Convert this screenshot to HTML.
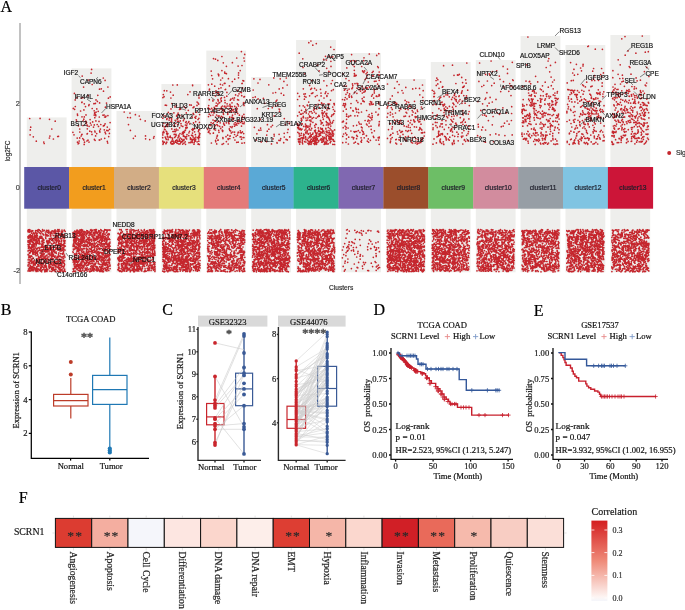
<!DOCTYPE html>
<html><head><meta charset="utf-8"><title>SCRN1 figure</title>
<style>html,body{margin:0;padding:0;background:#fff;}svg{display:block;}</style></head>
<body><svg width="685" height="610" viewBox="0 0 685 610">
<rect width="685" height="610" fill="#fff"/>
<rect x="26.8" y="117.4" width="39.8" height="154.9" fill="#eeeeec"/>
<rect x="71.6" y="68.4" width="39.8" height="203.9" fill="#eeeeec"/>
<rect x="116.5" y="111" width="39.8" height="161.3" fill="#eeeeec"/>
<rect x="161.4" y="84" width="39.8" height="188.3" fill="#eeeeec"/>
<rect x="206.3" y="50.6" width="39.8" height="221.7" fill="#eeeeec"/>
<rect x="251.2" y="77" width="39.8" height="195.3" fill="#eeeeec"/>
<rect x="296.1" y="40" width="39.8" height="232.3" fill="#eeeeec"/>
<rect x="341.1" y="53" width="39.8" height="219.3" fill="#eeeeec"/>
<rect x="385.9" y="79" width="39.8" height="193.3" fill="#eeeeec"/>
<rect x="430.8" y="62" width="39.8" height="210.3" fill="#eeeeec"/>
<rect x="475.8" y="60" width="39.8" height="212.3" fill="#eeeeec"/>
<rect x="520.6" y="36" width="39.8" height="236.3" fill="#eeeeec"/>
<rect x="565.5" y="45" width="39.8" height="227.3" fill="#eeeeec"/>
<rect x="610.4" y="35" width="39.8" height="237.3" fill="#eeeeec"/>
<path d="M40.1 118.4h0M30.7 127.2h0M30.1 134.8h0M44.2 143.5h0M43.8 142.1h0M36.3 141.2h0M49.5 119.3h0M29.7 118.5h0M33.3 136.8h0M58.5 136.3h0M51.8 129h0M30.3 129.9h0M53.4 139h0M49.9 136.1h0M57.7 136.5h0M49.4 138h0M55.2 121.2h0M64.6 241.7h0M43.6 234.5h0M33.6 261.5h0M29.4 250.2h0M56.5 257.8h0M60.7 253.7h0M54 242.8h0M49.6 254.6h0M59.4 248.8h0M45.7 269.5h0M30.2 257.6h0M52.2 259.2h0M58.7 271.5h0M42.4 241.5h0M28.8 257.8h0M34.2 249h0M30.2 234.5h0M32.8 262h0M42.6 240h0M31 266.4h0M48.5 248.5h0M58.6 266.9h0M38.4 266h0M41.4 247.1h0M63.8 266.9h0M34.5 235.9h0M36.7 239.3h0M50 250h0M28.1 240.6h0M41.8 247.2h0M63.6 253.5h0M47.2 258.7h0M53.2 255.6h0M61.6 231.8h0M60.7 262.5h0M42.6 263.3h0M31.8 246.4h0M30.3 256.3h0M35.8 232.3h0M40.7 236.4h0M28 231.7h0M31.7 235.9h0M28.9 244.9h0M50.9 266.5h0M37.4 235.8h0M41.6 244.2h0M59.7 234.7h0M45.4 271.5h0M31.2 250h0M40.8 233.8h0M58.9 240.7h0M28.8 236.3h0M47.7 269.7h0M48.3 235.7h0M47.7 230.6h0M60.2 270.9h0M37.7 258.9h0M34.2 245h0M47.9 262.2h0M40.3 262.5h0M58.3 238.9h0M59.8 271.2h0M58.6 263.6h0M36.4 260.8h0M41.2 251.4h0M29 230.7h0M37.6 241.3h0M63.7 258.8h0M63 248.4h0M63.7 271.3h0M36.2 244.9h0M35.3 239.1h0M51.3 238.1h0M59.4 267.6h0M52.4 249.8h0M31.1 263.3h0M62 257.4h0M56 262.6h0M34.6 249.7h0M40.4 262.9h0M64.3 263.4h0M43 246.2h0M55.1 269.5h0M32.7 236.7h0M61.8 235.9h0M33.4 263.6h0M64.6 264.5h0M41.1 257.3h0M32.8 252.7h0M64.3 230.1h0M47.6 257h0M44.2 269h0M58.8 266.4h0M37.4 238.4h0M36.9 241.9h0M37.7 254.3h0M32.9 247.2h0M41.2 268h0M49.8 248.9h0M43.7 267.8h0M46.7 268.3h0M47.5 252h0M44.4 230.3h0M28.1 237.2h0M34.4 263.3h0M55.1 249.5h0M40.1 253h0M48.7 251.4h0M31.9 262.7h0M37.2 253.2h0M56.8 241.2h0M49 251h0M62.1 261.6h0M50.9 248.2h0M47.1 250.9h0M44.9 258.8h0M45.8 252.1h0M54.1 269.3h0M63.2 266.6h0M48.9 240.5h0M59.4 269.4h0M32.5 235.3h0M30.7 248.2h0M30.7 239.7h0M57.3 257.8h0M33.7 267.4h0M52.6 259.8h0M61 235.5h0M36.2 270.4h0M42.8 269.8h0M65 250.1h0M34 264.7h0M47.2 247.8h0M35.3 243.8h0M55 243h0M48.7 230.3h0M28.6 248.1h0M51.3 243.5h0M30.4 251.2h0M57.4 271.2h0M31.9 270.6h0M29.4 240.7h0M38.1 262.5h0M43.7 235h0M58.6 268.1h0M33.5 240.4h0M49.3 268.4h0M31.3 259.1h0M53.7 231.9h0M30.7 247.5h0M51.7 269.2h0M31.1 263.4h0M30.4 265.7h0M44.9 266h0M48.6 243.8h0M38 268.7h0M47.7 235h0M32 239.6h0M29.8 236.3h0M39.6 238h0M56.4 242.4h0M46.7 241.8h0M40.9 237h0M37.3 230.3h0M55.4 230.1h0M35 252.8h0M62.9 249.6h0M58.6 234h0M46.5 247.8h0M42.7 264.8h0M53.7 250.9h0M40.8 271.1h0M54.4 264.7h0M43.1 256.4h0M30 244.2h0M30.6 235h0M37.5 260.8h0M31.1 236.4h0M60.5 265.1h0M38.5 257.9h0M38.9 239.7h0M33.8 248.9h0M37.8 248.4h0M64.3 270.2h0M37.1 252.6h0M39.5 270.3h0M28 244.6h0M45.7 245.6h0M35.5 250.8h0M28.1 250.9h0M31.3 240.7h0M29.5 246.4h0M39.3 230.5h0M49.9 239.3h0M56 251.9h0M54.7 257.3h0M42.5 266.7h0M64.8 243.3h0M55 235.8h0M29.6 256.7h0M61.3 264.8h0M55.4 256h0M33.2 263.9h0M46.8 251.7h0M58 264.8h0M49.8 264.5h0M53.5 267.3h0M36.5 258.8h0M32.9 230.8h0M31.9 244.8h0M48.8 264.9h0M51.4 256.1h0M46.2 258.3h0M57.8 229.6h0M46.8 261.2h0M52.6 252.1h0M55.5 232.3h0M30.7 240.2h0M55.2 240.7h0M55.6 238.2h0M46.4 270.8h0M45.9 245.7h0M56.6 258.4h0M52 255.6h0M33.5 232.8h0M55.7 240.2h0M49.2 242.4h0M30.2 230h0M53.1 240.9h0M53.2 258.8h0M47.3 241.8h0M45.4 249.2h0M61.4 234.5h0M64.5 237.9h0M28.6 269.1h0M58.6 248.9h0M44.8 270.5h0M35.8 240.9h0M35.8 269.5h0M33.3 254.1h0M63.6 251.7h0M58.6 235.1h0M61.1 251h0M36.6 259.3h0M46.1 267.5h0M28.1 230.6h0M44.8 250.3h0M33.2 242.3h0M39.8 244h0M28 265h0M59.3 261.3h0M62.6 234.6h0M61.7 259.7h0M41.9 241.8h0M65.3 246.1h0M41.4 254.4h0M38.2 247.6h0M31.8 231.5h0M38.6 264.8h0M37.3 269.1h0M47.1 240.7h0M41.9 237.5h0M61 269.9h0M51.5 263.8h0M63.1 268.1h0M54.9 252.7h0M55.3 231.6h0M56.1 248.6h0M38.7 256.8h0M62.6 231.6h0M45.6 234.9h0M39.1 244h0M64.5 260.8h0M52.5 240.5h0M48.8 242.2h0M34.2 246.2h0M35.7 236.3h0M46.5 267.8h0M61.8 238.8h0M44.8 271.7h0M35.1 235.4h0M40.7 233.3h0M36.9 233.4h0M49.3 240.4h0M56 267h0M43.4 247h0M42 251.7h0M30.3 243.8h0M64.1 241.2h0M46.8 234.8h0M60.2 256.1h0M38.1 238.6h0M42.9 240h0M63.6 248.4h0M60.6 265.4h0M29.2 230.4h0M61.4 259.5h0M49.9 249.5h0M42.6 229.5h0M58.8 268.7h0M64.3 265.7h0M32 240h0M47.5 236h0M63.2 258.4h0M52.2 260h0M45.1 261.9h0M29.4 252.8h0M36.6 262.6h0M52.1 268.4h0M32.7 242.3h0M51.7 240.2h0M32.1 259.1h0M47.6 232.5h0M42.5 254.2h0M50.4 239h0M39.2 229.9h0M63.8 249h0M61 256.8h0M36.7 249.6h0M63.9 240h0M39.4 259.3h0M46.6 230.4h0M43.7 258h0M52.9 240.4h0M36.4 268.6h0M40.6 230.9h0M53.5 247.3h0M57.8 237.9h0M46.8 260.8h0M64.2 238.2h0M58.6 242.7h0M36.2 239.3h0M39 261.7h0M46.5 269.8h0M36.3 237.4h0M52.8 247.1h0M33.4 269.6h0M35.9 246.1h0M33.3 270.7h0M30.2 231.7h0M61.5 246.1h0M55.4 266.9h0M62.8 271.7h0M34.9 243.4h0M55.9 269.1h0M52.8 230.8h0M41.9 245.5h0M34.3 243.5h0M38.4 229.6h0M63.7 244.4h0M64 234.7h0M41.3 238.3h0M58.7 264.3h0M29.8 247.8h0M41.9 249.5h0M35.2 268.4h0M61.5 244.9h0M43.3 230.8h0M56.6 263.8h0M29.3 231.2h0M62.4 232.1h0M55.9 240.4h0M40.6 267.5h0M63.8 241h0M37.8 255.6h0M39.8 259.8h0M28.1 241.2h0M62.2 261.5h0M63.2 256.3h0M36.7 230.5h0M63.7 249.6h0M42.4 269.9h0M44 240.1h0M62.7 250.4h0M58 237.2h0M58.7 260.7h0M50.7 262.2h0M39.9 243.4h0M57.2 244.8h0M35.3 232.8h0M37.2 261.3h0M29.2 232.2h0M40.1 252.9h0M61 271h0M37.9 271.3h0M31.6 233.1h0M54.5 250.6h0M36.7 248.4h0M51.1 247.1h0M55.9 258h0M52.8 265.3h0M59.4 234.6h0M49.2 241.9h0M55.6 245.3h0M37.2 237.9h0M33.7 239.9h0M49.6 266.9h0M42.8 243.3h0M46.9 271.5h0M58.2 239.3h0M65 257.1h0M45.7 233.8h0M59.4 264.1h0M29.5 268.2h0M32.4 241.9h0M64.3 237.5h0M62.7 254.2h0M60.3 245.2h0M37.7 248.5h0M63.3 262.4h0M50.2 234h0M36.1 255.7h0M33.2 245.1h0M37.5 238.1h0M52.3 254.9h0M28.4 238.1h0M53.3 243.3h0M39.6 237.3h0M57.7 238.1h0M30.3 252.7h0M42.7 233.8h0M51.9 252.8h0M34.1 233.4h0M43.3 258.9h0M39.5 241.5h0M39.6 269.8h0M41.3 253.5h0M60.3 247.1h0M41.6 271.7h0M55.2 237.8h0M28.2 238.1h0M43.8 267.6h0M43.1 264.2h0M45.2 266.8h0M28.5 236.4h0M51.9 252.8h0M31.3 268h0M41.8 255.8h0M33.4 250.8h0M47.4 241.5h0M32 268.6h0M58.1 250.2h0M35.3 270.4h0M63.2 234.9h0M46 270.8h0M62.6 231.8h0M61.8 245.9h0M58.8 255.7h0M57.3 236.3h0M43.1 238.9h0M59 265.3h0M36.1 237.2h0M47.3 246.4h0M32.6 245.7h0M55.1 240h0M29.5 267.5h0M56.3 253.3h0M59.3 231.1h0M50.4 234.5h0M51.4 252.8h0M43.7 242.5h0M43.9 254.1h0M44.7 257.4h0M28.8 248h0M46.3 255.7h0M56.5 239.5h0M45.1 262.5h0M45.6 237.1h0M32.8 234h0M31.4 247.7h0M47 248.2h0M51.8 231.2h0M55.4 233h0M47.1 262.4h0M46.8 231.8h0M63.5 245.5h0M60 235.3h0M55.3 271.6h0M35.2 264h0M46.3 271h0M62.2 270h0M57.4 236.5h0M30.4 268.9h0M56.2 244.3h0M61.5 236.2h0M58.5 241.1h0M46.7 235.6h0M35.7 268.4h0M46.9 240.6h0M29.3 243h0M34 237.2h0M53.4 269.1h0M34.3 267.4h0M32.3 262.7h0M51.7 251.9h0M60.6 244.7h0M49.6 253h0M31.9 266.8h0M51.5 271.5h0M57.8 246.2h0M65 240.7h0M41.4 253.9h0M44.5 261.8h0M55.8 237h0M58.6 231.5h0M51.9 240.2h0M49.9 271.1h0M39.6 257.6h0M29.2 229.6h0M51 235.8h0M47.1 247.8h0M32.9 267.4h0M52.4 239.1h0M28 230.4h0M31.9 244.5h0M36.3 244.6h0M50 254.2h0M51.3 238.1h0M33 249.6h0M37.1 269.1h0M31.5 235.8h0M60.5 256.5h0M43 262.6h0M28.4 240.7h0M49 256.8h0M52.1 244.3h0M63 248.3h0M37.2 260.5h0M29.6 267.7h0M43.1 252h0M30.1 239.6h0M28.4 262.4h0M63.1 252.8h0M35.4 235.5h0M46.9 255.2h0M58.4 256.6h0M39.5 236.9h0M29.8 242.2h0M57.2 267.1h0M28.2 259.8h0M55.8 265.2h0M55.7 249.2h0M36.4 248.6h0M36.6 234h0M40.5 231.1h0M53.9 261.2h0M54.6 265.3h0M48.7 240.8h0M57.4 247.9h0M37.9 251.6h0M64 256.7h0M60.9 238.7h0M37.7 230.1h0M55.8 239.5h0M55.9 269.5h0M60.9 243.3h0M36.9 243.4h0M51.5 267.9h0M52.8 258.8h0M45.5 270.9h0M54 265h0M44.3 265.8h0M49.3 260.2h0M35.9 242.5h0M30.9 255.8h0M33.4 268h0M31.9 230.6h0M40.8 268.8h0M29 235.5h0M53.9 231.3h0M54 256.3h0M30.4 260.7h0M41.5 254.5h0M58.6 264.1h0M30.4 267.2h0M62.1 266.2h0M32 269.4h0M32.1 238.2h0M59.7 231h0M51.7 263.8h0M51.6 264.4h0M31.7 241.7h0M56.3 233.6h0M39.9 238.2h0M28.7 247.4h0M38.5 240.4h0M41.7 259.8h0M64 243.1h0M59.8 250.8h0M29.1 255.7h0M44.3 247h0M40.9 262.2h0M48.1 259.3h0M60.2 238.7h0M58.6 233.3h0M28 236.7h0M56.5 238h0M28.1 270.9h0M46.3 250.3h0M34.9 263.2h0M40.9 250.4h0M37.7 264.7h0M38.6 269.4h0M54.1 238.6h0M32.1 250.6h0M31 256.4h0M54 262.8h0M51.4 262.8h0M43 244.5h0M61.3 246.2h0M61.2 233.1h0M35.7 230.6h0M61.7 240.6h0M42.1 250.7h0M36.7 266.9h0M47.8 249h0M56.1 261.4h0M41 256.8h0M33.8 243.3h0M52.7 265.2h0M34.3 260.9h0M56.9 248.1h0M32.7 254h0M61.1 249h0M35.1 239.6h0M54.2 242.3h0M33.7 265.2h0M37.2 236.1h0M47.5 243.3h0M40.2 236.3h0M64.4 237.5h0M31.8 260.3h0M31.8 270.2h0M64.7 245.8h0M55.4 263.1h0M35.3 247.9h0M31.9 256.5h0M42.5 238.2h0M42.9 230.9h0M53.9 263h0M51.6 250.7h0M33.3 249.1h0M43.1 255h0M61.9 260.8h0M49.4 247.7h0M43.7 261.2h0M55 239.2h0M56.9 266.7h0M59.8 259.1h0M51.9 258.2h0M39.7 248.7h0M31.6 256.1h0M57.2 247.2h0M51.5 259.7h0M43.8 240.1h0M51.2 248.8h0M53.2 246.8h0M34.8 268.8h0M57.1 257.2h0M46.3 245.9h0M29.4 270.7h0M34 252.5h0M63.1 262.6h0M31.7 251.5h0M48.2 253.8h0M47.1 259.8h0M59 256.5h0M43.3 251.6h0M35.8 269.6h0M42.6 258.4h0M32.5 261.8h0M41.2 271.1h0M38.2 231.9h0M28.4 246.4h0M43.7 247.2h0M41.1 259h0M36.3 240.7h0M63.1 260.9h0M36.1 251.8h0M42.6 263.4h0M32.8 238.5h0M58.2 262.4h0M45.5 256.3h0M36.4 253.3h0M41.2 270.3h0M58.6 256.5h0M45.5 264h0M48.5 242h0M59.1 234.8h0M59.8 244.5h0M42 240.8h0M43.9 240.2h0M28.1 237.4h0M38.5 260h0M39.2 239.9h0M44 249.8h0M52.6 256.5h0M62.7 244.8h0M30.1 265.6h0M61.8 264.5h0M33.2 262.7h0M51.6 264.7h0M28.4 230.1h0M52.5 269.8h0M31.7 240.1h0M36.7 235.5h0M40.9 262.3h0M61.8 236h0M34.2 263h0M50.7 267.2h0M53 262.5h0M57.4 267.3h0M35.3 265h0M47.8 258.8h0M44.4 260.9h0M48.7 266.8h0M36.7 240.7h0M46.4 235.4h0M45.4 232h0M46.3 235.6h0M48.1 250.6h0M28.2 266h0M45.5 265.1h0M52.8 253.3h0M42 265.1h0M63.9 247.2h0M51.8 232.7h0M29 256.4h0M53.5 255.3h0M40.3 268.9h0M47 271h0M61.5 250h0M54.8 230.9h0M40.6 255.9h0M41.6 265.9h0M47.6 249.6h0M35.8 262.1h0M43.7 247.9h0M58.9 252.9h0M58.9 241.9h0M46.8 246.6h0M46.9 241h0M52.4 270.7h0M40.3 263h0M39.1 242.9h0M51.7 254.3h0M29.4 262.7h0M61.1 260.1h0M29.8 252.6h0M28.2 242.2h0M62.4 237.5h0M52.6 255.2h0M62 262.9h0M51 255.4h0M54 256h0M53.4 254.7h0M52.9 238.5h0M56.5 248.9h0M34.7 233.8h0M56.9 231.1h0M52.5 268.2h0M58.7 245.1h0M49 262.8h0M39.2 240.4h0M39.9 247.3h0M52 247.7h0M30 269h0M29.4 253.5h0M58.3 234.5h0M62.3 253.8h0M28.5 248.4h0M50.1 245.9h0M64.6 269.2h0M43.4 249.6h0M52.1 233.8h0M33.6 238.5h0M28.1 230.2h0M32.5 258.4h0M31.2 270.4h0M32.8 266.3h0M54.9 230.3h0M55.4 239.7h0M29.8 237.4h0M54.6 262.2h0M55.2 265.7h0M51.5 233.1h0M45.2 259.5h0M37.5 268.9h0M54.8 270.3h0M28.5 230h0M58.5 257h0M39.6 232.9h0M34.2 260.4h0M46.1 265.9h0M41.7 232h0M44.4 253.8h0M33.4 258.1h0M41.5 263.2h0M51.5 256.8h0M42.4 247.2h0M63.3 262.8h0M49.1 262.7h0M30.2 241.9h0M54.3 270.7h0M40.4 264.5h0M64.5 255.1h0M50.4 264.7h0M44 242.6h0M42 267.1h0M50.5 258.5h0M58.1 267.4h0M28 241.5h0M43.8 240.6h0M58.5 254.3h0M29.5 267h0M58.3 264.7h0M49.3 266.2h0M59.8 241.1h0M53.6 263.6h0M40.9 268.2h0M48.7 233.1h0M35.4 263.2h0M62.8 261.2h0M50.6 239.4h0M45.4 258.2h0M37.5 238.2h0M57.6 261.3h0M31.2 248.9h0M56.8 263.6h0M49.6 239.4h0M61.1 267.4h0M45.8 251.6h0M35 254.4h0M34.7 237.6h0M41.5 259.2h0M43 253.4h0M33.5 251.4h0M65.2 231.4h0M31.9 245.3h0M57.4 256.3h0M50.3 236.1h0M47.4 244.1h0M29.2 230.4h0M60.3 271.4h0M49.2 250.1h0M57.1 240.6h0M63.3 247.5h0M58.6 262h0M37.4 270.3h0M35.5 231.1h0M31.1 237.1h0M48.8 231.7h0M45.1 266.3h0M62 269.6h0M50.3 232.2h0M32.4 246.3h0M37.6 270.1h0M51.9 253.4h0M53 270h0M44.7 246.1h0M64.1 236.3h0M36.2 271.4h0M37.5 231.1h0M61.7 244.4h0M59.3 267.8h0M57.4 231.5h0M52.1 259.5h0M30 271.2h0M56.2 235.6h0M53.3 269.2h0M50.1 242.1h0M31.9 261.6h0M37.6 243.2h0M46 234.8h0M36.9 236.6h0M53.3 235.6h0M54.8 230h0M29.3 237.8h0M36.2 268.7h0M60.4 269h0M33.2 267.1h0M31.6 248.4h0M59.5 268.8h0M44.9 256.1h0M58.7 243.9h0M51.4 249.7h0M36.2 235.5h0M54.6 231.9h0M33.4 252.9h0M37.9 266.3h0M33.8 246.9h0M59.3 241h0M34.2 243.6h0M39.8 250.3h0M32.2 267.7h0M30.1 270.9h0M52.9 267.4h0M45.8 238.4h0M37.6 241.6h0M41.6 238h0M65.3 271.4h0M31.6 268.6h0M61.5 241.7h0M55.1 231.9h0M64.6 241.9h0M58.1 230.2h0M33.2 243.9h0M59.1 229.6h0M34.9 251.8h0M62.1 247.9h0M49.3 238.7h0M34.7 235.3h0M54.6 262.1h0M30.9 237.8h0M50.7 233.2h0M38.2 250.5h0M50.9 238.2h0M58.3 259.4h0M35.5 254.2h0M55.4 232.3h0M54.9 246.8h0M58.3 231.8h0M59.4 243.7h0M46.4 266.1h0M62 230.2h0M60.6 249.7h0M34.9 240.8h0M41.7 264.7h0M41.8 236.4h0M28.1 254.7h0M44.6 251.5h0M32.5 251.3h0M58.5 259.7h0M40 266.1h0M42.2 259.6h0M30.2 261.3h0M63.6 266.4h0M47.1 250.4h0M48 251.9h0M64.1 230.4h0M34.8 239h0M37.3 233.8h0M29.1 264.1h0M54.1 233.6h0M28.6 237.8h0M49.5 254.9h0M54.2 251.6h0M60.5 233.9h0M29.6 259.8h0M46.4 234.7h0M91.6 69.4h0M88 140.2h0M105.1 123.8h0M100.8 124.5h0M107.9 115.6h0M104.3 129.8h0M108.1 130.7h0M81.8 102.5h0M109.5 129.3h0M103.3 78h0M92.2 108.5h0M82.2 76.1h0M86.5 122.4h0M89 142.1h0M78.1 143.8h0M107.9 87h0M105.9 116.2h0M96.8 108.9h0M83.1 120.8h0M96.1 112.1h0M89.1 126.3h0M84.3 103.8h0M95.1 140.3h0M82.9 97.7h0M78.4 125.8h0M83.8 139.9h0M82 134.4h0M104.3 125.4h0M97.2 124.5h0M90.1 119.6h0M90.4 123.1h0M81.1 136h0M94.8 131.1h0M105.1 132.2h0M91.2 125h0M83.9 109.9h0M75.3 106.5h0M75.2 99.9h0M100.4 129.1h0M108.7 136.6h0M85.5 106.6h0M95.9 120.9h0M92.2 84.5h0M101.3 88.8h0M99.3 117h0M105.4 107.2h0M94.8 117.7h0M94.2 110.8h0M105.5 117.1h0M89.8 131.2h0M83.8 119.2h0M87.2 125.1h0M104.6 117h0M79.7 129h0M94.4 139.4h0M107.3 141.4h0M104.2 115h0M88.8 105.6h0M74.6 109.3h0M107.3 127.1h0M110.2 96.9h0M98.5 126.4h0M95.1 132h0M98.2 111.3h0M86.9 141h0M94.3 124.9h0M91.1 73.1h0M110.1 122.6h0M103.4 125.9h0M109.4 133.4h0M77 97.7h0M103.5 91.2h0M88.6 80h0M92 134.4h0M79.7 137.9h0M86.1 123.4h0M74.4 93.4h0M84.3 116.9h0M84.2 144.4h0M97.8 95.3h0M93.5 127.1h0M92.7 121.9h0M88.2 95.7h0M101.3 139h0M79.2 141h0M95.8 115.7h0M73.3 108.4h0M99.6 102.9h0M82.8 138.6h0M94.6 112.9h0M87.3 128.8h0M94.6 113.3h0M96 99.9h0M107.7 143h0M106.5 103.1h0M95.4 103.4h0M108.4 98.2h0M99.7 130.9h0M105.6 133.7h0M82 116.8h0M79.8 132h0M93.9 103.7h0M87.3 125.8h0M77.5 142.2h0M82 102.2h0M81.7 134.6h0M85.6 121.3h0M76.3 119.8h0M77.6 115.3h0M103 115.2h0M99.9 132.1h0M80.6 111h0M81.4 98h0M99.3 139.9h0M94.8 113h0M95.6 135.9h0M77.4 114h0M83 125.5h0M97.4 101.4h0M87.4 133.6h0M104.7 138.3h0M76.9 121.3h0M91.6 131.8h0M84.5 142.2h0M99.7 140.1h0M106.8 130.4h0M105.1 80.4h0M74 134.8h0M86 121.3h0M99 121.4h0M86 114.9h0M77.2 138.1h0M99.5 89.2h0M78.9 143.1h0M87.1 133.9h0M96.7 133.6h0M94.2 115.1h0M89.1 104.5h0M72.9 132.3h0M83.6 87.1h0M95.6 114.6h0M82 231.5h0M102.4 234.2h0M107.1 238.4h0M76.1 261.2h0M87.6 258.9h0M103.8 261.1h0M76.2 241.4h0M88.7 269.5h0M98.7 268.8h0M103.9 260.7h0M89.8 256.1h0M99 231.8h0M92 247.6h0M77.6 268.8h0M74.5 261.7h0M103 259.2h0M93.3 240.5h0M96.7 270.5h0M82.2 252.5h0M86.2 232h0M80.4 246.9h0M78 242.6h0M97.9 259.4h0M81.9 239.6h0M89.5 251.3h0M86 269.1h0M105.9 242.2h0M93.9 235.5h0M103.3 243.6h0M101.3 252.7h0M97.8 236.7h0M90.1 254.8h0M103.9 261.9h0M83.7 234.3h0M80.6 244.7h0M83.4 232.1h0M99.1 237.8h0M77.1 248.5h0M90.4 243.2h0M79.1 244.9h0M73.3 232.5h0M100.9 271.5h0M99.7 233.1h0M93.9 271h0M91.1 234.1h0M79.9 247.9h0M73.2 252.5h0M97 268.4h0M107.8 256.1h0M82.3 257.1h0M78 239.9h0M101.8 230.7h0M83.9 265h0M96.7 237.4h0M107.5 265.3h0M102.2 236.6h0M100.6 264.6h0M79.8 243.3h0M84.8 264.4h0M93.5 245.1h0M103.9 245.1h0M74.4 239.6h0M96.3 253.5h0M99.2 264.2h0M108.2 267.8h0M91.5 250.4h0M84.1 236.2h0M75.9 254.1h0M79 258.6h0M109.1 248.2h0M74.3 233.3h0M80 248.1h0M73 260.1h0M104.8 265.1h0M88.8 262.8h0M97.6 241.5h0M88.6 251.3h0M89.3 243.8h0M103.7 257.7h0M79 267.7h0M89.4 242h0M85.9 253.3h0M76 237.8h0M90.1 243.2h0M106.8 270.6h0M109.3 266.1h0M96 270.2h0M75.1 263.8h0M95.6 258.1h0M94.2 242.1h0M90.8 269.8h0M84 256.9h0M106 244h0M79.9 230.7h0M89.6 258.2h0M97.6 233.1h0M94.6 245.2h0M92.7 247.1h0M87.7 253.4h0M79.6 234.3h0M93.3 267.1h0M105.1 234.2h0M76.4 240.2h0M82.3 252h0M93.6 250.2h0M94.3 239.1h0M92 234.3h0M75.9 254.4h0M75.6 246.8h0M105.1 248.1h0M99.6 252.8h0M77.1 261.5h0M99.8 271.4h0M103.9 233.8h0M79.3 246.1h0M93.9 270.1h0M78 262.3h0M75 262.3h0M86.8 239.5h0M95.1 230.1h0M84.1 238.5h0M88.8 259.4h0M96.1 267.1h0M93.9 266.4h0M105.4 268.3h0M100.7 236.6h0M101.4 243.9h0M103.7 258.3h0M86.8 234.7h0M108.3 260.7h0M74.5 260h0M76.6 255h0M102.9 252.7h0M107.5 234.3h0M82.4 258.1h0M89.6 237.7h0M94.6 265h0M73.6 234.3h0M102.8 234.2h0M93.6 237.3h0M98.5 241.8h0M78.2 245.6h0M93 266.5h0M103.1 258.7h0M73.4 269.6h0M78.5 244h0M105.5 250.7h0M74.2 263.4h0M103.5 237.2h0M87.5 258.2h0M78.8 249.6h0M87.6 265.2h0M95.7 266.4h0M85.2 232.7h0M106.3 238.7h0M74.5 254.4h0M86.4 236.7h0M94.4 249.3h0M86.1 245.9h0M94.5 229.8h0M73.6 243.6h0M109.7 248.9h0M78.3 231.4h0M83 257.9h0M91.6 241.1h0M94.1 240.6h0M108.6 251.8h0M74.1 271.5h0M101.7 253.2h0M101.8 266.4h0M96.6 256.3h0M83.4 244.9h0M105.5 263.1h0M98.3 269.2h0M101.4 242.4h0M91.9 260.8h0M86 256.4h0M88 252.8h0M85.5 232.1h0M109.8 243.2h0M86.6 249.9h0M81.6 239.8h0M77.9 244.3h0M105.4 229.8h0M89.5 248.7h0M84.2 253.6h0M75.3 236.6h0M84.4 242.3h0M93.5 260.2h0M85.6 269.2h0M94.7 268.5h0M79.5 232.9h0M109.8 254.1h0M101.8 244.6h0M105.3 247.6h0M91 232.4h0M83.2 267.5h0M73.7 240.4h0M82.9 236.5h0M81 259.3h0M80.3 246.4h0M105.2 255h0M80.2 256.9h0M108.9 260.5h0M75.8 254.9h0M105.6 263.7h0M78 243.9h0M92.9 237.5h0M96.8 266.5h0M80.8 268.5h0M100.9 243.3h0M88 256.9h0M85.5 258.2h0M88.3 231.9h0M96.3 231.4h0M91.3 243.7h0M82.5 254.8h0M73.4 249.1h0M93.9 268.6h0M74.9 271.3h0M99.9 255.5h0M76.3 243.4h0M78.2 236.1h0M76.2 262h0M88.7 263.9h0M94.9 252.3h0M97.4 253h0M85.2 254.9h0M82.5 260.8h0M101.4 259.6h0M84.4 262.3h0M109.4 262.2h0M83.3 248.7h0M108 251.6h0M73.2 235.1h0M97.4 249.6h0M86.4 262.2h0M81.4 271.4h0M76.2 261.5h0M77.9 230.7h0M91.6 232h0M79.7 253h0M86.5 269.3h0M79.5 235.8h0M107.3 260.7h0M73.9 236.4h0M81.9 262.4h0M91.5 271.1h0M85.7 256.4h0M90.1 263.4h0M106.6 243.2h0M100.3 234.1h0M97 232.3h0M105.2 246.5h0M94 232h0M107.2 246.8h0M96.3 269.5h0M82.3 239h0M89.1 240.6h0M80.4 239.3h0M96.9 261.6h0M110 242.1h0M94.2 238.7h0M105.1 236.1h0M82.8 266.3h0M103.6 261.3h0M85.2 241.5h0M106.2 250h0M98.4 236.3h0M89.8 254.8h0M105.9 254h0M105.9 238.4h0M102 244.7h0M79.7 266h0M110.1 266h0M73.8 242.1h0M109.3 234.2h0M106.9 229.9h0M100.4 235.9h0M79.2 233.6h0M76.2 258.4h0M107.2 243.9h0M105.8 259.8h0M74.1 270.9h0M102.5 239.4h0M74.3 258.7h0M81.5 250.9h0M76.8 247.7h0M109.9 230.3h0M105.7 242.9h0M91.1 234.6h0M88.9 235.2h0M98.5 237.1h0M100.5 235.8h0M77.1 250.7h0M91.4 244.5h0M85.9 268.4h0M109 238.6h0M100.2 266.9h0M79.5 241h0M75.4 240.7h0M91.9 231.3h0M93.7 246.8h0M73.2 244.8h0M97.3 258.6h0M93.4 252.5h0M109.6 258.7h0M99.7 266.5h0M84.8 246.4h0M109.2 247.2h0M87.3 245.9h0M78.2 246.8h0M73 271.7h0M107.5 255.2h0M95.7 240.3h0M81.9 245.4h0M77.2 237.9h0M102.2 265.2h0M74.7 267.9h0M85 258.9h0M93.4 256.8h0M109.2 242.9h0M100.8 229.5h0M91.9 265.6h0M110.1 254.6h0M96.4 239.4h0M87 260.9h0M87.6 259.6h0M95.8 251.8h0M84.9 258.1h0M93.2 256.1h0M95.8 238.9h0M106.8 240.7h0M99.8 249.5h0M90.7 251.6h0M78.2 238.9h0M92.6 268.7h0M92.6 251.7h0M81.8 263.9h0M103.6 236.8h0M96.8 249h0M106.3 264.5h0M74.5 266.2h0M104 245.6h0M77.5 264.1h0M82.3 236h0M86.2 233.8h0M92.3 263.5h0M76.1 248.7h0M110.1 246.2h0M89.7 258.9h0M102.7 249.7h0M78.5 261.6h0M86.6 258.3h0M81.7 251.5h0M85.6 245.2h0M73.5 245.6h0M94.2 238h0M79.5 231.9h0M83.1 259.9h0M81.9 243.2h0M76.3 264.8h0M105 256.4h0M88.7 238h0M96 263h0M74.5 245.2h0M86.6 248.2h0M83.9 259.6h0M97.1 246.8h0M86 263.8h0M94.5 245.8h0M80 268.6h0M99.5 270.6h0M97.7 245.3h0M75.5 243.4h0M87 261.5h0M91.4 251.7h0M101.2 267.6h0M95 230.6h0M90.1 249.1h0M88.4 265h0M106.1 249.5h0M91.2 248.1h0M103.7 251.1h0M100.5 257.9h0M74.4 246.5h0M93.6 258.3h0M101.6 262h0M81.1 234.5h0M103.4 232.8h0M76.2 233.8h0M94 261.4h0M98.3 231.8h0M90.9 259.6h0M98.7 231.8h0M94.7 247.2h0M103.4 271.7h0M78.3 266.4h0M92.2 243.6h0M109.8 229.8h0M82.7 241.1h0M82.4 242.7h0M93.6 265.8h0M88.6 251.1h0M84.2 231.7h0M102.8 266.2h0M82.5 265.7h0M74.8 238h0M86.8 252.2h0M91.1 249.1h0M86.5 254.2h0M80.3 263.4h0M93.6 268.4h0M84.6 231.7h0M88.1 252h0M85 253.4h0M102.6 241.1h0M99.4 241.8h0M95 263.4h0M107.8 248.7h0M105.7 248.3h0M89.1 231.9h0M74.7 256.5h0M75.5 266h0M79.6 254.7h0M93.8 268.5h0M91.5 263.4h0M98.1 258h0M80.7 242h0M78.3 265h0M80.6 268.3h0M76.4 233.8h0M108.4 262.7h0M97.5 247h0M106.7 240.4h0M78.6 258.5h0M98.9 231.9h0M104.1 231.3h0M81.6 241.9h0M84.8 254.1h0M78.6 253.2h0M85 268.1h0M78.5 265.1h0M109.5 263.3h0M74.1 246.1h0M96.8 245.6h0M93.3 238.9h0M90.2 233.5h0M88.9 260.3h0M77.1 258.2h0M77.4 264.5h0M110.1 268.6h0M92.5 269.2h0M85.9 241.8h0M91.4 261.2h0M76.3 268.8h0M105.2 250h0M93.1 254.8h0M78.1 233.2h0M106.3 241h0M81.3 265.3h0M74.1 268.6h0M109 254.8h0M108.2 244.1h0M74.7 257.3h0M89.7 243.6h0M100.6 240h0M102.3 237.1h0M75.4 242.1h0M76.4 253.2h0M102.3 252.8h0M90.1 254.7h0M92 230.9h0M97 233.6h0M94.5 235.1h0M86.9 244.4h0M79 257.6h0M108.1 236.7h0M104.4 243.5h0M90.8 266.4h0M76.4 235.8h0M77.2 266.7h0M92.9 250.5h0M90.3 234.5h0M92.9 236.4h0M86.6 250.9h0M87.9 237.9h0M77.6 238.1h0M105.4 239.6h0M106.2 250.7h0M108.1 230.1h0M102.4 250.2h0M98.6 253.6h0M100.9 239.2h0M82.7 236h0M87.6 230.8h0M83.8 251.4h0M76 267.2h0M81.6 254h0M102.2 254.7h0M75.2 259.6h0M95.3 239.9h0M74.4 271.1h0M98.7 255.7h0M85.6 264h0M90.1 263.8h0M73.3 268.5h0M88.3 269.3h0M76.1 246.7h0M100.3 239.9h0M78.5 258.2h0M78.1 244.1h0M81.1 237.9h0M109.4 243.5h0M102.5 271.7h0M91.5 249.8h0M106.8 262.5h0M96.7 261.3h0M96.2 237.9h0M102.3 265.3h0M99.7 233.4h0M78.9 244.3h0M98 270.4h0M77.9 261h0M107.9 264.5h0M100.7 267.8h0M102.9 264.7h0M89.1 254.5h0M102.2 264.4h0M84 266.3h0M92.7 270.1h0M77.2 269.5h0M102.3 270.5h0M104.2 240.2h0M80.3 239.3h0M81.7 248.9h0M106.8 250.3h0M99.4 258.5h0M102.2 246.1h0M98.4 263.1h0M103.7 269.3h0M76.1 246.7h0M104.1 257.1h0M95.1 243.9h0M102.5 264.9h0M91.1 229.7h0M77 230.2h0M88.5 263.9h0M90 255.1h0M80.8 243.7h0M104.4 244.5h0M83.8 255.7h0M83 233.2h0M89.4 259.2h0M103 257.5h0M98.4 234.6h0M103.6 231.3h0M83 237.3h0M86.4 270h0M106.1 239h0M106.3 255.3h0M91.5 246.2h0M91.8 269.9h0M79.9 271.3h0M78.9 264.6h0M72.9 251.8h0M108.2 236.9h0M103.1 248.7h0M86 240.1h0M93.5 233.8h0M92.1 266h0M107.6 245.4h0M97.8 267.3h0M96.2 232.7h0M108.7 248.3h0M97.6 244.8h0M86.9 256.2h0M98.2 251.6h0M91.5 267.9h0M109.4 244.9h0M104.1 231.9h0M93.7 258.4h0M100.9 248.4h0M100.1 267.2h0M74.2 261.2h0M78 243.3h0M106.2 269.8h0M94.8 235.6h0M74.6 253.9h0M100.8 246.1h0M83.4 256.6h0M83.7 261.8h0M88.6 252.5h0M97.1 270.9h0M98.2 263.5h0M108.9 245.6h0M98.7 259.5h0M78.9 241.2h0M103.7 253.8h0M85.8 263.1h0M92.1 235.4h0M78.9 266.6h0M79.2 260.7h0M74.9 242.7h0M87.2 242.1h0M108.8 270.4h0M84.4 237.4h0M80.2 269.4h0M89.2 243.1h0M82.6 234.1h0M87.3 246.2h0M82.8 270.3h0M106.8 238.1h0M104.2 248.5h0M102 256.4h0M78.5 242.8h0M90.4 261.5h0M97.9 253.1h0M83.1 261.3h0M107.2 244.8h0M83.6 251.9h0M82.6 256.2h0M74.4 262.1h0M94 264.5h0M108 244.5h0M82 240.7h0M93.4 232.5h0M98.2 261.4h0M103.1 247h0M84.3 234.2h0M109 256.8h0M98.7 256.3h0M87.6 262.3h0M100.6 269.3h0M87.5 244h0M85.9 263.6h0M105.4 237.4h0M92.3 252h0M106.6 257.8h0M85.5 235.1h0M88.3 232.3h0M104.7 250.7h0M94.5 257.7h0M94.3 246.6h0M104.4 241.1h0M104.2 262.9h0M98 235.9h0M91.6 261.4h0M106.5 267.5h0M103.6 260.9h0M105.7 256.9h0M99.2 235.1h0M95.8 259.3h0M75.4 241.1h0M103.7 255h0M80.8 241h0M76.4 239h0M109.3 258.1h0M86.3 263.4h0M75.5 259.1h0M85 265h0M96.4 229.6h0M83.1 235.4h0M89.5 232h0M103 253h0M103.8 231.2h0M81.2 234.2h0M85.6 256.1h0M94.1 243.5h0M102.5 238.7h0M104.2 238.3h0M92.9 263.7h0M102 230.8h0M91.7 230.7h0M75.2 247.4h0M99.9 256.1h0M87.8 254.2h0M94.9 251.2h0M105.3 239.1h0M102.9 271.6h0M85.2 270.2h0M75.5 271.2h0M77.9 249.7h0M98.4 248.7h0M89.9 259.5h0M80 244h0M83.4 246.5h0M100.4 237.7h0M89.3 251.3h0M99.2 237.9h0M82.8 237.8h0M99.1 253.2h0M100.8 270.7h0M107.3 269.6h0M99.8 260.1h0M80.5 232.2h0M105.1 230.1h0M96.4 260h0M86.1 240.7h0M96.5 236.4h0M84.3 271.4h0M79.4 231.4h0M106.5 244.5h0M89.9 263.5h0M76.8 233.8h0M101.9 236h0M109.9 249.4h0M102.6 268.1h0M103.6 249.6h0M76.9 234.9h0M91.8 253.3h0M82.3 238.4h0M106.8 230.4h0M108.2 259.5h0M89.2 271h0M87.2 260.5h0M104.3 263.8h0M73.3 235.2h0M94.7 238.6h0M73.2 245.5h0M102.2 264.6h0M74.5 249.1h0M92.8 267.1h0M84.9 232.5h0M106 255.9h0M96.8 250h0M82 238.2h0M87.2 267.8h0M95 233.9h0M80.3 234.8h0M94.7 248.8h0M99.3 256.4h0M75.4 248.1h0M74.9 260.1h0M87.8 249.4h0M99.5 258h0M97.1 239.6h0M90.5 258.8h0M106.8 235.5h0M75.2 254.8h0M109.8 239.6h0M87.5 239.2h0M103.7 262.8h0M100.6 256.3h0M76.4 231.1h0M102.9 270.8h0M74.7 231.1h0M107.7 239.7h0M98 238.8h0M96.7 268.9h0M82.7 268.4h0M73.5 236h0M76.7 261.5h0M99.4 270.7h0M103 237.4h0M92 236.4h0M102.3 234h0M107.1 267.1h0M104.7 229.6h0M103.6 253h0M96 250.8h0M102.8 254.6h0M74.9 232.8h0M83.7 252.6h0M73.1 246.3h0M73.8 261h0M103.2 264.6h0M77.4 248.9h0M80.6 257h0M77 247.6h0M93.3 270.8h0M76.4 244.4h0M104.6 260.4h0M76.6 265.4h0M84.2 245h0M78.4 261.8h0M109.4 255.2h0M73.1 262h0M77.1 232.7h0M95.2 258.8h0M89.9 251.5h0M95.7 246.7h0M107.1 256.9h0M102.6 260.5h0M104.2 268.1h0M74 259.8h0M104.6 258.3h0M105.7 247.7h0M108.1 237.1h0M99.3 248.2h0M84.1 240.2h0M85 244.2h0M89.4 233.5h0M97.3 271h0M101.4 268.9h0M110 264.9h0M83.1 261.3h0M88.3 240.1h0M81.5 230.4h0M107.3 267h0M101.7 243.4h0M106.1 262.3h0M92.7 263.1h0M103.7 233.9h0M96.3 242.8h0M92.9 245h0M78.9 270.3h0M97.2 252h0M107.9 252.3h0M107 246.7h0M109 258.7h0M80.8 233.3h0M106.8 241.7h0M82.6 230.1h0M109.9 259.8h0M89.2 237h0M98.7 258.6h0M101 261.1h0M82.5 240h0M98.7 230.7h0M82.6 238.3h0M96.9 270.3h0M97.4 254.5h0M98.8 254.8h0M75.2 242.4h0M73.4 232.3h0M78.2 244.8h0M91.3 234.3h0M98.6 270.5h0M101.6 241.1h0M76.6 237h0M88.1 242.3h0M89.5 258.7h0M76.4 260.3h0M85.7 268.9h0M74 264.7h0M81.3 264.6h0M102.9 265.7h0M83.2 257.9h0M80 229.9h0M78.8 267.8h0M94.8 257.4h0M79.6 257.5h0M76.5 235.6h0M87.2 271.1h0M94.2 257.1h0M75.3 238.9h0M104.7 230.1h0M108.9 235h0M99.9 244.9h0M102.3 235.4h0M86.5 240.1h0M77 251.6h0M102.6 240h0M87.1 241.6h0M81.2 261.9h0M81 237.7h0M86.5 245.8h0M90.5 256.6h0M74.7 266.3h0M104.1 257.6h0M73.9 239.4h0M77.2 248h0M99.5 249h0M77.3 233.5h0M79.4 249.8h0M89.3 239.3h0M75.4 234.5h0M90.4 244.8h0M93.6 269.1h0M81.2 232.5h0M93.9 261h0M108.8 266.3h0M77 265.8h0M92.5 269.4h0M79.2 239.6h0M80.8 266.1h0M82.8 233h0M90.1 268.6h0M75.6 260.4h0M84.7 248.7h0M97.6 238.2h0M77.3 244.8h0M90.9 271.1h0M73.3 237.1h0M92.1 257.1h0M90.4 230.5h0M92.9 260.8h0M91.5 239.4h0M97.2 255.1h0M102.9 235.6h0M100.5 269.5h0M86.6 265.8h0M79.6 267.7h0M95.2 239.1h0M75.9 267.6h0M74.2 238.7h0M78.1 248.1h0M100.9 237.6h0M108 254.2h0M98.2 246.5h0M108.3 230h0M90.7 239.4h0M108.3 251.1h0M109.9 250.3h0M80.9 255.8h0M80.4 264.8h0M89.9 271.8h0M108.8 239.1h0M88.1 243.1h0M97.9 244h0M86.8 230.5h0M103.8 236.4h0M95.6 229.5h0M89.8 240.4h0M99.5 253.3h0M81.8 235.3h0M108.8 234.6h0M78 235.8h0M94.6 251.6h0M75 267h0M79.1 239.4h0M89.8 254.3h0M106.1 246.8h0M105 257.5h0M82.9 270h0M88.1 269.3h0M107.1 231.7h0M73.5 233.9h0M83.7 241.8h0M105.4 270.4h0M92.6 247.3h0M103 265.4h0M92 257.1h0M82 234.4h0M94.8 257.3h0M106.5 263.4h0M80.1 270.2h0M106.4 232.7h0M79.6 253.6h0M82.4 258.8h0M86.5 239.5h0M98.2 251.7h0M100.6 232.6h0M90.5 255.9h0M102.8 257.9h0M90.6 229.9h0M99.4 258.2h0M79.6 256.9h0M102.2 270h0M89 239.4h0M80.6 270h0M108.8 246.8h0M81.5 267.6h0M86.3 260.6h0M101.5 257.6h0M81.2 234.9h0M82.8 238.6h0M77.9 231h0M88.6 246.7h0M94.6 232.8h0M94.4 269.4h0M99.2 244.5h0M79.4 248h0M73.5 249.9h0M78.9 258.1h0M108.8 245.1h0M104.1 261.9h0M96.6 256.7h0M109 259.3h0M101.5 237.8h0M82.4 242.2h0M95.3 264.3h0M105.6 265.4h0M80.3 254.4h0M92.9 230.1h0M83 260.2h0M73 232.5h0M98.9 236.8h0M81.5 229.7h0M99.4 240.7h0M73.6 271.3h0M107.8 234.3h0M78.4 270.5h0M92.4 243.7h0M88.5 243h0M82.5 249.8h0M76 231.8h0M76.3 236.4h0M98.9 255.9h0M102.5 240.6h0M85.6 260.3h0M79.9 250.3h0M93.8 268.8h0M78.6 231.7h0M87.3 258.8h0M81.4 259.8h0M102.8 263.2h0M94.8 233.5h0M99.3 237.6h0M102.4 263.5h0M76.3 239.3h0M94 257.6h0M80.1 235.3h0M76.9 254.1h0M81.9 256.3h0M88.7 240.4h0M99.9 252.1h0M99.9 230.8h0M83.7 238.8h0M98.7 256.6h0M106.6 255.5h0M84.5 238.2h0M82.6 257.5h0M81.3 236.2h0M103.8 262.1h0M108.7 259.8h0M84.4 263.1h0M99.8 242.8h0M95.6 231.9h0M74.7 233.3h0M78.5 251.2h0M105.7 268.9h0M80.2 249h0M91.8 234.6h0M86.4 251.6h0M92.6 259.8h0M76.8 262.3h0M87.3 232.5h0M82.3 250h0M81.1 257.8h0M90.7 243h0M101.7 259.6h0M89.6 245.2h0M107.8 268.7h0M76.8 255.7h0M96.7 248.8h0M74.2 241.3h0M106.9 271h0M90.3 235h0M84.1 255.7h0M100.9 232.4h0M89.2 262.1h0M87.6 233.1h0M108.9 233.5h0M83.6 231.7h0M77.9 262h0M75.5 234h0M92.7 236.4h0M79.2 264.7h0M124.2 112h0M130.4 130.4h0M154.1 136.5h0M145.5 135.9h0M135.4 114.7h0M128.5 124.6h0M145.2 120.9h0M153.6 138.1h0M130.4 117.7h0M135.3 136.1h0M149.7 139.6h0M145.6 138.8h0M133.4 138.3h0M139.3 116h0M140.4 119.3h0M130 113.1h0M127.7 117.5h0M131.8 245h0M131.9 244.4h0M126.2 234.2h0M133.1 268h0M150.9 256.4h0M126.9 261.5h0M147.8 268.4h0M145 271.4h0M148.2 261.4h0M142.3 240.2h0M149.2 245.6h0M137.9 235.2h0M148.4 243.7h0M149.3 244.1h0M150.6 265.4h0M152.8 235.4h0M143.1 261h0M119.5 257.1h0M138.2 266.3h0M130.4 248.8h0M147 262.6h0M125.8 266.3h0M127.1 243.9h0M130 233.7h0M147.5 230.6h0M120.4 239.1h0M145.5 232.4h0M135 237.9h0M147.8 246.5h0M129.3 269.9h0M151.2 256.2h0M151.4 249.4h0M129.4 260.5h0M139.2 266.5h0M139.7 234h0M137.1 264.6h0M133.3 250h0M142.6 266.7h0M131.3 238.3h0M153.6 244.9h0M122.4 258.9h0M119.1 268.2h0M133.9 254.5h0M133.8 259.8h0M137.3 233.4h0M147.3 264.2h0M126.1 244.6h0M147.7 261h0M150.8 238.8h0M134 271.5h0M144.3 245.6h0M125.3 268.8h0M130.1 242.3h0M124.7 260.5h0M136.5 252.6h0M123.1 257.8h0M155.1 270h0M147.5 253.2h0M151.8 237.3h0M146.2 252.8h0M131.3 266.2h0M125.5 268.6h0M136.5 230.5h0M151.4 267.5h0M136.9 269.9h0M138.7 269h0M141.4 235.6h0M133.6 263.5h0M127.4 255h0M133.5 241.2h0M135.3 251.2h0M118 233.4h0M144.6 243.9h0M126.6 261.2h0M137.1 240.3h0M140.3 236.9h0M125.3 267.7h0M144.7 254.3h0M144.4 261.2h0M127.9 259.6h0M152.3 265h0M153.1 231.7h0M121 248.2h0M147.6 232.4h0M123.1 258.2h0M141.6 249h0M130.3 271.7h0M126.9 261.9h0M123.8 237.9h0M140.9 246.8h0M123.8 242.3h0M120.9 238.7h0M129.6 237.7h0M124.6 250.8h0M134.2 249.8h0M135.9 270.7h0M135.4 269.5h0M139.9 237.9h0M124.1 235.6h0M144 232.6h0M132.8 270.4h0M133.7 244.5h0M143.6 244.4h0M123.4 246.1h0M139.2 266.1h0M149.5 229.8h0M131 260.3h0M152.2 256.1h0M133.9 246.5h0M138.5 242.1h0M145.2 257.5h0M123.2 269.7h0M149.6 245h0M139.8 263h0M130.5 258.1h0M138.3 269.5h0M124.6 246.5h0M151.3 234.4h0M118.8 263.4h0M135.7 243.2h0M131.3 250.5h0M130.8 267.4h0M152.5 252h0M135.6 256.5h0M132.2 243.6h0M147.1 255.3h0M131.6 240.5h0M131.3 245.9h0M137.9 268.1h0M130.2 241.2h0M123.7 264.2h0M118.6 258.7h0M120 237.7h0M123.2 263.6h0M119.9 239.1h0M145.2 240.7h0M151.8 260h0M138.4 269.6h0M121.1 268.5h0M134 268.6h0M145.7 237.7h0M132.2 265.8h0M150.4 233.4h0M140.1 261.4h0M119.2 270.8h0M122.4 231.9h0M144.2 230.4h0M122 256.2h0M124.5 236.4h0M142.9 255.3h0M131.2 270.5h0M134 270.9h0M127.2 246h0M154.2 239.3h0M144.1 271.6h0M124.5 236.9h0M130.9 235.9h0M120 260.7h0M143.2 251.9h0M134.2 230.9h0M139.3 263h0M150.7 248.6h0M130.4 254.9h0M153 246.2h0M152 265.9h0M123.1 253.2h0M132.1 236.9h0M117.9 258.7h0M147.1 263.4h0M118 251.3h0M133.2 263.3h0M139.1 257.8h0M133 260.3h0M153.5 270.1h0M140.8 268.8h0M131.8 242.9h0M151.6 240.9h0M147.2 263h0M154.8 264.2h0M129.7 258.6h0M127.6 261.5h0M123.7 255.3h0M136 265.8h0M152.3 241.1h0M152.5 233h0M123.3 261.5h0M139.2 261.7h0M139.7 267.9h0M152.7 247.6h0M146.8 233.2h0M128.1 233.9h0M150.3 234.3h0M144.9 248.2h0M145.1 240.4h0M121.4 256.9h0M144.7 250.4h0M142.2 238.6h0M131.6 241.3h0M153 268.4h0M133.7 271.7h0M148 253.7h0M134.8 261.6h0M132.8 266h0M135.4 269.7h0M145.8 234.5h0M143.2 235.6h0M154.7 231.8h0M145.4 252.4h0M141.6 235h0M127.1 245.4h0M119 264h0M121 249.7h0M151.2 265.5h0M135.1 231h0M144.6 249.3h0M130.6 260.3h0M124.7 269h0M148.2 235.3h0M124.7 234.6h0M130.3 250.7h0M152.5 236.4h0M147.1 249.5h0M151.9 240.1h0M151.7 238.9h0M154.1 255.4h0M141.3 262.1h0M149.7 252h0M121.4 248.3h0M147.9 268.2h0M145.6 258.3h0M135.1 239.3h0M153.7 264.3h0M123.8 268.6h0M138.5 258.4h0M124 246.6h0M135.3 235.3h0M127.8 250.4h0M138.5 245.1h0M139.8 261.7h0M150.9 236.4h0M153.6 245.1h0M123 271h0M153.9 254.1h0M138.2 245.8h0M118.8 242.8h0M122.4 238.2h0M141.3 241.5h0M153.2 253.3h0M131.3 258.5h0M141.5 269.7h0M150 252.5h0M131.2 257.8h0M129 255.1h0M126.9 270.5h0M120.2 270.7h0M138.4 229.9h0M136.7 238.2h0M149 234.5h0M143.3 257.8h0M154.9 268.7h0M144.4 258.2h0M119.6 229.6h0M154 247.5h0M139 242.7h0M133.3 229.9h0M139.8 267.7h0M118.2 264.4h0M124.5 238.1h0M121.6 264.7h0M127.8 268.9h0M137 266.7h0M153.9 243.2h0M143.8 246.6h0M148.8 232.3h0M121.9 271h0M127.9 261.1h0M131.4 235.8h0M153.4 257.5h0M154.9 271.5h0M142.2 255.9h0M144.9 236.3h0M131.2 252.8h0M127.3 267.6h0M123.7 235.5h0M139.8 235.8h0M123.7 263.4h0M139.2 250.8h0M133.2 253.2h0M118.3 252.5h0M133.6 232h0M146.1 239.5h0M148.6 239.7h0M121.2 239.7h0M132.2 249.7h0M146.4 243.7h0M142.8 238.9h0M134.7 264.8h0M152.3 250.8h0M124.5 255.1h0M120.8 232.4h0M121.1 243.5h0M133.6 256.9h0M136.9 242.6h0M126.9 269.1h0M129.2 236h0M151.8 243.2h0M133.8 259.4h0M119.4 236.5h0M149.4 234.7h0M123.6 256.9h0M119.9 255.9h0M130.3 250.9h0M145.5 233.8h0M136.8 259.8h0M142.8 236.6h0M142.5 247.8h0M151.5 233.4h0M126.1 229.7h0M125.2 246.4h0M143.5 233.2h0M130.3 271.5h0M142.8 240.8h0M132.7 238.9h0M133.9 258.6h0M120.4 236.1h0M154.8 252.5h0M121.5 268.4h0M136 250.7h0M142.8 237.7h0M148 250.5h0M152.7 241.8h0M135.5 264h0M135.8 235.5h0M143.4 234.9h0M139.4 259h0M119.4 270.8h0M147.7 259.8h0M129.8 234.3h0M139.6 231.8h0M130.8 260.1h0M131.5 258.9h0M128.1 259.6h0M134.1 270.9h0M121.2 229.7h0M150.1 260.2h0M123.6 256.4h0M144.6 266.4h0M132 234.4h0M117.9 257.9h0M131 231.3h0M155 266.5h0M151.7 243h0M150.1 262.8h0M154 254.4h0M153.2 256.7h0M125.1 253.4h0M135.8 251.4h0M131.7 243.8h0M139.7 251.1h0M128.1 238.9h0M136.6 250.8h0M142.6 247.2h0M137.6 237.3h0M146.5 241.2h0M147 259.3h0M127.1 251.4h0M136.9 268.7h0M128.6 245.4h0M144.3 246.5h0M135.8 264.1h0M125.7 260.4h0M131.1 248.6h0M131.2 242.5h0M145.2 261.4h0M126.5 238.3h0M142.2 262.7h0M141.5 258.1h0M128 258.8h0M131.2 232.1h0M153.7 230.9h0M142.8 251.7h0M147.8 270.4h0M130.4 239.2h0M147.5 234.1h0M136 260.7h0M127.8 245.1h0M144.4 250.1h0M149.5 267.4h0M134.2 266.2h0M129.5 247.3h0M124.6 270.7h0M128.3 236.2h0M149.6 268.5h0M149.6 243.5h0M133.7 267.2h0M146.7 237.6h0M122.2 245.3h0M134.2 267.7h0M140 246.3h0M118.5 240.3h0M131.9 246h0M131.7 230h0M130.2 261.7h0M141.1 258.2h0M118.5 237.5h0M140.6 258h0M125.2 241.9h0M151.8 265.7h0M139.7 239.4h0M129.8 253.8h0M129.9 231h0M140.3 256.8h0M122.3 251.1h0M129.4 238.5h0M131.3 247.1h0M122.1 267.7h0M126.7 271.2h0M126.9 265.7h0M131.9 254.3h0M147.5 231.1h0M127.8 263.8h0M135.7 262.3h0M119.8 271.3h0M126.3 245.6h0M146.8 255.9h0M138.3 265.1h0M147.7 245.9h0M127.5 233.9h0M134.2 261.3h0M121.2 271.5h0M125.7 249h0M121.2 229.6h0M131.5 233.3h0M136.7 247.8h0M144 241.7h0M154.5 251.3h0M136.8 236.7h0M131.7 250.4h0M125.6 265.9h0M131.1 266.6h0M140.7 243.7h0M128.4 253.3h0M153.5 233.1h0M122 245.1h0M137.6 257.3h0M130 243.4h0M130.4 265.2h0M153.5 247.2h0M132.8 244.8h0M142.5 236.4h0M134.4 257.6h0M126.5 246.7h0M134.9 262.9h0M131.8 264.7h0M118.8 260.5h0M153.7 238.8h0M143 258.4h0M135.4 250.5h0M124.2 237.9h0M143.7 256.8h0M141.9 240.4h0M140.7 235.3h0M136.8 236.8h0M138.3 242.8h0M135.8 235.2h0M122.8 255.6h0M143.1 242.6h0M140.8 252.6h0M139.1 262.5h0M134.3 238.9h0M138.9 264.6h0M131.4 261.4h0M154 248.5h0M142.2 264.3h0M140.6 234h0M152.7 230.9h0M145 270.6h0M149.4 240.8h0M148.7 237h0M118.3 251.5h0M134.2 267.2h0M143.5 264.6h0M150 252h0M151.4 238.1h0M118.7 243.8h0M120.2 243.7h0M141.1 232.6h0M123.7 234.6h0M128.2 241.9h0M151.6 268.4h0M154.8 266.3h0M147.5 248.1h0M152.4 241.4h0M145.1 263.8h0M121.2 239.1h0M138.4 268.6h0M150 255.4h0M143.9 235.6h0M147.1 249.1h0M125.1 248.8h0M128.3 270h0M148.8 261h0M143.7 240h0M126.1 246.3h0M153.4 238.7h0M136.8 245.1h0M118.7 250.7h0M145.6 261.4h0M131.1 266.6h0M130.7 238.4h0M142.4 260.5h0M137.4 246.7h0M152.1 236h0M136.7 249.5h0M125.1 262.8h0M131 260.1h0M121.3 263.9h0M141.5 241.2h0M131.8 249.9h0M125.9 254h0M117.8 248h0M127.2 263.3h0M138.4 264.6h0M141.2 254.9h0M146.8 234.8h0M150 241.9h0M143.1 262.8h0M134.1 264h0M153.4 258h0M121.5 237.5h0M136.8 246.9h0M126 235.8h0M132.3 266.2h0M124.6 235.8h0M124.9 253.9h0M137.9 249.6h0M136.6 248.1h0M118.4 264.9h0M125.2 268.8h0M146.5 231.1h0M137.9 253.6h0M147 238.7h0M144.9 242.5h0M139.2 239.2h0M131.6 256.9h0M120.2 249.8h0M143.6 256.7h0M138.3 236h0M121.5 260.5h0M150.3 265h0M127 231.6h0M127.2 233.1h0M136.1 233.2h0M129 240.1h0M131.6 249h0M144.8 262.9h0M126.1 234.3h0M130.1 229.8h0M143.8 234.1h0M155 262.5h0M119.1 238.3h0M133.1 261.5h0M132.4 268.9h0M120.5 242.7h0M136.9 269.6h0M134.1 248.1h0M148.8 262h0M124.4 249.6h0M151.1 246.7h0M142.5 246.7h0M135 253.2h0M126.9 253.8h0M150.1 253.1h0M131.5 232.9h0M154.3 266.8h0M141.2 230.1h0M149.3 256.2h0M122.6 249.4h0M144.4 242.2h0M125.4 260.3h0M142.3 256.7h0M118.6 257.3h0M129.9 248.2h0M130.3 254.8h0M142.8 234.9h0M147.3 241.6h0M138.2 242.4h0M122.1 263.7h0M120.3 260.4h0M118.7 269.1h0M131.5 260.1h0M132.5 237.1h0M133.3 250.7h0M137.3 234.7h0M153.9 242.2h0M134 245.7h0M154 239.1h0M141.9 243.1h0M132.5 264.7h0M128.2 261.4h0M119.3 234.1h0M150.4 248.5h0M134.2 238.1h0M128.1 261.8h0M137.2 236h0M152.8 247.5h0M126.7 267.5h0M133.3 253.2h0M134.4 230.9h0M129.1 268.2h0M144.3 254.3h0M152.3 232.2h0M129 234.1h0M118.5 259.8h0M122.5 245.4h0M118.3 249.5h0M126.1 235.9h0M121.1 232.9h0M137.1 237.7h0M148.5 235.3h0M127.2 247.1h0M149.2 239.7h0M145.5 231.5h0M153.1 233.6h0M140.1 246.8h0M121.5 266h0M143.7 232.2h0M144.7 254.4h0M136.3 241.3h0M134.1 237.4h0M139.7 241.4h0M128 242.2h0M120.9 256.7h0M136.3 263.4h0M122 239.2h0M136.6 251h0M131.7 259.9h0M151.1 246.9h0M154.4 241.1h0M154.8 267.3h0M127.4 269.4h0M140.6 263.9h0M155.1 238.1h0M148 256.9h0M120.7 253.1h0M124.3 266h0M140.8 240.5h0M135 237.7h0M121.3 259.7h0M121.7 257.4h0M142 249.6h0M119.4 258.6h0M153.7 237.6h0M133.6 246h0M143.8 245.3h0M142.1 260.8h0M139.1 246.5h0M124.8 251.3h0M153.8 269.7h0M154.9 262.4h0M149.1 249.2h0M145.5 239.7h0M152.9 259.7h0M150.6 264.8h0M147.2 240.8h0M129.4 249.6h0M147.6 245.1h0M149.3 265.1h0M124.1 257.8h0M139 236.1h0M130.3 238.5h0M123.5 233.8h0M126.1 259.8h0M130.1 265.4h0M129.1 265.4h0M132.5 240.8h0M134 230h0M118.2 245.6h0M131.8 265.9h0M153.7 229.5h0M127.2 239.2h0M121.5 230.5h0M139.5 259.5h0M127 250.8h0M154 241.6h0M154.8 245.2h0M122.4 267h0M118.5 265.4h0M148 259.6h0M138.3 258.9h0M123.5 263.9h0M127.7 252.3h0M124.9 246.4h0M139.2 259.5h0M141.2 262.5h0M152.2 254.8h0M138.9 263.9h0M152.5 243.3h0M121.6 245.2h0M144.2 243.6h0M141.9 268.9h0M152.8 257.5h0M134.4 262.4h0M146.2 249h0M121.9 242.9h0M148 255.7h0M143.3 240h0M122.5 267.3h0M136.2 235.2h0M153.3 243.6h0M134.4 271.7h0M141.4 263h0M154.1 236.8h0M120.6 236.9h0M118.4 248.6h0M133.2 249.8h0M133.2 269.9h0M146.9 265.4h0M126.6 254.3h0M136.1 242.4h0M141.9 246.2h0M129.8 250.9h0M155 255.2h0M130.3 238.1h0M121.3 230h0M133.6 231.8h0M143.8 264.9h0M149.1 270.4h0M139.5 254.3h0M132.1 230h0M141 240.6h0M138 232.3h0M136.2 245.4h0M121.6 246.6h0M147.7 260.4h0M122.1 254.8h0M150.3 254.8h0M146.1 271.2h0M150.6 231.4h0M128.1 257.6h0M148.6 268.4h0M127 267.4h0M131.9 253.9h0M146.2 242h0M130.2 255.6h0M152.5 252.5h0M151.9 253.5h0M154.9 253.4h0M135 230.7h0M144.9 252.9h0M141.1 270.5h0M141.5 249.7h0M144.1 252.1h0M118.3 269.6h0M150.5 243.1h0M147.3 232h0M142 230.8h0M126.7 263.4h0M126.2 245.6h0M137.5 259.3h0M129.9 255.1h0M153.4 254.3h0M153.3 262.5h0M137 240h0M130.7 245.8h0M124.3 263.5h0M146.7 253.1h0M118.4 269.1h0M136.2 241h0M123.9 269.1h0M132.6 265.1h0M152.5 252.7h0M130.1 232.2h0M122.8 236.1h0M144 242.3h0M122.3 254.1h0M136.7 263.4h0M148.4 235.6h0M125.9 264.2h0M148.1 269.2h0M117.8 239.2h0M148.6 266.2h0M146.4 233.6h0M141.5 262.2h0M154.6 264.7h0M148.9 243.4h0M129.5 268.5h0M143.3 258.4h0M139 265.4h0M127.2 241.2h0M122.8 252.5h0M151 265.9h0M143.8 239.7h0M122.3 258h0M146.4 262.4h0M121.4 242.5h0M146.6 241.4h0M148.2 249.2h0M121.7 236.3h0M150.7 244.3h0M120.5 236.3h0M121.2 261.3h0M120.9 257.7h0M142.6 239.9h0M133.1 266.5h0M118.9 248.5h0M126.8 243.9h0M144.5 262.9h0M137.6 262.7h0M122.5 259.1h0M128.7 245.8h0M145.4 241.4h0M129.9 238.6h0M150.1 241.4h0M135.7 256.5h0M152.2 245.6h0M134.6 269.2h0M150 253.5h0M127.4 240.3h0M136.5 233.9h0M123.6 262h0M154.8 247.8h0M132.1 249.9h0M151.1 265h0M122.4 245.4h0M145.4 256.4h0M142.4 268.6h0M137 242.5h0M134.4 241.7h0M151.9 249.3h0M152.4 267.8h0M153.8 249.7h0M152.2 235.4h0M150.4 256.6h0M154.8 247h0M149.5 230.6h0M131.7 264.2h0M125.7 264.6h0M135.3 261.3h0M125.1 246.9h0M145.1 263.3h0M154.3 233.3h0M131.8 238.9h0M139.3 247h0M153.1 267.2h0M131.4 256.3h0M120.3 234h0M139.6 251.4h0M154.5 248.4h0M130.9 247h0M124.2 247.2h0M139.9 269.2h0M133.7 252.5h0M129.5 240.1h0M134.4 250.4h0M138.8 270.9h0M119.8 238.3h0M130.7 236.2h0M151 262.6h0M146.9 239.5h0M137.9 248.2h0M119.3 252h0M142.7 232.3h0M132 258.6h0M148.4 268.4h0M120.3 242.3h0M142.2 252.9h0M119.4 239h0M119 250.1h0M141.1 260.7h0M134.4 241.3h0M124.7 239.4h0M148.3 237.2h0M144.5 248.7h0M147.9 244.2h0M142.2 254.7h0M138.8 246.1h0M154.2 237.6h0M137.7 257.9h0M121.5 256.5h0M126.4 243.6h0M118.2 265.2h0M150.2 248.3h0M144.6 262.6h0M126.4 242.3h0M128.9 259.3h0M130.8 260.1h0M139.2 261.7h0M154.6 264h0M154.6 245.5h0M150.6 229.9h0M138.1 230.8h0M146.5 245.9h0M125.5 242.8h0M138.3 262.7h0M136.1 261.5h0M146.6 231h0M135.4 238.7h0M127.4 229.5h0M146.3 257.7h0M134.3 256.4h0M142.8 260.5h0M137.8 238.2h0M145 254.8h0M129.4 237.9h0M121.3 244h0M145 244.2h0M124.2 253.9h0M122.1 260.4h0M123.3 261.3h0M127.2 233.6h0M127.8 251.3h0M152.8 266.9h0M145.8 241.5h0M138.7 258.9h0M153.3 240.3h0M118.2 270h0M129.8 243.5h0M133.8 237.9h0M118.6 267.5h0M129.3 264.9h0M151.4 230.1h0M125.7 241h0M131.5 234.4h0M124.5 234.6h0M139.4 240.1h0M129.2 248.4h0M146.7 251.7h0M130.6 260.1h0M147.3 268.3h0M135.5 253.3h0M122.8 243.4h0M140.5 267h0M152.4 233.7h0M119 267h0M126.7 259.1h0M148.9 252.2h0M136.4 244.3h0M124.9 257.6h0M133.7 256h0M124.8 271.1h0M119.3 259.6h0M122.2 241.1h0M137.5 235.8h0M147.5 236.9h0M141.1 233.6h0M122.5 265.9h0M146.4 238.7h0M152.6 249.4h0M132.6 243.8h0M130.6 270h0M151.1 270.4h0M138.2 238h0M122.1 269.3h0M146.7 265.4h0M140.2 261.2h0M153.6 233.7h0M147.1 233.8h0M129.6 260.1h0M133.1 258.5h0M119.4 261.3h0M132.1 269h0M135.4 263.5h0M129 263.9h0M118.7 252.6h0M120.7 250.2h0M143.1 265.8h0M154.2 247.5h0M153.5 269.5h0M144.1 233h0M140.4 260.3h0M152.3 230.2h0M140 248.1h0M128 264h0M152.3 230.7h0M119.3 240.9h0M155 235.3h0M125.6 260.8h0M151.3 235.7h0M139.6 257.6h0M133.2 235h0M117.9 269.5h0M119.9 247.2h0M121.7 271.7h0M149.2 269.8h0M119.3 260.5h0M136.2 258.9h0M123.2 250.3h0M147.7 251.2h0M150.5 235.1h0M127.7 247.3h0M134.9 239.6h0M139.1 256.9h0M136.9 267.1h0M154.7 251.2h0M118.4 238.6h0M129.5 243.4h0M133.4 234.7h0M152.2 231h0M150.6 250h0M145 259h0M129 261.6h0M125.5 260.3h0M140 253h0M124 262.3h0M148.6 244.1h0M154.3 263.5h0M125.6 234.5h0M144.8 234h0M142 261h0M137 262.5h0M152.2 253.3h0M142.3 256.9h0M136.2 254.4h0M139.2 261.5h0M133.7 235h0M133.9 247.3h0M131.3 253.2h0M133.7 246h0M154.1 245.2h0M118.4 233.3h0M132.5 260h0M139.9 248.5h0M126.7 245h0M150.4 230.1h0M128.4 269.2h0M129.9 249.2h0M151.1 232h0M126.8 264.9h0M143.9 240.3h0M135.3 263.2h0M126.5 245.9h0M150 263.3h0M122 265.8h0M154.6 254.6h0M134.9 259.8h0M120 235.6h0M120.3 260.5h0M142.6 263.7h0M151.1 249.5h0M140.8 268.9h0M139.8 233.7h0M127.1 247.3h0M145.1 268.8h0M126.3 234.6h0M139.2 244h0M134.2 243.2h0M124.5 263.9h0M130.1 260h0M153.3 269.5h0M140.4 243.4h0M133.1 234.2h0M141.6 255.9h0M119 244h0M138.7 234.8h0M129.2 236.7h0M151.4 255.7h0M127.3 251.3h0M128.1 254.3h0M123.6 262.6h0M134.2 240.6h0M123.9 267.9h0M122.7 237.6h0M130.2 238.5h0M146.2 246.2h0M135.5 246.6h0M146.7 246.3h0M133.7 267.7h0M127.1 268.5h0M137.4 270.9h0M132 258.3h0M122.8 241h0M131.2 266.9h0M135 259.1h0M125.5 251.8h0M130.3 237h0M138.1 258.3h0M144.3 229.6h0M120.3 247.8h0M125.7 240.5h0M138.3 264.3h0M127 243.3h0M128.2 241.8h0M147.3 244.1h0M143.9 262.9h0M142.2 266.9h0M119.4 234.3h0M127.4 236.5h0M148.5 251.8h0M133.8 254.3h0M154.5 239.7h0M130.5 261.4h0M154.5 231.4h0M149.5 240.3h0M142.2 234.5h0M151 244.6h0M121.5 242.1h0M147.9 237.9h0M141.8 270.9h0M128.3 258.3h0M172.8 85h0M164.3 90.7h0M169.6 137.1h0M171.9 103.5h0M187.2 127.7h0M195.3 141.1h0M171.7 141.2h0M183.4 133.4h0M180.2 108.8h0M163.3 94.6h0M185.2 141.8h0M173.7 142.1h0M166.7 124.8h0M177.9 118.4h0M174.6 126.3h0M177.7 141.4h0M183.3 136.1h0M192.6 135.6h0M197.6 137.6h0M191.3 105.1h0M184.1 118.9h0M166.3 139.4h0M177.9 137.8h0M189 142.7h0M195.6 118.2h0M191.1 141.8h0M175.5 136.5h0M179.9 115.3h0M174.7 137.4h0M195.7 121.7h0M177.7 124.6h0M183.4 120.7h0M195.7 139h0M165.8 138.2h0M164.1 96.7h0M183.4 131.7h0M183.5 135.4h0M166.5 105.3h0M186.6 125.7h0M197.5 124.7h0M171.5 143.9h0M182.5 141.6h0M182.4 141.6h0M177.5 121.5h0M198.6 138.9h0M174 125.3h0M192.5 133.1h0M188.3 110.3h0M192.8 130.4h0M162.9 97.6h0M181 123.5h0M175.3 141.7h0M176.6 116.1h0M164.3 126.8h0M184 143.1h0M179.4 139.3h0M194 106.9h0M174.2 134.4h0M199.1 137.2h0M193.5 122.8h0M175.6 142.2h0M199.5 135.1h0M170.9 98h0M172.9 144.1h0M173.9 112.8h0M185 130.5h0M188.4 122.3h0M180 133.6h0M180.1 143.8h0M194.8 140.9h0M193.2 113.3h0M172.8 141.2h0M166.8 90.8h0M175.7 123.3h0M194.2 142.4h0M175 106.9h0M198.8 141.2h0M165 115.9h0M199.4 122.4h0M176.6 142.6h0M198.4 131.4h0M198 144.1h0M176.1 130.5h0M198.1 103h0M193.4 139.4h0M198 119.5h0M184.4 136.6h0M187.1 123.8h0M165.3 105.2h0M168 137.1h0M192.6 85.6h0M198.9 118.3h0M172.9 131.5h0M190 91.8h0M177.9 114.3h0M170.1 113.8h0M182.7 144.1h0M197.1 141.8h0M178 141h0M162.8 134.9h0M167.6 123.5h0M194.9 117.3h0M162.8 141.2h0M176.3 129h0M171.5 118.6h0M170.5 92.1h0M166.7 124.6h0M199.5 134.6h0M180.4 138h0M188.8 135.7h0M169.5 118.2h0M179.6 127.8h0M190.6 142.6h0M167.4 136.5h0M180.3 120.9h0M185.4 125h0M180 140.9h0M199.9 108.5h0M171 137.6h0M171.9 122.1h0M177.3 84.9h0M187 134.7h0M175.6 140.6h0M174.1 143.3h0M186.2 121.7h0M162.7 125.8h0M178.8 143.9h0M186.3 112.9h0M178.1 113.1h0M185.8 136.9h0M191.8 139.2h0M174.6 129.5h0M164 132.6h0M192.9 128.5h0M177.3 119.4h0M179 135.1h0M197 105.4h0M167.9 124.3h0M187.8 94.6h0M172.6 138h0M163.4 131.5h0M165.2 137.1h0M193.1 107.7h0M166.8 119.4h0M192.2 117.2h0M163.2 142.3h0M193.7 114.4h0M194.7 139.9h0M162.7 137.7h0M191.5 135.3h0M199.6 129.7h0M198.7 104.1h0M171.1 121.3h0M199.6 137.3h0M167.4 134.7h0M188.9 132.8h0M175.2 120.3h0M188.9 121.7h0M194.4 138.1h0M177.9 130h0M166.3 143.1h0M164.5 142.2h0M185.7 122.5h0M193.5 123.1h0M183.8 140h0M168.2 139.1h0M197.5 127.6h0M181.7 139.2h0M182.8 126.4h0M184.2 106.8h0M192 129.5h0M199.3 144.5h0M166.8 142.2h0M167.6 126.4h0M162.9 114.9h0M170.3 136.2h0M171.8 128.9h0M176.1 135.3h0M194 144.2h0M162.8 132.9h0M179.8 108h0M196 116.3h0M183.6 132.6h0M185.8 137.9h0M185.8 127.7h0M163.3 143.3h0M196.5 112.2h0M169.1 120.1h0M194.8 140.6h0M176.9 115.3h0M184.1 139.3h0M176.9 139.9h0M169.5 118.2h0M186.6 138.9h0M194.6 131.8h0M182.6 140.4h0M168.1 139.7h0M195.8 137.1h0M170.8 142.9h0M163.6 131.6h0M185.1 130.3h0M171.6 119.9h0M175.4 131.6h0M178.5 135.9h0M199.6 114.6h0M189.5 131.3h0M199 97.9h0M183.9 140.3h0M191.9 140h0M181 123.7h0M189.8 123.9h0M192.6 85h0M181.2 125.8h0M176 134.3h0M182.6 116.3h0M180.8 142.6h0M179.3 141.2h0M182.5 132.7h0M163.3 142h0M173.2 95.2h0M190.4 137.9h0M162.8 118.2h0M176.4 140.5h0M198.8 136.1h0M198.7 129.9h0M193.6 129.2h0M198.5 143.9h0M165.1 129.7h0M186.7 136.5h0M176.4 105.5h0M171 108.9h0M199.3 133.1h0M192.4 140.4h0M191.9 135.3h0M167 118.4h0M193.1 136.9h0M180.5 109.2h0M181.2 141.7h0M195.4 134.7h0M168.3 112.4h0M166.7 133.7h0M189.7 104.9h0M194.8 128.5h0M164.5 129.2h0M171.6 141.4h0M184.4 132.2h0M167.9 133.6h0M174.2 131.4h0M197.1 102h0M177.2 143.3h0M190.5 139.4h0M181.6 141.9h0M179.5 109.5h0M182 134.1h0M173.1 140.9h0M185.5 144.3h0M178.5 121.3h0M195.5 140.1h0M165.9 143.7h0M199 136h0M163.9 123.3h0M166.3 131.3h0M174.9 134.4h0M167.2 124.7h0M172.5 143.6h0M198.9 95.6h0M192.3 142.2h0M199.9 133.5h0M170.7 142.3h0M186 128.5h0M163 144.3h0M172.5 139.3h0M192.3 142.5h0M185.4 130.4h0M185.6 108.1h0M166.9 132.1h0M165.6 126.6h0M192.4 139.5h0M198.7 136.9h0M183.8 139.8h0M178.9 136.6h0M199.6 253.9h0M169.4 256.5h0M174.7 254.1h0M189.3 249.5h0M181.6 230.4h0M185.1 242.8h0M180.1 264.2h0M173.4 256.1h0M181.7 240.3h0M171 252h0M181.3 261.9h0M172.1 244.5h0M196.4 264.9h0M171.9 269.2h0M186.3 232.5h0M194.7 230.5h0M175.3 258.2h0M188.2 248.2h0M176.3 236.3h0M188.1 262.8h0M166.5 254.3h0M172.2 238.7h0M186.6 230.8h0M197.2 253.7h0M197 253h0M182 249.3h0M180 241.4h0M180.9 269.1h0M175.9 229.6h0M186 237.9h0M180.4 251h0M191.2 268.7h0M163.8 233.2h0M185 259.1h0M181.4 257.1h0M179.5 231h0M185.2 264.8h0M167.3 231.4h0M183 267.8h0M189.1 236.5h0M195 268.6h0M192.8 256.8h0M180 233.2h0M175.4 263.8h0M195 235.6h0M162.9 259.3h0M183.5 232.2h0M185.8 269.9h0M166.6 266.6h0M169.4 253.9h0M168.2 243.5h0M164.4 249.1h0M186.8 257.3h0M191.4 267.8h0M195.1 232.7h0M197.7 252.5h0M165.7 250.3h0M169.1 259.3h0M182.8 271.1h0M181.1 267.7h0M187.4 243.3h0M179.9 259.5h0M178.4 241.2h0M171.2 259.7h0M180.8 236.2h0M165.1 257.3h0M199 241h0M191.5 240.8h0M165.9 242.4h0M195.2 250.1h0M164.4 262.4h0M185.9 259.3h0M187.5 249.9h0M169.5 251.6h0M167.5 258.9h0M194.5 242.6h0M181.8 253.5h0M181.1 259.5h0M183.3 245.7h0M175.8 230.4h0M199.9 231.2h0M187.1 267.9h0M194.6 236.2h0M192.7 241.5h0M185.3 257h0M172.7 260.9h0M182.9 264.8h0M194.1 261.5h0M178 240.3h0M165.5 244.8h0M188.3 266.5h0M183 250.2h0M165.3 266.7h0M188.3 244.6h0M181.3 252.1h0M171 240.4h0M175.4 257.9h0M196.4 269.2h0M173 270.5h0M166.6 251.3h0M165.4 244.7h0M198.4 250.7h0M176.3 261.8h0M197.5 241.2h0M194.3 231.7h0M165.2 265.7h0M186.8 269.7h0M178.6 246h0M182.4 255.2h0M196.1 266.2h0M163 243.3h0M186.9 262.4h0M165.4 257.2h0M196.3 232.7h0M180.3 244.9h0M169.9 270.7h0M165 256.4h0M190.3 253.2h0M191.1 236.2h0M193.5 270.5h0M198.1 262.9h0M183.1 259.8h0M192.8 264.4h0M187.7 256.1h0M175.3 237h0M194.8 243.3h0M173.5 262.6h0M164.9 271.5h0M174.9 232.1h0M198.2 232.8h0M177.2 244.7h0M182.6 265.7h0M179.1 256.2h0M198.4 249h0M182.3 241.2h0M167.9 249.7h0M181.6 235.7h0M178.8 263.3h0M197.6 232h0M195.7 235.3h0M186.9 231.4h0M172.4 235.7h0M190.9 247.3h0M178.3 247.9h0M182.1 246.5h0M198.3 241.4h0M167.6 237.6h0M175.8 252.7h0M164.1 260h0M176.3 258.1h0M173.9 268.7h0M174.5 247.8h0M173.2 252.1h0M178 257.8h0M173.6 259.5h0M183.5 248.8h0M187.1 259.9h0M165.9 247.7h0M168.1 234.2h0M169.5 237.3h0M175.4 257.5h0M171.4 267.9h0M169.5 239.9h0M188.2 235.6h0M172 254h0M187.9 263.8h0M185.4 247.6h0M179.1 257.3h0M176.3 233.4h0M176.6 269.5h0M166 256.5h0M195 262.2h0M176.6 245.3h0M172.1 251.2h0M167.5 238.4h0M181.7 258.6h0M198.6 269.9h0M198 266.5h0M163.6 265h0M199.1 235h0M185.7 266.5h0M179 255.7h0M168.1 247.5h0M172.9 252.7h0M195.2 234.7h0M195.4 253.8h0M184.2 241.9h0M193.7 241.2h0M186.9 238.3h0M174.8 253h0M180.9 232.9h0M193.2 251.6h0M169.6 238.1h0M192.7 242.4h0M186.4 239.3h0M165.7 230.9h0M181.2 259.5h0M180.3 234.3h0M177.3 269.3h0M178.4 253.1h0M164.3 250.9h0M184.3 266.8h0M173.3 244.2h0M197.6 237.4h0M176.8 265.1h0M183.3 255h0M163.9 238h0M168.7 260.6h0M163.3 253.4h0M168.8 230.4h0M185.6 257.1h0M187.3 271.4h0M163.1 251.6h0M180.9 270h0M164.2 265.8h0M180.4 264.8h0M177.8 238.7h0M184.4 232.7h0M188.9 238.8h0M188.4 236.8h0M189.3 255.6h0M173.7 269.7h0M177.5 258.4h0M193.5 267.3h0M185.1 261.8h0M196.6 240.6h0M198.2 270.5h0M193.4 243.8h0M194.1 258.2h0M179.6 263.4h0M192.4 246.2h0M182.8 257.2h0M163.8 266.5h0M180 230.1h0M194.1 233.6h0M195.6 233.2h0M167.7 239h0M188 261.4h0M184.9 246.9h0M198.1 252.9h0M182.8 251h0M178.1 249h0M166.8 258.7h0M197.4 258.8h0M183 261.7h0M166.3 244.5h0M182.8 233.4h0M195 266.7h0M190.7 237.3h0M180.6 263.6h0M169.6 265.8h0M181.9 243.7h0M179.4 260.2h0M195.1 242.3h0M178.3 246.1h0M180.7 239h0M176.2 259.4h0M181.1 257.5h0M198.6 230h0M183.1 241.7h0M170.4 270.1h0M170.3 232.2h0M194.5 236h0M164.2 251.4h0M181.8 241h0M174.1 236.9h0M179.3 267.8h0M185 239.4h0M182.1 234.3h0M166 256.9h0M174.2 252.7h0M185.7 261h0M185.4 268h0M169.6 237.2h0M193 259.3h0M178.2 232.1h0M180.1 241.5h0M183.6 266.4h0M191.3 261h0M185.8 241.2h0M180.4 245.4h0M187.6 251.9h0M194 236.6h0M174.4 236.3h0M199.5 265.4h0M198.3 245h0M198.4 231.1h0M164 238h0M168.7 261.7h0M162.9 261.3h0M176 234.7h0M180.3 233.1h0M190.3 244.1h0M198.8 250.3h0M169.1 265.2h0M196.1 268.3h0M182.4 253.4h0M174.7 236.7h0M170 238.8h0M174.8 255.5h0M184.1 262h0M165.9 264.5h0M181.6 265.3h0M171.6 256.2h0M177.8 258.9h0M184.5 260h0M173.9 235.4h0M163.2 261.3h0M183 256.2h0M175 259.7h0M180.5 249.7h0M165.4 261.2h0M172.4 251.1h0M172.4 254.4h0M171.3 238.2h0M176.2 267.4h0M190.2 266.7h0M183.4 240.9h0M197.5 229.9h0M166.9 256.2h0M181.2 251.4h0M173.5 257.9h0M185.9 268h0M193.3 232.6h0M174 266.9h0M194.8 259.6h0M165.3 266.8h0M171.9 264.9h0M188.3 263.4h0M196.4 249.2h0M199.8 263.5h0M184.1 270.1h0M187.7 260.6h0M181.3 246.4h0M170.7 251h0M194.2 240.5h0M188.7 265.3h0M181.7 258.6h0M187.6 253.7h0M179.2 229.8h0M170.3 270.5h0M165.5 249.3h0M193.5 240.3h0M192.5 230.9h0M195.1 263.3h0M197.5 240.4h0M179.5 245.2h0M183 269.7h0M166.8 258.3h0M172.5 229.7h0M193.5 234h0M198.5 240.1h0M169.8 258.2h0M174.5 259.6h0M165.5 251.8h0M192.1 264.7h0M188.5 254.1h0M167.4 243.9h0M190.3 243.3h0M167.7 253.3h0M180.4 239.7h0M164.3 230.1h0M167.7 248.5h0M167.5 267.1h0M192.4 261.2h0M182.9 242.8h0M185.7 271.5h0M199.1 245.9h0M198.4 240.5h0M178.4 242.6h0M187 242.9h0M188.4 266.8h0M199.7 237.2h0M181.6 260.1h0M166.7 265.4h0M192 254.8h0M187.8 262.3h0M180.5 232.1h0M185.4 240.9h0M179.7 246.3h0M184.7 252.3h0M173.2 267.2h0M169.5 241.1h0M194.4 234.3h0M167.4 268.4h0M196.5 244.7h0M199.2 266h0M174 271.5h0M172 232.3h0M163.2 250.8h0M180.3 240.2h0M168.4 258.3h0M175 234.7h0M167.2 233.3h0M192.6 233.9h0M164.2 266.7h0M194.2 263.5h0M173.9 257h0M165.7 264.2h0M198.4 231.5h0M196.9 238.9h0M164.4 261.4h0M186.8 233.5h0M187.6 235.7h0M171.3 257.9h0M170.6 249.7h0M186.2 266.4h0M185.9 258.7h0M195.8 232.1h0M181.9 262.5h0M181.1 254.5h0M182.6 261.5h0M182 241.2h0M162.8 238.5h0M195.2 251.5h0M170.5 259.9h0M184.5 251h0M179.9 254h0M188.4 251h0M181.9 266.8h0M188.1 262.7h0M172.3 234.6h0M175.9 242.8h0M173.7 250.3h0M190.1 271.7h0M188.8 245.2h0M168.6 268.6h0M198.5 256.1h0M195.5 245.4h0M174.6 263.5h0M192.8 235.6h0M175.7 247.1h0M189.9 249.1h0M196.9 267.3h0M169.2 261.9h0M162.9 245.1h0M175.4 238h0M180.5 237h0M187.1 235.1h0M171.9 246.9h0M174.9 258.5h0M194 230.5h0M195.5 261.4h0M172.5 241.9h0M168.1 259h0M187.1 270.4h0M164.6 252.7h0M178.5 241.5h0M168.1 271h0M165.6 254.5h0M190.6 270.6h0M190.7 263.9h0M171.7 237.1h0M183.3 231.2h0M169.7 232.9h0M197.1 236.9h0M173.3 262.9h0M168.6 270.6h0M176.9 235.4h0M166.3 263.6h0M183 262.9h0M175.2 263.3h0M166.4 231.3h0M181.6 260.1h0M170.1 261.8h0M170.6 241.3h0M188.9 265.5h0M189.8 236.1h0M180.1 231.1h0M191.2 240.4h0M188.2 259.9h0M164.3 237.8h0M188.6 256.6h0M194 229.9h0M176.2 267.5h0M187 251.5h0M186.9 268.7h0M191.4 251.3h0M163.9 250.2h0M178.1 252.7h0M177.4 243.7h0M174.3 238.9h0M195.8 261.1h0M194.3 248.8h0M181.9 234.8h0M191.9 261h0M168.9 245.9h0M185.4 270.1h0M175.6 257.1h0M184 234.3h0M195.9 246.6h0M190.9 257.6h0M190.8 253.6h0M199.9 235.2h0M185 254.1h0M166.1 237.5h0M189.8 259.3h0M172.2 257.7h0M191.4 250.1h0M196.7 256.6h0M191.6 233.3h0M186 230.1h0M165.4 252.1h0M187.6 247.2h0M165.5 266.2h0M192.4 251.1h0M196 234.4h0M175.5 269.2h0M168.1 238.3h0M178.3 238.8h0M197.7 259.4h0M198.3 253.1h0M187.2 247.6h0M178.3 229.5h0M167.6 230.5h0M166.9 263.7h0M182.3 242.2h0M163.8 251.7h0M188 234.2h0M166.1 246.6h0M176.6 249.7h0M164.4 271.8h0M165.4 237.1h0M198.6 252.8h0M166.8 262.4h0M176 252.3h0M189.1 270.8h0M172.2 255.1h0M182.3 248h0M183.8 245.5h0M178.4 233.3h0M177.6 271.2h0M190.8 250.9h0M190.2 263.9h0M189.3 245.6h0M185.7 237.9h0M169.9 230.2h0M175.8 236.9h0M163.4 260.7h0M166.1 266.6h0M198.1 269.7h0M194.1 255.5h0M179.4 269.3h0M164 265.7h0M186.9 262.5h0M168.2 262.3h0M182.2 233h0M188.4 255.2h0M183.9 237.1h0M172.1 270.5h0M198.6 264.2h0M179.1 258h0M180.1 247.2h0M165.4 234.8h0M169.1 241.3h0M176.2 267.5h0M183.7 266.5h0M196.2 267.5h0M179.4 259.6h0M183.8 239.8h0M193.6 242.7h0M186.5 231.3h0M178.4 243.8h0M199.4 252.4h0M176 271.5h0M198.4 270h0M183.7 251.8h0M192.2 237.9h0M191.2 250h0M186 268.5h0M183.2 258.9h0M179.8 235h0M169.4 232.1h0M176.9 271h0M178.9 235.2h0M185.4 232h0M170.8 239.2h0M197.3 256.4h0M189.4 230.1h0M180.9 254.1h0M163.1 247.3h0M182.2 244.4h0M199.8 243.7h0M194.3 243.9h0M192.4 263.8h0M181.3 250.3h0M167 265.2h0M163.1 239h0M179.6 250.3h0M197.5 269.9h0M181.2 246.7h0M190.8 233.9h0M168.9 251.5h0M164.2 266.6h0M180.5 237.6h0M167.8 271.7h0M192.2 240.8h0M197.4 243.7h0M171.5 230.3h0M194.4 242.6h0M187.9 233.8h0M199.1 267h0M164.5 263.6h0M170.8 249.9h0M171.7 234.7h0M184.2 260.6h0M173.3 235h0M197.3 232.3h0M180.3 261.4h0M199.2 270.2h0M172.2 238.2h0M186.1 237.6h0M182 254.7h0M182.5 262.2h0M187.7 242.8h0M164.5 269.6h0M167.9 250.1h0M178.8 261.1h0M187.7 265h0M184.3 270.1h0M199.1 254.7h0M175.3 263.5h0M197.1 233.9h0M197.2 232.2h0M187.4 269h0M185.4 269.6h0M184.9 261h0M165.6 238.9h0M179.5 260.9h0M183.6 234.8h0M172.5 240.7h0M185.8 266.6h0M193.2 261.1h0M179.5 248h0M176 247.8h0M195.7 262.4h0M189.3 242.1h0M162.9 238.6h0M191.7 258.5h0M199.9 243.5h0M174.7 259.9h0M194.2 261.7h0M196.8 235.4h0M172.9 247.9h0M182.4 245.5h0M173.7 251.8h0M186.2 232h0M188.7 259.9h0M194.7 246.3h0M167.5 230.2h0M183.4 230.3h0M171.2 251.6h0M162.8 251.7h0M198.6 231h0M165.2 267h0M181.7 257.2h0M194.1 252.3h0M197.8 256.6h0M196.9 258.3h0M193.4 234.4h0M197.1 243h0M198.8 263h0M177.3 261.4h0M191.9 251.7h0M182.8 232h0M189.5 253.5h0M185.3 244h0M176.9 260.6h0M196.4 258.3h0M182.3 245.1h0M194 250h0M173.4 240.9h0M187 246.1h0M199.2 236h0M190 250.8h0M163.7 246.9h0M184 245.8h0M199.3 233.3h0M179.8 254.3h0M171.9 230.7h0M186.9 243.8h0M180.8 236.9h0M183.8 241h0M182 258.6h0M185.9 261.2h0M187.2 233h0M191 250h0M175.8 269.1h0M171.3 265.5h0M162.9 257h0M179.3 264.4h0M181.3 248.7h0M171.3 245.3h0M186.1 258.8h0M172.8 231.8h0M173.2 268.9h0M184.3 241.9h0M198.1 245.3h0M167.5 271.1h0M169 239h0M173.3 248.3h0M195.8 258h0M163.6 232.5h0M174.2 234.2h0M178.8 235.2h0M189.9 244.9h0M199.2 270.4h0M186.7 247.3h0M185.5 235.1h0M195.8 266.9h0M168.9 235.4h0M188.7 267.6h0M165.2 261.8h0M163.5 255.7h0M192.4 260.7h0M162.8 243.1h0M200 260.5h0M176.3 255.7h0M193 243.4h0M176.3 270.5h0M199.9 238.8h0M179.2 247.6h0M189.8 242.6h0M180.2 271.1h0M177.6 265.7h0M192.7 247.4h0M190.9 270.6h0M193.6 259.3h0M198.3 268.4h0M177.2 252h0M182.4 229.8h0M162.7 244.5h0M174.1 271.5h0M163.2 268.9h0M192 244.7h0M187.8 258h0M166.1 250.1h0M191.1 264.7h0M183.7 249.7h0M181.1 263.5h0M180.8 249.6h0M190.2 260.6h0M191.7 243.7h0M187.8 245.4h0M196.3 245.5h0M191.7 269.3h0M175.8 245.6h0M185.3 247.8h0M183 230.9h0M165.1 268.8h0M184.1 267.2h0M189.7 271.7h0M190.8 259.9h0M167.1 247.3h0M195.5 265.7h0M170.8 260h0M181.9 250.6h0M181 244.9h0M199.3 248.9h0M199.2 256h0M169.3 267.9h0M176.9 262.1h0M183.7 254.8h0M173.9 260.8h0M176.5 258.2h0M181.1 262.6h0M199.9 256.7h0M162.8 241.4h0M182.3 267.4h0M193.7 256.8h0M177.1 267.2h0M177.3 271.3h0M193.8 260.2h0M178.4 244.8h0M175.4 245h0M194.4 246.9h0M199.6 232.1h0M183.6 262.9h0M173.9 256.7h0M195.3 261.8h0M181.3 245.7h0M172 238.8h0M186.7 265.5h0M186.6 248.4h0M162.8 237.3h0M184.2 244.6h0M182.9 237.3h0M172.5 243.3h0M176.1 260.8h0M190.7 260.9h0M163.8 245.4h0M183.3 265.2h0M188.3 254h0M196.6 252.7h0M198.9 229.9h0M177.9 255.6h0M196.1 267.9h0M163 254.7h0M178.1 255.9h0M193.7 253.8h0M194.2 235.1h0M172 242.6h0M166.6 231.1h0M182.4 240.8h0M169.1 269.3h0M176.6 241.7h0M175.9 256.6h0M168.3 257.8h0M184.3 231.4h0M167.7 260.1h0M187.7 231.5h0M197.3 232.3h0M168.7 258.7h0M164.7 246.8h0M175.8 233.2h0M196.7 266.6h0M186.5 261.4h0M181.8 254.2h0M181.2 257.2h0M193.9 246.3h0M177.8 242.2h0M198.7 258.2h0M178.8 244.1h0M170.5 246.5h0M192.2 244.5h0M180.5 237.4h0M184.3 241.5h0M167 262.2h0M169.7 250.1h0M188 256.8h0M171.3 238.9h0M174.9 242.3h0M195.3 267.3h0M177.4 263h0M170.2 248.8h0M198.2 249h0M177.4 233.4h0M194.3 237.8h0M180.9 242.3h0M188.5 231.7h0M192.6 251.2h0M190.5 260h0M172 240.6h0M164.5 254.8h0M189.6 269.1h0M176.2 250.4h0M183.4 232.8h0M167 262.2h0M188.3 233.7h0M192.3 249.4h0M199.4 246.9h0M174.7 266.4h0M184.6 252.2h0M193.2 248.6h0M193.3 259.3h0M181.5 240.2h0M184.5 252.5h0M193 230.2h0M168.6 248.5h0M183.5 265.7h0M190.3 260.8h0M196.8 255.8h0M175.1 231.9h0M186.4 236.4h0M163.7 238.8h0M169.2 235.3h0M179.7 252.4h0M163.1 249.2h0M172.1 251.8h0M164.8 233.4h0M177.6 235.9h0M180 236.6h0M190.1 236.4h0M174.8 266.6h0M198.7 232.5h0M187 233.1h0M180.7 261.5h0M168.2 267.2h0M196.6 260h0M194.4 267.4h0M181.8 248h0M176.9 265.4h0M163.8 240.3h0M167.9 238.1h0M174.2 268.8h0M199.1 244.4h0M178.9 258.7h0M176.3 234h0M198.1 241.8h0M199 247.3h0M164.4 240.9h0M165.5 267.5h0M184.9 262.8h0M193.8 241.5h0M199.4 247.7h0M197.9 253.1h0M176.7 268.9h0M189.9 258.7h0M163.5 257.2h0M191.1 258.6h0M166.2 237.7h0M183 232.4h0M194.4 234h0M199.9 247.1h0M178.7 260.5h0M178.6 237.2h0M194.9 255.2h0M174.8 267.2h0M187.5 230.5h0M186.9 258.6h0M193 263.5h0M193.4 256h0M198 234.8h0M166.2 257.7h0M186.6 236.6h0M197.7 242.4h0M180.8 241.3h0M197.8 250.8h0M196 242.4h0M183.9 260.1h0M195.7 269.5h0M183.1 261.2h0M170.9 231.4h0M167 257h0M175.6 256.7h0M193.4 245.9h0M190.6 265.1h0M182.7 248.4h0M197.3 271.2h0M165.6 255.2h0M164.4 267.6h0M187.3 234.5h0M190.8 237.8h0M168.8 258.5h0M200 267.9h0M199.4 257.3h0M180.3 263.4h0M197.7 264.4h0M165.8 258.9h0M189 245.3h0M168.9 245h0M167.9 248.8h0M166.4 249.6h0M170.6 260.2h0M166.7 269.1h0M186.7 256.2h0M186.1 237.9h0M185.7 252.7h0M180.5 237.3h0M185.8 264.9h0M175.1 239.8h0M164.6 266.7h0M181.8 249.7h0M162.7 247.7h0M194.1 234h0M173.6 248.7h0M164.6 248.6h0M193.6 232.9h0M170 261.6h0M165.5 242.9h0M182.1 242.9h0M181.6 261.3h0M200 265.4h0M164.3 253.5h0M187.8 235.2h0M196.3 235h0M164.7 231.8h0M177.9 271.6h0M184.9 253h0M175.2 234.5h0M190.2 245.1h0M188.6 262.6h0M179.9 237.1h0M169.2 268.2h0M185.7 244.3h0M163.6 271.6h0M179.9 258.7h0M194.1 251.9h0M185 233.6h0M190.9 242.9h0M178.2 259.7h0M191.2 235.9h0M183.7 259.1h0M198.1 261h0M188.4 239.8h0M172.6 263.6h0M174.4 267.7h0M184.4 269.9h0M195.7 270.6h0M176.5 262.6h0M184.6 248.9h0M178.2 263.6h0M170.8 267.5h0M168.1 251.5h0M173.5 236.7h0M184 231.5h0M177.4 255.7h0M183.1 263.2h0M165.8 258.4h0M163.4 243.4h0M194.4 236.3h0M184.9 235.2h0M187.8 245.5h0M193.7 266.4h0M198.8 270.3h0M199.6 246.4h0M173 261.8h0M182.2 243.4h0M166.4 265.3h0M187.7 267.2h0M177.9 254.6h0M177.8 245.6h0M179.2 259.8h0M195.4 259.7h0M163.4 233.2h0M169.9 269.3h0M177.8 263.9h0M163.1 239h0M185.1 247.6h0M163.1 231.8h0M195.6 241.7h0M172.2 261.2h0M178.2 246.6h0M173.3 259.5h0M181.5 244.5h0M178.7 239.5h0M181.5 261.1h0M175.7 231.9h0M171.3 253.6h0M183.6 245.9h0M169.5 244.9h0M165.1 266.5h0M166.2 267.8h0M183 252.9h0M186.1 246.8h0M174.6 266.9h0M170.1 232h0M185 266.7h0M177.2 261.4h0M188.5 243.2h0M196.8 253.5h0M175.5 236.3h0M196.6 258.7h0M192.1 249.2h0M186.6 234.1h0M188.6 243.4h0M169.6 242.1h0M189.7 240.9h0M196.8 259.6h0M165.1 247h0M172.2 263.7h0M180.9 259.9h0M163.8 248.3h0M190.6 239.1h0M195.6 248.9h0M182.6 263.6h0M162.7 271.1h0M182.6 246.5h0M195.2 231.8h0M184.4 235.8h0M176.9 241h0M173.5 249.2h0M187.6 236.7h0M165.7 256h0M166.6 270.7h0M173.2 238.9h0M181 244.9h0M166.4 267.7h0M186 253.8h0M175.9 240.4h0M195.8 248.3h0M180.6 262.4h0M176 232.4h0M178.9 264h0M186.5 246h0M186.9 231.2h0M166.9 258.5h0M194.7 247.1h0M182.5 240.6h0M183.3 244.1h0M175.5 246h0M188.6 268.6h0M175.2 271.7h0M176.3 249.2h0M176.4 266.2h0M169.3 258.3h0M172.7 252.4h0M176.4 268.2h0M183.8 269.8h0M183.3 243.9h0M188.6 268.9h0M183.8 264.4h0M167.9 255.7h0M186.6 264.7h0M174 256.9h0M182.4 261.8h0M199.7 243.1h0M188 262.2h0M188.7 265h0M198.4 245.8h0M241.4 51.6h0M226.3 122.8h0M238.6 100h0M237.6 121.2h0M216.9 124.5h0M230.3 126.8h0M211.8 84.2h0M225.1 102.7h0M211.4 143h0M209.3 99.7h0M229 120.8h0M231.5 112.2h0M218.6 92.5h0M215.5 130h0M217.8 104.1h0M237.3 103.8h0M239.4 115.2h0M223.5 114.3h0M220.7 80h0M214.6 120.9h0M232 102.8h0M236.2 124.2h0M233.1 119.2h0M208.2 128h0M230 136.2h0M211.7 108.4h0M240.2 70.6h0M221.7 108.5h0M222.8 109.6h0M225 83.3h0M241.1 136.9h0M213 100.1h0M216.6 115h0M234.6 134.5h0M212.6 110.2h0M210.6 115.4h0M242.4 117.1h0M238.5 75.1h0M209.8 130h0M231.2 111.2h0M241.9 121.7h0M243.1 137.5h0M244.4 61h0M226 136.7h0M237 125.1h0M215.5 96h0M216.3 103h0M222.9 130.8h0M238.3 132.2h0M213.5 58.6h0M235.2 122.5h0M244.5 96.5h0M222.6 131.4h0M235.6 124.8h0M227.7 135.2h0M211.7 75.5h0M237.9 133h0M240.4 122.3h0M244.2 122.1h0M231.8 117.5h0M223.3 113.1h0M234.7 79.2h0M222.1 109.6h0M219.7 126.3h0M227.2 106h0M210 109.3h0M209.1 108.6h0M243.7 80.9h0M220.4 84.3h0M224.8 106h0M235.6 94.9h0M226 107.4h0M242.5 123.5h0M228.4 78.7h0M242.3 116.2h0M217.1 105.8h0M229.8 130.4h0M239 93.8h0M219 132.3h0M214.2 107.4h0M231.3 132.9h0M234.7 106.4h0M213 115h0M216.4 112.1h0M243.9 137.6h0M232.6 98.4h0M230.5 107.9h0M236 109.9h0M243.7 133.6h0M242.2 83.4h0M214.7 86.2h0M213 120h0M208.2 107.9h0M234.1 124.1h0M215.5 120.6h0M221.3 101.3h0M221.4 97.8h0M222.9 137.5h0M238.1 66.1h0M209.5 89.2h0M228 112h0M215.8 108.9h0M212.8 123.6h0M237.5 90.4h0M224.5 83.3h0M233.6 137.5h0M221.3 116.4h0M236.1 136.3h0M240.2 136.9h0M213.4 133h0M208.7 105.6h0M238.6 72.9h0M211.1 122.7h0M218.2 101h0M242 65.5h0M238.7 123.4h0M208.3 132.3h0M215.5 117h0M214 112.9h0M223.3 62.8h0M218.6 116h0M228.5 109h0M234.6 132.1h0M229.4 85.9h0M229.3 121.2h0M227.8 114.3h0M223 138.6h0M229.7 117.2h0M230.3 100.2h0M240.2 92h0M238.5 77.8h0M213.5 122.8h0M237.3 108.8h0M242.9 80.6h0M223.5 143.6h0M216.3 105.9h0M214.7 108.4h0M212.6 78.8h0M215.9 105.9h0M213.1 93.3h0M230.1 110.7h0M209.3 90h0M222.4 126.9h0M218.2 100.4h0M218.2 116.1h0M218.8 88.6h0M233.5 109.5h0M229.8 138.6h0M232.1 117h0M238.2 142.2h0M215.9 92.6h0M219.1 102.9h0M241.4 92.6h0M243.9 114.4h0M220.7 98.8h0M217.8 60.4h0M215.5 59.2h0M229 106h0M224.3 83.5h0M240.3 130.8h0M237.6 99.7h0M207.6 129.4h0M243.4 103.1h0M242.6 87.9h0M241.5 126.1h0M218.2 74h0M217.4 135.4h0M219.3 116h0M221.3 100.6h0M228.2 144h0M208.5 116.6h0M227.7 113.6h0M243.9 102.6h0M243.9 58h0M223 117.3h0M216 90.8h0M244.6 117.3h0M222.1 144.3h0M226.9 92.4h0M219.8 102.5h0M243.9 96.9h0M231.9 127.6h0M232.8 110.5h0M220.7 108.7h0M228.2 139.5h0M218.7 130.4h0M244 123.7h0M222.5 117h0M227.1 103.8h0M214.5 126.9h0M218.2 140h0M229 123.7h0M224.4 106.7h0M237.3 123h0M228.1 138.5h0M221.4 107.2h0M244.4 142.8h0M242.4 131.9h0M223.7 124h0M244 105.4h0M215.6 140.3h0M230.7 131h0M217.6 92.4h0M222.5 78h0M215.7 141.7h0M226.4 141.6h0M218.3 94.5h0M235.1 114h0M220.2 122.8h0M242.3 121.5h0M232.5 115.2h0M232.4 119.9h0M219 94.6h0M238 95.8h0M214.2 129.3h0M223.7 123.2h0M229 120.5h0M234.1 111.6h0M209 132.1h0M223 110.7h0M209.2 114.2h0M242.1 119.1h0M217.3 122.2h0M236.1 112.2h0M217.9 140.2h0M222.5 106h0M208.4 84.8h0M233.9 100h0M222.3 130.2h0M242 143.2h0M208.7 131.3h0M234.4 97.9h0M232.4 62.7h0M229.3 128.9h0M210.1 133.6h0M218.7 74.6h0M212.9 100.9h0M241.4 132.8h0M221.9 56.5h0M220.7 128.4h0M244.7 54.4h0M232.3 81.6h0M241.9 83.5h0M221 87.8h0M217.1 136.3h0M241.5 139.2h0M226.4 66.3h0M224.1 110.1h0M216.6 138.1h0M232.2 126.6h0M240.3 132.6h0M236.7 58h0M238.7 120.1h0M225.6 89.3h0M216.7 143.9h0M224.3 111.2h0M220.5 118.1h0M236.4 107.4h0M238.5 106h0M243.7 104.1h0M224.5 97.4h0M211.2 71.1h0M234.9 140h0M217.8 125.7h0M218.7 75.7h0M237.5 135.2h0M230.6 106.2h0M224.9 73.2h0M218.2 116.2h0M238.1 104.6h0M226.4 73.7h0M231.8 109.2h0M221.9 70.6h0M236.7 142.3h0M209.5 124.8h0M217.9 99.6h0M232.2 106.6h0M232.8 132h0M226.8 96.2h0M230.9 99.2h0M213.3 112h0M224.9 100.3h0M225.2 89.6h0M229.9 104.4h0M215.5 125.3h0M219.2 110h0M224.5 125.2h0M222.6 85h0M224.7 72h0M213.3 133.2h0M211.5 112.5h0M230.1 135.8h0M236.8 111.2h0M210.5 125.4h0M237.7 113.4h0M241.7 95.7h0M232.7 117.5h0M234.5 126.2h0M228.6 122.7h0M218.6 121h0M233.8 118.3h0M226.2 251.7h0M223.3 257.8h0M215.6 271h0M228.8 229.8h0M221.9 258.9h0M220.4 246.4h0M237.2 239.8h0M218 266h0M224.7 253.4h0M235 235.1h0M244.6 252h0M241.3 268h0M211.7 240.6h0M211.6 263.8h0M214.1 258.6h0M209.6 259.3h0M240 233.2h0M224.4 251.3h0M236.9 270.6h0M234 239h0M224.9 245.8h0M216 242.7h0M217.8 242.3h0M240.2 237.5h0M228.5 245.5h0M232.9 263.8h0M243.2 236.1h0M238.9 268.9h0M238.6 243.4h0M208.7 256.6h0M233.7 245.5h0M243 252.5h0M238.8 262.9h0M220.4 271h0M207.6 267.9h0M210.8 263.3h0M224 250.6h0M231.4 232.5h0M215.9 262.8h0M236.4 239.9h0M208.2 251.9h0M242.8 242.5h0M218.4 241.2h0M240.7 248.6h0M222 263.7h0M208.6 257.7h0M221.5 232.2h0M212.8 256.3h0M239.5 231.3h0M209.6 237.4h0M210.5 233.1h0M229.2 241.6h0M218.2 257.3h0M220 251.3h0M211.6 254h0M207.6 255.9h0M215.4 268.5h0M214.6 253h0M217.4 248.3h0M236.7 256.6h0M244 265.2h0M228.1 248.8h0M218.3 244.4h0M243.9 251h0M235.5 231.9h0M229.9 243.2h0M234.4 240.7h0M219.1 250.5h0M207.7 248.4h0M241.5 233.6h0M222.4 233h0M208.9 257.8h0M215.3 268.9h0M223.8 270.2h0M230.1 254.3h0M226.5 233.3h0M237.1 261.2h0M233 260.6h0M222.9 234.9h0M209.1 251h0M211.4 261.9h0M217.5 253.4h0M243.2 236.4h0M235 255.7h0M228.7 255.2h0M209.9 266.4h0M215.7 245.5h0M222.3 254.7h0M216.3 268.4h0M241.9 240.9h0M223.6 260h0M235 245.3h0M234.5 235.8h0M237.7 239.1h0M241.7 232.6h0M208.5 266h0M241.7 236.3h0M218.5 264.1h0M229.2 263.4h0M233.3 239.9h0M212.9 247h0M234.4 265.5h0M223.5 239.8h0M221.4 258.4h0M227.2 240.4h0M211.1 269.7h0M225.6 240.2h0M244.7 271.2h0M231.6 229.9h0M215.3 235.3h0M226.2 235.2h0M243.7 271.5h0M241.1 245h0M210.3 258.6h0M217.8 267.6h0M212.5 270.9h0M226.7 267.6h0M214.4 251.3h0M236 250.2h0M244.2 253h0M241.4 252.1h0M235.1 235.2h0M240.6 254.9h0M224.9 243.7h0M217.1 263.9h0M239.2 245.2h0M225.9 256.9h0M236.1 230.2h0M216.4 247.1h0M212.7 245.8h0M237.4 265.1h0M232.8 270.4h0M223.4 236.3h0M207.6 271.6h0M213.1 244h0M217.8 236.7h0M210.1 255.7h0M223.6 266.2h0M211.3 236.8h0M220.6 251.7h0M211.6 250.7h0M226.5 244.5h0M226.3 233.1h0M229.6 265.1h0M231.2 235h0M212.9 233h0M227.4 229.9h0M218 237h0M241 234.6h0M232.8 235.6h0M224.4 263.6h0M220 254.1h0M233.2 264.1h0M233.9 232.8h0M225.5 235.5h0M225.7 237.3h0M235 257.2h0M209.6 243.3h0M241.8 248.5h0M230.7 252.8h0M231.4 261.9h0M243.3 269.6h0M237.7 260.7h0M217.4 235.5h0M229.3 259.6h0M236.5 266h0M214 243.5h0M211.7 257.3h0M217.9 250.4h0M232 246.5h0M230.6 256.3h0M241 232.1h0M241.5 259.3h0M231.7 255.4h0M235.5 267.1h0M209 256.3h0M234.4 230.5h0M222 265.3h0M224.1 238.4h0M235.8 265.1h0M215.1 235h0M235.4 238.3h0M240.8 240.1h0M214.8 246.9h0M212.8 247.1h0M208.4 266.7h0M221.7 247.1h0M215.8 231.1h0M239.7 271.3h0M240.2 247.3h0M239.6 267.9h0M228.8 260.2h0M234.3 251.1h0M243.9 254.9h0M241.2 237.1h0M224.1 261.4h0M218.3 265.4h0M229.1 246.1h0M216.6 270.5h0M232.1 265.3h0M218.8 268.4h0M240.8 257.6h0M233.7 266.9h0M231.3 265h0M214.7 252.9h0M244.1 251.4h0M209.1 269.5h0M216.5 242.3h0M214.4 265.1h0M214.9 261.9h0M243.9 243.9h0M229.3 234.8h0M235.8 241.1h0M232.9 232.3h0M243.4 240.4h0M232.6 243.4h0M242.7 230.7h0M241.7 256.3h0M209.8 261h0M221.8 261h0M240.9 238h0M220.6 257.6h0M231.8 232.5h0M216.5 232h0M214 231.5h0M217.6 261.1h0M218 271.2h0M235.1 263.3h0M230.2 256.7h0M238.5 235.4h0M227.4 268.5h0M210.8 237.4h0M243.9 240.3h0M218 242.9h0M208.8 251.7h0M236.7 262.9h0M208.7 242.5h0M237.8 267.6h0M215.4 261.8h0M231.5 269.9h0M244.3 230.8h0M214.4 259h0M229.9 267.2h0M208.6 256.4h0M237.2 238.5h0M214.8 230.1h0M229.3 232.4h0M236.9 235.3h0M236.8 248.6h0M243.9 268.1h0M221.2 237.6h0M220 263.1h0M220.1 269.2h0M217.1 256h0M218.1 260.1h0M234.6 247.4h0M212.8 264.5h0M215.5 236.8h0M232.8 262h0M237.8 259.8h0M226.1 239.4h0M220.7 229.7h0M217.3 254.9h0M215.5 263.1h0M233.1 248.2h0M232.4 238.9h0M209.4 246.4h0M231.9 234h0M233 264.3h0M232.4 266h0M238.9 262.4h0M227.4 254.7h0M216.4 236.3h0M211.7 233.1h0M218.5 246.1h0M238.5 253.3h0M241 240.9h0M214.7 264.8h0M214.9 254.4h0M215.8 232.2h0M207.8 238.1h0M237.7 230.6h0M239.8 266.1h0M208.4 232.6h0M221.6 265.8h0M233.8 244.1h0M219.9 251.9h0M211.8 235.8h0M241.4 259.6h0M215.9 231.1h0M217.5 251.7h0M226.3 250.2h0M211.9 240.7h0M237.9 247.2h0M227.7 235.4h0M228.9 263.8h0M242.3 244.2h0M244.8 262.6h0M225.6 242.2h0M239 248.5h0M228.1 255.7h0M240.9 251.3h0M212.5 244.4h0M216.7 237h0M244.1 233.5h0M237.4 253h0M227 248.7h0M240.9 239h0M222.7 247.3h0M240 260.9h0M225.5 271.7h0M238.4 247.4h0M215.1 247.5h0M219 249.7h0M236.4 240.4h0M230.9 244.3h0M211.8 242.3h0M236.5 262.5h0M230.4 259.3h0M226.3 236.9h0M236.9 264.7h0M231.2 254.5h0M209.6 236.7h0M208.2 265.3h0M222.5 240.2h0M233.6 259.1h0M242.3 266.2h0M216.9 241h0M219.9 234.7h0M243.5 233.8h0M225.9 253.8h0M241.7 231.9h0M236.3 239.9h0M217.7 238.2h0M227.6 235.3h0M228.9 241.5h0M216 259.7h0M226.8 235.1h0M224.3 246.4h0M213.7 245.1h0M234.7 234.7h0M233.3 256.3h0M226.7 256.5h0M241.7 237.8h0M224.7 252h0M221.6 240.6h0M222.7 271h0M212.2 263.5h0M217.7 254.8h0M218.9 239.4h0M231.6 246.3h0M239.8 246.7h0M239.5 236.1h0M237.2 248h0M217.2 246.2h0M231.4 267.3h0M227.1 260.1h0M243.3 259.6h0M243.8 260.8h0M218.7 244.3h0M238.7 266.9h0M223.8 267.1h0M243 247h0M213.8 238.1h0M218.9 236.8h0M221.9 247.2h0M208.9 249h0M226.6 244h0M225.6 231.8h0M232 267.8h0M239.7 269.5h0M208.3 250.4h0M229.1 232h0M220 265.1h0M235.9 235.1h0M225.1 252.3h0M228.3 234.9h0M234.1 253.8h0M210.4 267.7h0M219.6 264.7h0M220.4 247.1h0M224 263.7h0M225.3 232.5h0M208.1 235.8h0M221.8 231.7h0M207.6 248.6h0M241.3 235.3h0M244.2 252.5h0M243.2 252.4h0M222 258.7h0M213.1 231.6h0M232.3 263h0M213.7 242.1h0M242.3 256.6h0M244.8 240h0M215.3 252.1h0M234.2 237.2h0M215.2 268.8h0M212.9 239.6h0M216 238.3h0M216.4 247.2h0M216.5 257.5h0M223.2 240.8h0M209.5 236.7h0M207.7 233.3h0M209.4 258h0M240.8 249.8h0M219 255.5h0M223.5 246.5h0M209.6 243.1h0M212.9 236.1h0M219.9 238.3h0M230.6 233.8h0M226.6 237.9h0M226.1 258.8h0M236.7 260.8h0M215.5 248.4h0M233.5 231.3h0M218.4 245.1h0M214.3 233h0M225.2 267.2h0M239.1 265.3h0M216 240h0M216.4 267h0M242.6 254.8h0M223.4 249.2h0M239.8 270h0M234 268.7h0M209.3 239h0M242.1 230.4h0M240.6 252.5h0M216.4 270h0M217.8 270.5h0M217.7 237.1h0M242.7 271.6h0M225.6 244.4h0M237.6 264.3h0M221.1 267.5h0M226.7 239.3h0M230.5 269h0M214.9 266.4h0M241.9 251h0M237.2 253.6h0M224.1 263.7h0M233.4 258.7h0M227 248.1h0M240.5 263.8h0M221.3 271.2h0M228.1 258.1h0M216.5 265.5h0M217.1 249.2h0M234.1 263.5h0M211.6 229.8h0M229.7 235.5h0M220.4 262.3h0M229.4 232.9h0M223.6 255.5h0M220.5 241h0M237.9 239.3h0M234.2 245.6h0M216.1 252.7h0M232.6 241.3h0M241.9 266h0M217.2 236h0M214.6 233.7h0M234.4 245.8h0M229.6 268.2h0M221.6 235.7h0M218 235.6h0M226.3 253.8h0M217.9 236.8h0M231.1 267.4h0M219.6 254.9h0M236 242.2h0M232 230.1h0M231.3 269.9h0M208.8 231.5h0M214.5 262.7h0M231.9 247.4h0M218.3 258.1h0M241.7 258.4h0M222.4 249.3h0M240.2 258.5h0M242.2 258.6h0M243.3 262.6h0M232.7 240.1h0M211.9 238.4h0M242.9 243.9h0M219.1 242h0M244.3 268.7h0M220.7 261.5h0M210 264.3h0M209.9 229.9h0M216.6 243.7h0M224.3 265.8h0M225.8 265.5h0M220.2 245.2h0M224.6 231.5h0M243.9 269.7h0M211.2 268.9h0M238.7 248.2h0M210 236h0M210.7 238.2h0M234.2 260.8h0M209.4 271.3h0M237.2 259.2h0M210.5 237.1h0M237.1 270.9h0M214.5 232.4h0M213.9 257.4h0M213.2 247.9h0M225.7 233.4h0M239.2 252.4h0M220.8 229.7h0M228.2 232.5h0M219.9 236.5h0M231.8 270.5h0M230.2 257.8h0M233.2 238h0M210.9 270.5h0M220.4 265h0M232.1 238h0M213.8 265.5h0M226.3 237.8h0M226.5 238.2h0M208.5 271.4h0M215.1 247.6h0M229.6 236.5h0M225.1 269.6h0M233.7 253.1h0M243.7 265.8h0M214.2 243.6h0M230.2 268.3h0M213 266.8h0M212 262.9h0M212.1 235.1h0M223.1 244.8h0M242.6 257.3h0M229.2 247.7h0M221.9 246.9h0M207.7 240.7h0M234.6 240.3h0M233.2 263.3h0M222.9 248.2h0M216.6 237.5h0M229.5 271.7h0M227.6 246.6h0M218.5 250.3h0M223.6 247.2h0M240.9 267.5h0M224.6 241.7h0M243.2 238.9h0M225.6 235.3h0M224.8 230h0M208.1 249h0M226.2 235.9h0M218.9 249.5h0M219.7 231.8h0M211.4 244.2h0M215.8 254.9h0M234.1 252h0M226.2 230.1h0M241 256.4h0M238.9 258.7h0M215.9 257.5h0M235.8 263.9h0M242.2 250.1h0M241.5 231.6h0M227.8 244.6h0M213.8 263.2h0M208.1 250.5h0M243.3 231h0M223.5 238.8h0M242.4 234.6h0M239.5 250.9h0M224.9 241h0M229.6 239.9h0M229 259.4h0M219.1 254.2h0M208.3 269.8h0M232.5 236.5h0M239.2 270.7h0M242.8 239.9h0M228.9 248.8h0M230.6 256.9h0M241.2 266.7h0M240.9 242.9h0M233.1 242.9h0M231.4 236.2h0M244.7 242.2h0M222 257.6h0M211.9 270.2h0M231.8 261.1h0M224.8 230.2h0M244.9 234.4h0M231.3 233.7h0M212.2 252.5h0M229 269h0M217.4 255.6h0M219.7 236h0M215.1 231h0M222.2 250.5h0M212.9 261.7h0M227.1 238.2h0M219.3 258.6h0M212.2 238.2h0M221.7 244.9h0M216.5 263.2h0M235.4 243.9h0M209 238.3h0M241.8 270.6h0M218.1 242.9h0M215.4 249h0M240.7 262.8h0M222.5 259.6h0M242.6 265h0M232.5 237.3h0M244.4 236.8h0M222.9 263.2h0M218.5 260.8h0M226.8 232.2h0M224.6 232.7h0M229.1 265.6h0M215.5 240.7h0M226.6 253.1h0M214 267.7h0M224.3 249.2h0M214.5 245.4h0M227.9 245.7h0M219.5 237.7h0M242.7 251.8h0M220.5 249.9h0M226.9 231h0M211.9 244.1h0M230.6 249.6h0M235 244.4h0M209.9 256.2h0M227.2 231.6h0M228.4 255.1h0M220.4 239.2h0M222.4 259.9h0M216.1 251.9h0M225.5 256.1h0M235.8 229.6h0M244.5 263.5h0M233.8 269.4h0M217.5 249.2h0M223.2 259.3h0M211.9 243.2h0M234.1 255.1h0M213.3 262h0M231.4 238.2h0M240.7 235h0M231.1 268.7h0M228.6 240.6h0M220.5 261.9h0M230 257h0M236.6 267.9h0M227.9 257.8h0M230.1 267.1h0M219.2 258.6h0M228.4 234h0M243.8 238.9h0M241 238.9h0M214.7 243.6h0M219.6 253.9h0M230.6 271.5h0M219.1 233.8h0M226 234.2h0M219.4 251.8h0M224.2 258h0M232.9 264.2h0M238.6 240.4h0M216.3 230.8h0M243.1 230.7h0M239 252.2h0M211 271.4h0M208.3 267.6h0M237.2 259.2h0M240.8 245.8h0M226.2 261.9h0M213.5 241.4h0M227.8 232.7h0M214.6 251.7h0M210.5 251.9h0M232.6 242.3h0M227.1 235.9h0M240.5 235.2h0M242.4 238.4h0M243.6 268.3h0M233 241.4h0M243.9 232.5h0M208.9 258.8h0M211.5 235.4h0M242.6 244.2h0M219.7 262.9h0M207.9 263.7h0M222.1 252.5h0M241.9 232.7h0M244.8 257.3h0M230.8 256.6h0M225.4 234.9h0M228.4 267.4h0M224.7 256.5h0M208 244.6h0M214.5 238.7h0M209.6 233.4h0M244.8 261.5h0M238.6 259h0M239.3 238.4h0M239.5 245.6h0M218.7 239.6h0M215.9 251.8h0M234.7 240.4h0M244.3 262.9h0M220.7 257.2h0M229.5 249.3h0M241.9 254.6h0M243.5 253.5h0M224.2 249.7h0M219.7 230.7h0M208 249.9h0M211.9 248.1h0M240.6 240.8h0M211.8 268.2h0M225.7 254.4h0M218.7 231.8h0M223.5 252.1h0M210 253.6h0M230.4 255.4h0M228.8 237.5h0M240.9 269h0M227 255.6h0M224.5 261.2h0M221.5 259.4h0M235 253h0M230.1 254.3h0M220.6 245.8h0M224.2 257.2h0M221.7 248.2h0M231 241.8h0M214.8 266.6h0M227.4 257h0M232.4 256.4h0M207.9 246.4h0M227 244.9h0M242.2 256.1h0M232 257.3h0M237.3 244.3h0M240.7 235h0M224.5 250.2h0M227.9 258.8h0M212.1 271.6h0M229.8 232.2h0M216.1 239.1h0M227.3 271.7h0M221.2 241.9h0M217 239h0M244.1 235.2h0M221 260.6h0M244 234.1h0M211.1 267.1h0M228.2 266.3h0M224 271.2h0M207.9 247.9h0M216.5 253.9h0M215.9 266.8h0M220 266.8h0M234.3 263.6h0M229.1 269h0M217.4 244.7h0M211.4 239.4h0M219.4 242.2h0M207.8 264.3h0M226.5 250.7h0M233.5 236.2h0M235.3 238.3h0M240.4 236.7h0M211.1 242.7h0M215.2 235.9h0M219.3 235.1h0M221.6 270.6h0M235.7 246.2h0M210.8 232.6h0M219.8 266.3h0M214.4 236.9h0M244.1 261h0M234.2 246.4h0M215.2 249h0M220.2 242.8h0M237.2 240.1h0M222 233.3h0M208.8 260.6h0M230.5 270.3h0M214.7 257.1h0M239.1 238.1h0M208.1 270.8h0M215 264.1h0M229.9 232.8h0M239 233.5h0M218.3 265.2h0M226.7 235.6h0M209 261.2h0M212.2 259.3h0M213.7 245.5h0M227.6 232.9h0M241.6 242.2h0M234.7 267.7h0M231.7 251.1h0M225.1 243.6h0M223.3 252.7h0M239.4 248.3h0M235.1 271.3h0M219 265.8h0M215.9 232.6h0M236.1 250.6h0M241.8 260.5h0M218.7 262.4h0M225.6 231.8h0M240.1 243.5h0M286.3 78h0M279.6 109.3h0M288.1 129.4h0M289.4 123.1h0M273 93h0M274.2 136h0M286.1 139.4h0M273.1 138.8h0M256.9 133.8h0M283.9 81.4h0M271.1 126.8h0M274.2 115.9h0M277 142.7h0M260 79.4h0M260.1 119.4h0M259.1 130.3h0M278.9 140.3h0M267.4 124.7h0M280.1 140.4h0M266.6 141.6h0M253 97.5h0M283.7 142.7h0M279.1 109.1h0M258.1 98.9h0M258.7 130h0M253.2 90h0M285.4 124.6h0M284.3 137h0M263.4 98.4h0M284.2 133.3h0M258 83h0M277.1 143.1h0M287.1 121.7h0M273.8 77.9h0M289.7 136.9h0M260.6 128.1h0M289.5 123.7h0M279.5 111.4h0M279.2 88.9h0M256.2 139.9h0M281.2 93.3h0M287.5 132.5h0M268.9 129.2h0M283.7 95.2h0M274.1 134.3h0M272.3 107.7h0M282.8 87.9h0M261.2 141.9h0M275.5 106.2h0M260.9 130.1h0M266.7 135.1h0M279.1 134.3h0M271.5 143.9h0M284.3 118.6h0M253.9 78.8h0M280.7 138.7h0M277 100h0M264.8 103.3h0M276.1 101.2h0M255.3 96.9h0M287.2 85h0M280.2 78.8h0M272.5 125.3h0M268.8 84.8h0M268.3 108.5h0M275.6 92.5h0M257.3 108.7h0M277.6 105.1h0M287.3 139.9h0M254.4 127.3h0M267.3 131.2h0M262.7 245.5h0M276.8 235.4h0M268.6 251.4h0M271.3 261.2h0M262.5 236.3h0M277.4 253.1h0M280.3 256.3h0M281.1 244.6h0M262 254.2h0M275.9 234.8h0M288 265.3h0M283.2 264h0M261.6 254.5h0M284.7 242h0M270.6 241.1h0M253.1 252.7h0M259.9 234.2h0M281.8 263.2h0M258.5 233.2h0M258.7 271.2h0M274.4 263.3h0M280 266.4h0M281.2 233.6h0M254 259.8h0M263.4 269.4h0M272.1 249.1h0M273.8 253h0M284.4 232.3h0M256.1 251.6h0M259.5 250.8h0M279.3 247.8h0M258.5 261.4h0M288.7 241.7h0M259.4 256.1h0M261.7 255.3h0M277.1 232.6h0M257.7 234.2h0M288.6 258.2h0M280.5 232.4h0M254.6 235.5h0M253.2 230.2h0M286.4 260.4h0M258.1 230h0M267.7 231.5h0M259.6 243.1h0M256.4 264h0M257.8 256.2h0M257.3 257.2h0M289.4 237.8h0M269.3 240.8h0M289.8 257.5h0M256.8 252.7h0M278 257.8h0M266.8 254.2h0M254.8 264.2h0M272.8 252.6h0M281.6 268.3h0M266.8 239.6h0M266.7 254.7h0M289.6 232.2h0M257.7 248.7h0M253 236h0M257.7 268h0M287.8 253.3h0M274.6 262h0M277.7 241.5h0M260.2 263.6h0M267.8 239.2h0M285.7 254.8h0M262.4 254.5h0M258.1 260.2h0M252.8 234h0M274.1 253.9h0M273.2 249.2h0M260.3 237.4h0M267.5 254.2h0M286.7 250.6h0M280.3 249.3h0M270.8 232.1h0M259.9 231.8h0M266.8 237.5h0M287.4 236.2h0M263.8 242.2h0M266.3 232.5h0M272.9 262.7h0M275.5 267.3h0M268.4 256.7h0M269.3 264.8h0M260.8 235.4h0M254.6 263.2h0M275.9 237.1h0M269.9 258.4h0M268.2 257.1h0M253.9 254.4h0M288.9 246.9h0M265.2 253.8h0M289 255.9h0M268 249.2h0M284.3 264.3h0M277.4 239.1h0M265.7 242.1h0M266 263.5h0M270.6 268.2h0M257.3 266.2h0M253.7 246.6h0M285.7 265.8h0M269.8 250.1h0M266.9 270.5h0M257.6 242.4h0M282.5 268.4h0M279.7 251.8h0M277.5 264.9h0M276.7 234.1h0M270.2 266.4h0M276.6 247.6h0M260.9 237.6h0M289.6 258.3h0M277.3 234.3h0M253.9 250.8h0M263.9 236.3h0M257.4 258.8h0M275.7 245.3h0M289.7 261.4h0M259.6 264.9h0M275.1 253.2h0M274.8 252.9h0M261.4 245.7h0M285.1 257.7h0M277.1 258.4h0M261.9 270h0M283.4 253.8h0M252.5 257.1h0M283 251.1h0M267.2 238.1h0M269.4 271.1h0M274.8 252.5h0M269.5 265.4h0M278.8 267.5h0M275.5 246.5h0M254.4 242.2h0M254.2 250h0M284 242.1h0M259.9 270.6h0M265.7 236.5h0M257.8 248.6h0M258.3 263.6h0M262.6 252.3h0M256.8 256.9h0M284.2 250.4h0M259.7 230.2h0M283.7 232.6h0M261.5 257.9h0M258.9 267.6h0M279.7 250.2h0M254.9 254.9h0M259.3 231.5h0M286.1 269.5h0M254.2 242.2h0M259.9 256.4h0M286.8 267.2h0M281.5 262.6h0M283.6 262.4h0M279.5 245.6h0M278.4 230h0M289.3 248.3h0M269.4 262.7h0M274.3 259.4h0M252.8 255.6h0M262.1 239h0M286.7 259.3h0M280.8 256.1h0M257.9 256.4h0M274.2 240.3h0M268.1 261.4h0M264.9 258.9h0M258.8 242.8h0M274.1 247h0M287.2 234.1h0M279.8 229.9h0M287.5 244.2h0M253.4 241.6h0M266.6 258.7h0M277.4 264.1h0M277.2 248.2h0M264.7 258.3h0M276.9 237.7h0M254.2 253.6h0M268.6 236.3h0M272.1 233.3h0M263.5 246.2h0M280 261.3h0M274.8 232.3h0M275.1 271.5h0M261.1 271.2h0M264.7 238.8h0M258.4 239.4h0M271.2 240.3h0M281.3 263.8h0M281.1 231.2h0M262.4 256.5h0M284.6 229.8h0M261.9 235.2h0M282.2 242.4h0M286.7 269.5h0M284.1 265.4h0M254.5 249.5h0M257.7 239.4h0M257.5 234.4h0M254.3 243h0M284.4 242h0M271.5 239.7h0M253 265.5h0M272.8 260.3h0M285.8 230.8h0M256.2 263.1h0M274 270.2h0M260.4 256.4h0M278.8 230.8h0M259.2 259.7h0M273.9 230.9h0M265.3 242.5h0M273.6 266.2h0M278.6 234.5h0M273.7 260h0M270.2 269.8h0M254.5 257h0M263.7 242.2h0M271.6 247.7h0M278.3 234.4h0M261.9 231.8h0M253.4 254.3h0M282.7 243.4h0M266.5 260.4h0M280.5 236.6h0M255.5 266.3h0M272.9 247.2h0M260 258.8h0M275.2 264.3h0M287.9 263.3h0M277.5 258.4h0M262.7 242.1h0M282.8 245.3h0M262.9 254.7h0M271.8 267.7h0M276.9 270.9h0M265.3 260.6h0M270.4 271.4h0M267.5 258h0M259.1 251.6h0M267.9 245.1h0M258.4 260.9h0M276.5 237.9h0M285.4 249.5h0M269 230.3h0M280.7 264.7h0M271.8 244.4h0M252.6 246.3h0M261 232.9h0M259.6 266.4h0M273.3 241.6h0M276.7 259h0M265.2 242.6h0M282.2 230h0M263.4 245.5h0M270.9 238.3h0M264.6 235.8h0M259.6 234h0M264.7 251.8h0M285.1 234h0M267.9 232h0M254.6 241.9h0M268.9 242h0M262.1 258.7h0M286.1 245.5h0M269.1 256.3h0M281.8 238.5h0M261.4 268.9h0M266.4 265.5h0M253.4 249.8h0M261.5 239.8h0M283.3 238.1h0M264.4 269.7h0M263.7 263.4h0M259.7 254.1h0M271.7 268h0M282.2 254.5h0M270.8 251.7h0M270.2 259.6h0M263.6 253.9h0M260.8 236h0M274.5 270.6h0M259.5 230.3h0M271.6 254.2h0M286.2 271.3h0M282.6 232.5h0M280.3 271.1h0M266.7 269.8h0M278.1 256.1h0M279.2 263.2h0M265.1 264.2h0M274.8 263.1h0M264.6 270.2h0M284.6 255.7h0M278.5 261.6h0M258.3 235.7h0M276.8 243h0M277.1 230.9h0M259.7 234.6h0M273 241.2h0M287.9 259.9h0M255.7 239.2h0M274.5 265.8h0M279.2 268.4h0M266 235h0M269.3 238.8h0M284.7 241.6h0M259.5 267.4h0M288.4 271.8h0M285.1 245.8h0M279.9 269.5h0M276 244.9h0M265.1 261.9h0M255.8 249.6h0M282.2 236.1h0M278.7 242.6h0M279 247.7h0M255.7 241.6h0M262.1 257.7h0M269.8 238.2h0M285.8 250.5h0M268.7 259h0M274.9 248.1h0M263.6 235h0M287.6 255h0M260.3 254.9h0M282.2 270.4h0M266.2 238.9h0M280.9 230.9h0M283.4 238.7h0M281.5 259.9h0M261.5 253.4h0M274.7 231h0M271.9 230.1h0M257.7 262.2h0M272.7 248h0M260 235.9h0M258.9 255.3h0M260.7 235.9h0M286 269.1h0M273.9 234.2h0M253.6 246.9h0M276.8 240.1h0M288.3 230.3h0M265.5 241.6h0M257.7 269.6h0M270.1 235h0M264.4 242.7h0M288 254.1h0M254.1 247.1h0M284.3 245.3h0M254.7 247.8h0M260.9 240.1h0M264.4 244.3h0M279.3 257.9h0M257.9 231.4h0M285.2 264.3h0M259.1 262.9h0M255.3 258.8h0M260.7 258.1h0M284 265h0M279.6 249.3h0M285.9 269.5h0M275.5 256.9h0M278 244.6h0M269.6 235.5h0M255.9 233.1h0M268.4 257.7h0M287.9 238.3h0M272.6 241.8h0M259.4 250.2h0M280.8 271.5h0M263.7 267.2h0M286.5 268h0M259.1 269.3h0M255.6 236.1h0M278.7 233.3h0M269.8 231.6h0M279.7 244.5h0M279.4 231.5h0M263.5 270h0M280.2 246.6h0M284.1 242.4h0M260.8 271.6h0M257.9 249.4h0M267.2 253.1h0M279.6 270.6h0M282.8 271.5h0M266.8 264.4h0M256.7 257.6h0M286.9 244.2h0M258.9 271h0M267.6 250.4h0M274.7 255.7h0M285.4 240.5h0M281.5 248.5h0M289.1 260h0M274.5 251.3h0M261 262.2h0M282.9 231.4h0M280.5 258.9h0M259.9 263.4h0M276.4 266.6h0M273.2 269.4h0M254.6 266.1h0M273.1 236.5h0M266.9 257.7h0M285.6 232.5h0M285.7 232.5h0M278.9 239.4h0M261.3 254.6h0M261.5 243.4h0M262.8 252h0M263 252.5h0M278.5 234.6h0M287.9 240.6h0M262.3 246.6h0M286.2 259.9h0M279.9 245.2h0M289.6 243.5h0M253.8 242.2h0M272.7 229.7h0M263.2 255.9h0M267.7 247h0M259.5 244.9h0M277.4 252.5h0M285.4 230.6h0M270.2 240.5h0M277.6 238.7h0M274.2 246.7h0M271.5 246.8h0M289.2 233.2h0M264.8 247.5h0M263.5 265.3h0M268.3 263h0M273.9 234.4h0M260 241.4h0M287.5 271.4h0M282.7 249.4h0M263.8 257.8h0M274.2 235h0M280.7 237.6h0M260.7 254.7h0M288.6 262.4h0M288.7 249.8h0M253.1 248.5h0M265.6 249.1h0M272 268.3h0M258.5 270.1h0M253 245.7h0M279 231.7h0M260.8 230.9h0M286.9 247.9h0M252.6 239.5h0M278.5 259.2h0M287.2 235.4h0M287.5 266.1h0M272.9 264.3h0M257.1 259.2h0M265.7 256.7h0M264.2 243.7h0M282.8 232.9h0M252.8 261.8h0M253.3 251.2h0M258.7 252.6h0M264.4 270.1h0M262.3 251.6h0M252.8 267.7h0M260.9 242.3h0M266.4 261.1h0M264.7 265.9h0M269.5 234.8h0M258.1 233.1h0M273.9 251.6h0M259.2 238.5h0M269.1 251.6h0M277.5 249.9h0M252.9 235.5h0M282.2 232.2h0M258.2 259.2h0M264 243.5h0M267.9 268.5h0M255.7 259.7h0M260.9 231.3h0M269.2 256.6h0M283.2 266.4h0M289.7 257.6h0M285.5 270.1h0M267.4 233.3h0M275.3 235.7h0M255.9 250.9h0M269.8 232.9h0M267.6 255.9h0M276.2 249.5h0M278.9 259h0M258.9 247.1h0M254 266.3h0M259.6 238.2h0M275.7 254.6h0M271.7 233.7h0M278.1 253.8h0M279.6 232.6h0M266.8 240.9h0M283.9 234.8h0M282.8 255.6h0M256.6 251.3h0M255.4 246.5h0M282.6 233.7h0M267 229.5h0M281 231.3h0M253.7 271.4h0M288.9 244.9h0M264 240.1h0M286.9 271.3h0M277.5 245.8h0M265.7 263.1h0M266.4 229.6h0M288.5 258.8h0M267.8 248.2h0M275.2 245.6h0M286.6 230.4h0M253.6 269.9h0M264.2 229.8h0M281.2 235.7h0M272.9 266.3h0M261 269.4h0M266.8 237.8h0M259.9 248.6h0M280.5 268.5h0M260.9 241.7h0M267.2 241.5h0M281.5 257.2h0M255.5 269.7h0M266.7 237.8h0M269.6 269.8h0M283.5 259.9h0M266.6 249h0M276.4 262.3h0M262.6 271.5h0M270.6 269.8h0M276.4 266.3h0M284.4 253.3h0M262.9 232.9h0M283.1 250.1h0M281.6 237.4h0M265.5 233.2h0M279.2 249.1h0M284.2 251.6h0M266.8 258.8h0M267 251.5h0M263.8 266.4h0M261.6 237.1h0M282.7 240.1h0M261.6 258.6h0M285.9 247.3h0M260.8 270.1h0M254.6 269.4h0M264.4 271.7h0M253.6 269.9h0M287 258.6h0M273.8 264.2h0M261.3 236.1h0M284.9 269.4h0M265.3 238.9h0M263.8 255.4h0M284.9 238.5h0M276.1 234.2h0M270 246.7h0M280.3 266.4h0M253.1 262.3h0M282.1 263.8h0M260.9 229.5h0M285 260.4h0M285.7 252.3h0M262.2 233.2h0M282.1 264.2h0M273.7 238.9h0M280.1 248h0M264.4 246.3h0M278.5 261.7h0M279.2 244.8h0M271.2 240.6h0M265.3 237.4h0M255.8 247.2h0M265.6 242.7h0M271.4 243.3h0M284.2 267.6h0M257.5 242h0M285.6 233.2h0M280.1 261.6h0M267.5 267.9h0M255.9 236.7h0M281.2 246.4h0M268.8 233.1h0M260.5 232.9h0M276.8 252.9h0M264.4 269.4h0M254.8 239.3h0M253.8 237.4h0M256.8 229.6h0M269.5 252.2h0M270.6 267.9h0M257.9 233.2h0M289.1 259.1h0M261.2 261.2h0M268.8 244.1h0M263 247.8h0M253.4 236h0M288.9 266.7h0M266.7 270.9h0M260.2 258.6h0M252.5 234.3h0M282.3 243.6h0M261.2 251.8h0M272.7 249.9h0M269.2 237.8h0M269.2 268.8h0M279.5 271.4h0M286.8 234.9h0M269 258.8h0M277.1 237.5h0M269.7 237.5h0M267.9 235.9h0M274.8 270.4h0M275.6 251.2h0M275 257.2h0M260.4 241.6h0M287.2 255.1h0M270.7 266.4h0M274.4 242h0M271 231.5h0M288.6 262.6h0M259.9 233.4h0M275.2 249.8h0M256.5 270.3h0M270.6 234.9h0M253.5 263.1h0M279 245.6h0M259.2 247.3h0M280.9 232.5h0M272.6 251.1h0M281 258.4h0M266.1 246.5h0M255.3 268.4h0M269.7 262.4h0M261.8 252h0M263.8 269.4h0M254.7 243.1h0M283.5 267.2h0M258 231.6h0M253.5 241.7h0M284.2 250.5h0M271.3 260h0M263.8 270.9h0M262.4 242.9h0M269.9 255h0M270.9 234.8h0M285.3 270.4h0M284.7 255.9h0M271 250.1h0M260 258.9h0M271.2 254.6h0M271.1 242.1h0M276.5 237h0M269.2 234.3h0M272.6 231.9h0M283.3 233.6h0M282.6 230.3h0M288.1 242.1h0M257.9 243.4h0M261.6 257.8h0M270.3 263.9h0M274.6 240.8h0M262.4 238.9h0M261.3 233h0M258.4 238.8h0M269.3 247.1h0M273.1 254.6h0M275.4 258.4h0M284.4 249.4h0M262.7 235.5h0M286.5 230h0M267.7 266.7h0M273.5 265.1h0M286.2 268.9h0M262.9 243.5h0M288.2 247.1h0M266 249.3h0M266.8 230.5h0M268.1 268.6h0M286 263.1h0M279.9 269.1h0M263.7 250.5h0M282.6 269.3h0M254.5 260.9h0M278.3 256.9h0M264.7 235.2h0M261.9 248.7h0M258.1 234h0M252.9 248.8h0M268 263.1h0M261.8 241.3h0M274.8 242.9h0M268.5 259.7h0M273.9 259.7h0M279.7 263.8h0M253.4 261.9h0M256.8 244.4h0M258.6 264.6h0M265.3 268.6h0M278.5 235.9h0M266 237.3h0M276.1 248.1h0M277.3 251.4h0M288.6 263h0M268.4 255.8h0M265.4 250.5h0M272.9 264.8h0M283.1 259h0M285.6 259h0M278.5 248.7h0M270.7 266.9h0M262.9 264.2h0M284.3 236.2h0M288.4 252.8h0M262.1 254.8h0M286.1 234.6h0M258.6 240.2h0M279.3 251.8h0M254.2 253.8h0M277.7 262.6h0M286.9 243.2h0M281.2 250.4h0M263.9 233.3h0M278 261.5h0M278.4 259.2h0M284.4 230.7h0M261.5 231.3h0M271.1 242.3h0M268.5 233.6h0M265 235.4h0M256.7 244.1h0M253.6 263.5h0M285.8 238h0M287.8 246.6h0M271.9 242.5h0M267.6 251.8h0M267.5 271.4h0M271.4 263.2h0M284.1 244.3h0M253 268.6h0M280.7 254.8h0M267.6 251h0M258.3 259.9h0M259.9 249.6h0M281.8 266.1h0M281.8 246.3h0M276.9 252.4h0M281.3 239.6h0M289.7 257h0M267.5 240.6h0M262.1 262.5h0M284.2 261.9h0M279.7 236.5h0M262.7 241.8h0M281.6 244.4h0M266.8 256.5h0M282.8 258.4h0M284.8 237.8h0M276.2 251.5h0M260.4 265.9h0M279 249.3h0M267.1 230.2h0M269.2 252.4h0M283.8 250.8h0M279.4 234.3h0M255.6 241.4h0M257.3 249h0M258.8 248.9h0M257.6 248.3h0M260.3 271.6h0M275 248.3h0M257.3 258h0M266.4 265.4h0M268.5 233h0M266 255.8h0M264.1 260.3h0M287.3 264h0M254.8 264.1h0M272.4 247.3h0M259.4 245.7h0M256.9 254.4h0M268.1 236.6h0M266.8 271.7h0M277.6 270.4h0M286.6 256.8h0M280.1 254.2h0M282.2 249.5h0M252.5 266.5h0M253.7 269h0M255.2 256.6h0M268.6 261.5h0M284 235.3h0M286.1 240h0M273.3 245.7h0M280.9 248.3h0M271.7 244.5h0M265.1 239.2h0M262.2 234.2h0M278.2 241.3h0M258.2 235.6h0M276.5 270.7h0M284.8 233.1h0M275.2 261.6h0M272.4 270.2h0M252.9 235.4h0M269.8 233.3h0M283.6 252.9h0M255.1 232.5h0M266 233.5h0M281.6 269.1h0M274.6 231.4h0M260.9 237.2h0M261.7 243.1h0M260.8 242h0M274.6 244h0M279.7 253.3h0M253.5 241.3h0M264.2 253.7h0M267.7 238.4h0M274.9 269.5h0M254.1 259.8h0M278.6 252.5h0M280.9 266.1h0M289.4 231.6h0M281.3 230.2h0M287.2 249.4h0M280.4 269.6h0M276.6 233h0M268.3 234.5h0M263.7 235h0M272.6 231.7h0M261.6 233.4h0M263.4 262.4h0M284.8 254h0M283.1 256.4h0M261.6 268.9h0M289.6 237.4h0M264.5 268.3h0M255.7 268.7h0M284.7 239.1h0M284.7 233.9h0M281.2 238.9h0M271.2 234.9h0M273.3 253.8h0M253.8 266h0M284.3 259.5h0M261.3 251.6h0M268.5 263.2h0M281.4 240.6h0M283.3 261.8h0M253 250.4h0M273.1 230.5h0M275.7 231h0M281.5 235.1h0M278.3 230.3h0M289.8 238.9h0M271.8 249.6h0M263.1 265.4h0M263.5 270.6h0M262.9 231.1h0M274.8 245h0M286.3 232.3h0M280.3 262.4h0M254.4 271.3h0M284.5 258.5h0M267.9 237h0M287.1 237.9h0M283.5 249.4h0M275 240.2h0M265.2 261.1h0M255.6 240.8h0M267.8 256.1h0M264.4 238h0M257.1 243h0M258.2 254.6h0M266 238.6h0M279 271.3h0M284 238.5h0M264.8 269.2h0M276 263.2h0M286.3 252.9h0M276.7 257.9h0M269.5 269.1h0M252.7 233.9h0M270 260.1h0M288.8 266.6h0M259.9 240.3h0M253.2 253.8h0M255.2 233.8h0M269 242.1h0M278.2 237.8h0M283.6 261.6h0M280.7 252.6h0M279.7 263.2h0M274 242.9h0M261.7 264.4h0M252.9 244.7h0M256.7 254.9h0M259.5 248.3h0M285.7 234.4h0M288.3 243.4h0M274.4 260.7h0M276.7 250h0M259.6 263.8h0M262.5 252.4h0M260.6 237.4h0M287.4 262.9h0M259 247.8h0M263.9 237h0M285.5 245.2h0M270.8 251.7h0M259.1 256h0M268.9 245.2h0M263.9 232.3h0M275 253.7h0M255.2 240.8h0M258.2 253.7h0M288.5 229.7h0M287.5 260.4h0M281.3 243h0M275.9 265.5h0M262.7 230.9h0M268.8 245.3h0M259.4 253.7h0M253.3 238.9h0M256.8 246.5h0M253.1 239.4h0M261 265.1h0M274.1 251h0M272.9 231.2h0M261.4 263.4h0M279.5 256.2h0M265.8 253.2h0M277.4 251.1h0M280 248h0M280.6 261.2h0M257.9 247.9h0M263.5 236.9h0M254.7 253.3h0M258 242.6h0M260 252.1h0M254.8 264.3h0M280.4 244.6h0M267.1 264.8h0M285.3 269.4h0M264.8 253.3h0M278.2 237.7h0M276.7 232h0M259.4 239.2h0M267.1 255.5h0M258 231.9h0M267 262.9h0M275.6 262.5h0M265.3 229.6h0M261.6 254.9h0M289.8 235.1h0M277.1 243.2h0M289.4 248.2h0M253.6 239.1h0M278.4 257h0M256.6 264.8h0M270.2 237h0M257.3 241.3h0M254.1 235.5h0M257.5 247.6h0M256 230.7h0M276.6 259.2h0M282.5 244.1h0M268.1 231.4h0M254.4 269h0M270.4 235.8h0M255 244.3h0M282 265h0M268 254.3h0M271.2 253h0M264.4 253.6h0M271.9 264h0M274.3 239.5h0M271.1 262.4h0M272.8 243.2h0M259.3 258.7h0M267.8 267h0M271.9 247.2h0M258.8 261.6h0M270.7 237.3h0M268.7 230.2h0M259.9 234.9h0M286 245h0M262.9 255.4h0M271.5 256.5h0M268.9 229.6h0M282.6 259.2h0M253.1 270.3h0M266.7 251.2h0M283.1 248.3h0M272.8 248h0M285 261.6h0M272.2 254.2h0M266.5 233.8h0M281.3 237.6h0M257.5 257.9h0M285.1 254h0M266.5 265.4h0M272.3 245h0M288.9 247.2h0M285.9 265.5h0M256.4 271.8h0M266 269.5h0M274.9 240.6h0M260.3 246.4h0M259.3 270.7h0M267.1 233.1h0M282.6 264.4h0M267.6 248.7h0M282.3 235.4h0M260.6 261.6h0M285.8 257.8h0M261.1 244.7h0M275.8 261h0M252.6 246.2h0M278.8 243.2h0M270.4 237.4h0M265.5 262.1h0M277.7 234.8h0M275.2 258.5h0M266.3 267.9h0M269.4 251.1h0M264.8 265.7h0M266.2 239.7h0M280.2 264.4h0M283 237.4h0M265.1 271.3h0M278.4 262.9h0M261.1 255.6h0M284.9 229.5h0M283.2 243.5h0M284.5 265.6h0M279.6 260.5h0M287.7 264.2h0M285.4 268.4h0M286.9 243.1h0M259.3 233.4h0M272.9 266.2h0M264.8 269.8h0M258.1 232.3h0M282.7 266.9h0M276.9 247.6h0M287.5 231h0M259.9 241.5h0M270.3 250.1h0M279.3 250.1h0M282.2 237.3h0M267.4 243.3h0M280.1 267.4h0M282.1 260.3h0M265.4 247.4h0M284.2 251.6h0M278.7 236.9h0M287.8 249.6h0M286.9 259.5h0M269.7 247h0M260.2 240.1h0M260.4 242.7h0M273.7 256h0M280.5 260.7h0M272.2 270.5h0M272.2 255.5h0M265.2 249.7h0M264.9 242.6h0M269.1 251h0M277.5 252.6h0M274.3 271.3h0M264.3 271.4h0M274.2 255.2h0M269.6 248.6h0M289.2 239.5h0M282.6 232.7h0M265.4 249.8h0M287.8 242.5h0M274.1 243.7h0M277.2 247.1h0M272.3 253.1h0M253.4 234h0M252.5 257h0M262.9 251.4h0M264.6 260.9h0M258.4 231.6h0M276.6 243.5h0M283.6 259.3h0M273.3 269.9h0M277.3 231.5h0M275.1 244.5h0M267.3 236.9h0M277.8 239.8h0M266.2 269.6h0M276.2 250.8h0M265.8 261.8h0M276.9 240.8h0M271 242.6h0M273.2 256.1h0M265.5 270.7h0M267.7 238.6h0M284.5 267.5h0M258.9 232h0M281.6 239.5h0M258.6 258.8h0M284.8 262.9h0M265.5 264h0M262.2 264.1h0M257.7 268.9h0M263.8 246.1h0M281 264.2h0M272.6 252h0M274.4 241.9h0M279.5 231.5h0M269.5 269.9h0M274.3 249.1h0M287.2 245.5h0M270.7 238.6h0M280.4 258.7h0M257 242.5h0M257.2 258.7h0M253.2 264.4h0M282.9 266.8h0M285.7 250.9h0M277.6 262.5h0M255.8 240.5h0M256 234.4h0M278.7 258.1h0M266.8 269.5h0M310.9 41h0M334 113.6h0M312.8 45.2h0M317.6 139.9h0M323.3 119.3h0M299.4 96.4h0M320.6 128h0M325.8 113.8h0M312.9 92.8h0M311.3 139.2h0M302.7 143.8h0M315.4 130.1h0M321.1 95.9h0M313 138.1h0M316.2 133.6h0M329.3 134.4h0M301.9 120.1h0M330.3 142.7h0M316 113.4h0M331 129.9h0M334.3 144.5h0M298.2 126.9h0M297.5 125.1h0M299.7 144.1h0M309.5 115.9h0M305.9 138.1h0M331.5 138.2h0M320.7 120.6h0M311.8 142.8h0M306.3 112.9h0M312.9 122.3h0M301.4 129.3h0M303.9 94.1h0M298.5 141.1h0M330.9 57.2h0M310.1 136.1h0M314.9 137.3h0M302.4 138.1h0M297.5 123.6h0M319.6 107.7h0M304.9 73.8h0M330.9 141.3h0M321.9 103.8h0M307.5 120h0M326.4 125h0M317.7 116.8h0M317 142.5h0M327 124.8h0M320.7 133.2h0M328.9 71.4h0M299.4 136h0M323.7 139.5h0M299.6 105.8h0M310.1 136.2h0M314.4 109.3h0M318.1 142h0M310 141.9h0M300.3 128.6h0M332 134.7h0M331 66.4h0M320.6 135.2h0M331.5 138.9h0M314.5 130.8h0M307.9 117.9h0M299.4 134h0M322.3 142.1h0M305.5 136.7h0M330.5 139.3h0M309.3 128.8h0M303.7 126.4h0M334.6 144.5h0M313.4 139.7h0M326.7 115.2h0M321.7 140.1h0M299.5 141.3h0M309.6 95.8h0M330.2 142.3h0M324.2 137.4h0M330.3 133.3h0M301.7 137.8h0M305.9 118h0M318.6 130.3h0M318.3 127.9h0M303.5 135.4h0M305.9 110.7h0M304.1 134.7h0M325.2 143.8h0M316.4 137.9h0M315.1 127.3h0M321.3 122h0M326.4 136.4h0M298.7 127.7h0M299.1 133.4h0M301.5 110.3h0M317 139.1h0M314.4 138.4h0M314.6 88.4h0M303.5 117.7h0M331.9 115h0M327 117.3h0M330.8 126.1h0M311.1 134.9h0M311.5 93.5h0M323.4 113.3h0M308.2 138.1h0M305.7 132.2h0M304.5 111.8h0M299.4 129.5h0M329.5 140h0M314.9 131h0M332.7 56.8h0M326.8 85.7h0M331.2 83.6h0M334.5 141.3h0M330.2 124h0M301.4 133.3h0M323.7 59.7h0M305.3 137h0M315.6 137.7h0M319.5 134.2h0M315.5 130.8h0M319.2 100.4h0M303.4 137.4h0M326 141.5h0M305.5 124.1h0M318.8 115.4h0M325.5 56.3h0M326.7 68.3h0M303.3 88.8h0M321.2 129.2h0M326.2 138.2h0M332.2 131.7h0M304.4 99.2h0M327.7 122.9h0M322.7 142h0M299.3 112.2h0M322 141.8h0M309.5 111.8h0M300.4 142h0M329 130.6h0M306.5 125.7h0M322.2 110.6h0M326 134.8h0M310.8 142.2h0M306 97.1h0M329.7 136.3h0M302.3 142.6h0M332.2 133.2h0M302.3 138.3h0M305.8 109.3h0M333.2 135.5h0M327.5 140.7h0M316.7 134.8h0M318.5 131.5h0M325.7 144h0M297.6 99.5h0M323 138.6h0M328 117.4h0M305.9 142h0M312.2 93.3h0M309.1 129.8h0M314.4 112h0M310 142.3h0M314.1 107.7h0M313.8 143.5h0M306.2 120.4h0M316.6 136.6h0M299.5 136.1h0M334 49.5h0M304.6 141.7h0M310.1 143.8h0M328.7 136.7h0M308.8 42.7h0M324.6 116.1h0M327.8 135.3h0M323.3 119.2h0M314.7 125.6h0M320.1 131.7h0M318.2 136.4h0M323.7 140.8h0M299.2 53.2h0M313.6 117.5h0M332.2 131.2h0M332.8 135.6h0M324.8 142.5h0M312.2 113.1h0M307.4 139.8h0M332.7 107h0M310.9 120h0M325.2 93.4h0M312.8 141.2h0M328 93.5h0M324.1 138.4h0M297.8 132.3h0M312.7 140.2h0M330.3 122.2h0M309.8 137.2h0M328.9 138.7h0M321.6 122.9h0M325.8 138h0M302.8 58.8h0M331.4 116.3h0M316.4 90.1h0M306 128.8h0M328.6 124.9h0M322.6 105.5h0M328.7 104.6h0M333.3 89.7h0M320.3 139.8h0M316 133.6h0M319.5 133.8h0M301.2 120.3h0M326.2 131.4h0M305.9 118h0M304.7 107.1h0M298.3 128.6h0M302 129.1h0M315.1 131.3h0M330.9 134.8h0M303.2 117.5h0M328.3 117.3h0M303.1 117.6h0M329.3 137.3h0M317.5 65.2h0M326.9 96.3h0M306 133.4h0M324.9 107.4h0M314.6 143.2h0M322.4 129.4h0M308.8 144.4h0M308 133.6h0M315.7 139.5h0M333.3 139.6h0M330.5 100.1h0M304.6 96.3h0M303.6 135.6h0M302.3 123.9h0M327.8 107.7h0M297.5 123.7h0M303 67.4h0M324.6 133h0M301.3 118.4h0M301.4 114.1h0M326.4 60h0M321 93.1h0M315.5 143.7h0M310.2 133.1h0M301 135.3h0M316.7 108.9h0M334.2 103.5h0M309.4 141.5h0M324 103.9h0M329 123.8h0M314.5 140.7h0M317.1 132.9h0M318.8 134h0M312.9 137.5h0M315 141.2h0M297.7 93.3h0M323.9 80.8h0M316.1 118.2h0M299 142.3h0M333.7 134h0M322.3 128.6h0M311.2 111.5h0M305.8 139.6h0M308.4 134.2h0M309.2 143.7h0M326.8 113.3h0M298.3 125.1h0M327 122.8h0M308.5 133.9h0M303.3 116.3h0M302.4 139.9h0M333 133.1h0M324 98h0M323.8 141.2h0M300.4 114.1h0M329 56.4h0M321 124h0M333.4 109.5h0M332.9 136.2h0M321.7 142.1h0M333.9 103.5h0M317.1 138.6h0M328.1 132.8h0M310.6 141.1h0M309.5 136.4h0M315.7 124.1h0M331.1 136.7h0M311.7 128.4h0M313 133.1h0M315.9 143.3h0M326.9 95.5h0M322.2 139.8h0M312.6 134.2h0M299.3 134h0M298.3 139.2h0M310.6 140.1h0M323.7 59.4h0M325.8 128.3h0M311.1 144.3h0M311 121.6h0M333.6 141.1h0M311.3 141.5h0M323.4 140.3h0M332.8 144.3h0M334.3 104.8h0M297.6 115.8h0M323.3 113.4h0M300.2 138.3h0M310.4 124.2h0M307.1 130.7h0M324.2 144.3h0M313.6 140.9h0M326.3 121.7h0M310.8 116.9h0M318.8 130.4h0M316 140.6h0M326.5 143.2h0M302.4 140.9h0M309.6 120.4h0M315.8 135.7h0M333.2 114.6h0M320.5 120.6h0M323.4 125.3h0M308.6 114h0M326.8 132.3h0M314.7 144.4h0M318.8 140.9h0M325.9 129h0M314.1 140.7h0M308.7 144h0M326.8 131.8h0M305.7 126.9h0M309.8 117.2h0M316.3 43.6h0M310.1 125.8h0M325.9 91.8h0M308.6 144.1h0M315 142.6h0M317 140h0M328.1 103.9h0M315.2 139.2h0M300.1 139.8h0M316.5 144.3h0M297.7 127.6h0M322.7 117.1h0M315.3 132.2h0M309 141.7h0M309.6 85.4h0M314.8 144.1h0M308.2 143.3h0M308.1 126h0M329.7 120.4h0M326.6 142.6h0M321.9 103.3h0M315.8 104.9h0M305.3 93.8h0M330.7 47.1h0M329.4 132.4h0M334.6 129.9h0M303.2 105.8h0M307.1 127.1h0M315.4 96.6h0M323.2 139.7h0M323.6 139.3h0M307.3 105.2h0M316.3 142.1h0M330.3 137.5h0M322.1 131.9h0M310.7 89.3h0M327.1 116.4h0M329.6 138.3h0M309.9 126.7h0M325 143.1h0M319.3 116.2h0M316.2 136.9h0M321.2 138.5h0M317.1 95.5h0M307.7 140.6h0M308.9 141.6h0M331.5 90.7h0M333.5 120.5h0M303.7 134h0M332.4 80.5h0M322.9 132.9h0M329.3 119.2h0M330 128.4h0M313.6 110.1h0M327 109.9h0M307.2 131.9h0M322.4 122.8h0M327.1 144h0M299.1 141.5h0M317.3 138.5h0M315.8 140.2h0M329.5 104h0M303 113.4h0M324.6 111.9h0M322.1 113.5h0M323 131h0M308 127.2h0M318.1 104.3h0M310 137.6h0M314.2 141.1h0M311 134.8h0M308.7 102.1h0M311.6 88.3h0M332.6 122.2h0M301.4 123.9h0M321.8 132.5h0M328.7 118h0M301.1 129.7h0M328.3 127.4h0M322.1 112.7h0M316.7 143.1h0M322.7 115.1h0M330.9 61.3h0M326.3 139.7h0M307.7 105.7h0M319.4 135.8h0M299.6 125.3h0M319.5 135.8h0M333 131h0M312.2 118.4h0M311.3 136.4h0M327 131.1h0M326.1 134.4h0M328.3 143.8h0M316.3 124.3h0M319.1 70.9h0M304.9 130.1h0M305.6 126.2h0M322.8 131h0M334.7 111.2h0M314.1 136.4h0M332.5 139.6h0M311.8 80.6h0M301.2 129.9h0M332 123.3h0M316.4 136.4h0M303.8 138.4h0M307.9 143.3h0M321.5 102.9h0M322.7 136.8h0M329 108.7h0M310.9 130.1h0M298.8 139.2h0M320.5 89.3h0M323.7 131.2h0M317 247.6h0M327.1 257h0M321.2 269.3h0M303.4 264.4h0M331.5 238.1h0M314.5 232.3h0M317.7 239.8h0M331.2 242.3h0M328.2 233.8h0M312.5 269.9h0M320.4 263.6h0M316.8 239h0M308.9 234.9h0M304.1 232.6h0M316.4 266.9h0M314.5 266.1h0M315.6 242.5h0M333.8 244.8h0M304.8 231h0M316.4 238.8h0M301.9 245.9h0M330.3 255.3h0M310 252.6h0M306.6 250.6h0M308.7 231.3h0M326.4 245.7h0M330 246.8h0M309.1 234.5h0M326.8 237h0M318.4 236.5h0M324.8 250.9h0M308.1 251.7h0M315.4 269.6h0M317.7 236.4h0M300.9 251.2h0M315.9 231.2h0M310.8 259.8h0M307 256.7h0M327.1 260.2h0M331.7 252.1h0M311.5 246.8h0M311.4 229.9h0M326.2 261.8h0M314 247.7h0M299.4 255.2h0M329 251.6h0M300.3 234.9h0M320.2 250.5h0M312.9 245.5h0M334.5 269.1h0M303.8 271h0M307.2 243h0M320.4 267.9h0M300.6 253h0M333.9 263.2h0M308.2 239.2h0M328.9 230h0M303.7 239.5h0M322.6 266.3h0M306.4 248.3h0M310.2 269.9h0M321.3 260.7h0M333.8 245.9h0M307 247.1h0M298.7 239.1h0M332.2 248.6h0M310.3 260.4h0M327.4 242.3h0M309 264.3h0M307.2 240.1h0M315.2 263.9h0M322.7 258h0M317.6 263.3h0M322.1 230.6h0M329.3 239.7h0M323.1 254.2h0M329.2 258.5h0M331.7 264.1h0M306.9 264.4h0M310.5 261h0M318.2 261.3h0M300.8 253.8h0M302.1 237.2h0M329.8 233.7h0M310.4 268h0M318.8 248.7h0M300.5 258.9h0M298.5 270.6h0M324.4 234.3h0M321.3 243.4h0M315.3 253.1h0M327.8 251.4h0M326 246.6h0M330.4 254.4h0M308.4 234h0M298.4 230.5h0M314.4 252.5h0M303.2 237.2h0M330.7 238h0M312.9 253.2h0M313.6 253.6h0M300.1 250.3h0M319.2 271.1h0M331 260.1h0M299.6 233.7h0M303.7 239h0M312 237.8h0M319.5 264.6h0M316 260h0M330.2 268.6h0M322.6 235h0M328 269.7h0M312.2 252.8h0M307.5 233.3h0M300 233.3h0M316.2 262.4h0M323.9 245h0M331.5 243h0M304.8 239.3h0M333 238.8h0M304.9 266.9h0M298.6 268.8h0M314.5 259h0M319.6 239.1h0M317 239h0M313.1 261h0M330.8 267.6h0M305.2 237.2h0M310.5 230h0M308.7 232.7h0M315.3 234.6h0M332 240.4h0M310.6 263.2h0M300.5 252.2h0M328 232.1h0M311.1 233.2h0M305.2 239.5h0M305.6 238.7h0M306.3 269h0M306.3 257h0M330.8 268.9h0M332.7 251.1h0M330.9 260.2h0M300.3 251.6h0M328.8 232.7h0M313 270.1h0M331.2 267.1h0M325.7 242.8h0M322.4 262.4h0M299.3 239.3h0M307.4 243.5h0M310.6 251.6h0M309.1 246.4h0M307.8 235.3h0M307.9 257.7h0M329.9 267.3h0M308.4 248.9h0M330.6 257.2h0M305.2 264h0M299.2 238.5h0M307.8 269.4h0M326 246.1h0M324.4 241.8h0M312.6 230.2h0M328 230.7h0M327.8 241.6h0M301.5 261.5h0M327 242.2h0M313.1 258.4h0M303.6 235.1h0M315.8 244.2h0M329.9 257.1h0M318.1 258.7h0M320.3 251.8h0M299 231.7h0M313.4 252.5h0M306 266.1h0M306.8 244.2h0M327.4 257.2h0M311.8 233.7h0M325 258.3h0M303.5 262.1h0M314.2 260h0M304.7 267h0M331.6 265h0M303.7 255.2h0M311.1 244.2h0M303.8 266.8h0M311.2 247h0M324.6 252h0M306.1 230.8h0M315.8 233h0M326.7 256.9h0M303.4 260.2h0M298 271.5h0M320.9 237.7h0M311.9 256.8h0M314.2 258.3h0M309.1 242.7h0M301.4 247.6h0M303.7 259.7h0M332 254h0M327.9 263.9h0M327.5 237.3h0M305.8 230h0M322.7 241.1h0M305.3 271h0M308.1 250.6h0M297.7 260.1h0M308.6 267.8h0M328.2 237h0M326.8 260.3h0M314.3 266.7h0M327 247.7h0M306.5 250.4h0M313.7 255.5h0M329.9 261.8h0M299.9 263h0M314.1 252.9h0M308.1 231.4h0M323.8 229.8h0M304 238.5h0M307.4 266.1h0M322.2 258.5h0M300.2 256.3h0M328.1 238.7h0M308.6 246h0M298.7 250.5h0M326.3 259.6h0M309.2 270.4h0M332.4 258.7h0M314.6 265.9h0M317.7 269.9h0M318.9 253.4h0M312 237.4h0M326.8 250.8h0M310.3 253.2h0M300.3 270.6h0M310.4 237h0M314.8 270.9h0M328.1 246.4h0M327.3 239.3h0M319.6 232.7h0M319.9 269.2h0M305.3 239.8h0M307.3 263.6h0M313.4 268.8h0M324.6 233.7h0M322.4 260.7h0M311.2 229.9h0M331.6 250.2h0M313.5 233.5h0M320.7 244.3h0M309.3 248.6h0M317.7 250h0M309.3 231.2h0M307.7 240.2h0M307.7 244.6h0M322.9 245h0M333 239.4h0M308.4 232.8h0M321.8 260.2h0M308 242.4h0M311.4 259.7h0M331.3 263.6h0M322.5 235.9h0M318.5 239.4h0M321.1 267.4h0M310.1 266.6h0M317.6 241.5h0M316.9 244.7h0M305.1 240.2h0M301.6 255.2h0M300.7 239.2h0M303.2 258.7h0M329.4 241.1h0M314.8 251.6h0M316.7 243.4h0M310.8 262.4h0M304.2 235.3h0M315.2 259.1h0M305.6 268.8h0M311.9 259.7h0M324.2 241.4h0M305.6 243h0M313.3 248.5h0M334.2 233.1h0M310.9 246.4h0M302.9 234.9h0M300 237.3h0M321.5 252.7h0M307.1 265.5h0M325.3 263.5h0M304.7 231.9h0M329.9 238h0M299.7 261.1h0M303.4 239.7h0M313.4 256h0M328.7 269.4h0M307.5 241.6h0M312.5 250.7h0M304.5 263.1h0M319.4 266.2h0M333.5 246.1h0M326.2 244.2h0M330.7 270.3h0M313.9 271.1h0M328.5 262.3h0M314.3 242.1h0M326.6 268.4h0M326.3 242.4h0M312.1 234.4h0M308.8 253.8h0M318.8 229.9h0M322.1 255.5h0M300 236.5h0M317.7 231.4h0M305 231.1h0M311.4 250.6h0M302.4 258.5h0M313.1 251.3h0M331.3 237.8h0M333.4 268.9h0M298.3 240.1h0M331.1 259h0M308.5 244.2h0M318 263.6h0M323.9 254.5h0M328 251.5h0M325 253h0M315.4 230h0M315.6 267.7h0M317.2 258.8h0M300.2 268.9h0M303.6 241.4h0M333.8 266.3h0M308 237.6h0M320 239.9h0M306.9 259.5h0M314.2 264.5h0M311 250.5h0M298.6 248.8h0M333.5 231.2h0M310.5 241.7h0M308.9 270.9h0M329.9 233.4h0M321.6 246.4h0M302.1 242.1h0M326 238.8h0M322.2 252.3h0M318.8 260.4h0M304.6 258.3h0M313.7 237.3h0M305.7 265.1h0M328.3 262.4h0M301.4 260.6h0M327.6 234.9h0M298.2 238.8h0M323.4 254.2h0M324.1 264.3h0M310.8 254.7h0M307.4 268.7h0M301.5 248.6h0M323 253.9h0M311.4 251.3h0M321.1 231.4h0M325.7 231.3h0M329.6 255.6h0M325.8 257.4h0M332.5 241.4h0M317.9 254.3h0M328.9 245.7h0M318.1 256.2h0M326.7 255.4h0M304.7 271.3h0M308 270.2h0M324.8 247.9h0M310.1 263.9h0M317.2 242.5h0M312.4 249.8h0M297.8 242.2h0M310.4 268.9h0M320.8 268.2h0M304 234.1h0M304.7 245.3h0M326 233.9h0M303 250.3h0M322.8 251.3h0M313.6 264.9h0M298.8 238.5h0M317.1 254.5h0M306.6 271.6h0M317.2 231.8h0M306.1 258.9h0M304.4 241.2h0M318.8 265.2h0M310.8 241.1h0M298.2 240.3h0M326.1 264.7h0M310.2 242.8h0M307.2 268.9h0M331.6 259.2h0M326.7 242.4h0M334 242.9h0M303.9 235.6h0M310.3 259h0M329.4 248.8h0M305.8 236.2h0M306.1 255.6h0M305.5 248.6h0M321.8 256.4h0M326.8 231.6h0M308.6 269.1h0M308.9 262.8h0M333.1 267.5h0M312.7 259.4h0M304.3 244.1h0M332.2 266.8h0M331.7 259.4h0M300.4 243.7h0M334.7 249.8h0M328.7 254.7h0M312.7 257h0M306.4 250.1h0M333.2 246h0M320.3 268.5h0M309.5 259.4h0M331.1 256.7h0M333.8 232.7h0M299.1 236.8h0M312.5 230.5h0M306.4 260.8h0M326 269.4h0M326.5 235.4h0M324 238.5h0M327.3 231.6h0M323.1 244.3h0M316 232.5h0M302.8 245.8h0M333.7 247.4h0M333.3 231h0M327.4 243.9h0M319.1 263.9h0M333.6 255.6h0M327.6 248.3h0M309.5 249.9h0M302.6 271.6h0M325.2 269.8h0M330.6 236.9h0M324.3 231.2h0M325.9 270.2h0M323.4 268.4h0M331.3 260.4h0M311.1 268.8h0M311.5 236.9h0M331.2 233.9h0M333.9 247.7h0M314.4 234.1h0M311.2 255h0M307.2 259.5h0M330.6 230.8h0M309.5 252.2h0M301.2 262.7h0M315.8 242.3h0M319.3 265.8h0M320.8 249h0M311.4 268.9h0M317.5 237.4h0M306.5 235.2h0M314.2 257.4h0M297.4 237h0M328.9 270.6h0M318.2 256.4h0M333.6 249.7h0M332.8 271.4h0M321.9 256.9h0M306 268.7h0M318.6 250.4h0M319.4 243.2h0M331.9 254.2h0M312.6 249.1h0M297.5 252.7h0M298.4 230.7h0M329.8 266.7h0M307.1 261.5h0M303 255.5h0M317 252.3h0M301.9 258.2h0M319.4 268.7h0M300.8 271.7h0M327.9 260.2h0M306.2 271.5h0M330.7 243.3h0M301.5 259.1h0M308.5 255.1h0M301.3 263.3h0M312.3 260.1h0M306.8 236.2h0M332.8 263.3h0M298.8 270.3h0M320.8 266.8h0M298.8 246h0M317.4 259.8h0M317.4 238.6h0M332.6 232.9h0M324.8 265.3h0M304 271.5h0M333.1 250h0M321.3 267.7h0M315.8 234.2h0M317.5 252.9h0M305.6 241.6h0M306.6 242.3h0M303.7 270.2h0M334.1 238.2h0M298.6 234.9h0M318.2 246.1h0M329.8 257.3h0M297.9 268.3h0M305.6 263.4h0M328.2 255.3h0M317.6 234.6h0M312.6 268.9h0M326 256.6h0M301.4 244.9h0M298.2 258.8h0M315.4 268.7h0M302.7 252.9h0M313.8 252.2h0M300.8 257.1h0M317.6 241.6h0M322.1 262.2h0M332.5 230.6h0M321.2 246.2h0M328.6 271.1h0M306.9 244.7h0M316.1 251h0M320.2 235.2h0M304 265.1h0M317.5 255.6h0M329.4 238.5h0M326.5 235.3h0M330.7 232.6h0M323.4 241h0M322.6 257.6h0M307.5 262.1h0M319.5 248.1h0M312.6 259.6h0M320.7 244.5h0M317.6 233.4h0M322.9 246.5h0M299.5 243.4h0M309.3 259h0M299 232.5h0M316.2 269.7h0M299.7 235.4h0M313.6 253.1h0M317.6 231.5h0M319.1 251h0M297.6 234.1h0M297.4 255.9h0M311.9 251h0M317.1 266.1h0M302.8 235.7h0M306 264.2h0M310.5 254.7h0M311.1 242.4h0M310.8 255.7h0M310.8 243.7h0M333.9 265.4h0M325.8 261.7h0M324.6 245.6h0M334.3 257.9h0M297.4 239.7h0M323.8 251.2h0M333.7 242.9h0M321.4 237.9h0M334.2 265.5h0M324.7 245.8h0M316.1 235.6h0M326.4 235.2h0M299.5 252.1h0M315.8 270.7h0M331.7 265.6h0M313.8 254.4h0M316 258.3h0M297.4 237.2h0M331.6 261.8h0M317.3 259.7h0M309.7 265h0M326.7 241.4h0M318.2 266.9h0M320.3 251.8h0M313.2 246h0M319.3 232.4h0M310.5 263.5h0M324.7 259.2h0M303.8 258.6h0M319.9 248.4h0M298.1 266.8h0M304.5 233.8h0M303.2 263h0M308.7 252.1h0M313.3 258.8h0M317.2 241h0M329.6 267.2h0M324.1 252.1h0M323.9 268.6h0M326.2 255.6h0M318.7 234.3h0M316 240.6h0M308 233.1h0M327.8 251.4h0M333.8 270.9h0M327.6 255.8h0M301.9 246h0M322.6 242.5h0M301.6 253.3h0M323 238.7h0M314 269.3h0M330.9 251.4h0M322.5 260.8h0M327.9 252.5h0M299.3 243.3h0M322.7 263.8h0M332.5 233.7h0M314.5 249.1h0M302.9 232.8h0M323.8 263.6h0M317.2 253.6h0M326.8 244.6h0M300.6 270.9h0M326.2 240.7h0M326.6 258.7h0M312.6 235.3h0M298.2 249.4h0M303.5 253.5h0M326 250.6h0M332.4 233.4h0M310.9 261.1h0M323.1 233.5h0M334.6 247.7h0M320.3 249.4h0M302.9 243.8h0M305.6 246.8h0M306.7 250.9h0M329.4 260.2h0M308 258.2h0M325.4 231.8h0M333.9 246.4h0M320.4 234.6h0M308.9 265.8h0M307.1 246.1h0M333.3 230.2h0M328.3 246.4h0M331 229.7h0M328.4 250.2h0M306.1 242.4h0M312.7 249h0M304 243.5h0M298.1 230.7h0M305 235.7h0M322.2 264.8h0M300.1 253.2h0M332.9 242.8h0M330.9 267.3h0M321.6 244.7h0M321.4 240.1h0M319.3 252.1h0M306 231.8h0M316.7 241.5h0M311.4 242.6h0M318.4 250.5h0M310.3 244.7h0M320.7 253.7h0M320.9 260.8h0M310.6 234.6h0M324 256.5h0M324.7 267.8h0M320.2 254.8h0M318.8 240.9h0M309.8 245h0M333.1 238.9h0M308.8 270.4h0M299.9 251.3h0M307.4 264.5h0M306.1 265.5h0M323.2 251.2h0M331.3 254.7h0M315.3 260.6h0M312.2 246h0M328.2 248.7h0M308.7 230.7h0M301.4 259.1h0M310.5 263.3h0M306.2 266.9h0M329.4 262.2h0M318.5 243.3h0M332.6 262.3h0M330.8 253.8h0M333.6 267.2h0M314.4 238.2h0M320.2 255.5h0M318.9 233.8h0M317.6 268.4h0M308.9 237.1h0M313 267.9h0M308 233h0M303.5 253.7h0M315.4 250.3h0M307.7 257.6h0M314.8 237.5h0M318.3 237.2h0M329.2 246.1h0M317.1 237.3h0M302.5 241.3h0M318.3 235.2h0M320.5 251.5h0M300.2 258.3h0M332.4 270.5h0M303.7 240.5h0M300.5 263.1h0M308.9 256.6h0M302.4 270.3h0M302.1 250.3h0M324.1 234.9h0M303.2 262.8h0M303 271.5h0M306.6 242h0M319.7 240.3h0M327.5 230h0M333.1 264h0M302.3 256.9h0M302.2 241.7h0M320 268.9h0M326 259.8h0M333.6 261.2h0M311 237.3h0M320.2 249.5h0M306.7 250.7h0M322.6 242.8h0M328.3 232.7h0M313.2 233.2h0M304.3 266.5h0M305.1 251.4h0M320.2 234.3h0M312.7 267.5h0M309.5 268.3h0M329.8 258.2h0M324.7 237h0M312.2 241.4h0M330.9 235.6h0M312.3 241.7h0M312.6 265.3h0M319.3 253.9h0M314.1 262.9h0M305.9 266.9h0M297.8 271.5h0M316.7 263.9h0M303.3 266.6h0M326.2 233.3h0M307.7 247h0M319.8 265.3h0M318.9 238.3h0M299.2 254.9h0M319.7 251.6h0M330.9 237.4h0M318.3 245.4h0M313.5 242.9h0M311.6 270.9h0M306.9 249.3h0M308 246.7h0M332.3 270.2h0M326.2 235.6h0M322.4 267.3h0M307.5 269.3h0M326.6 268.1h0M314.6 258.3h0M332.7 260.1h0M298.4 237h0M299.8 256.4h0M329.2 267.5h0M302.3 271.6h0M299.7 247.7h0M301.7 259.2h0M305 234.2h0M329.9 236.3h0M323.6 268.4h0M313.5 259.1h0M304.5 238.1h0M300.7 233h0M318 241.4h0M318.4 232.5h0M308.7 250.6h0M312.4 232.8h0M325 265.5h0M308.6 259.5h0M326.2 236.7h0M314.6 233.1h0M304.5 244.7h0M308.7 231.6h0M316.1 253.7h0M321.2 263.9h0M305.8 270.2h0M310.5 242.3h0M307.8 235.6h0M311.9 250.7h0M326.4 241.8h0M331.8 260.3h0M319.1 252.5h0M331.9 254.7h0M329.3 243.4h0M326.1 250.9h0M308.2 262.7h0M314.3 254.6h0M311.7 236.4h0M310 269.9h0M323 235h0M320.2 249.5h0M316.9 234.9h0M318.8 248.5h0M318 249.6h0M301.6 271.3h0M310.4 231.7h0M298.6 234.5h0M328.6 261.2h0M304.3 229.7h0M311.6 238.4h0M300.3 271.4h0M317.1 245.9h0M310 238h0M322.9 259.3h0M323.5 263.2h0M302.5 243.7h0M322.3 230.2h0M323.6 263.2h0M312.6 255h0M314.1 231.5h0M308.4 234.2h0M319.3 261.9h0M329.5 267.3h0M332.4 260h0M325.1 236h0M317.9 256.3h0M316 234.6h0M324.1 267.8h0M326.5 268.8h0M312.3 232.3h0M324.3 265.3h0M314.4 250.2h0M311.1 246.1h0M315 244.5h0M303.1 254.5h0M320.9 236.7h0M315.7 253.8h0M310.6 251.5h0M308.5 271.7h0M308.5 252h0M308.8 255h0M299.2 247.4h0M314.3 243.9h0M326.2 255.6h0M309.4 231.6h0M314.6 239.8h0M332.2 267.9h0M332.3 260.1h0M320.5 250.7h0M324.4 235.2h0M318.1 240.7h0M316.5 239.3h0M330.2 246.2h0M326 251.6h0M316.2 240.4h0M309 251.8h0M298.1 247h0M309.7 235.9h0M319.1 258.3h0M300.8 259.7h0M332.1 238.7h0M303.8 235.3h0M314.6 253h0M329.4 266.4h0M314.2 254.2h0M334.3 248.3h0M315.4 234.2h0M322.4 261.8h0M327.7 233.5h0M325.3 268.8h0M330.9 236.8h0M297.9 235.6h0M323.2 259.2h0M317.2 262.5h0M298.8 232.5h0M325.8 256.8h0M325.9 244.1h0M314.4 245.5h0M323.1 258.5h0M302.5 256.9h0M326.5 258.7h0M320.9 261.3h0M306.5 254.6h0M333.7 271.6h0M321.9 240.5h0M315 261.3h0M310.5 241.7h0M327.4 236.1h0M334.7 251.4h0M334.1 238.5h0M317.9 257h0M299.8 234h0M301.9 250.5h0M306.1 256.3h0M321.6 268.5h0M329.5 231.6h0M305.4 258.3h0M322.6 245.3h0M312.3 267.3h0M332.5 263.7h0M320.5 269.8h0M300.1 264.2h0M329.2 259.7h0M329.1 244.2h0M328.5 244.3h0M318.1 243.5h0M301.8 255.8h0M310.4 233h0M321.3 247.8h0M332.6 270.2h0M323.8 234.9h0M299.8 234.4h0M330.8 233.7h0M316.8 259.5h0M320.7 253.9h0M315.2 233.9h0M298.6 267.9h0M300.1 259.6h0M304 252.1h0M299.7 232.7h0M333.7 247.6h0M313.9 235.6h0M311 242.5h0M312.2 238.8h0M302.6 271h0M327.1 264.6h0M323.2 248.9h0M334.4 252.8h0M325.7 231.7h0M321.8 264.2h0M299.4 270.6h0M325.3 255.4h0M317.4 232.6h0M322.5 264.1h0M327.9 245.6h0M305.9 268.2h0M328.1 240.1h0M313.4 261.4h0M333.9 271.4h0M311.6 254.7h0M297.8 233.2h0M313.5 246.1h0M305.7 233.1h0M325.3 266.1h0M301.3 244.7h0M331.2 268.9h0M322.9 261.8h0M307.5 258.4h0M297.4 253.1h0M304.3 243.1h0M324.5 234.2h0M309.2 248.2h0M321.3 262.6h0M331.1 258h0M314.2 237.3h0M324.8 232.5h0M298.5 261.2h0M300 244h0M320 264h0M323.5 239.9h0M330.1 268.9h0M298.2 245.9h0M307.2 245.1h0M309.7 259.4h0M307.8 265.3h0M332.1 267.3h0M298.7 252.4h0M329.4 262.9h0M324.6 235.2h0M309.3 233.4h0M303.2 241.7h0M334.2 256.7h0M332.6 250.8h0M302.2 240.7h0M328 241.4h0M310.4 243.3h0M320.1 266.3h0M329.9 246.3h0M304.9 235.5h0M315.8 255.6h0M327.8 258.5h0M303.9 258.5h0M369.3 54h0M353.4 138.8h0M346.6 114.2h0M379.3 121.7h0M372.5 94.6h0M345.5 104.7h0M376.7 55.4h0M354 131.6h0M345.9 129.1h0M354.8 92.1h0M363.7 60.6h0M365.1 79.5h0M379.2 144.3h0M371.8 113.4h0M379.3 137h0M354.4 73.7h0M378.9 125.7h0M366.5 135.7h0M377.9 115h0M378.4 114.4h0M372.2 117.5h0M363.9 72.5h0M378.9 104.1h0M350.9 131h0M371.9 104.5h0M345.6 133.1h0M342.7 142.7h0M378.9 96.1h0M346.3 123.4h0M371.9 132.7h0M371.2 102.5h0M362.1 86.4h0M351.5 96.2h0M347 98.9h0M354.8 61.7h0M362.6 70.9h0M365.2 90.5h0M353.4 125.8h0M363.9 88.3h0M344.6 99.9h0M345.3 97.5h0M342.9 73.8h0M373.2 75.9h0M352.5 83.9h0M368.9 126.6h0M357.6 115.8h0M356.7 112h0M379.4 75.1h0M368.3 138.9h0M355 83.6h0M363 101.2h0M363.9 92.2h0M354.7 132.1h0M355.8 61h0M344.3 85.8h0M368.4 120.1h0M343.7 103.7h0M370.9 118h0M343.1 105.3h0M345.1 126.1h0M373.2 71.4h0M343.3 111.1h0M366.3 78.2h0M355.2 76h0M376.3 96.2h0M361.1 124.2h0M373.3 104.1h0M371.2 129.4h0M346 94.3h0M356.9 93.3h0M368.6 142.2h0M359.4 123.8h0M369.8 117.1h0M367.2 125h0M352.9 110.7h0M360.3 88.5h0M346.6 116.2h0M366.6 88h0M349.6 93.9h0M362.2 127.8h0M357.5 85.1h0M378.8 103.5h0M346.6 134.9h0M343.4 121.6h0M352.9 64.8h0M372.2 115.8h0M369.6 87.2h0M366.6 110.5h0M360.5 91.1h0M369.2 123h0M356.6 131.5h0M357 83.3h0M361.7 66.5h0M370.4 140.3h0M378.5 140.1h0M368.2 116.4h0M369.9 120.8h0M357.9 102.4h0M350.6 61.2h0M355 75h0M343.6 134h0M367.8 121.2h0M378.3 67.6h0M353.1 60.5h0M356 109h0M377.6 84.1h0M369.5 103.8h0M373.7 98.1h0M379.1 95.5h0M364.6 70.9h0M353.3 110.9h0M351.9 88.7h0M362.3 93h0M376 81.2h0M365.1 91.4h0M346.4 123.2h0M376.1 140.1h0M356.7 125.3h0M345.2 89h0M361.5 112h0M367.2 72.4h0M358.8 122.1h0M378.2 137.7h0M373.8 137.5h0M371.8 119.7h0M371.5 103.5h0M346.8 134.5h0M355.8 108h0M379.2 72h0M379.1 94.7h0M359.9 132.4h0M346.2 109.2h0M346.4 138.8h0M364 97.2h0M379.1 108.7h0M368.3 82h0M354.4 92.7h0M359.1 89.7h0M367.3 141.1h0M345.4 103.7h0M348.1 128h0M374.4 130.8h0M354.3 70.3h0M347.4 90.4h0M352.5 87.7h0M346 78.6h0M374.3 92.9h0M358.7 112.7h0M357 88.2h0M356.3 109.4h0M367.1 87.8h0M349.1 89.1h0M346.4 86.1h0M346.2 127.3h0M354.3 66.6h0M370.4 101.5h0M355.4 142.2h0M371 126.2h0M362.6 131.5h0M378.7 102h0M363.9 133.9h0M361.1 137.8h0M361.1 103.7h0M362.6 90h0M351.8 97.3h0M361.4 127.1h0M352.1 137.2h0M377 96.5h0M358.3 109.3h0M342.3 122h0M354.9 115.8h0M356.7 135.4h0M379.2 80.3h0M378.5 86.3h0M378.8 53.7h0M349 95.7h0M374.4 81.3h0M371.3 103.4h0M376.7 96h0M351 103.5h0M364.2 101.7h0M342.8 136.4h0M379.4 95.2h0M352.8 85.7h0M372.2 75.8h0M344.7 105.9h0M344.4 90.2h0M366.1 87.5h0M371.7 102.1h0M353.8 137.6h0M355.4 131.5h0M366.5 124h0M372.2 72.5h0M374.3 90.9h0M357.9 143.5h0M348.4 144h0M366.1 73.8h0M379.1 138h0M378.4 74.9h0M346.6 119.3h0M357.9 83.8h0M356.6 100.7h0M343.3 121.1h0M367.1 88.5h0M363 71.7h0M354 143.1h0M375.9 112.1h0M379.1 124.2h0M361.7 140.1h0M365.1 120.5h0M377.7 66.5h0M364.2 137.8h0M378.7 77.8h0M350.7 107.8h0M362 130.2h0M376.7 89h0M362.8 134.3h0M373.8 89h0M366.3 135.8h0M348.7 137.2h0M347.4 92.6h0M343.2 127.7h0M362.2 98.7h0M364 57.8h0M342.5 99.5h0M367.5 64h0M371.6 96.1h0M356.2 75.4h0M367.4 75.5h0M363.4 132.1h0M351.6 54.6h0M348.4 116.9h0M370 104.8h0M357.4 136.3h0M344.7 107h0M361 141.3h0M346.8 67.9h0M345.5 104.4h0M346 142.3h0M354.2 76.1h0M363 100.7h0M356.6 138.7h0M358.5 144h0M369.2 114.6h0M349 116.2h0M358.3 130.6h0M350.7 115.7h0M373.4 136.4h0M349 80.6h0M361.4 142.2h0M349.3 97.2h0M345.2 261.2h0M358 251.4h0M360.3 245.3h0M368.6 243.7h0M342.4 257.8h0M353.4 247.5h0M373.3 257.3h0M375.9 262.5h0M362.7 268.6h0M368.8 230.3h0M376.3 266.8h0M346.8 247.7h0M348 250.4h0M349 242h0M378.4 265.1h0M364.3 264.4h0M376.4 266.8h0M356.4 247.4h0M349.4 242.1h0M354.3 264h0M374.4 246.7h0M343.7 254.6h0M345.9 255.7h0M351.4 250.6h0M363.5 262.4h0M370.6 248.6h0M357.8 267.8h0M347.9 259h0M345.2 269.7h0M356.7 257h0M347.1 233.7h0M347.8 246.3h0M379.4 251.7h0M375.1 261.7h0M349.1 248.7h0M363.4 231.2h0M367.6 246.8h0M352.8 242.6h0M376.2 256.4h0M371 248.6h0M361.3 230.6h0M343.2 266.4h0M358.6 262.4h0M366.1 233.1h0M356.1 270.9h0M362.1 235.1h0M378.7 232.1h0M360.1 256.2h0M356.2 232.6h0M347.3 229.5h0M353.4 249.9h0M367.7 249.7h0M377.5 231.4h0M362.8 256h0M378 231.1h0M351.3 245.5h0M360.2 259.1h0M346 238.2h0M372.6 266.6h0M367.7 270.5h0M376.5 247.8h0M359.2 232.5h0M362.4 266.1h0M371.3 263.2h0M378.1 241.9h0M370.9 230.8h0M346.6 230h0M349.3 231.1h0M357.8 253.3h0M376 253.5h0M344.7 243.6h0M378.9 267.6h0M376.2 270.3h0M346.1 252.6h0M377.9 268.7h0M348.9 244.7h0M357.3 231.7h0M355.2 239.3h0M372.2 244.1h0M348.5 246.9h0M360.4 254.7h0M359.8 232.7h0M351.8 241.8h0M379.6 267.5h0M375.6 250.2h0M374.6 247.3h0M353.7 251.1h0M375.9 242.8h0M377 266.2h0M351.4 268.6h0M367.9 230.7h0M354.8 254.3h0M369.5 239.9h0M347.7 262.3h0M354.4 243.4h0M370.8 241.4h0M354.8 230.3h0M344.9 263.1h0M378.6 247.8h0M368.6 270.7h0M365.5 262.6h0M343.4 246.8h0M342.4 250h0M361.5 233.4h0M357.1 267.4h0M347.2 251.2h0M376.2 255.5h0M344.3 271.1h0M359.7 239.6h0M376.5 249.6h0M414.1 80h0M412.4 137.5h0M387.2 117.1h0M402.4 131.5h0M406.8 113h0M408.5 125.1h0M408.2 121.2h0M415.5 117.6h0M397.3 131.8h0M400.8 108.9h0M396.6 143.9h0M414.5 108.6h0M397.2 81.7h0M408.7 102.4h0M399.2 140.1h0M393.1 116.8h0M409.4 105.9h0M391.5 104.5h0M417.6 111.5h0M413.1 112.1h0M416.6 116.9h0M394.7 123h0M416.9 142h0M419.5 88.4h0M421.4 140.2h0M414.1 121h0M408.2 107.1h0M408.5 130.7h0M395.3 102.3h0M405.5 116.1h0M394.8 123.3h0M400.9 132h0M400 108.3h0M405 139.7h0M392.4 126.8h0M396.3 139.3h0M406.1 103.9h0M392.5 114h0M414.5 121.9h0M392.3 95.9h0M419.9 121.6h0M415.2 116.7h0M405.5 136.8h0M411.5 140.3h0M424.4 119.8h0M390.9 134.6h0M415.5 113.2h0M407.5 131.5h0M421.2 141.4h0M390.3 115h0M421.9 138.9h0M406.4 140.5h0M414.4 126.8h0M419.9 127.7h0M389.7 123.5h0M408.3 136.4h0M390.5 141.2h0M394.4 120.2h0M411.3 106.8h0M397.1 120h0M417.1 144.1h0M414.5 101.3h0M423.1 138.1h0M396.1 103.9h0M392 128.9h0M422.3 108.8h0M412.2 114.9h0M405.1 100.4h0M421.4 107h0M399.8 123.3h0M423.2 90.7h0M404.2 125.9h0M405.4 109.2h0M421 124.2h0M424.5 132.4h0M412.7 88.9h0M390.9 138.9h0M419.8 119.4h0M409.4 116.4h0M387.5 84h0M422.4 132.9h0M388.5 129.6h0M390.3 142.6h0M387.5 138.4h0M405.8 87.4h0M419.8 94.8h0M412.6 143h0M414.9 121.6h0M422.6 132.7h0M406.5 126.6h0M410.1 122.8h0M404 116.4h0M390.3 99h0M423 100.6h0M405.9 130.6h0M392.3 109.4h0M406.4 140.8h0M411.7 133.3h0M406.8 101.8h0M399.5 121.7h0M421.4 132.8h0M387.8 106.4h0M391.3 107.6h0M392.2 137.5h0M408.1 109.6h0M424.2 136h0M399.3 123.7h0M395.8 143.1h0M419 129.9h0M398 92.4h0M395.8 139.7h0M419.1 142.9h0M410.5 130.4h0M401.5 131.8h0M400.9 132.3h0M417.3 110.1h0M422.8 97.3h0M412.2 110.6h0M399.4 110.7h0M411.4 142.3h0M399.6 130.4h0M387.2 108h0M399 123.4h0M418.9 121.9h0M419.8 129h0M394 102.6h0M396.7 103.3h0M394.6 88.2h0M396.6 104.7h0M403 134.4h0M403.1 93h0M422.5 85h0M399 139.6h0M392.9 133.2h0M387.9 113.4h0M406.1 112.3h0M388.5 103.2h0M415.8 138.7h0M418 139.6h0M397.2 121.5h0M409.8 105.3h0M408.2 127.1h0M395.1 123.1h0M412.1 124.4h0M399.1 84.5h0M400.1 136.1h0M395.5 113h0M417.9 120.5h0M414.7 137.2h0M416.5 127.1h0M406.2 140.7h0M421.8 129.9h0M402 90.5h0M390.4 123.7h0M390.4 112.4h0M401.6 123.3h0M415.4 143h0M390.1 135.5h0M404.5 138.3h0M401.1 144h0M417.6 143.5h0M397.9 134.1h0M410.2 127.5h0M410.9 120.3h0M415.8 88.3h0M420.7 142.4h0M400.7 120.4h0M421.1 140h0M420.7 128.6h0M402.1 131.4h0M413.7 119.9h0M415.3 231.2h0M421.6 259.6h0M391.8 244.4h0M397.9 270.8h0M421.5 265.2h0M397.8 260.3h0M408.4 251.1h0M408.8 241.1h0M409 271.1h0M403.9 254.9h0M418.9 240.3h0M404.8 233.4h0M424.1 255.5h0M422.7 236.8h0M389 256.8h0M392.4 243.1h0M411.7 266.7h0M388.9 267.2h0M419.2 248h0M399.9 235.4h0M419.6 255.6h0M395.5 238.7h0M408.5 231.2h0M388.7 256.8h0M404.6 235h0M388.9 256.1h0M407.8 266.9h0M411.1 255.7h0M409.4 245.5h0M414.8 246h0M389.1 251.2h0M389.5 245.4h0M390 267.2h0M414.6 248.2h0M388 247.1h0M402.6 238.1h0M418.1 240.1h0M422.7 238.7h0M395.8 258.4h0M408.9 247.3h0M421 236.4h0M412.6 235.5h0M418.6 251h0M392.4 233.2h0M396.7 253.3h0M399 240h0M407.1 261.9h0M411.3 235.7h0M387.2 236.3h0M401.6 240.9h0M396.1 250.2h0M417.9 235.8h0M406.8 234.1h0M400.3 263.6h0M397.4 257.5h0M389.9 257h0M422.4 270.2h0M412.4 270.1h0M410.3 248.9h0M420.4 263.6h0M399.6 250.3h0M398.1 237.6h0M390.3 259.3h0M389 255.5h0M395.5 262.5h0M419.3 248.5h0M391.5 261h0M401.5 257.8h0M395.8 271.3h0M404.7 255.6h0M410.9 250.7h0M416.4 247.2h0M396.7 255.9h0M411.5 238.3h0M393.2 252.8h0M421.6 247.7h0M398.2 247.1h0M389.3 255.8h0M421.5 244.6h0M392.2 231h0M395.4 244.3h0M406.3 231.2h0M388 255.3h0M407.6 260h0M396.1 256.2h0M424.5 256.2h0M401 267.4h0M400.7 230.4h0M402.6 261.6h0M412.6 255.6h0M395.3 247.9h0M404.7 261.2h0M399.9 251.6h0M410 252.5h0M413.4 264.6h0M418.8 252.9h0M416.1 261.9h0M421.8 233.6h0M397.2 248.6h0M393.6 261.1h0M389.2 255.7h0M416.4 258.1h0M407.1 260.2h0M395 262.5h0M408 249.6h0M421.8 241.3h0M408.2 268.9h0M399.1 230.3h0M406.8 260.3h0M408.1 259.9h0M419.3 263.1h0M405.7 269.7h0M418.1 261h0M422.5 240.2h0M404.1 233.9h0M420.2 232.7h0M389.1 260.8h0M413.4 243.7h0M394.1 238.8h0M401.9 242.7h0M396.2 250.8h0M421.4 241.8h0M394.6 231.5h0M405.7 238.3h0M405.3 256.7h0M405.2 269.5h0M391.6 234h0M390.6 254.8h0M413.6 261.7h0M423.1 240.2h0M400.5 270.5h0M404.6 235.7h0M417.6 241.8h0M405.5 235h0M417.8 246.8h0M391.6 246.5h0M403.2 230.2h0M402.4 245.5h0M400.1 260.5h0M391.2 251.9h0M402.8 229.9h0M399.3 258.5h0M389.9 269.5h0M396.2 234.2h0M391.5 238.4h0M423.7 236.7h0M420.2 243h0M403.8 267.6h0M415.1 262.3h0M408.9 256.4h0M390 255.1h0M409.8 256.3h0M415.9 266.8h0M410.1 250.3h0M396 241.3h0M409.4 236.2h0M395.5 242.1h0M420.6 260.2h0M423.9 234.9h0M403.2 244.5h0M421.1 258.2h0M418.7 265.3h0M410.7 255.4h0M407.2 229.8h0M421 232h0M411.1 241.5h0M417.8 232h0M389.4 237.6h0M412.5 242.2h0M398 254.5h0M387.5 247h0M391 237.3h0M394.3 270h0M411.3 257.2h0M416 232.8h0M415.6 263.4h0M389.5 233.7h0M423 257.2h0M387.8 260.1h0M391.1 257.7h0M402.1 238.1h0M400.1 258.9h0M414.9 240.5h0M401.2 244.1h0M397.5 233.2h0M387.7 261.5h0M398 251.5h0M396.3 257.1h0M411.5 249.8h0M392.3 268.9h0M410.3 250.8h0M392.2 230.4h0M402.6 238.7h0M395.2 229.6h0M416.9 248.3h0M420.7 270.2h0M390.6 233.6h0M406.6 253.4h0M406.1 234.8h0M405.1 268.8h0M399.6 248.3h0M423.1 255.9h0M400.1 254.3h0M407.2 258.8h0M402.2 255.2h0M415.6 233.6h0M389.6 242.6h0M395.2 245h0M388 259.6h0M409.1 264.8h0M414.6 233.9h0M409.4 246.7h0M392.8 242h0M409.2 243.6h0M412 271.1h0M415.1 250.8h0M401.4 261.4h0M419.9 231.5h0M393.4 235.7h0M413.2 242.5h0M402.7 247.4h0M416.2 236.2h0M410.6 260.7h0M388.5 267.5h0M416.2 264.1h0M401.4 249.7h0M416.7 271.1h0M388.6 269.6h0M397.4 261h0M417.8 231h0M416.6 267.2h0M408.4 252.5h0M412 233.5h0M417.8 241.5h0M394.4 233h0M407 240.7h0M401.3 242.7h0M392.8 250.3h0M387.9 252.1h0M409.6 247.8h0M387.8 251.7h0M421 251.6h0M397.2 245.3h0M418.6 264.5h0M404.6 263.5h0M391.5 238.7h0M392.8 256.2h0M392.4 257.4h0M411.4 248.3h0M398.8 256.8h0M420.7 254.4h0M404 261.7h0M390.3 231.2h0M388.2 238h0M410.7 258.1h0M423.3 231.5h0M420.8 248.9h0M412.1 237.6h0M413 269.1h0M422.1 241.3h0M401.9 243.1h0M397.7 250.3h0M404.7 266.8h0M399.3 233.6h0M420.8 261.3h0M414.9 232.1h0M387.2 266h0M421 252.5h0M422.1 256h0M396.4 259.4h0M405.4 265.5h0M401.9 234.4h0M420.3 230.3h0M420.1 230.4h0M389.9 236.4h0M408.3 257.7h0M398.5 252h0M402.8 245.6h0M407.6 268h0M408 266.4h0M392.2 243.7h0M412.2 251.1h0M400.7 230.5h0M397.6 257.9h0M408.1 270.6h0M394.3 261.4h0M400.2 264.8h0M403.8 235.1h0M404.1 237.5h0M401.8 268h0M414.4 238.2h0M409.1 244.3h0M396.9 263.4h0M391.3 238.9h0M389.8 257.3h0M389.6 268.5h0M416.3 265.5h0M423.8 261.4h0M413.5 245.4h0M387.2 254.2h0M412.1 252.5h0M397.6 242.5h0M388.3 233.6h0M389.1 236.7h0M398.6 230.6h0M413.8 251.1h0M421.7 235.6h0M404.2 265.2h0M408.2 233.9h0M391.9 230.2h0M400.3 255.3h0M410 268.4h0M418.9 258.6h0M402.3 250.6h0M391 256.9h0M390.9 237.1h0M410.4 262.3h0M420.1 237.2h0M394.7 235.9h0M416.3 243.5h0M424.4 255.2h0M416.5 260.7h0M415 260h0M422.9 251.8h0M406.3 260.7h0M405.4 255.4h0M412.1 244.2h0M411.6 264.7h0M401.7 231.8h0M424 247.1h0M397.9 242.1h0M388.3 232.3h0M402.8 244.4h0M388.7 253.1h0M418.5 269.7h0M404 236.8h0M391.1 260.1h0M395.8 239.3h0M414.8 252.5h0M400.5 263.4h0M390.9 230.6h0M390.6 245h0M416.8 241.8h0M398.4 249.8h0M418.6 247h0M413.1 271.4h0M417.7 233.2h0M403.9 266.7h0M412.5 236.3h0M423.8 263.9h0M395.9 264.3h0M422.5 236.6h0M412.5 266.1h0M391.7 232h0M423 253.9h0M408.6 260.5h0M404.8 254.7h0M404.6 265.2h0M403.6 267h0M424.1 249.5h0M403.8 257.5h0M402.9 230h0M402.5 239.1h0M402.5 231.4h0M417.5 245.3h0M414.9 243.1h0M409.7 254.3h0M420.1 262.9h0M397.7 235.2h0M408.9 231.1h0M398.1 231.8h0M402.1 267.7h0M397.4 246.5h0M406.3 262.8h0M419.3 250h0M387.9 236.3h0M416.6 267.4h0M417.2 260.8h0M390.7 251.6h0M413.7 237.7h0M409.6 235.4h0M421.8 246.6h0M400.5 261.9h0M407.5 234.7h0M388.4 256.4h0M392.5 249.9h0M415.1 243.2h0M391 268.5h0M406.3 244.2h0M420.6 269.3h0M393 263.1h0M412.4 261.4h0M402.6 231.2h0M394.1 251h0M402.4 236.2h0M399.7 229.7h0M397.3 251.3h0M420.5 251.5h0M401.5 249.2h0M420.2 258.3h0M418.1 234.6h0M421.4 267.9h0M420.7 237.5h0M400.3 243.6h0M416.7 241.6h0M392.7 256.3h0M408.8 242.3h0M409.9 264.6h0M398.7 257.6h0M410.2 265.5h0M397.7 255h0M399.1 253.7h0M422.4 246.4h0M394.3 248.2h0M395.7 246.9h0M395.1 259.5h0M404.5 259.5h0M408.9 247.1h0M409.4 270.9h0M399.1 238.4h0M410.9 235.6h0M389.4 268h0M391.4 240.9h0M418.4 251.9h0M418.1 235.9h0M407.2 246.4h0M422.2 255h0M423.8 269.3h0M422.9 254.1h0M408.7 262.8h0M398.7 254.6h0M404.3 236.1h0M387.2 240.2h0M395 268.9h0M405.9 270.4h0M402.1 240.4h0M407.8 233.4h0M387.2 242.7h0M402.8 238.8h0M395.4 268.3h0M403.6 264.5h0M401.8 244.2h0M399.1 251.2h0M415.4 255.3h0M402.8 267h0M392.7 254.1h0M420.1 251.4h0M390 237.5h0M396.6 229.8h0M407.6 245.4h0M424 246h0M420 253.4h0M396.3 239.4h0M387.3 252.3h0M399.1 259.4h0M406.4 259.7h0M394.7 265.1h0M423.8 269.2h0M408.8 246.8h0M408.1 229.7h0M416.3 247.3h0M413.5 260.9h0M387.9 271.3h0M410 243.9h0M399.1 268h0M417.6 262.4h0M413.3 250.2h0M412 261.1h0M389.3 265.2h0M389.1 264.7h0M400.6 254.5h0M418.6 251.8h0M406 241.6h0M407.2 261.3h0M410.1 253h0M390.2 270.7h0M417.6 247.8h0M416.2 231.1h0M393.8 244.6h0M412.8 261.7h0M415.1 260.5h0M424.2 261.2h0M389.6 265.5h0M411.4 233.1h0M399.6 243.6h0M396.2 268.1h0M423.4 247h0M409.6 258h0M417.2 238h0M423 246.7h0M401.7 245.1h0M421.2 247.2h0M409.9 260.9h0M393 231.1h0M414.2 243.6h0M400.4 244h0M387.7 247.5h0M398.5 263.9h0M421.2 270.3h0M409.5 254.4h0M389.5 259.7h0M409.6 271.5h0M413.4 253.2h0M418.1 254.3h0M399.2 251.4h0M398.2 236.8h0M399.2 245.8h0M410 252.6h0M404.6 243.9h0M424.5 258.8h0M389.6 237.7h0M416.4 258.8h0M399.8 261h0M400.8 232.7h0M395.3 264.5h0M400.3 257.6h0M387.7 267.7h0M397.9 255h0M407.1 260.3h0M424 247.2h0M411.4 248.9h0M398.9 256.4h0M422.5 254.3h0M403.2 271.2h0M412.5 255.8h0M397.3 234h0M419.9 253.7h0M417.5 247.8h0M418.2 253.7h0M399.4 268.7h0M388.8 245.9h0M406.5 263h0M390.7 266.5h0M418.5 248.6h0M407.3 238.1h0M416.3 266.5h0M403.6 238.3h0M403.4 245.3h0M421 232.8h0M419.4 253h0M389.6 257.8h0M393 244.6h0M415.8 242.1h0M387.9 262.3h0M388.4 261.6h0M421.1 230.2h0M410 233.4h0M389.1 263.7h0M400.2 264.3h0M416.6 265.1h0M409.9 249.6h0M390.6 247.5h0M410.2 254.6h0M405.1 232.4h0M401.9 239.9h0M397.3 255.4h0M388.2 244.2h0M416.9 259.8h0M404.5 271.5h0M400.8 246.1h0M408.8 255.7h0M404.1 232.9h0M398.9 268.5h0M423.7 255.4h0M422.7 234.5h0M406.3 243.6h0M398 242.5h0M411.7 248.4h0M390.6 253.5h0M404.3 260.1h0M401.3 232.9h0M413.6 269h0M398.3 268.2h0M389.2 234.7h0M420.5 238.3h0M412.8 231.2h0M387.3 231h0M415.6 270h0M397.2 266.7h0M417.7 235.4h0M396.8 261.8h0M410.4 259.2h0M423.5 231.4h0M411 236.3h0M405.3 242.6h0M392 263.1h0M403 241.3h0M411.7 243.2h0M417.9 265.6h0M407.2 256.3h0M397.9 257.5h0M393.7 259.2h0M415.8 268.8h0M404.7 260.8h0M404.1 254.7h0M390.2 257.5h0M402.5 250.9h0M390.3 266.7h0M422.6 266.1h0M397.6 270h0M392.9 242.2h0M413.8 263.1h0M413.4 239.1h0M416.5 240.1h0M420.1 232.1h0M420.3 247.2h0M391.8 251.4h0M414.1 262.1h0M392.6 230.6h0M402.4 235.4h0M409.1 252.7h0M405 268.3h0M413.1 252.4h0M421.6 270h0M401.4 252h0M393.3 234h0M404.5 237.9h0M391 255h0M419.9 251.6h0M419.3 266.9h0M404.9 264.6h0M389.9 250.5h0M403 270.5h0M419.5 230.1h0M411.9 261h0M389.7 238.8h0M395 254.2h0M413.5 252.3h0M418 245h0M423.9 266.6h0M405.2 231h0M400 261.1h0M392.2 260.4h0M424.5 250.6h0M390.1 245.9h0M393.6 252.9h0M420.4 251.2h0M413.3 270.4h0M402.9 258.9h0M407.1 257h0M399.7 246.6h0M387.5 249.4h0M409.9 260.6h0M414.5 243.9h0M405 260.7h0M390.8 252.6h0M417.8 231.3h0M414.5 241.4h0M415.9 246.6h0M389.6 266.3h0M403.9 235.9h0M387.5 233.5h0M390.4 247h0M418.2 268.7h0M410.2 230.6h0M390.3 260.2h0M395.2 230.6h0M391.6 261.8h0M413.9 235.9h0M407.1 249h0M391.7 234h0M406.5 245.9h0M418.1 247h0M414.2 260.3h0M399.8 257.4h0M395.5 254.5h0M401.6 267.9h0M414.6 255.4h0M392.2 260h0M397.8 231.3h0M398.9 251.9h0M415.2 240.9h0M394.4 235h0M391.2 249.3h0M409.8 264.5h0M397.8 267.7h0M405.4 251.4h0M402.4 264.9h0M423 256.4h0M390.1 248.2h0M397.1 259.3h0M424.3 256.9h0M392.5 267.6h0M421.9 233.1h0M397.6 244.2h0M397 251.2h0M395.5 254.2h0M420.7 262.3h0M422.7 264.6h0M400 239.9h0M389.9 247.4h0M392.9 251.3h0M393.2 265.8h0M394.6 239.4h0M406.3 259.8h0M408.4 242.5h0M420.2 253.8h0M407.6 234.6h0M393.5 240.3h0M416.5 269.3h0M417.3 239.3h0M393.7 237.3h0M422.4 240.6h0M414.4 267.1h0M420.4 241.5h0M392.7 256.9h0M402.4 268.4h0M387.5 266.2h0M396.6 269h0M408.1 266.4h0M402 230.3h0M421.5 248.9h0M390.4 259.1h0M424.3 246.4h0M403.9 260.2h0M421.8 240.5h0M402.1 235.5h0M409.6 249.3h0M414.8 265.2h0M417.1 254.2h0M398.6 261.3h0M421.4 233.9h0M395 260.2h0M403 252.6h0M391.7 242.9h0M397 260.5h0M401.7 232.5h0M419.7 243.3h0M388.7 238.1h0M405.4 270.1h0M418.1 241.2h0M401.6 249.7h0M410.2 250.4h0M423.3 229.6h0M409.6 248.8h0M411.4 263.7h0M412.8 230.4h0M406.6 244.1h0M390.6 262.5h0M395.2 235.4h0M408.7 271.4h0M415.7 253.2h0M424 269.3h0M424.4 239.6h0M403.3 271.6h0M413.4 229.6h0M389 238.1h0M421 250.9h0M407.2 233.2h0M407.4 265.2h0M421.3 268.9h0M396.1 233.6h0M393.4 260.2h0M410.6 250.6h0M400.9 233.2h0M424.3 266.5h0M390.2 250.4h0M389.3 235.7h0M414.8 258h0M410.4 246.9h0M397.6 271.7h0M407.7 252.1h0M394.2 239.3h0M406.2 262.7h0M399.6 269.1h0M413.9 245.2h0M409.5 262.8h0M413 271.1h0M400.1 249.2h0M407 269.6h0M387.2 258.7h0M405.8 252.1h0M396.6 266.4h0M412.3 255h0M413.2 262.2h0M394.6 250.4h0M409.1 238.6h0M410.9 229.6h0M395.2 264.1h0M394.6 257h0M412.6 270.3h0M397.4 269.1h0M412.7 231.1h0M419 266.8h0M393.2 269h0M424.3 246.1h0M423.1 254.6h0M393.4 245.7h0M415.1 258.8h0M416.1 262.4h0M422.1 271.4h0M399.5 259h0M390.2 249.9h0M400.5 246.9h0M417.6 244.4h0M402.6 232.5h0M399.6 244.5h0M408.9 258.5h0M415.9 266.9h0M420.8 262.1h0M409.4 269.2h0M395.7 239.7h0M411 256.1h0M424.5 238h0M387.6 254h0M411 241h0M409.8 241.3h0M423.1 253.2h0M388 230.2h0M417.9 241.4h0M402.6 245.3h0M423.6 265.4h0M419.9 264.1h0M403.5 252.5h0M390.6 246.2h0M387.6 247.4h0M402.4 249.5h0M408.1 230.1h0M409.5 245.3h0M421 266.7h0M408.6 245.2h0M424 270.3h0M397.4 241h0M423 236.4h0M395.8 251.6h0M420.2 266.3h0M408.8 241.6h0M418.3 245.2h0M421.1 269.3h0M388.9 240.4h0M407.6 238.1h0M406.3 261.5h0M400.7 266.4h0M404.9 251.3h0M408.6 264.6h0M401 249h0M403.9 270.1h0M420.7 230.8h0M414.6 271.2h0M411.7 244.6h0M392.9 234.5h0M396.2 243.8h0M413.7 250.8h0M403.1 254.3h0M400.3 265.2h0M419.2 236.5h0M390.2 250.4h0M389.5 258.3h0M403.1 263.7h0M415.7 253.7h0M422.9 256.9h0M395 244.3h0M422.8 261.8h0M392.8 255.8h0M395.6 253h0M420.7 248.7h0M423.6 239.6h0M409.8 257h0M402.7 236.8h0M411.7 267.2h0M416.1 268.1h0M398.7 268.2h0M392 241.1h0M413.4 234.8h0M394.4 246.1h0M396.9 242h0M408 245.6h0M406.8 270.5h0M416 270.7h0M406.8 253.3h0M407.5 235.7h0M387.2 242.6h0M389.5 245.7h0M405 250.1h0M421.3 235.1h0M399.5 248.6h0M391 256h0M407.8 248h0M391.9 235.8h0M419.3 236h0M419.6 256.3h0M408.6 254.9h0M399.3 248.5h0M393.4 250.8h0M404.5 269.7h0M419.1 239h0M394.1 267.9h0M420.8 266.8h0M399.6 252.3h0M411.7 230.2h0M420.8 252.4h0M419.9 257.4h0M413.2 258.7h0M402.1 269.6h0M409 271.5h0M418.4 240.1h0M396.5 261.7h0M393.5 249.7h0M414.7 261.8h0M396.3 258.7h0M407.6 235.1h0M396.6 248.6h0M411 268.1h0M413.5 247.1h0M415.8 237.9h0M408.9 235h0M401.6 256.9h0M424.1 270.3h0M394.7 256.2h0M417.3 239.3h0M401.4 245h0M399.8 251.4h0M399 234.5h0M399.7 245.5h0M416.9 231.2h0M392.9 267.3h0M413.5 260.6h0M417.7 261.9h0M399.9 245.5h0M414.6 264.4h0M404.1 248.5h0M392.2 255.2h0M409.1 235.1h0M415 254.7h0M416.5 232.7h0M398 232h0M393.7 230.3h0M415.1 257.2h0M419.7 266.7h0M395.2 267.3h0M393.8 252.1h0M396.5 257.7h0M417.1 268.3h0M422.1 262.5h0M421.1 241.3h0M418.7 254h0M408 259.3h0M420.9 231.3h0M394.8 256.4h0M401.6 250.6h0M398.8 269.5h0M424.4 230.6h0M393.4 265.9h0M391.3 257.5h0M402.5 265.4h0M410.1 239.2h0M410.6 265h0M411.4 233.3h0M420.7 245.1h0M417.6 267.9h0M417.4 255.6h0M411 244h0M392 270.6h0M409.2 262.3h0M416.5 231.8h0M395.2 260.2h0M413.6 271.4h0M405.8 262.4h0M397.6 236.1h0M420.1 263.3h0M418.1 242.8h0M399.3 234.8h0M413.5 262.4h0M423.4 236.7h0M417.4 257.6h0M418.5 271.1h0M398.9 254.7h0M419.1 245.9h0M423.2 271.2h0M399 255.8h0M413.9 250.3h0M410.6 236.3h0M399.1 231.6h0M421.6 251.5h0M407.1 265.1h0M405.1 238.2h0M424.2 240.7h0M403.5 230h0M407.6 241.1h0M404.2 254.7h0M423.2 230h0M403.5 242.8h0M397.6 248.6h0M391.6 241.1h0M415.1 268.6h0M420.3 246.3h0M412.5 231.4h0M420.3 262.3h0M391.9 258.8h0M403.4 258h0M414.9 246.9h0M404.6 257.8h0M420.6 237.5h0M397.7 251.7h0M412 247.9h0M404.2 241.4h0M411.5 260.1h0M411.9 251.8h0M423.4 243.6h0M418.4 271.3h0M389.5 258.5h0M397.5 244.4h0M411 268.8h0M409.9 257.6h0M406.5 271.8h0M423.8 239.3h0M411.2 240.7h0M422.9 253h0M424.2 261.9h0M410.6 262.7h0M393.2 235.3h0M400.3 244.8h0M411.3 237.1h0M407.6 267.4h0M401.1 261.7h0M411.1 245.6h0M414 236h0M399.9 258.8h0M417.4 268.9h0M404.2 259.8h0M410.7 253.4h0M411.2 271.6h0M418.8 240.5h0M404 254.8h0M405 255.3h0M407.1 246.1h0M420.5 265.6h0M412.2 269.1h0M419 230h0M420 230.4h0M404.7 246.5h0M415.9 245.5h0M421.6 264.4h0M424.5 242.1h0M407.7 245.4h0M393 254.3h0M398.2 252.3h0M388.4 237.9h0M389.7 254.8h0M411.3 259.7h0M399.2 260.1h0M420.5 265.1h0M396.6 258.1h0M405.8 267.1h0M398.9 241.9h0M404.8 244.4h0M395.6 265.3h0M391.5 250.5h0M404.2 235.9h0M398.1 246.2h0M387.8 264.9h0M389.9 231.6h0M399.7 230.1h0M415.1 240.4h0M391.4 243.8h0M422.5 250.6h0M393.2 251.5h0M390.5 263.6h0M415 240.5h0M406.2 259.9h0M390 246.8h0M403.5 250.9h0M414.3 236.1h0M396.7 239.7h0M407.9 242.9h0M415 251.5h0M403.1 246.8h0M387.4 247.2h0M398.3 267.7h0M415.7 261.9h0M413.6 265.1h0M397.7 266.4h0M393.2 258.6h0M422.7 271.8h0M409.1 247.3h0M410.1 239.9h0M389.5 256.5h0M420.7 232.5h0M403.6 230.8h0M396.3 259.9h0M416.2 242h0M391.4 246.4h0M398.4 252.5h0M419.8 240.7h0M417 237.6h0M422.7 240.8h0M393.6 256.4h0M395.9 266.9h0M419.2 238.8h0M388.9 269.4h0M405 268.4h0M387.5 251.7h0M391.1 267.8h0M402.5 263h0M422.1 239.7h0M416.5 265h0M407.8 235.4h0M407.5 235.4h0M408.9 268.1h0M399.4 265.4h0M401.7 251.6h0M412.3 256.3h0M405.2 242.5h0M397 261.6h0M413.5 241.9h0M394.2 267.7h0M395 258h0M390.3 230.1h0M424.4 236.2h0M393.5 270.3h0M417.1 248.2h0M420.8 263.2h0M401.2 234.7h0M402.3 255.6h0M401.4 240.8h0M421.3 244.5h0M400.5 259.7h0M400.5 252.4h0M417.7 256.2h0M398.8 245.3h0M388.4 257.6h0M395.3 243h0M402.4 250.4h0M394.6 239h0M408.2 257.4h0M421.2 232.5h0M398.7 231.8h0M408.6 237.4h0M390.4 235h0M406.6 231.6h0M409.1 232.1h0M411.7 255.6h0M392.9 252.9h0M407.2 270.5h0M413 230.6h0M399.6 231.9h0M417.6 248.8h0M416.8 255.3h0M419.5 241.7h0M417.7 245.4h0M398.9 240.3h0M418 233.5h0M411.6 258.4h0M404.8 244.9h0M411.1 261.8h0M398.9 231.8h0M413.3 266.1h0M401.3 270.8h0M406.4 234.1h0M406.4 247.9h0M466.8 63h0M455.3 127.5h0M451.6 128.5h0M444.6 136.3h0M448.8 112.2h0M468.5 131.6h0M437.3 127.4h0M454.3 143.4h0M444.3 115.1h0M436.8 78.1h0M462.9 124.3h0M440.3 139.4h0M441 102.6h0M455.6 123.6h0M447.5 133.8h0M435.4 122.4h0M469.1 111.5h0M453.6 119h0M433 144.2h0M451.7 116.5h0M439.8 140.9h0M468.7 128.6h0M455.9 106.3h0M442.8 104.7h0M469.3 105.6h0M458.9 96.5h0M468 140.5h0M441 123.9h0M458.2 140.8h0M454.6 94.7h0M457.8 102.8h0M440.9 110.3h0M453.1 127.3h0M457.9 136.6h0M439 88.3h0M438.2 136.2h0M462.7 87.3h0M452.5 144.5h0M437 136.8h0M439 131.4h0M439.9 126.6h0M450.5 130h0M449.4 106.4h0M443.8 144.4h0M444.5 104.2h0M455.9 83.5h0M459 101.1h0M445.2 136.6h0M447.7 94.9h0M441 133.9h0M441.7 143.4h0M464.5 139.7h0M452.5 107.2h0M440.7 97.2h0M466.3 125.3h0M444.1 105.1h0M440.3 141.3h0M464.2 86.1h0M453 111.4h0M453.9 104.6h0M442.3 123.8h0M456.4 101.3h0M434 138.9h0M446.7 116.4h0M468 133.7h0M449.9 111h0M461.5 93.2h0M460.3 117.7h0M444.1 115.7h0M452.5 131.9h0M440 135.3h0M461.7 92h0M454.2 116h0M434.7 100.6h0M463.1 114.8h0M449.3 96.8h0M469 126.2h0M439 99.6h0M460 99.5h0M459.3 74.4h0M461.7 77.4h0M466.5 97.9h0M449.2 140.2h0M458.3 134.2h0M468.3 114.1h0M456.2 100h0M454.2 95.4h0M453.8 141.6h0M434.1 93.7h0M462.8 113.4h0M447.6 117.7h0M465.3 98.7h0M462 103.3h0M434.3 96.6h0M442.8 86.5h0M456.2 99.7h0M444.9 110.6h0M437.2 114.8h0M448.3 139.1h0M436.3 115.9h0M462.3 101.2h0M445.4 109.8h0M461.7 137.3h0M442.5 134.6h0M463.9 119.2h0M437.8 83.9h0M435.8 104.2h0M453.2 114.3h0M451.6 99.4h0M442.4 133.5h0M456.9 132.2h0M459.2 95.8h0M445.8 106.8h0M442.4 87.2h0M437.8 79.7h0M433 129.6h0M454.5 98.3h0M463.5 120.3h0M450.6 131.1h0M446 94.8h0M440.4 139.1h0M432.3 90.3h0M444 96.4h0M450.9 119.5h0M462.8 110.7h0M451 124.2h0M468.3 141.1h0M446.3 139.9h0M433.1 127.9h0M456.6 124.6h0M462.6 82.6h0M462.9 136h0M460.9 122.6h0M442.1 102.1h0M464.3 140.1h0M454.8 93.3h0M452.8 121.9h0M436.3 85.4h0M432.3 116.3h0M454 75.3h0M446 124.8h0M462.2 90.8h0M467.7 90.2h0M465.7 79.8h0M446 137.7h0M452.6 97.3h0M446.1 138.7h0M434.7 93.2h0M451.7 129.9h0M458 75.2h0M451.7 120.8h0M444.6 104.6h0M448.7 127.6h0M433.9 91.3h0M453.9 140.4h0M447.4 108.2h0M444.3 109.8h0M436.2 104.6h0M465.3 122.2h0M438.8 134.4h0M452.6 135.3h0M449.8 137.2h0M466.1 83.2h0M443.7 144.2h0M463.4 87.2h0M440.3 142.4h0M462.4 121.9h0M462.8 144h0M456.3 99.8h0M442.4 127h0M468.9 118.9h0M465.1 103.2h0M455.4 99.7h0M447.4 92.6h0M439.7 98.2h0M442 120.5h0M435.4 118.7h0M457 115.6h0M452.3 143.2h0M440.6 81.9h0M436.4 142.9h0M466.6 135.3h0M446.9 110.7h0M444 112.5h0M465.6 141.3h0M440.1 126h0M452.5 65.2h0M453.4 103.3h0M466.5 95.9h0M463.8 95.6h0M443.6 65.7h0M438.7 135.1h0M444.3 129.4h0M432.6 112.8h0M461.4 136.3h0M456 96.6h0M463.9 130.6h0M453 103.2h0M432.9 124.3h0M445.9 120.7h0M448.9 115.4h0M438.5 133.1h0M438.9 108.7h0M435.9 125.7h0M444.2 108.3h0M467.6 140.2h0M440.3 104.4h0M457.7 90.4h0M436.1 80.5h0M457.5 74.9h0M443.3 141.8h0M462.1 132.8h0M438.6 131.4h0M433.5 100.8h0M443.3 106h0M454.7 136.3h0M455.9 123.1h0M437.1 122.5h0M433 104.8h0M433.8 96.7h0M453.3 109.2h0M448.1 270.5h0M441.8 266.9h0M469.3 245.9h0M454.6 247.5h0M464.8 265.3h0M432.9 268.3h0M467.1 244.9h0M440.6 245h0M463.6 240h0M446.4 253.4h0M442.1 237.5h0M450.5 240h0M452.1 231.9h0M460.1 254.8h0M460.5 252.6h0M463.1 236.7h0M445 238.5h0M436 255h0M462.4 264h0M444.4 259.8h0M439.2 237.3h0M455.6 239.1h0M453.2 239.5h0M465.1 262h0M444.3 261.1h0M467.6 260.2h0M435.2 257.1h0M449.8 252h0M442.9 230.1h0M449.7 265.6h0M464 268.5h0M452.1 249.5h0M456.5 237.2h0M452.1 235.7h0M458.1 249.8h0M466.6 259.4h0M463.5 267.3h0M448.7 235.7h0M447.8 259.3h0M454.1 229.5h0M432.9 234.1h0M440.6 236.7h0M447.2 238.9h0M454.7 261.1h0M446.2 246.4h0M445 248.9h0M446.9 267h0M452.8 261.1h0M454.1 248.1h0M449.8 262.5h0M442.7 257.5h0M440.6 258.1h0M467 241.5h0M456 258.8h0M453.5 242.2h0M440.2 242.1h0M437 256.7h0M456.8 230.8h0M444.8 244.6h0M464.9 256.2h0M436.7 257.2h0M452.5 261.7h0M436 268.8h0M435.1 244.4h0M449.3 242.3h0M445 248.4h0M466.9 260.8h0M449.2 253.9h0M455 263.4h0M441.5 255.5h0M458 253.1h0M454.1 234.8h0M453.4 255h0M466.8 259h0M467.1 269.6h0M438 264.7h0M458.9 259.9h0M448.9 251.8h0M446.1 245.5h0M439.6 246.6h0M453.9 263.8h0M451.2 270.6h0M467.8 270.2h0M451.9 233.7h0M466.2 256.1h0M460.6 247.2h0M445.4 240.2h0M454.4 246.6h0M438.1 240.7h0M438.3 230.6h0M463.9 266.3h0M449 242.5h0M453.1 246.6h0M433.6 239.6h0M468.1 253h0M455 264.6h0M447.7 234.6h0M469 250.4h0M458.8 255.7h0M459.9 249.5h0M468.7 237h0M457.2 269.6h0M464 246.8h0M441.1 229.9h0M462.9 255.5h0M458.1 241.3h0M461.8 267.9h0M461.9 251.1h0M449.2 266.5h0M444.8 239.5h0M467.9 245.1h0M455.4 229.8h0M438.5 237.1h0M448 245.3h0M441.9 261.7h0M433.9 258.6h0M444 244.2h0M451.7 235.6h0M442.8 244.2h0M461.1 241.2h0M457.6 245.6h0M462.6 259.1h0M457.6 264.5h0M444.6 251.2h0M435.1 269.7h0M435.9 233.9h0M465.2 246.3h0M457.6 269.1h0M440.9 269h0M444.7 252.8h0M465.1 252.8h0M451.3 236.3h0M436.5 232.8h0M450.9 244.1h0M463.3 230.8h0M460.9 230h0M445.5 242h0M433.2 263.9h0M437.8 249.1h0M459.5 261h0M461.9 238.3h0M437.8 235.9h0M447.6 236.6h0M442.5 269h0M452.1 248.1h0M439.7 265.5h0M437.5 243.7h0M459.9 269.3h0M445.4 250.7h0M445.5 254.3h0M457.8 244.6h0M435.8 232.3h0M469.4 237h0M447.9 236.2h0M449.6 246.9h0M459.3 258.6h0M439.8 265.2h0M456.2 270.6h0M444.4 259.1h0M432.7 253.4h0M446.2 265.8h0M453 257.2h0M442.1 254.2h0M439.8 259.6h0M449.8 267.2h0M433.3 268.2h0M434.5 231.2h0M435.4 250.8h0M437.2 252.3h0M455.5 233.9h0M458.3 268h0M452.2 232h0M439.7 269.1h0M463.5 268.6h0M454.5 262.4h0M436.3 244.4h0M434.5 235.5h0M459.6 267.2h0M464.4 247h0M457.7 252h0M467.3 231.6h0M445.8 241.1h0M449.5 245.7h0M442.1 257.6h0M449.7 254.3h0M462.4 239.2h0M453.8 234.9h0M460.9 240.6h0M456.5 240.6h0M454.6 247.5h0M448.8 252.6h0M462.1 260.5h0M434.6 231.1h0M460.5 251h0M458.5 260.7h0M451.8 243.9h0M435.8 253.3h0M433.1 257.5h0M448.7 251.5h0M463.7 250.1h0M454.5 259.7h0M457.4 249.7h0M441.6 257h0M438.2 248h0M448.5 269.1h0M465.1 253.6h0M447.5 247.7h0M449.7 231.7h0M452.8 245h0M452.2 258.8h0M464.8 240.7h0M439.7 260.8h0M447.9 266.2h0M453.7 233.4h0M454.5 252.7h0M443.9 258.2h0M435 267.8h0M460.1 230.6h0M453.9 235h0M445 236.9h0M451.5 244.1h0M455.9 235.2h0M441.7 255.9h0M449.4 271.4h0M467.9 230.9h0M453.4 247.2h0M463 262.1h0M466.4 259.4h0M468.7 269h0M444.1 253.2h0M456.3 244h0M455.7 260h0M442.5 232.4h0M460.2 246.7h0M458.7 254.6h0M457.3 269.6h0M442.6 261.5h0M464.6 260.2h0M442.9 258.7h0M446.5 268.8h0M445.8 254.1h0M463.4 249.2h0M465.5 254.7h0M434.8 265.6h0M467.3 267.7h0M462 238.9h0M456.1 258.1h0M465.2 236.8h0M449.6 245.1h0M439.2 230.7h0M443 269.6h0M439.5 269.2h0M448.6 260.2h0M432.3 257.8h0M450 255.2h0M456.2 241.9h0M442.3 236h0M456.3 232.9h0M465.6 234.3h0M440.3 270.9h0M432.4 268h0M460.3 258.2h0M455.1 263.2h0M462.7 237.6h0M445 261.9h0M443.8 245.5h0M435.4 259.8h0M450.5 262.7h0M448.5 248.2h0M445.4 245.8h0M436.2 249.6h0M452.6 240.9h0M433.5 248.6h0M449.3 249.8h0M434.2 243.4h0M465.1 248.6h0M433.8 238.6h0M448.4 237.6h0M448.5 254h0M456.9 262.3h0M468.9 266.8h0M440.2 266.8h0M459.1 237.4h0M463.9 269.4h0M441.2 261.8h0M454.2 250h0M454.5 258.1h0M439.6 257.9h0M449.6 249.5h0M438.9 233.7h0M449.2 256.8h0M467 248.6h0M452.8 266.9h0M461.7 255.5h0M454.9 270.9h0M435.4 249.5h0M433.8 261.4h0M439.3 241.9h0M455.6 266h0M432.5 253.8h0M467 239.6h0M446.3 235.1h0M437.3 241.3h0M460.2 234.9h0M442.7 249.2h0M449 263.3h0M437.5 256.9h0M443.6 229.9h0M464.4 231.3h0M436.4 246.8h0M441.8 262h0M455.2 263h0M436.3 263.8h0M439.7 262.2h0M462 269.4h0M441.6 230.1h0M453.5 268.2h0M455.5 247.3h0M451.2 233.3h0M469.4 247.8h0M455.7 229.7h0M446.9 247.1h0M460.5 251.8h0M456.7 237.3h0M435.5 253.9h0M454 251.3h0M439.7 250.5h0M443.4 247h0M439.4 260.2h0M441.4 234.5h0M433.7 254.7h0M445.2 233.3h0M463.4 240.6h0M454 258.8h0M439.4 248.5h0M467.8 245.1h0M452.8 266.4h0M452.8 263.2h0M433 260.2h0M466.9 265.9h0M463 259.5h0M437.5 254.5h0M446.9 240.1h0M447.4 254.2h0M455.7 229.7h0M445.4 250.5h0M454.6 255.1h0M458.1 258.9h0M461.7 270.4h0M433.9 266.2h0M442 260.3h0M437.8 266.4h0M451.5 245.1h0M457.7 231.4h0M437.8 268h0M440.2 239h0M453 239.9h0M455.3 230.6h0M442.9 263h0M441.4 257.2h0M445 258.7h0M436.1 234.3h0M458.6 240.7h0M433.2 270.3h0M438.1 263.3h0M449.7 265.9h0M463.4 240.2h0M447.8 263h0M458.2 245.3h0M467.4 245.8h0M454.4 269.6h0M436.7 264.6h0M446.9 247.8h0M444.1 245.8h0M439.5 264.5h0M432.2 233.5h0M433.4 256.8h0M454.7 268.2h0M446.7 239.1h0M437.2 266.4h0M449.9 252.2h0M463.8 252.1h0M452.6 240.2h0M450.4 236.4h0M436.4 232.8h0M459.6 252.9h0M433.1 252.9h0M463.2 256.6h0M433.8 265.1h0M432.9 261.3h0M449.4 259.8h0M444.8 232.4h0M459.7 240.2h0M448 245h0M432.1 248.2h0M442.9 229.5h0M449.8 261.1h0M435.9 236h0M450.9 258.8h0M445.4 230.5h0M449.4 271.4h0M468.5 268.9h0M440.2 230.8h0M433.7 267.1h0M446 236.2h0M446.1 261.8h0M453.9 234.8h0M450.3 249.3h0M458.6 232.1h0M437.5 247.2h0M448.5 263.3h0M435 256.3h0M453.3 241.8h0M464 254.1h0M454.9 243.6h0M433.2 258.8h0M457.2 241.1h0M463 230.3h0M446.1 252.4h0M463.3 247.4h0M448.3 241.3h0M444.4 256.6h0M465.3 249.9h0M466.5 264.4h0M447.5 251.1h0M464.8 236.6h0M459.1 230.6h0M458.9 254.1h0M436.3 229.8h0M441.8 251.3h0M465.5 239.6h0M438.8 243.6h0M441.7 237.6h0M458.2 243.1h0M455 231.9h0M456.4 255.8h0M433 254h0M443.6 251.5h0M457.6 251.4h0M453.9 249.3h0M467.7 252.6h0M455.9 259.2h0M436.1 253.4h0M455.5 232.7h0M443.8 243.4h0M441.5 240.7h0M436.5 246.9h0M445.7 242.4h0M466.5 234.4h0M454.4 271.1h0M458.1 270.6h0M442.9 261h0M461.5 264.8h0M439.3 241h0M450.9 248h0M448.9 252.5h0M454.5 238.5h0M466.1 268.9h0M461.5 253.4h0M433 268.7h0M457.4 254.5h0M432.8 230.9h0M466.3 268.3h0M469.3 241.2h0M458.7 245.9h0M436.9 249.2h0M452.9 268.9h0M433.3 250h0M459.1 240h0M457.2 269h0M462.9 266h0M445.6 255.9h0M438.9 249.1h0M444 263.1h0M440.4 264.7h0M437.5 232.8h0M455.3 255.1h0M445.1 271.2h0M435.1 265.8h0M458 231.3h0M440.6 248.8h0M449.8 253h0M447.6 258.8h0M453.4 244.9h0M444.6 252.3h0M460.1 245.5h0M450.4 246.4h0M441.6 234.2h0M465.5 259.6h0M444.7 252.4h0M461.9 255.1h0M433.6 271.4h0M448.2 232.2h0M452.2 230.9h0M433 245.2h0M451.4 235h0M441.4 267.5h0M455 245.7h0M455 266.7h0M445 261.4h0M464.1 239.8h0M437 256.4h0M435.5 260.2h0M457.7 262.8h0M447 266.5h0M466.9 240h0M450.9 230.5h0M436.1 242.3h0M469.3 238.2h0M467 233.7h0M458.6 243.6h0M433 245.5h0M436.2 255.8h0M437.7 231.6h0M443.5 267.8h0M445.3 253.6h0M435.4 244.5h0M461.6 230h0M467.1 240.8h0M463.8 232.5h0M463.5 264.7h0M434.3 251.1h0M462.4 261.2h0M460.9 239h0M454.6 230.8h0M436.6 229.5h0M465.6 249h0M459.5 265.2h0M467.1 231.6h0M456.2 237.7h0M445.3 251.3h0M460.6 246.9h0M466.1 238.7h0M442.9 268.5h0M464.3 251.7h0M434.1 251.7h0M438 254.4h0M437.8 262.8h0M442.9 252.4h0M468.2 257.2h0M445.3 260.8h0M456.4 251.3h0M450.9 240h0M437.4 251h0M438.7 259.1h0M466.5 257.1h0M465.1 254.2h0M447.4 254.1h0M462.5 249.8h0M451.8 263.1h0M443.1 254.3h0M452.1 236.8h0M443.4 235.3h0M454.6 232.7h0M437 237.7h0M445.4 230.5h0M449.1 268.5h0M448.7 250.9h0M464.2 238.3h0M446.7 259.9h0M463.8 253.8h0M437 256.4h0M433.8 229.9h0M467.4 241.8h0M438.7 253.6h0M455 253.8h0M460 262.2h0M442.4 258.4h0M437.3 239.5h0M444.2 241h0M438.6 247.1h0M462.2 257.6h0M448.2 252.5h0M461.8 238.3h0M440 236.1h0M462 243.4h0M439.4 252h0M464.7 232.4h0M465.9 270h0M451.8 263.3h0M440.2 264.7h0M454.5 232h0M460.8 252.1h0M441.9 250h0M457.5 266h0M439.5 242.6h0M446.5 253.5h0M450.8 244.1h0M453.3 265.2h0M462.4 236.1h0M435.6 245.7h0M443.5 235.3h0M465.5 229.8h0M434.5 246.8h0M461.2 260.8h0M443.8 231.6h0M450.7 256h0M458.1 250h0M433.7 232.7h0M445.7 270h0M449.7 250.4h0M464.1 234.3h0M461.7 240.1h0M448.3 254.3h0M464 241.4h0M468.8 250h0M443.8 261.6h0M463.6 262.6h0M445.8 262.7h0M441.5 248.4h0M436.8 259.7h0M440.2 261.3h0M453.1 231.1h0M454.3 238.6h0M466.8 267.3h0M450.5 261.9h0M442.9 266.8h0M440.7 253.2h0M456.3 267.1h0M435.5 267.3h0M434.2 248.5h0M461.5 270.2h0M435 236.7h0M457.6 251.9h0M438.5 233.3h0M445.7 261.8h0M439 244.1h0M449.6 244.7h0M458.2 238.4h0M458.2 250.8h0M463 254.8h0M464.5 231.8h0M448.4 263.4h0M435.5 239.8h0M466.8 265.2h0M449.6 260.7h0M468.1 233.7h0M433.8 261.9h0M465.3 235.1h0M446.1 243h0M434.4 233.6h0M467.5 244.3h0M447.4 260.6h0M463.7 245.1h0M445.1 238.1h0M454 261.8h0M442.1 259.5h0M448.4 249.8h0M441.6 248h0M436.6 263h0M444.7 252.6h0M455.8 234.8h0M455.8 267.7h0M444.3 249.1h0M438.4 240.5h0M456 263.2h0M456.1 239.1h0M432.4 254.4h0M457.4 261.4h0M441.8 233h0M446.1 267.9h0M452 257.2h0M432.5 252.6h0M448.4 264.8h0M454.1 257.3h0M445.4 243.8h0M443.3 229.6h0M450.1 231.9h0M441.3 244.3h0M455.7 254.1h0M432.7 229.5h0M440.6 253.8h0M453.3 254.9h0M468.4 230.9h0M456.6 235.5h0M460 247.7h0M458.1 257.9h0M437.3 249.5h0M456.4 234.8h0M450.6 239.3h0M464 251.1h0M467.3 238.4h0M468.8 257.4h0M434.2 256.7h0M437.2 269h0M447.3 253.7h0M467.1 239.3h0M469.1 253.3h0M436.7 258.4h0M458.4 252.8h0M437.9 249.5h0M439.5 267.4h0M445.4 265.6h0M438.9 247.5h0M441.5 243.9h0M446.6 267.4h0M465.7 231.5h0M453.4 258h0M432.6 250.2h0M439.7 232.5h0M458.4 263.9h0M438 251.7h0M441.3 270.5h0M446.8 262.7h0M449.2 229.8h0M454 252.2h0M433.5 247.7h0M466.2 268.1h0M461.4 266.7h0M449.3 260.6h0M447.3 240.6h0M462.7 232.6h0M441.8 241.3h0M457 251.4h0M465.9 259h0M453.3 259.6h0M456.3 267.3h0M450.5 270.3h0M450.5 233h0M458.8 267.8h0M452.9 249.9h0M468 232.6h0M447 239.7h0M432.6 241.1h0M451.8 231.1h0M432.5 246.8h0M460.1 235h0M458.1 231.4h0M452.5 245.9h0M443.3 258.8h0M440.6 260.2h0M452.1 250.3h0M451.6 245.7h0M452.5 262.9h0M437.4 234.2h0M454.5 246.8h0M436.3 255.1h0M466.1 263.4h0M442.9 244.7h0M455.4 238.3h0M437.4 230.1h0M449.9 270.8h0M468.2 263.2h0M461.1 246.5h0M450.2 232.4h0M463.9 264.8h0M454.8 263.4h0M445.5 257.3h0M453.7 267.4h0M450.6 233.8h0M436.5 235.1h0M451.1 230.6h0M443.3 233.4h0M467.4 245h0M437 270.6h0M449.2 265.2h0M450.3 260.3h0M447.3 240.9h0M459.2 255.2h0M442.9 265.8h0M468.4 269.6h0M449.5 229.6h0M448.8 237.2h0M466.8 233.5h0M439.9 270.6h0M449.7 234.9h0M443.4 260.9h0M459.8 257.4h0M449 237.8h0M438.1 269.2h0M449.9 248.1h0M469.2 232.9h0M454.6 240.3h0M432.1 268.4h0M453.4 261.9h0M459.7 269.9h0M433.3 236.4h0M446.2 265.7h0M440.3 253.4h0M451.8 255.6h0M442.3 269.2h0M439.9 269h0M441 264.8h0M459.4 269.3h0M461.9 238.2h0M460 269h0M439.8 248.3h0M452.3 238.5h0M439.8 244.3h0M438.1 259.6h0M464.6 234.7h0M440.2 232.5h0M461.6 241.3h0M455.5 244.5h0M443.2 245.2h0M434.8 264.4h0M433.5 244.4h0M442 257.7h0M458.5 268.4h0M449.1 262h0M452.9 253.3h0M465.8 230h0M449.2 235h0M453.9 255.7h0M446.1 240.4h0M450.6 262.3h0M458.3 261h0M454.2 262.8h0M464.3 258.2h0M445.9 255.2h0M445.5 268.6h0M437.6 258.5h0M435.1 262.8h0M450.9 252.2h0M460.7 263.6h0M464.6 248.1h0M443.4 260.2h0M457.4 252h0M451.8 268.2h0M466 239.5h0M440.3 270.4h0M459.3 245.2h0M447.7 269.6h0M445.8 233.5h0M462.4 232.8h0M441 238.9h0M447.6 260h0M437.1 257.2h0M451.2 229.9h0M445.7 265.3h0M445.4 267.5h0M458.6 248.1h0M455 238.9h0M460.2 271.7h0M467.7 257.5h0M453.7 261.5h0M455.7 231.8h0M466.1 257.6h0M462.3 233.6h0M461.8 236h0M444.2 265.6h0M433 230.2h0M438.1 252.1h0M469 253.3h0M466.3 260.6h0M439.8 263.3h0M468.7 232.9h0M445.6 270.3h0M466.4 254.2h0M446.5 242.5h0M465 251.3h0M454 232.3h0M446.7 251.8h0M448.7 237.6h0M436.7 254.4h0M450.1 260.3h0M444.3 244.9h0M440 256.8h0M448.9 256.4h0M441.6 231.9h0M435.7 231.9h0M438.6 239.3h0M442 253.9h0M459.6 245.1h0M441.2 230h0M442 236.1h0M445 234h0M432.3 262.2h0M451.4 233.5h0M450.3 237.7h0M441.1 250.5h0M457.6 245.4h0M439.9 229.7h0M435.5 252.9h0M468.4 248.6h0M443 234.1h0M443.8 253.8h0M436.1 251.9h0M449 257h0M463.8 269.5h0M435.6 236.4h0M461.4 234.6h0M439.8 243.4h0M445.5 232h0M468.4 255.6h0M462.2 242.8h0M447 270.7h0M433.3 237h0M440.2 240h0M444.3 254.4h0M453.3 260.1h0M456.9 254.7h0M456.6 246.8h0M449.1 232.3h0M449 248.8h0M455.1 261.8h0M450.9 231.8h0M466.1 263.3h0M466.3 243h0M462.6 243.5h0M440.8 265.5h0M450.9 256.4h0M467.2 259.9h0M468.8 236.6h0M432.7 230.5h0M438.8 252.6h0M451.1 243.2h0M442.2 252.1h0M464.4 234.6h0M463.2 258.8h0M464.5 268.8h0M434.2 250.6h0M444.9 267.9h0M437.8 256.6h0M457.2 246h0M436.2 248.7h0M448.4 244.9h0M464.6 269.5h0M432.2 265.4h0M458.3 269.4h0M450.1 231h0M447.4 268.2h0M443 253.3h0M444.3 270.7h0M460.6 236.9h0M463.2 254.7h0M444.8 256.4h0M452.1 264.1h0M444.3 251.8h0M432.2 244.9h0M458.8 261h0M440.2 246.2h0M436 235.7h0M453.8 254.4h0M462 251.8h0M450.2 246.9h0M450 242.1h0M465.4 230.3h0M453.3 263.3h0M467.7 259.7h0M467.1 242.1h0M455 237h0M434.9 256.7h0M436.3 263h0M441.5 235.6h0M467.7 257.3h0M434.2 255.7h0M459.2 247.8h0M455.5 231.9h0M456 249.9h0M491.1 61h0M480.3 136.7h0M511.4 120.5h0M487.4 81h0M511.7 85.9h0M509.1 124.2h0M481.7 129.9h0M493.5 141.7h0M489.8 75h0M485.6 130h0M483.8 85.3h0M508.8 91.3h0M478.2 124.4h0M490.2 134.8h0M503.9 86.9h0M506.5 112.7h0M504.5 123.2h0M494.2 83.2h0M477.9 101.6h0M492.3 102h0M496 99.4h0M480.8 110.4h0M485.8 98h0M492.4 112.5h0M503.1 66.4h0M488.4 120.6h0M482.7 127.2h0M513.2 80.5h0M499 134.9h0M512.7 79.8h0M484.7 115.1h0M511.6 113.5h0M497 112.7h0M496.7 70.8h0M508.4 140.7h0M499.4 114.3h0M495.8 133.9h0M500.7 91.6h0M507.5 73.4h0M491.7 85.6h0M499.3 76.1h0M493.1 116.5h0M503.2 126.1h0M484.1 109.7h0M495.6 109.1h0M504.9 135.6h0M489.1 103.2h0M492.3 124.8h0M512.2 134.9h0M484.8 115h0M512.3 62.3h0M499.9 113.6h0M492.4 71.6h0M507.1 121h0M485.6 74.4h0M511 95.6h0M482.6 103.8h0M479.6 63h0M486.3 116.2h0M509.7 83.6h0M478.4 126.9h0M486.9 92.7h0M513 87.6h0M507.5 69.1h0M510.5 85.8h0M477.6 135.7h0M478.9 81.4h0M502.9 107.8h0M485 99.3h0M500 79.3h0M489.2 73.8h0M511.7 106.7h0M487.3 105.8h0M506.2 112.8h0M482.6 115h0M485.4 142.2h0M490.1 97.4h0M484 141.5h0M503.5 81.7h0M501.3 126.7h0M481.8 86.5h0M495.8 243.3h0M485 259.5h0M505.8 248.6h0M478.2 237.4h0M495.5 236h0M512.9 249.3h0M495.9 231.2h0M485.7 233.5h0M498.1 239h0M510.7 251.6h0M501.2 239.8h0M499.1 259.1h0M487.1 262.2h0M482 237.2h0M513.6 230.4h0M495.2 236.4h0M485.9 253.9h0M486.3 266.8h0M504.3 267h0M500 254.6h0M503 232.4h0M477.7 231.9h0M496.5 269.1h0M486.6 230.2h0M486.4 247.8h0M494.2 244.4h0M489.4 246.2h0M498.5 230.5h0M494.1 254.9h0M514.2 260.4h0M497.1 252.3h0M508.5 257h0M493.8 265h0M492.7 232.2h0M481.2 235.6h0M482.1 235.5h0M499.1 254.7h0M493.4 264.8h0M505.9 230.9h0M490.1 249.4h0M484.2 267.6h0M509.5 232.4h0M509.5 270h0M486.9 231.4h0M504.5 255.3h0M500.6 256h0M511.5 262.4h0M496.6 252.8h0M493.8 250.7h0M484.1 257.1h0M512.4 230.7h0M508 250.6h0M483.5 264.2h0M491.2 266.1h0M495 250h0M509.6 246.9h0M496.1 239h0M487.7 249h0M505.2 232.8h0M479.5 261.5h0M496.2 250.4h0M483.6 258.3h0M503.2 268.8h0M514.1 235.4h0M504.8 251.8h0M493.5 258.9h0M478.2 249.5h0M502.1 264.5h0M500.3 232.7h0M484 260.8h0M502.7 265.7h0M497.2 243.4h0M508.4 260.9h0M487.8 264.8h0M511.9 252.4h0M483.6 261.7h0M511.9 235.3h0M481.9 230h0M500 230.9h0M487.3 231h0M486.4 268.7h0M489.6 248.3h0M477.8 262.1h0M478.9 247.6h0M511.8 270.3h0M493.7 266.4h0M505.4 269.2h0M492.8 236.7h0M482.5 250.8h0M504.3 255.6h0M499.2 232.8h0M509.8 261.4h0M503.5 264.2h0M501.9 234h0M490.6 256.6h0M490.7 237.4h0M501.4 233.5h0M513.5 251.7h0M489.1 240.9h0M511.3 236.4h0M506.3 248.6h0M509.8 230.5h0M496.1 264.3h0M498.9 239.9h0M483.9 271.1h0M513.3 250.9h0M477.6 261h0M493.9 234.8h0M486.6 241.7h0M503.8 252.9h0M507.3 255.9h0M484.8 237h0M500.1 232.9h0M484 269.6h0M496.1 243h0M509 236.9h0M503.7 239.4h0M514.2 234.5h0M494.3 246.1h0M497.9 246.7h0M496.6 241.5h0M481.3 253.5h0M508.6 246.9h0M499.4 246.4h0M500.5 229.6h0M490.4 232.6h0M494.6 269.3h0M505.9 240.7h0M492.6 248.3h0M487 239.5h0M496.1 234.8h0M495.5 247.2h0M499.4 245.5h0M483.5 242.2h0M488.6 251.7h0M498.3 230.9h0M491.4 248.4h0M509.5 236.6h0M482.2 269.8h0M511.3 262.9h0M507.8 237.5h0M495 259.8h0M490.6 255.5h0M502.2 244.9h0M488.2 266.2h0M495.3 236.4h0M485.3 258.2h0M478.9 233h0M502 241.7h0M511.9 257.2h0M482.4 237.6h0M499.8 257.8h0M477.9 241.9h0M496.5 252.7h0M488.3 250h0M498.4 253.2h0M481.8 256.8h0M507.3 250h0M502.8 235.1h0M479.4 270.6h0M505.2 239h0M496.9 252.4h0M488.5 264.1h0M511.3 252.9h0M490.9 270.6h0M481.1 249.5h0M503.1 252.1h0M503 234.7h0M500.5 256.1h0M482.3 247.1h0M506 263.1h0M502.8 258.8h0M510.3 235.3h0M513.5 258.6h0M510.8 232.6h0M478.2 245.9h0M500.6 261h0M488.9 231.1h0M512.6 250.6h0M477.9 241.7h0M483.1 271h0M479.3 263.7h0M500 250.9h0M513.7 254.2h0M487.7 240.5h0M483.6 252.9h0M503.1 259.8h0M487.1 246.1h0M495.8 243.2h0M479.1 248.4h0M506.1 237.3h0M483.4 269.7h0M493.6 248.5h0M498.1 245.7h0M513.8 229.5h0M498.9 271.6h0M495.1 257.5h0M509.1 238.6h0M478.1 236.7h0M505.3 269.7h0M506.5 232h0M502.8 242.7h0M509.7 235.5h0M497.7 248.2h0M479 252h0M496.9 250h0M500.3 233.5h0M507.5 249.7h0M497.8 239.2h0M485.9 244.7h0M493.3 235.2h0M484.9 235.3h0M505.3 262.7h0M506.7 267.7h0M479.3 247.6h0M502.4 232.4h0M508.3 270.1h0M508.8 244.5h0M500.6 262.3h0M485.3 265.6h0M505.9 257.2h0M507.2 251.3h0M486.2 258.6h0M504.6 257.5h0M486.8 256.5h0M494 231.9h0M505.1 260.8h0M507.6 268.4h0M488.8 250.1h0M510 251.9h0M484.2 242h0M512.3 267.1h0M513.5 260.2h0M499.8 263.7h0M497.4 257.9h0M486.8 266.5h0M503.1 262.6h0M477.8 246.8h0M509.8 232.7h0M508.7 259.3h0M489.2 252.5h0M491.6 247.5h0M489.1 239.8h0M482.8 247.1h0M510.7 235.4h0M478.5 266.2h0M496 240.4h0M506.6 247.7h0M488.6 250.5h0M503.5 254.6h0M480.6 256h0M491.6 271.2h0M490.4 237.4h0M484.5 234.5h0M483.7 268.7h0M506.7 268h0M510.9 239.5h0M492.8 232.4h0M488.5 271.2h0M497.4 265.4h0M511.9 257.4h0M486 263.9h0M491.1 258.1h0M506.8 255.7h0M486 240.8h0M482.4 235.8h0M508.4 271.3h0M480.9 236h0M500.9 233.6h0M496.3 261.8h0M487 240.9h0M497.3 239.5h0M509.6 231.3h0M491.7 262h0M510.3 268.6h0M478.4 253.3h0M488.7 253.3h0M498.3 263.1h0M485.5 262.8h0M485.7 240.2h0M496.9 244.7h0M513.1 248.9h0M500.4 256.8h0M504.7 241.6h0M499.5 230.7h0M481.1 271.2h0M487 266.1h0M491.5 243.8h0M511.8 245h0M490.6 248.7h0M511.9 232.7h0M514.1 251h0M489.3 239h0M510.2 253h0M508 264.9h0M495.1 232.4h0M504.4 251h0M492.6 236.6h0M477.3 258.9h0M493.9 248.6h0M514.1 268h0M499.5 261.1h0M503.5 266.7h0M496.1 233h0M483.8 231.7h0M511.6 261.7h0M503 234.3h0M512.9 261h0M504.4 257.5h0M513.1 255.4h0M492.6 232.9h0M513.7 244.2h0M488.3 269.2h0M498.1 236.9h0M513.4 240.1h0M506.1 259h0M497 244h0M504.3 253.9h0M492.3 251h0M485.6 237.4h0M501.5 261.5h0M510 255.9h0M509 235.7h0M491 244.9h0M490.3 270.3h0M512.7 240.3h0M494.6 260.6h0M480.9 256.9h0M496.7 241.8h0M511.3 262.5h0M509.3 270h0M502.2 265.6h0M481.2 255.8h0M508.4 257.4h0M481.4 246.1h0M510.4 238h0M487.7 266.2h0M504 236.8h0M487.4 246.7h0M482.4 267.6h0M512.9 256h0M499.2 233.9h0M500 233h0M497.7 232.7h0M505.6 254.2h0M481.9 246.1h0M501.1 267.4h0M495.6 257.7h0M497.1 268.7h0M494.7 239.6h0M494.6 259.9h0M488.8 247.9h0M490.6 241.2h0M502.9 244.2h0M477.2 254.4h0M477 244.6h0M486.8 259.8h0M501.3 265.5h0M506.5 257.6h0M504.5 254.5h0M479.6 262.6h0M508.5 258.2h0M491.1 240.4h0M511.7 266.1h0M495.6 239.5h0M498.6 250.1h0M491.3 238.1h0M485.9 265.6h0M513.1 265.8h0M511 232.8h0M481.5 240.7h0M514.3 249.5h0M487.1 254.6h0M503.4 254.1h0M512.1 236.7h0M482.4 249.1h0M495.8 257.1h0M509.8 241.7h0M487.6 230.2h0M482.6 255.2h0M505.4 230.5h0M484.1 235.7h0M493 246h0M479.9 249.8h0M477.4 262h0M500.1 256.5h0M486.6 239.2h0M504.2 268.6h0M481 241.1h0M481.6 262h0M503 237.1h0M503.2 253.6h0M489.5 233.5h0M503.1 271.1h0M488.9 244.7h0M485.9 233.5h0M486.8 255.6h0M489.2 259.2h0M478.5 229.7h0M502.2 230.7h0M497.7 264.6h0M497.7 262.2h0M485.6 236.1h0M498.1 245.2h0M508.2 264.2h0M507.7 246.2h0M498.8 242.5h0M503.2 258.5h0M503.3 260.2h0M508.9 240.2h0M508.2 260.8h0M491.7 241.3h0M508.4 243.8h0M500.7 251.6h0M490.7 266.2h0M495.2 251.6h0M496 242.7h0M480 254.4h0M490.1 253.9h0M502 237.9h0M502.6 265.2h0M483.5 264.8h0M485.5 246.8h0M501.8 232.5h0M508.2 235.5h0M493.5 251h0M488.8 265.8h0M503.5 266.5h0M507.4 257.5h0M490.8 251h0M483.4 258.9h0M481 260.3h0M512.1 268.5h0M489.5 241.9h0M512.6 258.6h0M493.7 250h0M481 251.2h0M501.2 265.6h0M508 260.3h0M487.9 234.8h0M483.6 258.9h0M496.1 252.8h0M479.9 242.2h0M481 253.8h0M509.3 261.2h0M501.3 235.3h0M499.3 254.6h0M486.2 242.2h0M505.7 269.4h0M484.8 233.9h0M493.2 245.3h0M510.4 234.7h0M488.6 259.2h0M483.3 246h0M486.2 239.7h0M497.2 266.9h0M510.5 232.6h0M478.3 243h0M504.9 261.2h0M481.3 263.2h0M483.3 267.5h0M513.9 256.1h0M491.5 259.4h0M496.4 256.9h0M498.5 256.9h0M505.2 268.4h0M505.1 246h0M486.5 258.3h0M498.3 258.6h0M498 236.8h0M496.3 252.4h0M503.1 264.2h0M483.2 267.4h0M509.2 266.1h0M492.9 229.8h0M487.4 266.6h0M479.2 269h0M513.7 264.1h0M495.9 255.4h0M491.6 252.3h0M504.2 242.8h0M499.5 246.6h0M514.1 231.7h0M487.2 270.7h0M497.4 261.1h0M484.3 262h0M494.6 264.6h0M501.1 255.5h0M496.1 231.1h0M482.7 260.1h0M496.9 247.8h0M506.1 237.9h0M494.6 240.3h0M483.1 253.2h0M477 263.3h0M505.9 236.1h0M503.7 257.2h0M503.1 267.1h0M484.6 263.1h0M503.5 269.4h0M506.6 245.3h0M507.5 239.9h0M482.2 259h0M504.1 266.6h0M506.7 248.9h0M510.5 249.6h0M479.9 231.2h0M495.6 258.6h0M488.8 251h0M513.9 257.9h0M506.1 249.1h0M494.4 246.6h0M508.2 251.4h0M478.6 243.9h0M509.8 262.2h0M490.3 269.1h0M479.8 236.9h0M497.7 240.1h0M493.1 242.9h0M494.5 258.9h0M483.1 244.8h0M477.9 265h0M496 251.5h0M491.1 268.2h0M496.1 257.3h0M496.5 263.4h0M497.6 269.6h0M512 234.7h0M478.7 233.4h0M501.4 245.1h0M480.2 255.8h0M503.2 255.7h0M499 259h0M479.5 243.7h0M482 234.4h0M501.1 249.8h0M502.2 252.3h0M483.9 244.3h0M507.9 254.4h0M482.8 245.3h0M481 268.2h0M491.7 257.2h0M510.4 247.9h0M507.4 238.5h0M508.2 268.3h0M506.3 271.3h0M489 232.9h0M487.7 233.4h0M492.2 249.2h0M512.6 267.6h0M496.4 259.5h0M479.8 266.3h0M510.1 231.3h0M509.1 252h0M497.4 258.1h0M504.8 245.7h0M496.7 269.5h0M492.1 239.6h0M508.2 242h0M497.5 243.7h0M479.7 246.4h0M501.9 268.3h0M489 260.3h0M494.5 269.8h0M478.8 246.3h0M501.3 258.5h0M481.7 256.8h0M494 248.5h0M478 230.7h0M481 251.7h0M485.3 258.3h0M489 263.3h0M490.2 245h0M499.3 260.3h0M488.7 266.6h0M485.2 267.8h0M507.9 265.2h0M485.7 259.4h0M489.3 233.1h0M513.3 248.6h0M502.4 239.7h0M480.2 247.9h0M485.7 271.2h0M482.1 234.2h0M499.8 231.3h0M504.6 230h0M488.1 238.4h0M482.2 265.2h0M513.6 262.7h0M487.7 264.5h0M508.3 236.7h0M490.8 232.7h0M507.7 255.6h0M495.4 254.5h0M503.2 242.8h0M507.4 260.3h0M505.5 248.3h0M482.8 246.1h0M478.9 255.1h0M514.2 235.8h0M512.3 244.4h0M489.4 270.2h0M511.6 267h0M487.9 263.7h0M502.3 248.9h0M511.1 259.5h0M504 248.6h0M509 231.9h0M503.8 242.3h0M492.1 230.1h0M495.1 249.8h0M513.9 251.5h0M491 265.2h0M484.6 232h0M503.6 263.9h0M504.6 251.9h0M494.8 238.2h0M489.4 249.2h0M481.6 249.6h0M501.1 253.6h0M506.3 252.5h0M500.9 265.4h0M490.7 248.6h0M511.6 243.9h0M482.3 232.3h0M483.9 245.7h0M513 257.1h0M497.4 258.4h0M491.3 251.4h0M503.6 250.7h0M484.8 243.5h0M478 237.7h0M502.4 253.4h0M498.5 237.3h0M482.1 249.4h0M505.7 235.2h0M487.9 268.4h0M493.1 254.5h0M489 251.9h0M482.7 251.6h0M483.2 240.3h0M500 251.4h0M488.6 253.7h0M493.1 256.5h0M490.2 268.8h0M493.1 235.3h0M507.8 242.6h0M512.6 260.7h0M505.5 249.8h0M480.2 257h0M510.5 233.1h0M491.2 269.4h0M484.8 232.1h0M490.7 264.4h0M503.2 260.4h0M480.1 241.7h0M486.8 237.3h0M495.4 239.7h0M496.2 258.7h0M510.8 240.7h0M507 230.5h0M505.2 247.5h0M478.1 229.6h0M494.8 269.9h0M478.7 250.5h0M490.1 266.6h0M480.9 269h0M509 244.9h0M509.9 268h0M506 232.1h0M509.6 265.1h0M483.7 260h0M482.4 250.8h0M498.5 230.6h0M509.7 256.2h0M508.5 232.6h0M504.7 250.5h0M495.1 241.6h0M489.5 260.2h0M488.3 231.1h0M479.7 258.4h0M496.2 271.5h0M480.3 252.4h0M498.2 261.8h0M505.6 246.5h0M485.7 235.1h0M483.6 266.7h0M507.6 269.6h0M507.3 271.4h0M484.8 255.4h0M506.1 263.4h0M504.8 269.5h0M508.5 232.1h0M498 260.2h0M485.1 231.6h0M477.9 232.3h0M478 248.5h0M479.1 259.2h0M505.8 269.7h0M501.1 247.1h0M513.1 236.2h0M486.9 254.3h0M486.8 233.5h0M501 240.1h0M487.9 244.6h0M502.3 246.9h0M505.8 268.8h0M511.2 235.3h0M478.2 233.3h0M498.5 259.5h0M512.1 235.5h0M485.2 262.1h0M482.5 261.8h0M494.5 251.5h0M479.8 247.8h0M492.1 259.9h0M478.2 267.8h0M508.9 242.4h0M481.4 251.1h0M482.2 266.5h0M496.4 252.4h0M486.3 251.8h0M495.1 239.4h0M510.6 253.1h0M478.9 258.2h0M501.8 262.3h0M512.6 246.3h0M496.4 261.1h0M482 240h0M504 261.1h0M477.3 266.2h0M494 257.1h0M491.1 231.7h0M485 268.6h0M499 267.4h0M491.4 260.9h0M493.8 266.3h0M501.4 238h0M493.3 256.2h0M500 239.9h0M505.8 237.7h0M504.7 235.7h0M499.9 249.6h0M492.1 266.3h0M499.8 254.2h0M513.3 266.3h0M510.2 270.3h0M499 256.9h0M490.9 234h0M485.8 238.2h0M491 249h0M490.2 232.9h0M500.6 256.9h0M500 264.9h0M500.5 246.1h0M494.9 269.6h0M511.8 246.9h0M495.1 262.1h0M483.1 245.1h0M509.8 259.1h0M507 245.9h0M485.3 269.4h0M484.2 261.2h0M494.1 269.7h0M487.4 234.4h0M514.1 242.1h0M480.3 249.6h0M505.7 239.6h0M484.9 255.2h0M502.9 243.4h0M483.1 261.8h0M487.6 264.8h0M491.2 247.8h0M487.8 264.5h0M494.2 251.6h0M502.9 251.5h0M493.7 266.1h0M490.2 262h0M483.6 245.2h0M501.9 242.9h0M489.6 239.5h0M492.2 234.2h0M486.6 245.7h0M480.6 229.5h0M499 260.8h0M480.7 267.5h0M506.4 270.5h0M493.6 244.3h0M512 244.2h0M481 254.2h0M490.2 241.9h0M496.2 250.4h0M488.2 265.2h0M502.9 262.9h0M502.9 255.3h0M506.9 266h0M479.3 255.4h0M479.8 233.7h0M483.7 230.9h0M493.1 246.1h0M496.9 252.1h0M490.8 258.3h0M509.1 262.3h0M503.3 236.2h0M508.8 248.1h0M483.8 248.2h0M491.3 255.8h0M482.9 270.7h0M502 259.8h0M500.1 264.7h0M505.5 234.3h0M478.5 251.5h0M480 269.8h0M493.5 233.9h0M502.9 266.9h0M497.4 263.2h0M482 247.5h0M491.2 267h0M486.2 254h0M504.9 240.2h0M493.5 236h0M500.1 257h0M484.5 250.6h0M512.4 268.7h0M509.7 262.4h0M479 270.1h0M490.4 239.2h0M499.4 232.8h0M499.3 258.3h0M498.5 266.1h0M505.2 256.2h0M512.6 262.1h0M499.2 231.1h0M507.5 238h0M505.6 264h0M482.5 231.3h0M513.8 236.8h0M508.2 265.7h0M499 259.8h0M493.9 261.3h0M502.9 268.3h0M486.1 246.1h0M495 254.8h0M482.2 241.1h0M512.3 267.3h0M477.1 243.2h0M501.2 233h0M505.7 255.6h0M500.1 260.8h0M509.4 258h0M502 252.5h0M485.8 248.1h0M479.7 241.3h0M506.1 270.3h0M507.7 249.6h0M477 270.8h0M491.8 260h0M481.5 249.5h0M503.8 239.6h0M479 263.1h0M494.6 248.7h0M477.3 239.1h0M497.4 258.9h0M481.6 266h0M493.6 257.2h0M492 237.8h0M485 241.2h0M507.8 239.8h0M486.1 230h0M507.2 233.9h0M488.7 267.9h0M492.7 246.4h0M482.6 244.6h0M510 239.1h0M509.7 237.7h0M510.4 262.8h0M487.7 253.4h0M495.3 245.2h0M506.1 232.2h0M505.1 244.4h0M498.1 267.7h0M511.9 240.1h0M496.7 239.1h0M477.2 255.4h0M513.9 260.6h0M504.1 232.7h0M488.3 242.8h0M491.3 229.7h0M485.7 254.6h0M485.9 257.5h0M493.5 242.3h0M501.9 255.5h0M491.2 232.2h0M485.1 259.1h0M510.2 246.4h0M495.6 256.2h0M503.5 264.2h0M502.1 252.3h0M495.7 234.7h0M495.8 242.5h0M527.9 37h0M529.6 113.3h0M522.3 136.3h0M550 107.2h0M548.5 143h0M550.2 118.5h0M542.6 140h0M544.3 112.7h0M523.9 121.9h0M529.9 121.3h0M548.1 61h0M552.8 121.3h0M545.1 113.4h0M540.8 100.1h0M545 115.6h0M535.9 103.5h0M548.8 58.6h0M524.1 109.6h0M528.5 90h0M542 127.5h0M525.9 121.7h0M536.8 117.4h0M541 133.4h0M532.6 105.4h0M540 124.1h0M557.2 93h0M526.1 138.4h0M553.5 114.6h0M530.4 137.7h0M543.9 126h0M540.3 128h0M534 117.8h0M550.9 125.8h0M536.2 140.7h0M545.6 135.2h0M540.2 98.6h0M533.3 90.4h0M535.6 133.4h0M532.8 105.4h0M534.5 103.4h0M556.8 115.4h0M540.7 101.2h0M558.7 132.8h0M552.8 133.4h0M522.2 111.4h0M546 142.6h0M529.6 134h0M540.7 95.7h0M529.2 136.2h0M521.9 134.4h0M551.1 77.1h0M544.2 138.7h0M558.1 98.5h0M523 120.8h0M535.2 96.3h0M546.6 119.7h0M528.6 93h0M549.9 134.2h0M533.8 129.4h0M548.8 96.1h0M542.9 143.6h0M552.1 104.4h0M553.7 144h0M528.5 135.5h0M534.1 113h0M547 135.2h0M550.1 123.4h0M522.3 109.7h0M545.3 124.4h0M558.4 115h0M537.7 81.9h0M549.3 121h0M548 127.2h0M555.3 144.4h0M549.6 103.7h0M526.6 138.7h0M522 133.1h0M529.9 105.1h0M557.4 91.5h0M541.9 129.2h0M550.6 125.7h0M534.5 106.2h0M534.3 92.8h0M525.3 120.4h0M544.8 104h0M547.9 103.9h0M540.4 118.5h0M534.1 111h0M526 121.2h0M522.7 104.4h0M555.2 110.4h0M528.7 115.9h0M552.7 101.7h0M546.6 96.4h0M534.2 106.3h0M527.8 131.3h0M552.6 125.9h0M523.4 139.2h0M554.9 95.6h0M522.8 106.1h0M530.1 114.8h0M524.4 110.3h0M545.5 143.1h0M550.5 96.7h0M557.6 144h0M539.7 105.4h0M552.7 107.6h0M539.5 140.3h0M541.9 99.1h0M528.3 143.1h0M546.2 94.4h0M554.3 80h0M536.1 124.2h0M524.3 134h0M521.9 112.2h0M544.4 142.5h0M527.8 114.6h0M549.7 71.8h0M523.7 122.7h0M550 114.6h0M529.3 118.2h0M534.8 139.4h0M538.4 141.3h0M525.9 139.9h0M526.9 64.8h0M529.3 81.7h0M530.7 83.7h0M531.1 95.9h0M522.7 117.8h0M550.2 129.1h0M545.2 139.7h0M540.9 136h0M529.8 114.7h0M558 116.4h0M526.8 133.8h0M542.1 123.8h0M545.7 136.5h0M554 109.8h0M527 115.1h0M528.8 123.6h0M552.3 109.2h0M536.2 110.5h0M529.7 118.8h0M556.9 143.9h0M554.4 110.9h0M530.6 105.8h0M541.7 114.4h0M536.5 139.8h0M526 110.3h0M540.4 143h0M545.4 98.8h0M537.3 140.2h0M543.6 124.7h0M534.7 95.8h0M556.1 102.9h0M524.2 105.8h0M531.4 98.9h0M534.8 114.7h0M525.2 139h0M542.1 134.7h0M555.2 127h0M556.2 98.4h0M543.3 136h0M535.9 135.8h0M533.1 103.3h0M523.7 109h0M555 127.8h0M542.5 111.2h0M556.9 102.3h0M543.2 95.8h0M530 124h0M538.9 111.5h0M553.4 121.4h0M540.6 102.2h0M551.2 124.9h0M531 124.4h0M536.6 115.2h0M540 118.7h0M535.3 130.2h0M551.1 140.9h0M555.5 139.2h0M545.5 137.8h0M526 81.1h0M550.4 127h0M535.2 144.4h0M531.5 104.2h0M542.5 85.8h0M541.1 132.4h0M559.1 129.7h0M533.5 108.1h0M524.8 116.2h0M548.9 120.3h0M528.1 131.6h0M551.8 100.8h0M531.5 128.9h0M547 93.9h0M551.3 85.7h0M534.1 128h0M522.3 122.6h0M555.4 62.4h0M523.4 117.8h0M531.5 94.7h0M532 102h0M553.8 108.7h0M557.6 117.4h0M522.9 86.4h0M537.1 132.8h0M533 99.2h0M555.5 121.1h0M546.1 113.1h0M551.5 105.5h0M530.4 116.9h0M553 139.8h0M547.8 114.4h0M526.5 115.9h0M544.8 100.2h0M545.2 82.2h0M555.9 103.6h0M528 141.2h0M529.2 95.5h0M541.1 105.9h0M548.3 87.2h0M552.6 82h0M538.7 139h0M555.3 104.1h0M555.7 104.7h0M549 105.3h0M527.5 125.7h0M529.7 95.5h0M540.8 144h0M537.6 112.4h0M554.4 130.2h0M531.5 99.4h0M536.1 93.1h0M553.2 88.8h0M548.5 114.3h0M555.7 100.7h0M548.2 120.7h0M522.8 126.2h0M543.2 113.6h0M543.8 126.4h0M550.5 65.4h0M553.3 94.9h0M543.2 91.4h0M535.6 76.3h0M549.2 98.1h0M537.8 100.5h0M522.1 109.7h0M534.4 120.1h0M523.2 99.6h0M532.3 100.9h0M558.5 114.1h0M548 121.6h0M531.8 135.7h0M550.6 131.4h0M529.4 100.7h0M557.5 99.3h0M542.3 138.3h0M557.7 127.9h0M549 109.4h0M524.5 138.4h0M557.3 121.7h0M543.1 116.9h0M526 116.6h0M547.6 144.2h0M538.1 118.2h0M529.3 115.5h0M543 115.1h0M553.1 104.6h0M533.4 133.4h0M554.9 93h0M540.9 122.3h0M535.5 113.9h0M534.3 135h0M525.6 120.8h0M526.8 104.7h0M522.4 110.4h0M535.6 132.3h0M534.3 91.2h0M541.4 89.8h0M531.4 103.9h0M525.9 119.3h0M527.7 118.3h0M528.7 99.2h0M534 104.2h0M522.5 113.6h0M556.9 140.9h0M534.6 108.9h0M540.4 113.2h0M550.4 126.6h0M527.7 115h0M533.6 108.6h0M530.7 102.5h0M532.5 91.2h0M552.1 115.6h0M553.3 109.5h0M528.4 135h0M540.3 107.6h0M543.7 144h0M525 119.4h0M552.3 101.9h0M534.5 113h0M531.2 105.9h0M538.1 134.9h0M543.4 135h0M552.9 138.4h0M555.6 105h0M555.1 98.2h0M533.7 141.3h0M546.2 67.5h0M552.7 135.9h0M558.7 124.4h0M540.3 89h0M542.2 117h0M545 104.3h0M559.1 119h0M534.1 117.7h0M556 117.9h0M529.7 81.3h0M546.1 131.9h0M532.3 100.5h0M546.5 243.8h0M535.4 265.8h0M557.2 251.6h0M541.6 256.2h0M539.2 265.7h0M535.9 264.7h0M535 266.9h0M553.1 270.3h0M528.7 241.9h0M526.2 263.2h0M528.8 253.8h0M548 251.5h0M534.9 231.3h0M552.4 240.3h0M531.8 259.6h0M524.5 256.6h0M547.5 231.9h0M535.1 250.2h0M543.6 240h0M531.5 268.5h0M545.2 234h0M530.1 232.8h0M524.8 232.1h0M529 261.1h0M533 268.4h0M548.8 244.1h0M526.6 260.8h0M527.2 251h0M528.2 261.7h0M548.8 269.5h0M552 243.2h0M535.4 232.6h0M523.3 271h0M533.4 259.5h0M551.8 246.6h0M550.7 258.2h0M558 260.9h0M540 244.6h0M530.6 256.9h0M556 231.8h0M532 270.9h0M552 240h0M527.7 233.7h0M534.8 239h0M527.8 230.8h0M532.5 255.4h0M528.6 233.1h0M539.7 265.6h0M558.5 254.1h0M528.3 255h0M545 248h0M534.3 260.8h0M535.3 230h0M524 255.1h0M530 242.5h0M556.1 248.3h0M532.7 231.9h0M557.9 230h0M532.5 235.3h0M549.6 264.8h0M551.7 254.7h0M545.8 231.6h0M558.1 247.9h0M549.7 233.1h0M546 249.8h0M546.1 235.9h0M551.1 243.1h0M537.2 270.5h0M528.6 253.5h0M543.4 261.9h0M536.5 236.1h0M532.6 232.7h0M558.8 230.2h0M539.2 241.4h0M522.8 234.6h0M558.8 234.9h0M549 243.9h0M550.8 241.8h0M558.2 241.6h0M532.4 254.9h0M526.1 240.8h0M547.5 240h0M544.4 268.3h0M530.8 268.7h0M544.4 255.6h0M531 241.1h0M522.5 242h0M556.4 258.9h0M556.6 237.3h0M546.6 255.6h0M540.6 233.7h0M547.4 235h0M541.9 252.3h0M540.8 240.9h0M554.6 259.5h0M547.4 269h0M531.8 257.1h0M541.9 246h0M522.8 233.1h0M535.2 265h0M551.1 244.3h0M530.5 259.3h0M543.8 253.6h0M556.9 248.2h0M545.6 241.8h0M526.5 269.3h0M537.1 251.8h0M558.9 248.5h0M528.7 258.3h0M554.7 269.6h0M552.1 232.9h0M523.1 250.1h0M558.9 265.2h0M541.1 267.4h0M540.3 231.2h0M544.1 251.9h0M558.5 257.8h0M549.3 252.7h0M556.3 253.8h0M553.2 237.4h0M556.5 236.3h0M534.4 242.7h0M545.8 251.3h0M559 252.7h0M533.8 240.4h0M553.2 244.9h0M536.1 233.2h0M525.3 247.5h0M546.4 239.3h0M535.9 252.8h0M546 248.1h0M532.5 263.1h0M553.6 234.2h0M538.1 234.4h0M556.7 235.2h0M532.7 265.8h0M537.2 256.5h0M527.3 233.7h0M529.3 259.7h0M539.3 241.5h0M538.6 250.7h0M532.5 265.8h0M527.3 245h0M545.2 237.3h0M535.6 242.5h0M529.5 232.1h0M557.7 255.4h0M537.2 256.4h0M534.2 267.3h0M523.5 266.7h0M557.3 251.4h0M540.3 245.5h0M525.7 245.8h0M537.1 250.5h0M528.8 263.2h0M556 231.7h0M556.1 235h0M541.7 253.3h0M539.1 236.7h0M522.3 255.6h0M544.6 261.3h0M539.4 264.9h0M551 267.5h0M553.9 243.7h0M537.2 242.3h0M538.6 238.8h0M542.4 230.5h0M524.5 237.4h0M542.9 259h0M528.9 251.8h0M522.6 266.1h0M536.9 233.6h0M536.9 239.9h0M557.2 268.3h0M529.7 238.8h0M533.1 243.8h0M547.7 233.6h0M537.2 233.7h0M553 234.1h0M526.4 243.8h0M530 260h0M536 241.4h0M539.8 241.2h0M532.3 235.7h0M538.4 254.5h0M544.7 233.9h0M545.4 257.5h0M541.8 247.3h0M555.3 243.3h0M548.6 248.9h0M538.2 258.7h0M536.5 236.1h0M535.6 259.9h0M538.4 235.7h0M557.3 259.9h0M528.5 262h0M546.7 239.8h0M534.2 241.3h0M558.5 265.8h0M550.3 265.8h0M530.1 252.3h0M532.2 245h0M529.4 253.5h0M536 267.2h0M557.3 250.6h0M548.1 258.3h0M556.4 231.3h0M522.8 249h0M558.7 248.3h0M543.2 246.1h0M558.2 247.5h0M541.3 262.1h0M529.2 239.2h0M555.9 241.3h0M551 242.9h0M546.5 266.9h0M552.1 250.1h0M546.5 268.9h0M552.8 259.4h0M535.2 231.1h0M539.4 261.8h0M531.9 250.8h0M550.3 263.7h0M532.4 232.2h0M538.4 247.1h0M551.4 262.6h0M527.3 263.8h0M533.8 237.9h0M525.3 262.6h0M525.4 268.3h0M534.6 238h0M532.5 270.2h0M528.1 238.5h0M522.8 257.5h0M557 235.2h0M537.8 256.8h0M555.3 260.3h0M552.7 232.2h0M555.9 232.3h0M557.3 253.7h0M535.9 271.5h0M530.1 233.9h0M551.5 257.7h0M527.6 271.7h0M539.7 232.1h0M552 253h0M526.8 247.4h0M558.4 257.5h0M547.7 264.1h0M540.1 237.6h0M542.4 234.6h0M552.5 265.5h0M532.8 245.7h0M548.2 269.9h0M546.8 252.1h0M550 231.4h0M550.7 253.3h0M540.4 236.7h0M551.5 237.4h0M527.7 237.7h0M539.2 238.1h0M535.7 240.1h0M534.4 267.7h0M526.9 230.4h0M522.3 268.5h0M524.3 235.4h0M549.2 254.8h0M532.1 261.6h0M558.2 244.5h0M544.3 260.3h0M534.5 231.4h0M525.5 230.5h0M526.9 244.4h0M547.2 248.9h0M543 234.4h0M530.2 230.6h0M546.5 233.6h0M555.2 252.5h0M547.1 253h0M554 269.4h0M545 265.8h0M553.6 254.5h0M529.8 259h0M557.5 252.7h0M525.1 261.3h0M554.9 256.7h0M538.6 245.2h0M557.8 237.1h0M529.4 259.9h0M544.1 246.6h0M530.1 254.8h0M544.8 251h0M538.6 265.2h0M526.8 267.1h0M538.8 264.5h0M539.9 256.7h0M527.5 260.7h0M544.1 251.6h0M540.5 234.2h0M523.2 261.4h0M549.4 267.2h0M558 232h0M526.9 234.9h0M556.6 267.1h0M533.8 249.9h0M532 242.4h0M535.5 263.7h0M554.6 244.4h0M547.1 257.1h0M536.3 254.1h0M527.7 270h0M556.3 245.2h0M548 229.7h0M551.4 249h0M525.4 269.3h0M554.1 236.6h0M523 255h0M523.6 234.7h0M548.9 240.8h0M549.8 235.3h0M546.2 247.9h0M551.3 259.8h0M555.3 266.5h0M557.9 257.9h0M542 248.6h0M551.8 233.5h0M536.3 237.9h0M524.4 251.6h0M534.4 260.1h0M554.6 266.1h0M522.9 233.5h0M554.9 255.3h0M535.1 264.2h0M525.7 263.4h0M526.3 261.3h0M534.4 241.7h0M553 254.4h0M527.9 234.8h0M531.4 231.7h0M558 247.8h0M531.1 251.6h0M547.6 247.3h0M540.7 262.1h0M540.8 236.8h0M555 263.4h0M535.6 234.1h0M557.6 231.5h0M552.5 230.4h0M558.1 256.1h0M544.3 232.6h0M545.8 239.1h0M522.4 243.2h0M523.9 230.9h0M526.2 250.9h0M545.2 237.7h0M525 239.6h0M538.3 265h0M536.5 249.9h0M537.7 259.1h0M551.9 259.1h0M541.9 232.3h0M558.1 264.5h0M523.2 241h0M540 244.7h0M525.3 240.4h0M523.4 260.3h0M525.8 250h0M544.5 271.2h0M536.5 255.5h0M550.4 236.4h0M531.6 233.6h0M543.3 265.4h0M529.5 244.8h0M554.4 238.8h0M537.1 243.5h0M552.8 268.3h0M529.9 241.3h0M527.2 234.2h0M554.2 234.1h0M541.1 255h0M534.7 252.3h0M531.9 231.3h0M539.9 233.4h0M554.9 259.3h0M543.9 258.6h0M544.7 252.4h0M554.5 270.1h0M537.3 234.3h0M534.2 261.6h0M553.2 271.8h0M554.7 230.5h0M522 249.7h0M532.7 257.2h0M536.9 265.7h0M543.5 265.1h0M552 251.7h0M544.3 267.8h0M556.8 233.3h0M542.1 240.7h0M523.2 251.8h0M525.6 271h0M550.4 266.8h0M553.3 257.4h0M524.5 255.1h0M542.6 247.2h0M551 254.8h0M550.1 269.2h0M558.6 261.8h0M522 235.8h0M529.6 241.6h0M522.9 249.7h0M531.1 252.2h0M535.8 240.2h0M542.6 257.5h0M530.2 257.5h0M543.4 241.5h0M553.1 241.7h0M541.5 229.6h0M522.3 244.7h0M536.9 246.6h0M528 268.2h0M530.1 245h0M546.1 253.4h0M554.1 257.8h0M540.1 247.1h0M548.6 267.6h0M532.2 245.3h0M530.2 262.8h0M542.3 243.8h0M556.6 255.1h0M523.8 240h0M543.3 256.3h0M540.2 230.5h0M542.4 248.7h0M541.1 241.5h0M543.5 266.5h0M530.6 250.9h0M530.4 244.9h0M551.7 241.1h0M551.6 257.1h0M531.4 256h0M532.9 256.6h0M536.5 247.6h0M524.1 260h0M547.9 248.3h0M545.2 270.9h0M540.3 240h0M533.2 240.6h0M534.3 257.9h0M554.3 266.6h0M546.3 236.5h0M522.4 231.2h0M546.1 266.5h0M524.1 242.1h0M549.8 261.9h0M526.5 264.6h0M557.4 236.1h0M546.9 249.3h0M557.4 260.2h0M557.6 238.4h0M551.6 241.8h0M548.7 231.7h0M551.7 239.4h0M551.7 251.4h0M538.4 247.5h0M524.2 238.4h0M556.1 238.5h0M547.2 230h0M544.6 241.3h0M539.4 237.6h0M558.7 247.8h0M558.5 263.9h0M524.8 238.6h0M555.1 246.6h0M538 263.7h0M533.4 251.1h0M526.2 262.3h0M544.2 238.4h0M522.3 269.5h0M556.3 233.1h0M524.3 250.5h0M527.8 252.2h0M535 258.5h0M531.9 268.5h0M536.6 254.4h0M537.2 251.4h0M534.2 259.7h0M536.2 231.1h0M533.4 230.5h0M549.4 263.8h0M537.3 242.1h0M528.8 246.6h0M556.6 256.5h0M557.5 244.4h0M537.3 265.4h0M524.9 270h0M527.6 266.1h0M538 240.4h0M532.6 231h0M528.8 230.9h0M537.1 263.4h0M546.3 240.9h0M526 238.1h0M554 233.7h0M555.5 233.1h0M554.4 268.1h0M527 230.7h0M549.4 249.3h0M523.9 233.4h0M526.1 230.3h0M551.5 270.5h0M549.6 261.7h0M528 241.9h0M533.1 235.9h0M523.6 236.1h0M550.6 241.9h0M536.5 251.9h0M549.7 246.2h0M523.4 251.4h0M555 244.7h0M542.7 243.3h0M521.9 231.3h0M529.9 260h0M534.4 235.7h0M558.7 268h0M534.1 259.8h0M544.5 259h0M542.2 246h0M527.9 253.8h0M535.3 231.5h0M524.3 270h0M525.6 263.4h0M545 271.3h0M529.4 254.1h0M529 264.4h0M550.3 231.3h0M529.9 231.2h0M538.8 253.4h0M528.5 231.6h0M545.6 258.9h0M536.2 246.6h0M558.5 245.9h0M558.1 252.7h0M546.7 270.8h0M552.5 260.1h0M527.3 245.6h0M531.4 249.1h0M531.7 255.5h0M547 242.1h0M552.6 234.9h0M548.3 256h0M536.5 252.3h0M551 236.6h0M550.6 246.9h0M528.6 255.7h0M552.9 264.7h0M556.4 237.2h0M546.6 267.8h0M529.1 236.3h0M552.8 243.8h0M539.3 240.4h0M526.1 259.7h0M531.7 243.8h0M545 237.4h0M556.7 256.1h0M532.9 270.3h0M546 232.5h0M523.7 244h0M535.8 258.7h0M526.6 264.7h0M522.6 258.8h0M543.4 251.3h0M536.4 263.6h0M534.6 267.3h0M559 266.3h0M554.8 235.8h0M535.7 263.2h0M553.8 240.3h0M526.4 242.6h0M524.1 262.7h0M546.7 238.4h0M555.9 267.6h0M524.8 255.7h0M541.8 268.9h0M533 254.9h0M528.2 239h0M540.3 264.1h0M559 242.8h0M534.6 261.4h0M549.6 267.4h0M541 241.8h0M552.3 237.8h0M531.6 238.5h0M530.8 251.5h0M549.8 231.4h0M535.8 261.3h0M556.3 237h0M549.7 238.3h0M535.2 265.3h0M535.1 267.7h0M544.5 238.5h0M523.1 234.3h0M544.2 253.5h0M546.3 261.5h0M540.4 234.6h0M530.7 263.6h0M544.7 255.3h0M524.7 264.4h0M547.3 250.6h0M548 257.1h0M523.2 252.4h0M549.8 263.4h0M528.3 239.9h0M535.6 265.6h0M532.6 251.6h0M526.7 240.9h0M551.9 252.6h0M523.3 240.6h0M554.7 263.9h0M528.8 258.5h0M536.8 258.5h0M529.3 242h0M523.2 234.3h0M555.2 241.8h0M548 248.5h0M533.1 237.5h0M530.1 245.4h0M535.9 252.1h0M541 271.8h0M550.2 232.3h0M532.9 249h0M534.1 249.4h0M550.6 266.5h0M555.9 264h0M538.8 246.8h0M551.4 241.6h0M548.9 257.4h0M549.7 262.3h0M534.4 255.9h0M543 251.9h0M524.9 258.5h0M536.9 264h0M552.2 260.8h0M544.5 248.7h0M540.5 247.1h0M550 231.1h0M528 256.3h0M552.8 266.5h0M550.5 244h0M534.8 233.5h0M530.1 258.5h0M533 256.9h0M529.1 248.9h0M557.7 244.5h0M549.6 253.7h0M522 265.1h0M526.4 258.2h0M538 266h0M530.7 266.8h0M547.8 234.4h0M557.2 237.3h0M525.4 260.1h0M543.1 261.6h0M525.5 265.2h0M558.5 265.1h0M530.2 265.8h0M556.4 239.5h0M547 250.5h0M538.9 249.4h0M552.2 250h0M535.3 265.8h0M542.6 234.5h0M547.7 240.9h0M522.6 239.3h0M524.3 269h0M552.1 248.7h0M541.1 261.7h0M558.6 270.4h0M547.7 238.9h0M555 271.7h0M527.9 232.5h0M532.3 248.9h0M545 245.2h0M553.7 268.8h0M529.4 263.8h0M550.5 269.9h0M526.1 242.8h0M544.6 269.6h0M542.2 260.7h0M553 241.1h0M550.5 265.7h0M547 264.4h0M552.9 271.8h0M540.4 241.5h0M524.7 254.1h0M539.9 236.8h0M545.9 236.4h0M556.9 254.7h0M546.4 252.9h0M539.1 262.1h0M554.8 263.6h0M531.4 259.2h0M528 246.5h0M556.7 239.1h0M533.8 266.6h0M522 239h0M538.4 262h0M548.9 243.4h0M548.7 254.9h0M543.9 270.1h0M544 247.2h0M549 266.6h0M543.2 256.1h0M556.3 265.9h0M543.3 249.9h0M533.7 248.4h0M541 263.9h0M543.6 268.8h0M550.9 232.7h0M554.3 269.9h0M542.5 229.9h0M552.9 265.2h0M554.3 232.8h0M542.1 248.5h0M546.8 266.3h0M553.8 265.9h0M531.5 252.5h0M555.5 259.7h0M527.1 239.1h0M523.3 237.4h0M526.2 263.9h0M537.2 239.5h0M545.6 232.2h0M554.9 238h0M532 255.6h0M532.5 270.3h0M531.6 268h0M543.3 234.8h0M536.6 267.2h0M539.1 232.8h0M531.5 267.3h0M548.7 268.4h0M536.9 234.5h0M544.6 237h0M541.9 231h0M557.4 230.1h0M545.8 265.8h0M529 240.8h0M532.9 256.6h0M531.8 267.2h0M535.5 245.4h0M540.5 261.1h0M547.1 231.6h0M529.8 246.7h0M538.2 271.4h0M558.7 258.5h0M523.2 269.2h0M522.6 233.1h0M530.5 254.9h0M552.2 266.6h0M539.5 257.3h0M553.5 237.2h0M531.4 245.2h0M550.8 256.6h0M552.3 268.6h0M555 267.8h0M522.9 258.2h0M540.3 265.8h0M544.1 255.9h0M558 266.3h0M544.4 252.3h0M539.5 251.9h0M522.9 231.5h0M545.4 264.3h0M528.8 270.5h0M534.9 261.9h0M534.6 256.1h0M554.8 232.1h0M545.7 259h0M526.9 245.8h0M548.7 238h0M544.2 239.7h0M523.5 252.2h0M547.3 268.1h0M558.1 270.8h0M553.9 269.1h0M528.5 260.2h0M533.3 237.8h0M548.1 232.9h0M538.1 263.1h0M558.5 242h0M547.3 246.3h0M529.1 253.8h0M545.8 266.5h0M532.2 254.7h0M545.9 251.8h0M532.8 232.2h0M538.9 231.3h0M525.5 254.4h0M534.7 257.2h0M548 241.9h0M526.9 231h0M552.8 250.5h0M532.7 251.5h0M558.7 243.5h0M524.2 256.4h0M556.8 257.1h0M535.1 234.8h0M523.6 232h0M549 250.7h0M543.9 248h0M528.7 261.8h0M555.6 263.1h0M549.7 240.6h0M529.4 249.5h0M541 262.8h0M546.3 236.2h0M538.8 262.5h0M531.9 248.1h0M551.2 232.8h0M545.1 236.4h0M556.7 237.4h0M533.5 236.8h0M535.8 231.7h0M553.5 247.7h0M555.2 231.4h0M551.3 243.3h0M552.4 246.6h0M556 245.9h0M540.6 233.2h0M542.3 267.8h0M553.5 244.1h0M531.8 243.1h0M555.1 242.5h0M553.1 240.8h0M543.7 267.3h0M532 254.5h0M552 254h0M535.6 244.3h0M524.2 230.6h0M535.6 270.9h0M522.2 230.6h0M548.5 246.9h0M554.3 235.3h0M555.8 241.3h0M537.9 238.5h0M523.1 243.4h0M539.2 237.4h0M527.6 243.7h0M543 236.2h0M548.7 264.3h0M553.9 269h0M539.7 267h0M526.8 258.1h0M553.4 252.5h0M551.9 240.9h0M526 259.7h0M536.2 235.2h0M528.1 239.6h0M549.8 253.8h0M556.9 268.6h0M555.4 256.2h0M553.9 242.4h0M557.7 234.2h0M559.1 233.1h0M555.3 264.5h0M547 269.9h0M542.1 262.8h0M549.6 261.8h0M557.2 234.2h0M547 261.5h0M526.6 264.2h0M533.9 242.3h0M533.2 230.5h0M548.4 233.2h0M528.8 233.1h0M555.9 261.7h0M547 248.1h0M534 235.8h0M543.7 260.8h0M543.4 269.4h0M531.7 261.5h0M530.1 261.4h0M533.6 248.2h0M524.4 247.7h0M522.5 268.7h0M533.6 259.2h0M538.4 237h0M548.4 241h0M541.2 238.6h0M541.8 250.4h0M549.6 259.9h0M548.7 247.5h0M559.1 265.7h0M547.1 241.1h0M532.6 267h0M557.1 250.4h0M555.1 234.4h0M546.8 249h0M543 263.8h0M588.4 46h0M591.4 97h0M573.6 143h0M583.6 85.8h0M567.8 89.6h0M600.2 139.1h0M586.7 82.2h0M577.4 127.9h0M566.9 111.4h0M588.7 140.1h0M593.8 99.6h0M580.6 107.1h0M588.1 124.7h0M579 144h0M600 138.7h0M582.2 137.9h0M576 94.3h0M600.7 101.5h0M570.6 139.6h0M587.7 137.9h0M595.9 97.8h0M600 92.4h0M591.3 120.2h0M584.3 98.9h0M604.1 125.9h0M585.3 107.8h0M579.1 92.3h0M597.9 98.4h0M597.4 138.7h0M593.7 129.6h0M569.5 120.1h0M600.2 131.7h0M602.2 82.9h0M582.7 128h0M591.6 112.7h0M583.5 102.3h0M590.3 117.9h0M596.2 131.3h0M574.5 115.4h0M582.6 84.8h0M574 121.9h0M573.7 92.4h0M589.6 116.4h0M596.7 92.9h0M600.7 74.6h0M588.1 119h0M594.7 80.5h0M588.1 124.1h0M604 105.7h0M577.9 103.1h0M569.5 133.2h0M596.3 108.3h0M585.4 143.6h0M591.2 118.3h0M597.1 110.7h0M568.5 96.8h0M589.7 101.1h0M594.3 122.5h0M596.1 108.1h0M588.9 109.1h0M601.6 68.5h0M579.8 121.6h0M583.9 91.3h0M589.8 113.6h0M592.8 109.2h0M601.2 130.3h0M588.3 112h0M581.4 100.3h0M584.4 142.5h0M597.4 118.3h0M583.1 64.4h0M575 111.6h0M590.8 115.9h0M576.9 97.7h0M574.9 129.1h0M593.1 131.7h0M578.9 141.7h0M600.7 111.9h0M573.9 69.3h0M584.9 124.5h0M603.6 118.5h0M583.1 112.7h0M597.2 116.7h0M594.6 75.7h0M592.5 109.1h0M598.5 80.3h0M592.7 71.2h0M581.5 138.7h0M573.5 120.2h0M585.4 86.9h0M604.1 140.7h0M574 69.3h0M592.5 102.1h0M573.3 80.4h0M570.9 131.2h0M585.2 119.4h0M574.8 139.9h0M582.4 120.6h0M588.2 101.6h0M587.4 133.4h0M587.5 109.2h0M588.9 114.3h0M571.3 92.6h0M596 113.9h0M602.9 111.7h0M582.6 110.9h0M598.1 113.9h0M587.8 46.5h0M587.1 108.3h0M580 139.2h0M567.6 104.4h0M593.4 98.8h0M567.2 141.3h0M596.2 111h0M577.5 90.7h0M599.1 100.9h0M587.6 113.3h0M591.6 111.1h0M569 89.8h0M571 123.5h0M574.1 140.8h0M572.5 90.3h0M580.6 68h0M585 107.4h0M594.4 143.6h0M571.8 127h0M571.9 101.9h0M588.1 138.3h0M591.3 120.3h0M579.7 122.6h0M577.8 74.3h0M584.2 142.7h0M568.5 98.7h0M567 121.5h0M594.3 136.2h0M593.3 98.8h0M590.8 135.1h0M602.1 86.2h0M566.9 112.8h0M594.7 130.8h0M585.1 128.7h0M589.9 94.2h0M597.8 136.5h0M574 132.2h0M582.6 105.5h0M592.1 86.1h0M583.1 94.2h0M592.9 125.3h0M587.8 143.5h0M598.7 115.5h0M586.4 130.3h0M574.8 94.5h0M583.9 123.8h0M580.3 125.8h0M573.3 112.3h0M597.4 118.9h0M596.4 138.9h0M571.6 93.6h0M583.8 122.4h0M599 103.5h0M569.4 101h0M590.8 103.5h0M573 143.9h0M571.4 99.2h0M570.7 90.4h0M579.8 101.2h0M575.8 138.1h0M571.9 90.2h0M593 144h0M576.3 95.9h0M581.3 140.6h0M591.2 141.9h0M584.8 138.3h0M586.5 132.1h0M581.3 106.5h0M586 138.3h0M594.2 127.5h0M590.8 95.2h0M584.2 114.2h0M585.7 99.9h0M601.8 76.7h0M579.7 124.8h0M581.9 133.9h0M595.8 98.9h0M568.5 106.8h0M590.4 118.6h0M593.3 133h0M585.4 124.3h0M573.2 142.9h0M582.9 134.3h0M600.6 101.6h0M580.7 96.8h0M583.8 136.3h0M591.9 80.4h0M587.1 101.5h0M593.6 79.1h0M589.6 110.1h0M576.4 136h0M589.1 90.4h0M570.6 62.6h0M590.2 120.6h0M599.5 93.7h0M570.5 109.3h0M594.2 99.2h0M595.2 123.9h0M580.7 113.7h0M597.6 93.9h0M573.9 132h0M571.2 99.1h0M592.4 113.5h0M569.3 144.3h0M578.2 140.4h0M602.9 96.6h0M600.4 109.2h0M590.7 120.3h0M576.4 64.3h0M595 111h0M595.3 49.2h0M579.6 116.6h0M600.1 94.4h0M572.7 73h0M597.7 144h0M590.9 86.7h0M602.3 109.8h0M575.5 128h0M591.9 114h0M582.4 114.9h0M594.3 137.8h0M603 140.8h0M575.1 143.5h0M600.8 117.2h0M573.4 91.2h0M598.3 89.8h0M598.7 116.9h0M576.8 133.7h0M576.8 97.4h0M591.1 105.1h0M588.7 112.5h0M576.4 125.7h0M589.2 138.7h0M577.4 99.6h0M595.9 142.4h0M593.6 110.2h0M586.6 142.7h0M578.3 132h0M594.1 107h0M581.5 70.8h0M602.9 94h0M571.3 139.1h0M602.7 132h0M595.2 110.4h0M594.6 104.4h0M602.4 49.3h0M574.1 106.7h0M578 120.3h0M603.4 111.4h0M596.4 112.8h0M598 93.2h0M578.5 143.1h0M571.3 80.7h0M587.9 123.3h0M581.7 99.6h0M599.7 110.3h0M587.7 144.3h0M584.1 126.8h0M591.3 98.3h0M583 66h0M584.9 138.3h0M571 110.5h0M570 94.5h0M576.7 135.7h0M589.3 126.9h0M600 117.9h0M574.4 75.2h0M599.6 137.6h0M567.2 142.5h0M603.8 91.8h0M598.7 134.9h0M574.3 122.2h0M594 114h0M593.6 68.5h0M569.3 133.8h0M577.3 94.7h0M588.4 116.4h0M604.1 136.9h0M581.3 137h0M579.4 131.5h0M574.9 101.9h0M574.7 90.3h0M581.8 90.3h0M575 119.3h0M568.1 108.8h0M591 107.8h0M567.2 82.9h0M603.4 72.9h0M580.7 114.5h0M574.2 142.4h0M585.7 114.3h0M600.7 123.1h0M568 89.7h0M603.5 135.1h0M596.6 229.6h0M569.1 269.3h0M581.2 231.3h0M583 247.1h0M571.5 233.6h0M580.2 266.2h0M575.7 250.8h0M601.1 270.9h0M571.4 250.5h0M595.4 235.1h0M596 261h0M575.2 243.4h0M601.5 244.1h0M594 246.3h0M570.5 263.9h0M598.5 244.7h0M584.6 238.3h0M572.9 261.5h0M575 258.2h0M581.2 244h0M602 265.8h0M584 264.8h0M602.1 246.9h0M583 245.1h0M566.8 269.8h0M599.9 251.9h0M591.8 250.4h0M598.8 261h0M567.5 251.1h0M590.4 244.2h0M593.7 236.1h0M600.3 268.1h0M597.6 234h0M592.1 255.9h0M585.3 248.2h0M595.8 235.9h0M577.3 255.7h0M568.9 262.5h0M595.6 253.9h0M592.3 234.8h0M590 237.6h0M578.3 265h0M592.1 256.3h0M602.7 264.6h0M590.4 234.3h0M580.5 231.2h0M601.9 259.6h0M603.4 258.2h0M572 230.7h0M587.6 230.6h0M570.2 268.4h0M583.5 233.7h0M597.1 267.5h0M577.6 251.9h0M583.2 236.3h0M573 256.2h0M602.1 268.7h0M599.3 260.2h0M571.7 264.8h0M586.1 242.7h0M590.4 247.1h0M567.6 240.3h0M576.2 256.9h0M576.6 234.6h0M588.7 250.1h0M591 252.6h0M587.6 249.2h0M600 233.7h0M591.2 232h0M567.7 243.5h0M595.3 258h0M586.1 255.8h0M572.6 253.2h0M576.3 238h0M592.5 231.9h0M589.8 236.5h0M573.7 234.5h0M579.5 257.6h0M597.9 230.9h0M579.6 267.5h0M602.9 271.5h0M595.3 229.8h0M584.5 234.7h0M585.8 238.9h0M598.2 246.2h0M589.3 236.6h0M600.5 234.2h0M581.5 244.3h0M600.3 242.7h0M600.2 258.6h0M570.8 261.5h0M573.5 260.4h0M573.6 245.5h0M573.6 253.9h0M603 241h0M586.5 250.6h0M580.5 267.9h0M600.9 249.9h0M598.2 261.9h0M571.4 251.8h0M582.6 242h0M573.5 231.2h0M598.2 253.8h0M587.9 247.3h0M590.6 257.5h0M569 262.7h0M585.9 264.1h0M597.8 249.6h0M586.1 242h0M573.9 251.2h0M589.3 249.6h0M568 254.9h0M585.5 238.4h0M579.4 254.8h0M568.6 240.4h0M599.4 247.3h0M600.4 229.7h0M588.2 231h0M575 248.6h0M573.6 236.9h0M591.3 256.1h0M578.6 263.7h0M586 237.3h0M598.6 269h0M591 267.3h0M577.9 268.2h0M587.4 271.2h0M582.5 266h0M572 231.6h0M583.6 261.6h0M592.5 248.1h0M596.9 246.5h0M583.6 259.5h0M587.2 248.9h0M582.4 252.3h0M589.7 231.8h0M599 270.3h0M577.9 247.5h0M575 255.2h0M591.3 238h0M602.7 249.3h0M591.1 233.8h0M587.5 264.6h0M584.5 248.6h0M588.9 236.9h0M570.7 266.4h0M571.6 253.5h0M567.3 251.1h0M574.2 251.4h0M599 256.9h0M574.2 268.4h0M584.4 238.4h0M569.6 254.4h0M597.5 248.2h0M586.1 270h0M576.9 237.6h0M589.5 269.9h0M604.1 236h0M570.8 258.7h0M569.2 245.7h0M603.5 245h0M586.9 254.9h0M571.3 266.1h0M584.1 249.6h0M600.8 241.1h0M602.8 248.4h0M572.3 245.5h0M573.6 262.8h0M583.6 262.8h0M590.3 244.1h0M599.1 267.9h0M587.4 262.1h0M587.1 270.8h0M569.6 246.1h0M571.6 238.4h0M597.3 248.9h0M569.6 231h0M596.6 244.7h0M596.8 239.1h0M586.2 268.6h0M577.8 251.7h0M599.3 241.3h0M603.3 267.4h0M570.7 232.4h0M603.7 265.6h0M583.2 257.7h0M578.2 271.5h0M567.6 258h0M587.4 241.4h0M569.2 266.1h0M590.5 253.1h0M596.1 244.6h0M578.9 251.1h0M586.6 269.1h0M591.2 238.9h0M587.7 240.3h0M568.7 231.2h0M604.1 241.8h0M600.6 232.1h0M568.3 243.6h0M600.1 253h0M581.8 241.8h0M570 237.2h0M585.8 238.2h0M602.3 265.7h0M573.8 249.4h0M595.6 232.1h0M579.3 268.3h0M587.6 230.4h0M597.9 268.4h0M583.5 262.3h0M593.5 258.4h0M594.4 241.9h0M570.8 271.5h0M587.9 270h0M572.8 232.4h0M594.1 236.9h0M597.1 246.6h0M597.7 252h0M579.1 233.2h0M579.9 247.1h0M571.5 241.9h0M585.1 251.4h0M567.8 256.2h0M567.7 231.6h0M575 236.8h0M597 264.1h0M571 245.2h0M582.3 265.1h0M585.8 268.5h0M583 241.1h0M574 231h0M584.1 256.7h0M602 236.7h0M582.3 238.1h0M579.9 263.7h0M580.5 249h0M588.8 267.6h0M603 250.4h0M578.1 235.8h0M571.8 249.7h0M598.4 269h0M599.8 234.4h0M578.3 231.9h0M584.1 257.1h0M574.2 269.8h0M572.1 232.3h0M576.1 259.3h0M601.8 256.6h0M569.9 241.4h0M595.8 240.5h0M591.6 250.2h0M585.9 264.1h0M569 247.6h0M594.2 230h0M573.7 255.2h0M585.7 260.1h0M598 240.7h0M598.6 236h0M599.5 254h0M568.2 260.5h0M582.6 242.4h0M596.6 245.6h0M597.4 245.7h0M592.6 258.7h0M586.1 233.2h0M598.5 266.9h0M578.2 231h0M568.6 255.3h0M591.1 233.4h0M576.1 253.5h0M568 245.2h0M580.8 239.5h0M588 270.2h0M575.6 255h0M587.7 254h0M578.7 270.3h0M571 255.6h0M567 251.5h0M582.9 229.7h0M568 240.5h0M597.1 252.8h0M599.2 253.9h0M583.9 249.2h0M597.1 259.4h0M583.5 267.9h0M568.9 262.8h0M573 249h0M570.3 262.5h0M580.3 250.2h0M569.7 244.2h0M567.8 234.5h0M595.3 236.3h0M593.1 257.6h0M594.9 245.3h0M583.1 243.2h0M602.5 254.9h0M581.1 261.3h0M570.4 250.4h0M567.3 235.8h0M568.9 242.2h0M578.3 253.5h0M571.8 233.1h0M575.9 265.2h0M593.9 268.8h0M591 258.8h0M598.3 265.2h0M594.6 235.5h0M596 243.7h0M577.6 241.6h0M576.5 243.6h0M591.4 237.7h0M602.9 269.3h0M593.2 237.5h0M588 266.7h0M596.7 233.8h0M586.4 260h0M578.4 261.8h0M581.4 237.7h0M592.5 229.7h0M578.8 258.8h0M595.1 269.9h0M603.3 234.3h0M577.1 238.4h0M595 246h0M587.6 261.3h0M584.7 269.1h0M594.2 262.5h0M584.4 236.9h0M601.6 256.7h0M602.6 245.5h0M579.4 234h0M590.4 250.8h0M568 237.9h0M577 266.7h0M573.1 233.4h0M572.4 239.2h0M602.6 244.6h0M591.4 245.7h0M579.3 266.3h0M599.1 267.5h0M599.4 269.1h0M600.5 232.5h0M579.5 262.4h0M578.3 264h0M600.8 246.6h0M599.3 246.9h0M586.7 263.3h0M599.9 265.3h0M574.7 263.3h0M590.9 263.8h0M586.3 252.5h0M577.4 257.2h0M570.1 260.5h0M567.3 266.5h0M584.2 236.5h0M586.4 267.1h0M599.9 270.6h0M585.4 251.5h0M585.1 254.2h0M575.6 240.7h0M580.6 262.8h0M595.5 264.6h0M593.7 258.5h0M589.4 249.6h0M583.7 261.5h0M568.8 259.1h0M592.3 270.9h0M587.5 247h0M593.5 238.3h0M602.7 266.1h0M576.4 264.3h0M592.9 245.2h0M594.3 244.1h0M599.7 268.3h0M592.2 262.9h0M589.6 251.1h0M592.3 266.9h0M589 271.6h0M596.8 246.8h0M584.4 249.8h0M571.6 242.5h0M580.3 243.9h0M582.1 233h0M593.5 264.8h0M574.5 269.7h0M573.2 231.2h0M573.2 240.1h0M578.1 237.6h0M570.4 249.6h0M578.4 268.1h0M588 231.6h0M576.2 241.2h0M577.9 252.3h0M580.3 246.2h0M588.3 271.3h0M588.7 258.4h0M594.8 257.5h0M587.5 229.9h0M578 248h0M578.2 237h0M575.3 246.8h0M602.8 243.7h0M603.3 254.3h0M584.5 253.8h0M568.6 238.5h0M566.9 268h0M596.9 261.6h0M576.6 244.3h0M582.7 244.6h0M588.7 238.7h0M576.8 258.9h0M572.4 258.7h0M593.5 241.1h0M580.2 260.6h0M599.7 246.2h0M585 258.9h0M594.6 265.8h0M584.1 235.9h0M568.1 271.1h0M601.4 269.1h0M573.5 235.6h0M593.7 241.3h0M593 235.4h0M595.9 238.9h0M572.4 237.9h0M566.8 263.2h0M582.4 249h0M568.8 247.9h0M588.9 239.1h0M603.5 242.9h0M570 254h0M581.1 246.7h0M578.8 239.2h0M592.9 245.8h0M591.3 231.3h0M588.4 240.4h0M578.6 258.4h0M570.2 269.1h0M592.8 237.5h0M598.2 233.6h0M592.8 254.8h0M575.5 258.7h0M589.5 254.1h0M601.3 262.2h0M602.8 252.1h0M592.9 245.7h0M594.2 235.1h0M597.4 241.3h0M577.6 239.2h0M594.4 236.2h0M575 256.1h0M580.4 233.4h0M602.4 235.9h0M597.3 251.8h0M595.8 230.6h0M577.4 253.4h0M572.3 237.1h0M593.2 260.4h0M597.7 269.6h0M599 234.2h0M594.6 258.3h0M576.5 251h0M569.1 256h0M568.9 249.8h0M577 241.9h0M567.8 255.2h0M568.7 246.3h0M598.5 247h0M588.3 265.3h0M596.8 246.7h0M597.2 234.1h0M574.8 237.5h0M588.6 268h0M581.9 239.4h0M581.9 251.7h0M592.8 260.5h0M602.9 240.8h0M573.6 262.5h0M587.6 265.1h0M569 255h0M572 249h0M595.3 236.8h0M589 265.5h0M569.5 271.6h0M571.3 257.2h0M595.3 248.8h0M600.7 238.2h0M597.7 232.5h0M571.4 257.5h0M591.7 260.7h0M595.5 266.2h0M593 235.1h0M583.4 239.9h0M584.3 260.1h0M595.1 259h0M579.6 244.6h0M569.5 230.8h0M583.7 235.5h0M597.6 271.8h0M592.4 265.8h0M585.7 267.2h0M599.7 241.2h0M582.8 236.3h0M576.9 259.4h0M591.1 246.3h0M568.9 270.8h0M574.8 254.2h0M602.9 244.7h0M579.4 259.6h0M598 253.9h0M600.3 247.5h0M567.1 250.5h0M585.5 246h0M586.4 247.2h0M588.9 269.2h0M573.9 230.8h0M570.5 232.8h0M578.4 239h0M569.3 254.2h0M567.8 241h0M586.6 230.9h0M592 271h0M573.5 254.7h0M598.3 252.4h0M572.8 240.1h0M583.8 231.4h0M602.1 244h0M587.6 264.4h0M587.7 247.1h0M595 270.9h0M599.1 233h0M571.7 236.8h0M589.5 231.6h0M590.4 263.1h0M600.4 261.2h0M571.1 246.3h0M592.4 261.2h0M578.9 249.6h0M587.1 251.3h0M602.1 267.5h0M572.4 260.8h0M573.5 251.7h0M570.9 236.8h0M581.6 237.4h0M602.1 263.9h0M584.8 254.9h0M576 248.4h0M573.4 234.6h0M580.5 229.6h0M577.3 256.4h0M595.9 246.2h0M571.7 254.8h0M584.1 239.6h0M586.1 230.3h0M598.9 234.5h0M579 236.3h0M587.4 245.3h0M569.5 247.4h0M590.8 265.7h0M582.4 240.1h0M574.6 259.4h0M576.2 266.5h0M599.1 238.1h0M570.1 243.2h0M601.2 265.4h0M592.9 255h0M574.3 232.7h0M594.9 236.1h0M569.3 255.1h0M577.8 244.6h0M586.7 239.9h0M572 239.1h0M598.8 253.3h0M567.6 235.9h0M578 233.1h0M585.5 252.8h0M598.3 257.5h0M569.9 271.2h0M595 259.6h0M600.8 266.4h0M576.7 236.7h0M594.7 237.8h0M570.4 236.9h0M578 271h0M568.3 247.5h0M572 253.9h0M574.9 252.1h0M577.8 246.5h0M581.9 254.3h0M586.8 267.3h0M572.7 251.8h0M575.6 265.7h0M569 271.6h0M570 248.2h0M581 240.9h0M567.1 231.2h0M569.7 250.1h0M575.8 248.9h0M569.4 230.8h0M593.6 257.7h0M596.1 239h0M566.8 234.3h0M591.5 266.2h0M596.5 239.1h0M597.9 241.2h0M591.5 265.9h0M579.1 251.5h0M598.7 256.8h0M572.2 267.8h0M575.7 259.6h0M593.3 237.4h0M591 237.5h0M573.6 233.2h0M585.1 259.6h0M573.4 248.1h0M597.5 264.1h0M599.9 256.7h0M592.1 235.4h0M572.1 232h0M583.1 235.6h0M587.9 270h0M577.6 249.7h0M599.6 270.5h0M566.8 258.4h0M580.7 236.6h0M596.7 239.4h0M586.5 250h0M578.1 232.8h0M591.9 249.4h0M576.9 229.7h0M600 260.4h0M575.1 241.4h0M584.5 250.5h0M585.1 235.8h0M594.5 247.4h0M603.7 241.9h0M575.6 260.7h0M594.9 260.4h0M600.3 257.3h0M580.6 240.3h0M572.5 237.5h0M569.4 256.1h0M579.3 262.5h0M603.6 259.4h0M599.1 251.2h0M599.2 265.1h0M586.8 251.1h0M588.6 261h0M599.3 239.5h0M591.9 254.2h0M593.5 256.6h0M578.3 250.1h0M580.6 234.3h0M603 252.2h0M578.5 229.8h0M593.3 269.9h0M573.4 267.1h0M584.8 245.9h0M589.2 266.9h0M602.8 252.3h0M599.8 249.7h0M586.1 255.6h0M587.5 260.1h0M590.6 242.8h0M580.5 255.2h0M577.6 240.1h0M587.4 242.4h0M587.2 250.2h0M567 258.2h0M597.4 262.6h0M595.7 240.9h0M599.4 258.1h0M601.1 271.6h0M597 243.1h0M602.3 231.4h0M598.7 248.7h0M603.3 236.9h0M574.5 262.6h0M601.7 234.8h0M592.8 257.7h0M578.4 256.7h0M601.2 231.8h0M595 269.7h0M595.6 246.4h0M566.8 230.6h0M582.7 239.1h0M578.7 268.7h0M599.8 234.9h0M601 239.9h0M589.9 251.5h0M581.5 253.3h0M599.7 244.5h0M572.5 245.8h0M602.4 239h0M582.4 241.8h0M602.7 237.6h0M603.7 243.1h0M600.8 264.1h0M578.5 258h0M587.9 250.5h0M598.4 241.2h0M603.2 256.6h0M597.9 230.8h0M592.5 266.5h0M586.7 243.5h0M574.8 261.2h0M583.5 253.6h0M578.4 233.1h0M601.3 269.3h0M587.9 269.3h0M598 259.6h0M589.3 233.8h0M587.6 254.2h0M568.6 244.1h0M567.6 252.5h0M572.7 264.9h0M598.3 270.4h0M589.9 237.7h0M567.2 266.9h0M576.3 242.6h0M598.9 268.4h0M574.8 251.1h0M588.8 256.9h0M596.5 261.8h0M573.3 245.5h0M573.9 254.7h0M588.9 234.2h0M602.3 230.5h0M598 271.6h0M577.4 235.7h0M575.9 242.3h0M584 255.1h0M600.9 234.7h0M589.3 262h0M575.9 249.8h0M578.1 253.4h0M584.8 241.7h0M590.6 234.1h0M598.8 267.8h0M601.7 243.3h0M581 241h0M596.4 235.3h0M589.3 248.9h0M576.4 261.7h0M601.6 236.3h0M594.3 234.7h0M580.6 271.6h0M582.7 268.1h0M599.4 251.6h0M581.5 247.6h0M598.4 262h0M580.5 237.8h0M587 268.5h0M587.3 257.7h0M592 245.5h0M603.3 249.8h0M589.2 247.3h0M604.1 251.8h0M568.1 256.5h0M601.5 238.2h0M595.3 250h0M583.2 242.5h0M570.3 266.5h0M599.3 234.9h0M591.7 239.3h0M598.8 247h0M583.6 258.1h0M572 259.8h0M585.6 248.6h0M599 236.8h0M568.7 269.5h0M595.3 237.7h0M573.6 260.3h0M569 237.2h0M587 266.2h0M586.3 237.5h0M579.6 263.1h0M573.9 230.5h0M574.5 257.1h0M583.4 231.1h0M593.4 252.7h0M590.7 244h0M593.6 271.2h0M569.9 252.2h0M577.8 232.6h0M586 257.8h0M583.5 250.6h0M584.1 259.1h0M581.8 264.4h0M576.6 261.1h0M581.3 254.4h0M602.5 256.7h0M591 249h0M602.7 247.4h0M595 236.3h0M597 259h0M593.8 251.9h0M592.3 235.3h0M587.8 241.9h0M576.2 239.6h0M569.3 254h0M586.3 235.3h0M588 250.3h0M603.8 247.7h0M604 253.9h0M592.7 242h0M579.4 268.8h0M568 262.3h0M589 267.8h0M597.1 232h0M571.2 243.5h0M582.1 270h0M579.2 257.6h0M572.6 253.5h0M596.3 237.4h0M594.6 250.8h0M591.4 263.2h0M573.2 255.5h0M600.6 240.2h0M592.3 252.9h0M584.6 256.1h0M597.8 243.6h0M571.8 237.9h0M594.9 263h0M578.5 261.8h0M595 264.6h0M602.8 253.4h0M591.3 266.6h0M595.4 242.3h0M600.8 235.4h0M573.6 233.1h0M600.4 247.5h0M601.6 264h0M602.3 249.6h0M568 256.8h0M571.3 271.3h0M584.7 257.7h0M583.9 233.3h0M602.1 234.8h0M585.8 263.9h0M587.4 269.8h0M587 241.8h0M572.7 271.3h0M567.9 261.6h0M569.4 257h0M569.2 245.4h0M585.4 230.3h0M571.5 262.9h0M593.6 261.1h0M573.5 271.4h0M573.5 253.3h0M571.1 249.5h0M588.3 236.9h0M572.4 239.1h0M577.3 235.4h0M596.3 264.5h0M573.7 256.2h0M584.3 270h0M603.9 241.8h0M575.3 231.5h0M577 255.6h0M574.5 251h0M600.1 242.8h0M597.8 255.7h0M574.8 270.3h0M567.2 251.4h0M575.2 240.3h0M594.8 269.6h0M570.8 253.5h0M577.8 240.9h0M595.8 250h0M593.4 231.6h0M596.8 234.6h0M586.9 244.3h0M599.5 246.5h0M586.9 271.4h0M582.3 248.4h0M578.1 244.7h0M601.3 232.3h0M578.4 230h0M595.2 266.1h0M592.8 248.9h0M571.9 271.8h0M598.9 261.7h0M582.4 240h0M573.1 237.5h0M585.7 269.8h0M575.7 230.4h0M580.4 245.6h0M580.6 244h0M600.6 256.2h0M588.4 270.1h0M583.3 268.8h0M598.9 249.8h0M585.8 243h0M590.6 250.1h0M595.5 248.6h0M596 254.8h0M581.4 261.2h0M580.8 232.3h0M594.3 267.3h0M591.7 265.9h0M592.2 251.5h0M597.8 254.4h0M589 235.2h0M581.1 267.9h0M589.5 246.7h0M603.2 269h0M593 239.3h0M593 267.4h0M585.9 237.2h0M593.7 265h0M591.6 254.5h0M601.5 258.6h0M570.5 268.8h0M569.8 266.1h0M587.6 264.2h0M589 250.1h0M571.4 243.6h0M569.2 252h0M567.7 239.9h0M571.5 268.8h0M603.4 232.9h0M597.2 233.3h0M595.2 250.5h0M600.1 243.3h0M576 238.3h0M575.2 239.6h0M578.7 259.9h0M598.8 233.9h0M602.1 241.9h0M598.8 231.3h0M583.5 253.8h0M595.2 242.3h0M567.9 257.3h0M596.9 234.5h0M580.5 232.3h0M579.9 242.3h0M582.6 243.2h0M581.9 237.7h0M583.8 257.2h0M569.3 239.5h0M593.1 231h0M591.3 260h0M583.9 261.6h0M581.3 266.5h0M596.3 237.4h0M582.2 235.9h0M573.5 242.8h0M601.8 233.1h0M600 245.9h0M568.9 230.7h0M585.8 231.4h0M572.6 265.7h0M588.2 260.9h0M585.7 244.4h0M583.8 239.1h0M575.7 251.8h0M568.1 239.8h0M583.2 254h0M583.3 257.7h0M590.9 246.9h0M599.3 255.5h0M585.9 239.2h0M598.4 233.4h0M598.5 241.5h0M572.1 232.1h0M592.3 266.7h0M580 243.5h0M569.2 268.4h0M588.1 262.3h0M575.1 242.3h0M584.2 265.2h0M574.2 267.1h0M602.3 250.9h0M596.4 239.9h0M592.9 233h0M576.9 244.5h0M569 245.5h0M586.2 263.3h0M591.9 240.5h0M596 234.7h0M591.6 264.6h0M569.8 236.1h0M594.1 263.4h0M586.2 239.4h0M573.3 253.3h0M586 255.3h0M571.5 251.1h0M583.5 238h0M580 258.2h0M577.9 229.6h0M570.9 246h0M583.3 250.9h0M579.3 249.5h0M602.2 239.2h0M584.9 246.6h0M596.4 252.6h0M594.5 249.6h0M600 233.4h0M591.6 250.7h0M573.9 249.4h0M575.4 238.7h0M592.2 242.4h0M585 250h0M568.3 241.1h0M570.6 265.9h0M582.7 232.7h0M601.3 270.1h0M567.6 240.3h0M599.5 256h0M592.4 256.7h0M596.6 233.4h0M578.7 260.8h0M603.4 241.2h0M572 245.2h0M568 245.8h0M582.2 245.7h0M589.4 247.8h0M582.8 242.6h0M588.2 265.7h0M591.8 244.1h0M577.2 238.8h0M601.5 230.1h0M571.6 239.3h0M586.4 251h0M590.5 246.4h0M583.9 248.3h0M581.3 266.7h0M599.5 264.4h0M594.6 236.8h0M576.9 268.3h0M602.6 230.6h0M589.1 242.5h0M589.9 257.5h0M589.7 237.7h0M588.5 252.2h0M602.3 254.2h0M580.2 233.4h0M570.3 233.7h0M580.9 260.6h0M569.9 238.1h0M603.3 244.8h0M580.4 269.5h0M590.7 235.1h0M581.5 243.6h0M591.1 241.9h0M597.7 230.6h0M603.3 250h0M642.3 36h0M625.8 113h0M644.8 104.8h0M617.1 97.7h0M625.2 55.2h0M646.7 67.4h0M619.8 78.5h0M643.9 136.6h0M647.2 105.7h0M631.7 141.1h0M640.7 94.6h0M640.6 104.6h0M630.2 108.3h0M638 129.9h0M626.2 92h0M618.4 121.8h0M637.7 120.6h0M626.1 131.6h0M629.9 67.4h0M612.7 91.4h0M632.7 112.1h0M628.8 91.5h0M630.7 122.2h0M616.9 89.5h0M622 128.2h0M622.8 78.4h0M644.9 123.2h0M627.7 112.3h0M630.7 103.1h0M643 91h0M644.8 119.6h0M635.9 53.2h0M634.4 102.6h0M640.6 91.9h0M631.6 136.8h0M636.1 77.9h0M648.7 103.1h0M616.6 124.1h0M631.4 127.7h0M644.1 104.2h0M619.3 138.7h0M614.4 114.6h0M634.9 143.8h0M617.1 115.4h0M613.5 118h0M613.9 128h0M618 120h0M647.3 134.4h0M618.4 104.2h0M612.8 92.6h0M644.4 109.7h0M638.2 131.3h0M612.4 132.4h0M631 74.2h0M647.4 110.1h0M626.4 142.8h0M615.4 97.9h0M618.9 122.1h0M621.1 138.9h0M618.6 120.9h0M621.1 142.3h0M646.2 129.7h0M622.1 127.6h0M616.4 101.8h0M629.2 100.4h0M620.9 99.4h0M613.9 117.1h0M613.8 132.6h0M628.2 93.3h0M619.3 104.5h0M629.8 122.5h0M641.2 135.1h0M616.1 116.4h0M644.4 71.6h0M620.2 64.8h0M617.2 142.7h0M624.7 101.6h0M631.5 133.9h0M613 87h0M640.6 98.7h0M637.1 112.1h0M644.4 93.3h0M643.7 110.9h0M621.9 81.8h0M629.1 96.2h0M631.5 118.8h0M633.8 122.6h0M622.4 119.4h0M615.4 92.3h0M624.1 135.4h0M624.1 109.6h0M636.6 142.2h0M632.8 119.3h0M623.4 117h0M631.2 141.3h0M620.5 84h0M638.7 102.1h0M615.9 107.9h0M648.3 51.7h0M614.1 90h0M640.4 80.2h0M617.1 105h0M612.5 131.4h0M621.5 137h0M631.6 138.7h0M634.7 107.3h0M634.8 99.9h0M641.6 107.2h0M612.9 144.5h0M615.9 132.5h0M613.4 131.5h0M623.3 135.3h0M626.9 139.6h0M640.7 115.4h0M619.8 115.3h0M617.3 112.5h0M628 50.9h0M640 123.6h0M612.7 132.1h0M648.4 139.4h0M635 101.7h0M640.4 106.9h0M614.2 97.3h0M643.7 119.1h0M639.1 122.6h0M635.5 103.5h0M638.4 131.9h0M645.5 112.6h0M615 120.2h0M636.3 138.4h0M630.2 113h0M631.2 106.5h0M629.2 66.5h0M645.2 85.1h0M636.3 88.4h0M631.9 86.5h0M628.5 102.9h0M632.8 107.9h0M622.8 100.2h0M614.3 105.8h0M636.1 124.8h0M637.7 120.2h0M636.2 95.5h0M641.4 128.9h0M641.2 132.3h0M612.8 113.5h0M644.1 125.2h0M615.3 117h0M624.1 131.3h0M628.2 121.8h0M642.9 125.4h0M623.2 110.1h0M619.1 138.4h0M612.9 98.8h0M642.4 112.9h0M642.6 108.9h0M632.8 110.4h0M646.6 108.5h0M618.1 74.3h0M634.2 88.9h0M627 110.4h0M621.2 136.3h0M634.3 126.6h0M621.2 140.3h0M644.4 113.9h0M614.4 128.1h0M639.2 141.8h0M643.3 115.1h0M634.5 95.7h0M630 120.3h0M613.9 104.9h0M629.9 115.9h0M633.5 103.2h0M634.5 86.8h0M624.9 110.9h0M646.2 105.4h0M646.2 108.8h0M633.4 94h0M643.3 105.2h0M648 134.1h0M616.8 94.1h0M648.9 117.9h0M644.3 123.8h0M639.4 126.4h0M637.8 123.4h0M613.7 89.8h0M611.9 141.7h0M646.9 123h0M612.6 98.3h0M626.3 121.8h0M642.4 130.7h0M611.8 135.8h0M618.1 111.4h0M622.4 75.2h0M647.5 138h0M641.2 117.9h0M613.8 117.5h0M624.4 86.3h0M643.7 131.7h0M648 125.8h0M643.4 139.4h0M622.2 94.4h0M621.6 137.6h0M633.6 137.3h0M621.8 38.8h0M616 126h0M635.8 124.7h0M615.6 139.7h0M628.1 141.4h0M643.5 126.3h0M621.6 108.5h0M639.3 126.4h0M625.6 100.2h0M628.8 116.1h0M635.4 117.9h0M643.6 102.8h0M621 126h0M614.5 132.1h0M641.6 124.2h0M639.8 107.8h0M614.4 128.5h0M617.7 103.6h0M640.3 107.1h0M624.6 132.2h0M622.2 112h0M632.6 127.6h0M620.7 109.2h0M620.4 102.4h0M623.6 113.2h0M623.6 129.5h0M624.9 135.8h0M612.4 144.3h0M641.3 142h0M639.1 138.2h0M629 89.5h0M631.3 134.1h0M635.1 122.5h0M612.9 70.7h0M619.5 93.5h0M642.6 137.2h0M628.3 129.7h0M629.7 91.3h0M626.7 90.4h0M631.3 110.1h0M625.4 93.2h0M627.5 109.5h0M637.4 126.8h0M640.4 90.7h0M639.1 116.6h0M625 36.6h0M614.2 135.5h0M632.3 116.4h0M625.1 106.4h0M641.7 134.1h0M618.3 95.4h0M648.3 126.3h0M626.4 108.8h0M624.6 124.5h0M641.9 97.8h0M644.8 112.7h0M614.5 99.8h0M613.5 114.7h0M633.8 137.1h0M640.9 141.9h0M613 114.2h0M616 92.1h0M624.8 128.7h0M626.9 83.1h0M637.3 140.4h0M623.3 81.2h0M644.7 104h0M634.9 97.6h0M634.6 135.8h0M634.9 138.5h0M637.5 113.9h0M629.8 120.5h0M613 92.6h0M646.6 83h0M624.7 107.8h0M626.6 142.6h0M618.7 142.6h0M634.6 116.5h0M614.6 129.1h0M618 89.4h0M620.4 122.5h0M645 143.3h0M634 133.8h0M639.4 94.3h0M637.9 118.1h0M630 116.8h0M612.6 135.9h0M648.3 102.4h0M637.4 98.1h0M633 136.1h0M615.1 110.1h0M646.8 99.1h0M648.9 76.5h0M624.4 117.1h0M627 123.6h0M646.4 141.2h0M646 85.8h0M641.5 138.6h0M618.4 95.9h0M636.6 122.8h0M632.7 115.4h0M629.5 96.3h0M628.6 112.4h0M615.1 88.4h0M626.8 101.8h0M621 109.8h0M645.3 52.2h0M619.2 128.5h0M623.2 122.6h0M643.9 122.9h0M637.6 133.2h0M642 118.9h0M631.7 129.5h0M647.2 122.8h0M632.6 99.1h0M636.3 115.7h0M624.7 117h0M621.6 120.6h0M612.8 77.7h0M641 95.4h0M613.6 144.1h0M647.4 127h0M616.1 131.3h0M646 134.1h0M615.7 116h0M635 107.1h0M648.6 112.7h0M615 84.3h0M634.1 120.6h0M641.2 92.6h0M636 134.1h0M637.8 138h0M647.9 129.3h0M638.8 137.5h0M612.3 142.6h0M639.9 113.8h0M622.8 137.6h0M641.3 110.5h0M618.2 129.1h0M616.1 121.4h0M636 121.8h0M628.2 120.8h0M622.3 124.7h0M627.1 138.8h0M641 141.4h0M621.8 90.8h0M631.7 96.1h0M645.2 115.3h0M637.2 97.1h0M645.8 142.5h0M614.7 125.5h0M613.4 126h0M627.8 90.8h0M619.3 97.1h0M634 102.2h0M635 133.4h0M642.3 141.4h0M637.1 80.8h0M644.2 144h0M638.5 102.8h0M642.4 102.6h0M640.7 127.8h0M625.6 135.1h0M614.1 136.9h0M632.3 131.7h0M621.8 129.8h0M613.4 133.4h0M631.4 94.7h0M618 94.2h0M621.5 105.1h0M634.6 136.9h0M644.2 116.2h0M631.3 114.6h0M623 121.6h0M635.5 117.1h0M612 142.3h0M618.2 59.8h0M612.8 268.4h0M638.9 265.7h0M648.8 237.7h0M645.1 243.1h0M644.4 249.5h0M622 247.1h0M633.8 246.5h0M629 234.9h0M631.4 246.1h0M618.8 269.8h0M619.5 251.2h0M634.1 237h0M634.4 251.1h0M624.2 255.3h0M641.4 252.3h0M624.9 269h0M637.7 271.2h0M612.1 268.2h0M633.3 252.5h0M647.4 230.4h0M616.2 239.5h0M638.2 231.1h0M632.7 236.9h0M645.8 257.9h0M625.1 246.9h0M643.9 262.3h0M629.3 245.1h0M615.1 241.6h0M612.2 251.5h0M640.2 254.4h0M623.4 248.6h0M627.6 240.3h0M648.8 250.1h0M644.4 246.8h0M631.1 250.5h0M640.5 252.5h0M647 256h0M635.6 250.7h0M637.2 244.2h0M633.7 243.6h0M626.5 246.3h0M617.7 264.4h0M618.9 237.3h0M630.8 270.6h0M618.2 234.1h0M625.6 250.1h0M647.1 244.6h0M640.8 230.5h0M623.5 265.3h0M633.9 252.4h0M630.4 237h0M644.7 255.5h0M633.2 266.2h0M620.4 261.7h0M633.3 235.6h0M628.7 249.1h0M616.4 236.5h0M640.5 267.2h0M634.9 243h0M638.4 265.8h0M642.6 260.2h0M621.6 232.6h0M618.2 240.2h0M648.5 260.6h0M629.6 253.7h0M624.1 243h0M638.9 259.2h0M631.5 258.8h0M615.3 237.3h0M646 230h0M648.4 246.1h0M620.8 237.7h0M625.5 245.6h0M612.6 242.8h0M645.1 261.9h0M619.9 248.3h0M647.8 250.6h0M645 267.5h0M623.1 246.5h0M634.1 257.1h0M645.4 256h0M628.5 247.4h0M630.1 257.8h0M627.3 262.5h0M629.2 248.9h0M630.8 264.6h0M635.6 238.8h0M646.2 242.8h0M630.4 240.6h0M628.3 250.9h0M634.6 258h0M617.1 236.7h0M647.3 259.3h0M627.5 240.7h0M616.9 269.1h0M622.2 252.6h0M635.7 239.7h0M628.6 263.8h0M642 264.5h0M612.6 268.9h0M639.5 243.1h0M619.9 266.3h0M628.1 234.6h0M630.7 258.9h0M643.6 264.2h0M647.6 243.5h0M641.6 241.3h0M634.8 238.8h0M641.4 245.4h0M639.8 254.2h0M625 234.3h0M641.6 243.7h0M631.5 244.3h0M633.5 267.3h0M640.2 250.3h0M648 250.1h0M647.5 251.2h0M631.3 251.5h0M613.3 253.5h0M615.7 229.9h0M634.6 267.8h0M630.1 259.2h0M635.8 258.7h0M634.9 244.4h0M628.2 230.3h0M623.5 250.1h0M630.3 234.7h0M634.8 231.4h0M629.7 264.7h0M615.3 257.1h0M629 239.6h0M614.6 247h0M613.4 257.8h0M620.9 234.3h0M615.3 262.1h0M647.7 252h0M627.2 259.3h0M624.4 254.4h0M633.8 262h0M644.4 241.6h0M643.4 268.9h0M643.3 242.2h0M645.2 249h0M625.5 262.5h0M639.9 255.6h0M627 240.6h0M647.3 268.6h0M620.1 267.1h0M646.6 265.5h0M614.6 239.8h0M639.3 248.2h0M636.5 256.5h0M647 267.9h0M613.7 239.6h0M628.2 253.9h0M649 230.2h0M631.1 232.2h0M613.9 266.9h0M617.3 264.3h0M646.6 266.6h0M618.2 244.4h0M613.1 235.6h0M621.6 254.2h0M632.1 243.3h0M641 262.9h0M615.1 237.1h0M645.8 245.7h0M646.9 268.5h0M635.6 244.5h0M621.6 253.8h0M622.7 256.3h0M628.6 237.1h0M614.1 254.9h0M640.6 261.7h0M625.7 255.6h0M624.9 230.2h0M633.8 235.7h0M624.8 263.2h0M634.6 271.7h0M639.2 257.9h0M627.8 262.2h0M646.6 246.9h0M622.5 250.3h0M635.8 260.1h0M639.2 254.1h0M634 246.1h0M624.7 246h0M640 258.8h0M636.5 242h0M615.8 249.7h0M616.2 262.4h0M617.5 239.4h0M629.1 266.5h0M631.6 268.7h0M640.4 250.6h0M619.6 251.6h0M625.6 237h0M616.2 242.3h0M648.3 244.5h0M633.4 237.3h0M636.7 232.7h0M646 257.3h0M625.5 255.9h0M628.6 260.9h0M621.7 270.9h0M639.6 238.9h0M645.9 269.3h0M630.7 249h0M646.1 242.3h0M642.7 246.2h0M627.8 250.1h0M633.1 259.7h0M613.1 232h0M619.2 258.3h0M647 247.3h0M621.6 258.2h0M629 245.1h0M623.9 243.2h0M642.4 248.9h0M618.3 256.2h0M637.6 266.3h0M633.2 270.1h0M613.7 241.8h0M627.2 246.9h0M612 250.6h0M612.1 260.2h0M632.6 248h0M617.5 265.2h0M626.4 264h0M618.5 261.9h0M631.5 256.6h0M624 232.1h0M647.1 268.4h0M617.8 256.6h0M622.1 230.7h0M631 247.2h0M642.4 256.7h0M615.2 253.8h0M622.5 230.1h0M636.1 255.3h0M645.7 257.4h0M640 266.5h0M611.8 250.1h0M619 243.3h0M617.3 231.4h0M635.7 239.3h0M642.1 254.3h0M626.7 250.8h0M641.6 243.5h0M648.3 245.5h0M640.9 243.4h0M624.2 258.6h0M637.8 254.3h0M612.6 243.2h0M648.5 246.1h0M620.1 234.9h0M624.9 268.4h0M618.5 234.7h0M645.3 254.9h0M636.6 248.6h0M644.5 235.9h0M626 270.8h0M639.1 247.8h0M622.5 268.8h0M623.1 254.3h0M613.1 234.1h0M614.6 264.7h0M647.9 245.2h0M643.7 235.1h0M617.2 253.8h0M643.1 268.3h0M643.9 231.3h0M646 253.3h0M647.3 253.4h0M618.9 242.6h0M649 260.4h0M635.1 268.5h0M646.5 241.3h0M647.1 230.8h0M645.5 271.4h0M643.9 258.4h0M620.2 268.2h0M628.8 253.3h0M640.3 244.6h0M639 264.1h0M617 229.8h0M644.1 240.4h0M634.5 257.1h0M616.7 246.2h0M627.1 240.2h0M644.4 245.4h0M631.8 248.1h0M613 254.9h0M642.5 265.9h0M632.2 269.1h0M645.4 259.1h0M613.5 264.2h0M626 264.3h0M632.9 230.3h0M646.8 230h0M630.3 257.8h0M627.9 268.4h0M625.4 262h0M644.7 271.6h0M628.7 257.3h0M612.1 257.2h0M611.9 241.9h0M641 266.9h0M621.1 245h0M629.9 271.7h0M625.2 230.9h0M638.8 259.6h0M622.6 263h0M648.6 258.7h0M646.5 269.5h0M628.9 262.3h0M612.7 253.6h0M634.2 245.7h0M616.6 247.4h0M635.3 249.6h0M620.6 244.7h0M627.2 262.5h0M641.8 234.2h0M629.7 232.7h0M645.4 245.1h0M624.3 260.9h0M620.1 256.5h0M647.4 259.7h0M627.6 229.9h0M644.6 255h0M635.5 232h0M616.3 260.1h0M617.5 234.6h0M633.4 247.8h0M628.6 235.7h0M633.5 253.3h0M631.3 261.5h0M621 254.1h0M633.5 266.9h0M630.9 248.8h0M623.1 264.4h0M636.8 236.7h0M616 243h0M644.2 271.1h0M620.2 255.6h0M640.6 230.7h0M623.6 260.8h0M642.1 242.1h0M645.6 245.8h0M615.6 254.9h0M630.7 252.8h0M614.3 235h0M637.5 245.4h0M645.9 252.2h0M637.4 229.8h0M614.3 263.9h0M643.5 242.9h0M628.7 236.7h0M626.5 241.7h0M627.9 270.3h0M636.3 234.9h0M613.2 258.6h0M612.6 259.4h0M639.5 229.6h0M611.8 266.9h0M613.7 255h0M646 232.6h0M646 238.1h0M614 230.4h0M640.3 265.6h0M620 259.9h0M625.8 246h0M620.2 243.6h0M613.6 253.4h0M632.6 239.2h0M634.2 256.2h0M639.5 248.3h0M647.2 267.4h0M640.8 256.6h0M630.6 241h0M636.2 255h0M616.7 271.2h0M619.3 269h0M612.4 249.8h0M621.2 236.6h0M613.8 261.6h0M626.6 234.2h0M618.7 246.3h0M629 269h0M643.4 257h0M618.8 229.8h0M639.8 243.6h0M627.9 248.1h0M638.1 252.8h0M648.3 248.4h0M634.1 249.5h0M617 255.6h0M639.7 239.1h0M615.9 235.5h0M629 248.9h0M634.7 266.6h0M631.1 238.8h0M638.8 258.8h0M624.5 266.7h0M631.4 264.7h0M648.8 270.9h0M615.6 247.6h0M636.7 236.1h0M635.5 267.1h0M637.4 260h0M632.3 241.7h0M641.5 239.5h0M630.5 267.4h0M621.2 242.3h0M628 269.4h0M643.7 230.9h0M645.9 257.2h0M642.7 258.4h0M629.3 245.1h0M612 240.2h0M618.9 238h0M618.5 247h0M614.2 245.1h0M615.8 230.1h0M619.1 259.2h0M647.6 229.9h0M638.2 261.4h0M614.6 238.1h0M616.4 262.1h0M633.8 267.6h0M630.3 271.1h0M645.4 247.1h0M643.4 242.5h0M639 269.1h0M620.7 258.2h0M628 242.3h0M640.5 268h0M612.2 250h0M635.7 259.6h0M626 257.9h0M621.2 244.8h0M618.8 260.1h0M644.9 236.9h0M644 252h0M619.6 271h0M613.1 234h0M639 235.5h0M625.5 259.7h0M631.7 234h0M646 266.5h0M646.6 251.2h0M635.2 236.1h0M619.4 252.9h0M621.1 251.6h0M638.5 257h0M612.6 233.1h0M638.7 248.7h0M638.5 268.4h0M616.4 256.6h0M619.6 261.7h0M636.6 257.3h0M626.7 270.2h0M631.9 254.7h0M632.2 246h0M616.7 254.2h0M617 260h0M636.2 238.5h0M613.7 249.6h0M625.1 238.6h0M644.4 259.4h0M615.7 250.1h0M635.3 238.5h0M644.3 238.4h0M645.6 255.9h0M614 248.6h0M634.9 260.7h0M633.3 243.6h0M640.3 239.7h0M638.7 265.7h0M641.9 258.5h0M627.4 249.6h0M614.6 257h0M632.1 253.4h0M625.1 235.8h0M632.3 256.3h0M617.7 265h0M639.2 265h0M613.8 234.8h0M615.6 263h0M626.5 266.5h0M620.9 265.3h0M639.5 270.9h0M624.5 236.7h0M634.1 258.4h0M630.2 259.1h0M641.5 246h0M620.4 269.3h0M634 244.3h0M638.8 260.7h0M638.4 271.2h0M617.3 252.7h0M629.3 246.7h0M636.6 242.9h0M622.7 264.2h0M628.3 250.7h0M619.3 240.7h0M622 249.5h0M618.3 255.5h0M646.9 231.9h0M625.6 255.1h0M628.3 245.8h0M648.4 243.5h0M639.2 231.3h0M637.5 233.7h0M618.9 259.4h0M618.2 270.1h0M619.3 271h0M615.4 246.2h0M648.9 244.7h0M640.9 254.5h0M648.6 238.1h0M622.3 249h0M647.8 236.4h0M642.8 243.1h0M625.7 271.4h0M627.5 245.7h0M617.5 231.5h0M612.8 268.2h0M647.4 237.7h0M631.1 253h0M622.2 232.8h0M628.5 267.9h0M624 252.9h0M639.4 247.1h0M637.9 266.4h0M633.7 250.6h0M624.7 261.7h0M631.1 250.6h0M618.4 259.9h0M642.3 248.8h0M648.6 255.1h0M629.9 237.6h0M618.1 259.8h0M632.2 254.4h0M647.3 256.5h0M647.4 259.1h0M631.7 241.8h0M613.2 231.5h0M645.2 231.7h0M619.3 265.3h0M634.7 261.6h0M631.3 238.4h0M627 267.6h0M613.5 265.1h0M642.3 240h0M621.7 259.2h0M630.6 243h0M630.3 263.8h0M612.6 245.1h0M616.7 251.1h0M646.1 263.7h0M636.6 255.7h0M621.3 233.3h0M641.3 258.6h0M624.9 235.1h0M638.5 255.6h0M625.7 253.1h0M641.8 251.7h0M614.2 250.2h0M647.4 252.4h0M620 264.6h0M640.7 258.1h0M635.4 271.4h0M614.4 256.3h0M638.4 244.4h0M618.1 245.9h0M645.7 265.3h0M635.1 260.6h0M630 250.7h0M636.6 231.4h0M626.6 258.2h0M644.7 232.5h0M645 255h0M625 241.3h0M632.6 233.9h0M623.5 251.3h0M618.8 243.1h0M641.2 266.4h0M633 260.2h0M630 243.1h0M643.6 260.1h0M612.4 230.2h0M622.2 270.4h0M643.2 247.2h0M619.3 264.4h0M614.4 252.2h0M623.6 245.4h0M614.5 259.7h0M627.4 257.1h0M618.6 251.7h0M646.9 252.6h0M619.9 251h0M619.1 247.7h0M625.8 255.1h0M611.9 271.6h0M627 254.8h0M620.7 237.1h0M626.5 269.8h0M628.3 262.9h0M647.9 253h0M638.7 234.4h0M635.6 248.6h0M639.3 232.2h0M631.3 236.1h0M637.1 266.4h0M630.9 238.6h0M612.7 255.4h0M644.3 260.5h0M634.2 233.4h0M646.7 237.6h0M637.3 253.3h0M628.4 253.3h0M612.5 260.1h0M648.6 247.9h0M630.6 240.7h0M638.8 263.6h0M648.8 244h0M623.5 247.5h0M637 256.8h0M627.2 256h0M634.6 231.8h0M615.1 245.9h0M638.5 258.5h0M641.8 231h0M645.4 256.1h0M622.4 235.9h0M628.9 255.5h0M639.4 261.1h0M616.2 259.2h0M647 250.2h0M613.3 262.1h0M617.7 231.3h0M644.4 245.9h0M645.7 255.5h0M615.1 249.2h0M620 261.3h0M617.9 255.7h0M626.8 230.4h0M643.3 247h0M639.2 249h0M637.6 257.3h0M621.9 236.7h0M647.6 269.9h0M637.6 255.6h0M647.4 235.7h0M633.1 268.1h0M643.1 231.3h0M639.5 239.6h0M636.2 239.5h0M629 240.5h0M640.5 240.3h0M642.7 242.4h0M643 269.3h0M624.9 268.4h0M648 261.4h0M634.4 246h0M634.8 271.7h0M621.1 258.7h0M644.3 245.7h0M649 252.1h0M640.4 265.5h0M643.6 233.9h0M614.2 241.9h0M636.9 270.3h0M618.8 234.3h0M644.1 243.5h0M625.3 259.3h0M627.4 234.8h0M631.7 264.8h0M648.2 253.5h0M641 269.6h0M619.3 247.5h0M646.6 245.1h0M621.7 253.9h0M622.9 243.2h0M640.7 237.4h0M614.6 261.1h0M632.2 230.5h0M615.8 238.3h0M615.3 269.3h0M635 263.2h0M632.4 241.3h0M624.7 242.2h0M613.9 237.8h0M629.6 265.5h0M646 243.9h0M645.2 261.4h0M621 271.8h0M632.8 233.6h0M633.5 237.8h0M641.6 259.8h0M617 265.2h0M626.5 234.3h0M625.9 243.6h0M623.7 238.3h0M623 253.4h0M627.1 255.5h0M628.5 242.9h0M625.8 248.3h0M614.4 239.3h0M613.6 245.7h0M635.3 247.7h0M624.3 260.3h0M615.1 241.1h0M618.3 231.8h0M628.4 258.1h0M627.6 262.9h0M612.9 267.5h0M623.8 268.7h0M632.5 232h0M621.1 244.1h0M612.1 258.7h0M634.3 253.7h0M613.5 264.2h0M614.3 240.6h0M624.8 234.6h0M638.9 251h0M632.1 233.1h0M639.5 268.7h0M639.8 271h0M635.8 235.4h0M625.2 260.9h0M628.5 270.3h0M622.7 259.5h0M643.6 244.6h0M648.2 255.3h0M621.5 236h0M627.5 256.6h0M629.3 263h0M626.1 263.8h0M637.4 270.8h0M641.1 232.5h0M628.2 270.6h0M643 229.7h0M627.9 265.7h0M645.2 244.9h0M643.9 248.9h0M633.7 240.6h0M614.8 265.8h0M623.3 264.1h0M622.3 234.9h0M631.7 270.6h0M642.6 255h0M630.1 248.4h0M647 247.4h0M634 269.2h0M637.5 264.5h0M648.9 243.4h0M634.5 235.7h0M645.4 261.6h0M643.2 260.8h0M644.9 262.4h0M620.9 257.8h0M627.8 257.2h0M635 255.4h0M641.2 266.6h0M638.1 258.4h0M639.5 257.9h0M635.4 266.2h0M639.3 249.3h0M625.5 235.8h0M632.5 253.3h0M643.8 251.3h0M643.1 251.2h0M621.6 249.1h0M636.1 236.3h0M648.9 248.5h0M642.9 244h0M638.7 238.5h0M643 269.8h0M617.1 246.7h0M642.1 257.3h0M642.4 260.6h0M633 230h0M619.2 267.9h0M628.3 254h0M646.4 230.4h0M615.8 243h0M648.8 244h0M633.2 260.2h0M641 242.4h0M622.4 247.6h0M632 260.4h0M642.8 271.8h0M628.2 239.1h0M618.8 233.5h0M636.8 268.7h0M627.5 238.3h0M620.2 235.5h0M641.6 260.1h0M631.4 252.7h0M643.3 264.5h0M637.2 237.2h0M617 252.8h0M632.7 271.7h0M640.4 262.9h0M638.3 232.2h0M634.9 263.2h0M634.7 263h0M641.1 259.7h0M624.9 234.1h0M648.4 268.2h0M636.5 235.9h0M615.2 235h0M634.6 238.9h0M636.3 245.9h0M642.9 253.5h0M617.8 264.5h0M632.8 271.8h0M632 252.9h0M632.2 244.5h0M643.4 243.9h0M634.9 246.7h0M635.3 240.3h0M623.7 241.4h0M633.6 271.3h0M639.3 241.5h0M613 262.3h0M624.3 229.7h0M639.8 256.1h0M620.3 258.9h0M625.2 271.7h0M623.6 252.8h0M619.5 267.6h0M617.9 252.5h0M631.3 263.2h0M647.5 231.1h0M645.5 246.6h0M644.9 233.7h0M647.4 243.3h0M637.9 243.4h0M616.4 261.1h0M645.4 258.1h0M639.7 269.5h0M616.3 265.7h0M642.6 230.2h0M629 261.3h0M612.6 247.4h0M617.6 257.7h0M621.4 258.4h0M646.1 234.6h0M636.5 236h0M622.4 233.4h0M645 249h0M630.2 268h0M639.1 266.7h0M632.5 253.6h0M613.6 239.8h0M614.8 263.2h0M638.9 271.7h0M626.3 262.5h0M620.3 259.7h0M635.6 236.8h0M644 267.7h0M615 239.5h0M617.5 237.3h0M631.1 251.1h0M620.5 252.4h0M645.1 242.2h0M627.8 241.5h0M622.3 242.5h0M619.6 261.4h0M612.5 235.6h0M626.7 238.5h0M633.5 244.6h0M619.3 251.5h0M611.9 237.4h0M640.9 237.2h0M639.7 252.8h0M646.3 255.2h0" stroke="#c5262d" stroke-width="1.7" stroke-linecap="round" fill="none"/>
<rect x="24.2" y="167" width="45.2" height="41.7" fill="#5b57a6"/>
<text x="49.2" y="190" font-size="6.7" font-family="'Liberation Sans', Arial, sans-serif" text-anchor="middle" fill="#1e1e2a"  stroke="#1e1e2a" stroke-width="0.2">cluster0</text>
<rect x="69.1" y="167" width="45.2" height="41.7" fill="#f29d1e"/>
<text x="94.1" y="190" font-size="6.7" font-family="'Liberation Sans', Arial, sans-serif" text-anchor="middle" fill="#1e1e2a"  stroke="#1e1e2a" stroke-width="0.2">cluster1</text>
<rect x="114" y="167" width="45.2" height="41.7" fill="#d2ad86"/>
<text x="139" y="190" font-size="6.7" font-family="'Liberation Sans', Arial, sans-serif" text-anchor="middle" fill="#1e1e2a"  stroke="#1e1e2a" stroke-width="0.2">cluster2</text>
<rect x="158.9" y="167" width="45.2" height="41.7" fill="#e6e07c"/>
<text x="183.9" y="190" font-size="6.7" font-family="'Liberation Sans', Arial, sans-serif" text-anchor="middle" fill="#1e1e2a"  stroke="#1e1e2a" stroke-width="0.2">cluster3</text>
<rect x="203.8" y="167" width="45.2" height="41.7" fill="#e47a79"/>
<text x="228.8" y="190" font-size="6.7" font-family="'Liberation Sans', Arial, sans-serif" text-anchor="middle" fill="#1e1e2a"  stroke="#1e1e2a" stroke-width="0.2">cluster4</text>
<rect x="248.7" y="167" width="45.2" height="41.7" fill="#5aa9d6"/>
<text x="273.7" y="190" font-size="6.7" font-family="'Liberation Sans', Arial, sans-serif" text-anchor="middle" fill="#1e1e2a"  stroke="#1e1e2a" stroke-width="0.2">cluster5</text>
<rect x="293.6" y="167" width="45.2" height="41.7" fill="#2db38d"/>
<text x="318.6" y="190" font-size="6.7" font-family="'Liberation Sans', Arial, sans-serif" text-anchor="middle" fill="#1e1e2a"  stroke="#1e1e2a" stroke-width="0.2">cluster6</text>
<rect x="338.5" y="167" width="45.2" height="41.7" fill="#8068b1"/>
<text x="363.5" y="190" font-size="6.7" font-family="'Liberation Sans', Arial, sans-serif" text-anchor="middle" fill="#1e1e2a"  stroke="#1e1e2a" stroke-width="0.2">cluster7</text>
<rect x="383.4" y="167" width="45.2" height="41.7" fill="#9b4e2c"/>
<text x="408.4" y="190" font-size="6.7" font-family="'Liberation Sans', Arial, sans-serif" text-anchor="middle" fill="#1e1e2a"  stroke="#1e1e2a" stroke-width="0.2">cluster8</text>
<rect x="428.3" y="167" width="45.2" height="41.7" fill="#6dbe66"/>
<text x="453.3" y="190" font-size="6.7" font-family="'Liberation Sans', Arial, sans-serif" text-anchor="middle" fill="#1e1e2a"  stroke="#1e1e2a" stroke-width="0.2">cluster9</text>
<rect x="473.2" y="167" width="45.2" height="41.7" fill="#d28c9e"/>
<text x="498.2" y="190" font-size="6.7" font-family="'Liberation Sans', Arial, sans-serif" text-anchor="middle" fill="#1e1e2a"  stroke="#1e1e2a" stroke-width="0.2">cluster10</text>
<rect x="518.1" y="167" width="45.2" height="41.7" fill="#979ea5"/>
<text x="543.1" y="190" font-size="6.7" font-family="'Liberation Sans', Arial, sans-serif" text-anchor="middle" fill="#1e1e2a"  stroke="#1e1e2a" stroke-width="0.2">cluster11</text>
<rect x="563" y="167" width="45.2" height="41.7" fill="#80c4e2"/>
<text x="588" y="190" font-size="6.7" font-family="'Liberation Sans', Arial, sans-serif" text-anchor="middle" fill="#1e1e2a"  stroke="#1e1e2a" stroke-width="0.2">cluster12</text>
<rect x="607.9" y="167" width="45.2" height="41.7" fill="#cc1538"/>
<text x="632.9" y="190" font-size="6.7" font-family="'Liberation Sans', Arial, sans-serif" text-anchor="middle" fill="#1e1e2a"  stroke="#1e1e2a" stroke-width="0.2">cluster13</text>
<line x1="20" y1="23" x2="20" y2="284" stroke="#b3b3b3" stroke-width="1.6"/>
<text x="19.8" y="105.6" font-size="7.4" font-family="'Liberation Sans', Arial, sans-serif" text-anchor="end" fill="#444"  stroke="#444" stroke-width="0.2">2</text>
<text x="19.8" y="189.5" font-size="7.4" font-family="'Liberation Sans', Arial, sans-serif" text-anchor="end" fill="#444"  stroke="#444" stroke-width="0.2">0</text>
<text x="20.2" y="273.1" font-size="7.4" font-family="'Liberation Sans', Arial, sans-serif" text-anchor="end" fill="#444"  stroke="#444" stroke-width="0.2">-2</text>
<text transform="translate(10.4 151) rotate(-90)" font-size="6.4" font-family="'Liberation Sans', Arial, sans-serif" text-anchor="middle" fill="#333" stroke="#333" stroke-width="0.2">log2FC</text>
<text x="341.2" y="289.6" font-size="6.6" font-family="'Liberation Sans', Arial, sans-serif" text-anchor="middle" fill="#333"  stroke="#333" stroke-width="0.2">Clusters</text>
<circle cx="669.2" cy="153.1" r="2" fill="#c5262d"/>
<text x="675.9" y="155.2" font-size="7" font-family="'Liberation Sans', Arial, sans-serif" text-anchor="start" fill="#333"  stroke="#333" stroke-width="0.2">Sig</text>
<text x="63.6" y="75" font-size="6.5" font-family="'Liberation Sans', Arial, sans-serif" text-anchor="start" fill="#111" stroke="#111" stroke-width="0.18">IGF2</text>
<text x="80" y="83.6" font-size="6.5" font-family="'Liberation Sans', Arial, sans-serif" text-anchor="start" fill="#111" stroke="#111" stroke-width="0.18">CAPN6</text>
<text x="74.4" y="98.6" font-size="6.5" font-family="'Liberation Sans', Arial, sans-serif" text-anchor="start" fill="#111" stroke="#111" stroke-width="0.18">IFI44L</text>
<text x="106" y="109" font-size="6.5" font-family="'Liberation Sans', Arial, sans-serif" text-anchor="start" fill="#111" stroke="#111" stroke-width="0.18">HSPA1A</text>
<text x="70.6" y="125.6" font-size="6.5" font-family="'Liberation Sans', Arial, sans-serif" text-anchor="start" fill="#111" stroke="#111" stroke-width="0.18">BST2</text>
<text x="193" y="96.4" font-size="6.5" font-family="'Liberation Sans', Arial, sans-serif" text-anchor="start" fill="#111" stroke="#111" stroke-width="0.18">RARRES2</text>
<text x="232" y="92.4" font-size="6.5" font-family="'Liberation Sans', Arial, sans-serif" text-anchor="start" fill="#111" stroke="#111" stroke-width="0.18">GZMB</text>
<text x="171.4" y="107.6" font-size="6.5" font-family="'Liberation Sans', Arial, sans-serif" text-anchor="start" fill="#111" stroke="#111" stroke-width="0.18">PLD3</text>
<text x="244.6" y="103.6" font-size="6.5" font-family="'Liberation Sans', Arial, sans-serif" text-anchor="start" fill="#111" stroke="#111" stroke-width="0.18">ANXA13</text>
<text x="268" y="107.4" font-size="6.5" font-family="'Liberation Sans', Arial, sans-serif" text-anchor="start" fill="#111" stroke="#111" stroke-width="0.18">EREG</text>
<text x="194.4" y="112.6" font-size="6.5" font-family="'Liberation Sans', Arial, sans-serif" text-anchor="start" fill="#111" stroke="#111" stroke-width="0.18">RP11-4E2C2.1</text>
<text x="151.6" y="117.6" font-size="6.5" font-family="'Liberation Sans', Arial, sans-serif" text-anchor="start" fill="#111" stroke="#111" stroke-width="0.18">FOXA3</text>
<text x="176.6" y="118.6" font-size="6.5" font-family="'Liberation Sans', Arial, sans-serif" text-anchor="start" fill="#111" stroke="#111" stroke-width="0.18">AKT2</text>
<text x="261.4" y="116.6" font-size="6.5" font-family="'Liberation Sans', Arial, sans-serif" text-anchor="start" fill="#111" stroke="#111" stroke-width="0.18">KRT23</text>
<text x="215" y="122.4" font-size="6.5" font-family="'Liberation Sans', Arial, sans-serif" text-anchor="start" fill="#111" stroke="#111" stroke-width="0.18">XXbac-BPG32J3.19</text>
<text x="151" y="127.4" font-size="6.5" font-family="'Liberation Sans', Arial, sans-serif" text-anchor="start" fill="#111" stroke="#111" stroke-width="0.18">UGT2B17</text>
<text x="193.6" y="129" font-size="6.5" font-family="'Liberation Sans', Arial, sans-serif" text-anchor="start" fill="#111" stroke="#111" stroke-width="0.18">NOXO1</text>
<text x="280" y="126" font-size="6.5" font-family="'Liberation Sans', Arial, sans-serif" text-anchor="start" fill="#111" stroke="#111" stroke-width="0.18">EIF1AX</text>
<text x="253" y="141.6" font-size="6.5" font-family="'Liberation Sans', Arial, sans-serif" text-anchor="start" fill="#111" stroke="#111" stroke-width="0.18">VSNL1</text>
<text x="272.4" y="77" font-size="6.5" font-family="'Liberation Sans', Arial, sans-serif" text-anchor="start" fill="#111" stroke="#111" stroke-width="0.18">TMEM255B</text>
<text x="326.6" y="59" font-size="6.5" font-family="'Liberation Sans', Arial, sans-serif" text-anchor="start" fill="#111" stroke="#111" stroke-width="0.18">AQP5</text>
<text x="299" y="67" font-size="6.5" font-family="'Liberation Sans', Arial, sans-serif" text-anchor="start" fill="#111" stroke="#111" stroke-width="0.18">CRABP2</text>
<text x="345.4" y="65.4" font-size="6.5" font-family="'Liberation Sans', Arial, sans-serif" text-anchor="start" fill="#111" stroke="#111" stroke-width="0.18">GUCA2A</text>
<text x="323" y="76.6" font-size="6.5" font-family="'Liberation Sans', Arial, sans-serif" text-anchor="start" fill="#111" stroke="#111" stroke-width="0.18">SPOCK2</text>
<text x="366" y="79.4" font-size="6.5" font-family="'Liberation Sans', Arial, sans-serif" text-anchor="start" fill="#111" stroke="#111" stroke-width="0.18">CEACAM7</text>
<text x="302.4" y="84.4" font-size="6.5" font-family="'Liberation Sans', Arial, sans-serif" text-anchor="start" fill="#111" stroke="#111" stroke-width="0.18">PON3</text>
<text x="334" y="86.6" font-size="6.5" font-family="'Liberation Sans', Arial, sans-serif" text-anchor="start" fill="#111" stroke="#111" stroke-width="0.18">CA2</text>
<text x="357" y="90.4" font-size="6.5" font-family="'Liberation Sans', Arial, sans-serif" text-anchor="start" fill="#111" stroke="#111" stroke-width="0.18">SLC26A3</text>
<text x="375" y="105.6" font-size="6.5" font-family="'Liberation Sans', Arial, sans-serif" text-anchor="start" fill="#111" stroke="#111" stroke-width="0.18">PLAC8</text>
<text x="395" y="109" font-size="6.5" font-family="'Liberation Sans', Arial, sans-serif" text-anchor="start" fill="#111" stroke="#111" stroke-width="0.18">RAB3B</text>
<text x="309" y="109.4" font-size="6.5" font-family="'Liberation Sans', Arial, sans-serif" text-anchor="start" fill="#111" stroke="#111" stroke-width="0.18">FSCN1</text>
<text x="387.5" y="124.5" font-size="6.5" font-family="'Liberation Sans', Arial, sans-serif" text-anchor="start" fill="#111" stroke="#111" stroke-width="0.18">TNS3</text>
<text x="398.4" y="141.6" font-size="6.5" font-family="'Liberation Sans', Arial, sans-serif" text-anchor="start" fill="#111" stroke="#111" stroke-width="0.18">TNRC18</text>
<text x="479.6" y="56.6" font-size="6.5" font-family="'Liberation Sans', Arial, sans-serif" text-anchor="start" fill="#111" stroke="#111" stroke-width="0.18">CLDN10</text>
<text x="516" y="68" font-size="6.5" font-family="'Liberation Sans', Arial, sans-serif" text-anchor="start" fill="#111" stroke="#111" stroke-width="0.18">SPIB</text>
<text x="520" y="58.4" font-size="6.5" font-family="'Liberation Sans', Arial, sans-serif" text-anchor="start" fill="#111" stroke="#111" stroke-width="0.18">ALOX5AP</text>
<text x="476.6" y="76" font-size="6.5" font-family="'Liberation Sans', Arial, sans-serif" text-anchor="start" fill="#111" stroke="#111" stroke-width="0.18">NPTX2</text>
<text x="501" y="90.4" font-size="6.5" font-family="'Liberation Sans', Arial, sans-serif" text-anchor="start" fill="#111" stroke="#111" stroke-width="0.18">AF064858.6</text>
<text x="442" y="93.6" font-size="6.5" font-family="'Liberation Sans', Arial, sans-serif" text-anchor="start" fill="#111" stroke="#111" stroke-width="0.18">BEX4</text>
<text x="464" y="102.4" font-size="6.5" font-family="'Liberation Sans', Arial, sans-serif" text-anchor="start" fill="#111" stroke="#111" stroke-width="0.18">BEX2</text>
<text x="419.6" y="105" font-size="6.5" font-family="'Liberation Sans', Arial, sans-serif" text-anchor="start" fill="#111" stroke="#111" stroke-width="0.18">SCRN1</text>
<text x="444" y="115" font-size="6.5" font-family="'Liberation Sans', Arial, sans-serif" text-anchor="start" fill="#111" stroke="#111" stroke-width="0.18">TRIM54</text>
<text x="417" y="120" font-size="6.5" font-family="'Liberation Sans', Arial, sans-serif" text-anchor="start" fill="#111" stroke="#111" stroke-width="0.18">HMGCS2</text>
<text x="481.6" y="113.6" font-size="6.5" font-family="'Liberation Sans', Arial, sans-serif" text-anchor="start" fill="#111" stroke="#111" stroke-width="0.18">CORO1A</text>
<text x="453.6" y="129.6" font-size="6.5" font-family="'Liberation Sans', Arial, sans-serif" text-anchor="start" fill="#111" stroke="#111" stroke-width="0.18">PRAC1</text>
<text x="469.6" y="142.4" font-size="6.5" font-family="'Liberation Sans', Arial, sans-serif" text-anchor="start" fill="#111" stroke="#111" stroke-width="0.18">BEX3</text>
<text x="489.2" y="145.3" font-size="6.5" font-family="'Liberation Sans', Arial, sans-serif" text-anchor="start" fill="#111" stroke="#111" stroke-width="0.18">COL9A3</text>
<text x="559.6" y="33" font-size="6.5" font-family="'Liberation Sans', Arial, sans-serif" text-anchor="start" fill="#111" stroke="#111" stroke-width="0.18">RGS13</text>
<text x="537" y="48" font-size="6.5" font-family="'Liberation Sans', Arial, sans-serif" text-anchor="start" fill="#111" stroke="#111" stroke-width="0.18">LRMP</text>
<text x="559" y="54.6" font-size="6.5" font-family="'Liberation Sans', Arial, sans-serif" text-anchor="start" fill="#111" stroke="#111" stroke-width="0.18">SH2D6</text>
<text x="631" y="48" font-size="6.5" font-family="'Liberation Sans', Arial, sans-serif" text-anchor="start" fill="#111" stroke="#111" stroke-width="0.18">REG1B</text>
<text x="629.4" y="65" font-size="6.5" font-family="'Liberation Sans', Arial, sans-serif" text-anchor="start" fill="#111" stroke="#111" stroke-width="0.18">REG3A</text>
<text x="645.4" y="75.6" font-size="6.5" font-family="'Liberation Sans', Arial, sans-serif" text-anchor="start" fill="#111" stroke="#111" stroke-width="0.18">CPE</text>
<text x="624.4" y="83" font-size="6.5" font-family="'Liberation Sans', Arial, sans-serif" text-anchor="start" fill="#111" stroke="#111" stroke-width="0.18">SEL</text>
<text x="638" y="99.4" font-size="6.5" font-family="'Liberation Sans', Arial, sans-serif" text-anchor="start" fill="#111" stroke="#111" stroke-width="0.18">CLDN</text>
<text x="585.6" y="79.6" font-size="6.5" font-family="'Liberation Sans', Arial, sans-serif" text-anchor="start" fill="#111" stroke="#111" stroke-width="0.18">IGFBP3</text>
<text x="606.6" y="97.4" font-size="6.5" font-family="'Liberation Sans', Arial, sans-serif" text-anchor="start" fill="#111" stroke="#111" stroke-width="0.18">TPRP3</text>
<text x="583" y="107" font-size="6.5" font-family="'Liberation Sans', Arial, sans-serif" text-anchor="start" fill="#111" stroke="#111" stroke-width="0.18">BMP4</text>
<text x="605" y="118" font-size="6.5" font-family="'Liberation Sans', Arial, sans-serif" text-anchor="start" fill="#111" stroke="#111" stroke-width="0.18">AXIN2</text>
<text x="585.6" y="122" font-size="6.5" font-family="'Liberation Sans', Arial, sans-serif" text-anchor="start" fill="#111" stroke="#111" stroke-width="0.18">BMKN</text>
<text x="55" y="238.4" font-size="6.5" font-family="'Liberation Sans', Arial, sans-serif" text-anchor="start" fill="#111" stroke="#111" stroke-width="0.18">RAB13</text>
<text x="44.4" y="250.4" font-size="6.5" font-family="'Liberation Sans', Arial, sans-serif" text-anchor="start" fill="#111" stroke="#111" stroke-width="0.18">ETFB</text>
<text x="35.6" y="264.4" font-size="6.5" font-family="'Liberation Sans', Arial, sans-serif" text-anchor="start" fill="#111" stroke="#111" stroke-width="0.18">NDUFC1</text>
<text x="68.6" y="260.4" font-size="6.5" font-family="'Liberation Sans', Arial, sans-serif" text-anchor="start" fill="#111" stroke="#111" stroke-width="0.18">RSL24D1</text>
<text x="57" y="277" font-size="6.5" font-family="'Liberation Sans', Arial, sans-serif" text-anchor="start" fill="#111" stroke="#111" stroke-width="0.18">C14orf166</text>
<text x="112.6" y="226.6" font-size="6.5" font-family="'Liberation Sans', Arial, sans-serif" text-anchor="start" fill="#111" stroke="#111" stroke-width="0.18">NEDD8</text>
<text x="122" y="239" font-size="6.5" font-family="'Liberation Sans', Arial, sans-serif" text-anchor="start" fill="#111" stroke="#111" stroke-width="0.18">CCDC58</text>
<text x="149" y="239" font-size="6.5" font-family="'Liberation Sans', Arial, sans-serif" text-anchor="start" fill="#111" stroke="#111" stroke-width="0.18">RP11-14N7.2</text>
<text x="104" y="254.4" font-size="6.5" font-family="'Liberation Sans', Arial, sans-serif" text-anchor="start" fill="#111" stroke="#111" stroke-width="0.18">DPEP1</text>
<text x="133" y="262.4" font-size="6.5" font-family="'Liberation Sans', Arial, sans-serif" text-anchor="start" fill="#111" stroke="#111" stroke-width="0.18">NPDC1</text>
<path d="M78.5 75.8L80.5 77.6M98 77.2L96 79M87 99.2L91 101.8M106 108.2L101.5 113M211 97.2L215 100.2M232 90.5L228 95M180 108.3L186 110.2M244.6 103.2L240 107M268 105.5L262.5 107.5M176.4 120.5L171 126M194 125.5L190 123M280 124.2L276 127M304 79L306 83.5M326.4 58.4L321 63M315 67.5L319.5 72.5M322.8 74.6L319 75.2M364 67L367 70.5M366 78L363 84M343 88.4L347.5 88.6M357 90L353 94.5M309 108L305 112.5M425 107.3L420 109.5M443.5 94L437.5 97.5M464 100.5L459 105M481.5 114L477.5 118.5M453.4 127.5L449 124M469.4 141L466 138.5M497 55.6L500 59.5M490 76.6L494 79.5M500.6 84.5L500.6 87M559.4 31.5L555 36M559 51.5L555 47.5M631 47.5L627 51.5M645 66L649 69.5M645 73.5L640 77M630.5 82.5L633 85M638 95.5L634 91.5M585.4 78.8L580.5 84.5M606.4 95.5L602 99.5M605 115.2L601 111M585.4 120.4L580.5 124.5M55 236.5L52 240.5M44.2 249L41 253.5M35.4 260.5L33 258M68.4 256.5L66 253M57 273.5L55 270.5M129.5 227.2L132.5 229.5M133 261L129 264.5M104 251L101 248" stroke="#222" stroke-width="0.55" fill="none"/>
<text x="0.6" y="11.8" font-size="16" font-family="'Liberation Serif', 'Times New Roman', serif" text-anchor="start" fill="#000"  stroke="#000" stroke-width="0.2">A</text>
<text x="0.8" y="315" font-size="16" font-family="'Liberation Serif', 'Times New Roman', serif" text-anchor="start" fill="#000"  stroke="#000" stroke-width="0.2">B</text>
<text x="162.2" y="315" font-size="16" font-family="'Liberation Serif', 'Times New Roman', serif" text-anchor="start" fill="#000"  stroke="#000" stroke-width="0.2">C</text>
<text x="373.6" y="315.4" font-size="16" font-family="'Liberation Serif', 'Times New Roman', serif" text-anchor="start" fill="#000"  stroke="#000" stroke-width="0.2">D</text>
<text x="533.8" y="315.6" font-size="16" font-family="'Liberation Serif', 'Times New Roman', serif" text-anchor="start" fill="#000"  stroke="#000" stroke-width="0.2">E</text>
<text x="18.8" y="502.6" font-size="16" font-family="'Liberation Serif', 'Times New Roman', serif" text-anchor="start" fill="#000"  stroke="#000" stroke-width="0.2">F</text>
<g stroke="#000" stroke-width="1.25" fill="none">
<polyline points="31.3,331.6 31.3,458.4 149,458.4"/>
<line x1="28.8" y1="332" x2="31.3" y2="332"/>
<line x1="28.8" y1="365.8" x2="31.3" y2="365.8"/>
<line x1="28.8" y1="399.6" x2="31.3" y2="399.6"/>
<line x1="28.8" y1="433.4" x2="31.3" y2="433.4"/>
<line x1="70.6" y1="458" x2="70.6" y2="460.6"/>
<line x1="109.8" y1="458" x2="109.8" y2="460.6"/>
</g>
<text x="27.6" y="335" font-size="8.6" font-family="'Liberation Serif', 'Times New Roman', serif" text-anchor="end" fill="#1a1a1a"  stroke="#1a1a1a" stroke-width="0.2">8</text>
<text x="27.6" y="368.8" font-size="8.6" font-family="'Liberation Serif', 'Times New Roman', serif" text-anchor="end" fill="#1a1a1a"  stroke="#1a1a1a" stroke-width="0.2">6</text>
<text x="27.6" y="402.6" font-size="8.6" font-family="'Liberation Serif', 'Times New Roman', serif" text-anchor="end" fill="#1a1a1a"  stroke="#1a1a1a" stroke-width="0.2">4</text>
<text x="27.6" y="436.4" font-size="8.6" font-family="'Liberation Serif', 'Times New Roman', serif" text-anchor="end" fill="#1a1a1a"  stroke="#1a1a1a" stroke-width="0.2">2</text>
<text x="90.8" y="321.6" font-size="8.6" font-family="'Liberation Serif', 'Times New Roman', serif" text-anchor="middle" fill="#111"  stroke="#111" stroke-width="0.2">TCGA COAD</text>
<text transform="translate(19.3 390.3) rotate(-90)" font-size="8.6" font-family="'Liberation Serif', 'Times New Roman', serif" text-anchor="middle" fill="#111" stroke="#111" stroke-width="0.2">Expression of SCRN1</text>
<text x="70.8" y="468.6" font-size="8.6" font-family="'Liberation Serif', 'Times New Roman', serif" text-anchor="middle" fill="#111"  stroke="#111" stroke-width="0.2">Normal</text>
<text x="111.2" y="468.6" font-size="8.6" font-family="'Liberation Serif', 'Times New Roman', serif" text-anchor="middle" fill="#111"  stroke="#111" stroke-width="0.2">Tumor</text>
<text x="87" y="341.2" font-size="12" font-family="'Liberation Serif', 'Times New Roman', serif" text-anchor="middle" fill="#555" stroke="#555" stroke-width="0.55">**</text>
<g stroke="#bc3c29" stroke-width="1.2" fill="none">
<rect x="53.6" y="394.4" width="34.4" height="11.6" fill="#fff"/>
<line x1="53.6" y1="400.6" x2="88" y2="400.6"/>
<line x1="70.8" y1="394.4" x2="70.8" y2="378"/><line x1="70.8" y1="406" x2="70.8" y2="418.6"/>
</g>
<circle cx="70.8" cy="362" r="2" fill="#bc3c29"/><circle cx="70.8" cy="374.6" r="2" fill="#bc3c29"/>
<g stroke="#1f78b4" stroke-width="1.2" fill="none">
<rect x="92.6" y="375.4" width="34.4" height="29" fill="#fff"/>
<line x1="92.6" y1="389.6" x2="127" y2="389.6"/>
<line x1="109.8" y1="375.4" x2="109.8" y2="337.4"/><line x1="109.8" y1="404.4" x2="109.8" y2="449"/>
</g>
<circle cx="109.8" cy="448.6" r="2.1" fill="#1f78b4"/>
<circle cx="109.8" cy="450.6" r="2.1" fill="#1f78b4"/>
<circle cx="109.8" cy="452.4" r="2.1" fill="#1f78b4"/>
<rect x="198" y="315.6" width="69.4" height="11" fill="#d9d9d9"/>
<rect x="278" y="315.6" width="67.6" height="11" fill="#d9d9d9"/>
<text x="227.6" y="324.6" font-size="8.6" font-family="'Liberation Serif', 'Times New Roman', serif" text-anchor="middle" fill="#1a1a1a"  stroke="#1a1a1a" stroke-width="0.2">GSE32323</text>
<text x="308.8" y="324.6" font-size="8.6" font-family="'Liberation Serif', 'Times New Roman', serif" text-anchor="middle" fill="#1a1a1a"  stroke="#1a1a1a" stroke-width="0.2">GSE44076</text>
<text transform="translate(182.6 391) rotate(-90)" font-size="8.6" font-family="'Liberation Serif', 'Times New Roman', serif" text-anchor="middle" fill="#111" stroke="#111" stroke-width="0.2">Expression of SCRN1</text>
<text x="196" y="332.4" font-size="8.6" font-family="'Liberation Serif', 'Times New Roman', serif" text-anchor="end" fill="#1a1a1a"  stroke="#1a1a1a" stroke-width="0.2">11</text>
<text x="196" y="354.8" font-size="8.6" font-family="'Liberation Serif', 'Times New Roman', serif" text-anchor="end" fill="#1a1a1a"  stroke="#1a1a1a" stroke-width="0.2">10</text>
<text x="196" y="377.3" font-size="8.6" font-family="'Liberation Serif', 'Times New Roman', serif" text-anchor="end" fill="#1a1a1a"  stroke="#1a1a1a" stroke-width="0.2">9</text>
<text x="196" y="399.7" font-size="8.6" font-family="'Liberation Serif', 'Times New Roman', serif" text-anchor="end" fill="#1a1a1a"  stroke="#1a1a1a" stroke-width="0.2">8</text>
<text x="196" y="422.2" font-size="8.6" font-family="'Liberation Serif', 'Times New Roman', serif" text-anchor="end" fill="#1a1a1a"  stroke="#1a1a1a" stroke-width="0.2">7</text>
<text x="196" y="444.6" font-size="8.6" font-family="'Liberation Serif', 'Times New Roman', serif" text-anchor="end" fill="#1a1a1a"  stroke="#1a1a1a" stroke-width="0.2">6</text>
<text x="276.4" y="337.4" font-size="8.6" font-family="'Liberation Serif', 'Times New Roman', serif" text-anchor="end" fill="#1a1a1a"  stroke="#1a1a1a" stroke-width="0.2">8</text>
<text x="276.4" y="381.6" font-size="8.6" font-family="'Liberation Serif', 'Times New Roman', serif" text-anchor="end" fill="#1a1a1a"  stroke="#1a1a1a" stroke-width="0.2">6</text>
<text x="276.4" y="425.8" font-size="8.6" font-family="'Liberation Serif', 'Times New Roman', serif" text-anchor="end" fill="#1a1a1a"  stroke="#1a1a1a" stroke-width="0.2">4</text>
<g fill="none" stroke-width="1.2">
<rect x="206.6" y="403.5" width="17.4" height="21.3" stroke="#c9252c"/>
<line x1="206.6" y1="416.9" x2="224" y2="416.9" stroke="#c9252c"/>
<line x1="215" y1="376.5" x2="215" y2="403.5" stroke="#c9252c" stroke-width="1.4"/>
<line x1="215" y1="424.8" x2="215" y2="445" stroke="#c9252c" stroke-width="1.4"/>
<rect x="235.6" y="373.2" width="17" height="32.5" stroke="#3a5a96"/>
<line x1="235.6" y1="388.9" x2="252.6" y2="388.9" stroke="#3a5a96"/>
<line x1="244" y1="333.9" x2="244" y2="373.2" stroke="#3a5a96" stroke-width="1.4"/>
<line x1="244" y1="405.7" x2="244" y2="453.9" stroke="#3a5a96" stroke-width="1.4"/>
</g>
<g stroke="#c8c8c8" stroke-width="0.6" opacity="0.9">
<line x1="215" y1="342.9" x2="244" y2="349.6"/>
<line x1="215" y1="376.5" x2="244" y2="427"/>
<line x1="215" y1="400.1" x2="244" y2="333.9"/>
<line x1="215" y1="403.5" x2="244" y2="336.1"/>
<line x1="215" y1="405.7" x2="244" y2="367.5"/>
<line x1="215" y1="407.9" x2="244" y2="375.4"/>
<line x1="215" y1="418" x2="244" y2="373.2"/>
<line x1="215" y1="419.2" x2="244" y2="388.9"/>
<line x1="215" y1="423.6" x2="244" y2="394.5"/>
<line x1="215" y1="425.9" x2="244" y2="423.6"/>
<line x1="215" y1="429.3" x2="244" y2="405.7"/>
<line x1="215" y1="442.7" x2="244" y2="383.3"/>
<line x1="215" y1="445" x2="244" y2="374.3"/>
<line x1="215" y1="418" x2="244" y2="453.9"/>
<line x1="215" y1="429.3" x2="244" y2="429.3"/>
</g>
<circle cx="215" cy="342.9" r="1.9" fill="#c9252c"/>
<circle cx="215" cy="376.5" r="1.9" fill="#c9252c"/>
<circle cx="215" cy="400.1" r="1.9" fill="#c9252c"/>
<circle cx="215" cy="403.5" r="1.9" fill="#c9252c"/>
<circle cx="215" cy="405.7" r="1.9" fill="#c9252c"/>
<circle cx="215" cy="407.9" r="1.9" fill="#c9252c"/>
<circle cx="215" cy="418" r="1.9" fill="#c9252c"/>
<circle cx="215" cy="419.2" r="1.9" fill="#c9252c"/>
<circle cx="215" cy="423.6" r="1.9" fill="#c9252c"/>
<circle cx="215" cy="425.9" r="1.9" fill="#c9252c"/>
<circle cx="215" cy="429.3" r="1.9" fill="#c9252c"/>
<circle cx="215" cy="442.7" r="1.9" fill="#c9252c"/>
<circle cx="215" cy="445" r="1.9" fill="#c9252c"/>
<circle cx="244" cy="333.9" r="1.9" fill="#3a5a96"/>
<circle cx="244" cy="336.1" r="1.9" fill="#3a5a96"/>
<circle cx="244" cy="353" r="1.9" fill="#3a5a96"/>
<circle cx="244" cy="367.5" r="1.9" fill="#3a5a96"/>
<circle cx="244" cy="373.2" r="1.9" fill="#3a5a96"/>
<circle cx="244" cy="375.4" r="1.9" fill="#3a5a96"/>
<circle cx="244" cy="383.3" r="1.9" fill="#3a5a96"/>
<circle cx="244" cy="388.9" r="1.9" fill="#3a5a96"/>
<circle cx="244" cy="394.5" r="1.9" fill="#3a5a96"/>
<circle cx="244" cy="405.7" r="1.9" fill="#3a5a96"/>
<circle cx="244" cy="423.6" r="1.9" fill="#3a5a96"/>
<circle cx="244" cy="427" r="1.9" fill="#3a5a96"/>
<circle cx="244" cy="429.3" r="1.9" fill="#3a5a96"/>
<circle cx="244" cy="453.9" r="1.9" fill="#3a5a96"/>
<g fill="none" stroke-width="1.2">
<rect x="287" y="406.2" width="18.6" height="22.1" stroke="#c9252c"/>
<line x1="287" y1="419.5" x2="305.6" y2="419.5" stroke="#c9252c"/>
<rect x="317.6" y="366.4" width="19" height="39.8" stroke="#3a5a96"/>
<line x1="317.6" y1="388.5" x2="336.6" y2="388.5" stroke="#3a5a96"/>
<line x1="296.2" y1="360.9" x2="296.2" y2="444.9" stroke="#c9252c" stroke-width="1.4"/>
<line x1="327.2" y1="332.2" x2="327.2" y2="453.7" stroke="#3a5a96" stroke-width="1.4"/>
</g>
<g stroke="#c4c4c4" stroke-width="0.55" opacity="0.8">
<line x1="296.2" y1="360.9" x2="327.2" y2="332.2"/>
<line x1="296.2" y1="444.9" x2="327.2" y2="453.7"/>
<line x1="296.2" y1="419" x2="327.2" y2="336.6"/>
<line x1="296.2" y1="394.3" x2="327.2" y2="361.9"/>
<line x1="296.2" y1="389.2" x2="327.2" y2="373.3"/>
<line x1="296.2" y1="408.2" x2="327.2" y2="387.3"/>
<line x1="296.2" y1="430.9" x2="327.2" y2="399.9"/>
<line x1="296.2" y1="441.2" x2="327.2" y2="421.8"/>
<line x1="296.2" y1="402.3" x2="327.2" y2="373.4"/>
<line x1="296.2" y1="424.3" x2="327.2" y2="345.9"/>
<line x1="296.2" y1="415" x2="327.2" y2="401"/>
<line x1="296.2" y1="413" x2="327.2" y2="397.5"/>
<line x1="296.2" y1="423.8" x2="327.2" y2="404.3"/>
<line x1="296.2" y1="375.9" x2="327.2" y2="347.7"/>
<line x1="296.2" y1="412.7" x2="327.2" y2="369.4"/>
<line x1="296.2" y1="376.1" x2="327.2" y2="353.6"/>
<line x1="296.2" y1="428.6" x2="327.2" y2="343.5"/>
<line x1="296.2" y1="423.5" x2="327.2" y2="380.4"/>
<line x1="296.2" y1="370.7" x2="327.2" y2="365.2"/>
<line x1="296.2" y1="403" x2="327.2" y2="387.5"/>
<line x1="296.2" y1="423.9" x2="327.2" y2="385.5"/>
<line x1="296.2" y1="411.7" x2="327.2" y2="377.3"/>
<line x1="296.2" y1="424.7" x2="327.2" y2="367.2"/>
<line x1="296.2" y1="386.2" x2="327.2" y2="357.9"/>
<line x1="296.2" y1="425.2" x2="327.2" y2="380.5"/>
<line x1="296.2" y1="406.7" x2="327.2" y2="403.2"/>
<line x1="296.2" y1="425.3" x2="327.2" y2="373.4"/>
<line x1="296.2" y1="418.1" x2="327.2" y2="398.1"/>
<line x1="296.2" y1="411.9" x2="327.2" y2="385.1"/>
<line x1="296.2" y1="416.2" x2="327.2" y2="433.4"/>
<line x1="296.2" y1="381.4" x2="327.2" y2="349.1"/>
<line x1="296.2" y1="433.6" x2="327.2" y2="383.3"/>
<line x1="296.2" y1="410" x2="327.2" y2="382"/>
<line x1="296.2" y1="395.3" x2="327.2" y2="354.9"/>
<line x1="296.2" y1="384.6" x2="327.2" y2="380.7"/>
<line x1="296.2" y1="426.6" x2="327.2" y2="380.9"/>
<line x1="296.2" y1="421.5" x2="327.2" y2="363.9"/>
<line x1="296.2" y1="395.4" x2="327.2" y2="354.3"/>
<line x1="296.2" y1="369.4" x2="327.2" y2="381.6"/>
<line x1="296.2" y1="444.7" x2="327.2" y2="445.3"/>
<line x1="296.2" y1="378" x2="327.2" y2="369.7"/>
<line x1="296.2" y1="421" x2="327.2" y2="399.3"/>
<line x1="296.2" y1="404.8" x2="327.2" y2="365.6"/>
<line x1="296.2" y1="410.8" x2="327.2" y2="412.5"/>
<line x1="296.2" y1="412.9" x2="327.2" y2="379"/>
<line x1="296.2" y1="391.7" x2="327.2" y2="366.5"/>
<line x1="296.2" y1="428.3" x2="327.2" y2="391.2"/>
<line x1="296.2" y1="436.9" x2="327.2" y2="432.6"/>
<line x1="296.2" y1="410.4" x2="327.2" y2="334.3"/>
<line x1="296.2" y1="401" x2="327.2" y2="346.9"/>
<line x1="296.2" y1="411.4" x2="327.2" y2="377.3"/>
<line x1="296.2" y1="425.1" x2="327.2" y2="404"/>
<line x1="296.2" y1="440.1" x2="327.2" y2="442.3"/>
<line x1="296.2" y1="399.5" x2="327.2" y2="356.5"/>
<line x1="296.2" y1="393.5" x2="327.2" y2="372.9"/>
<line x1="296.2" y1="395.2" x2="327.2" y2="367.8"/>
<line x1="296.2" y1="394.6" x2="327.2" y2="370.8"/>
<line x1="296.2" y1="413.8" x2="327.2" y2="405.2"/>
<line x1="296.2" y1="414" x2="327.2" y2="397.1"/>
<line x1="296.2" y1="409.8" x2="327.2" y2="431.8"/>
<line x1="296.2" y1="374.7" x2="327.2" y2="355.2"/>
<line x1="296.2" y1="434.3" x2="327.2" y2="406.5"/>
<line x1="296.2" y1="402.7" x2="327.2" y2="365.3"/>
<line x1="296.2" y1="408.2" x2="327.2" y2="426.3"/>
<line x1="296.2" y1="438.7" x2="327.2" y2="379.9"/>
<line x1="296.2" y1="411.4" x2="327.2" y2="419.1"/>
<line x1="296.2" y1="433.4" x2="327.2" y2="439.4"/>
<line x1="296.2" y1="436.5" x2="327.2" y2="381.4"/>
<line x1="296.2" y1="420.6" x2="327.2" y2="366.7"/>
<line x1="296.2" y1="412.4" x2="327.2" y2="420.1"/>
<line x1="296.2" y1="429.2" x2="327.2" y2="347.7"/>
<line x1="296.2" y1="431.6" x2="327.2" y2="428.7"/>
<line x1="296.2" y1="391.2" x2="327.2" y2="361.5"/>
<line x1="296.2" y1="416.3" x2="327.2" y2="354"/>
<line x1="296.2" y1="407.7" x2="327.2" y2="405"/>
<line x1="296.2" y1="444.6" x2="327.2" y2="436.2"/>
<line x1="296.2" y1="392.8" x2="327.2" y2="368.5"/>
<line x1="296.2" y1="438.7" x2="327.2" y2="374.9"/>
<line x1="296.2" y1="395.4" x2="327.2" y2="393.6"/>
<line x1="296.2" y1="366.9" x2="327.2" y2="348"/>
<line x1="296.2" y1="440.4" x2="327.2" y2="416"/>
<line x1="296.2" y1="397.1" x2="327.2" y2="345.1"/>
<line x1="296.2" y1="424.9" x2="327.2" y2="410.5"/>
<line x1="296.2" y1="417.7" x2="327.2" y2="404.2"/>
<line x1="296.2" y1="411.2" x2="327.2" y2="413.6"/>
<line x1="296.2" y1="426.7" x2="327.2" y2="420"/>
<line x1="296.2" y1="440.6" x2="327.2" y2="441.1"/>
<line x1="296.2" y1="436.9" x2="327.2" y2="437.3"/>
<line x1="296.2" y1="404.6" x2="327.2" y2="374.6"/>
<line x1="296.2" y1="443" x2="327.2" y2="403.2"/>
<line x1="296.2" y1="410.3" x2="327.2" y2="348"/>
<line x1="296.2" y1="420.1" x2="327.2" y2="397.5"/>
<line x1="296.2" y1="430.2" x2="327.2" y2="399.6"/>
<line x1="296.2" y1="406.1" x2="327.2" y2="374.4"/>
<line x1="296.2" y1="421.3" x2="327.2" y2="380.3"/>
<line x1="296.2" y1="414.3" x2="327.2" y2="380.8"/>
<line x1="296.2" y1="435.2" x2="327.2" y2="402.6"/>
<line x1="296.2" y1="436.4" x2="327.2" y2="428.8"/>
</g>
<path d="M296.2 360.9h0M296.2 444.9h0M296.2 419h0M296.2 394.3h0M296.2 389.2h0M296.2 408.2h0M296.2 430.9h0M296.2 441.2h0M296.2 402.3h0M296.2 424.3h0M296.2 415h0M296.2 413h0M296.2 423.8h0M296.2 375.9h0M296.2 412.7h0M296.2 376.1h0M296.2 428.6h0M296.2 423.5h0M296.2 370.7h0M296.2 403h0M296.2 423.9h0M296.2 411.7h0M296.2 424.7h0M296.2 386.2h0M296.2 425.2h0M296.2 406.7h0M296.2 425.3h0M296.2 418.1h0M296.2 411.9h0M296.2 416.2h0M296.2 381.4h0M296.2 433.6h0M296.2 410h0M296.2 395.3h0M296.2 384.6h0M296.2 426.6h0M296.2 421.5h0M296.2 395.4h0M296.2 369.4h0M296.2 444.7h0M296.2 378h0M296.2 421h0M296.2 404.8h0M296.2 410.8h0M296.2 412.9h0M296.2 391.7h0M296.2 428.3h0M296.2 436.9h0M296.2 410.4h0M296.2 401h0M296.2 411.4h0M296.2 425.1h0M296.2 440.1h0M296.2 399.5h0M296.2 393.5h0M296.2 395.2h0M296.2 394.6h0M296.2 413.8h0M296.2 414h0M296.2 409.8h0M296.2 374.7h0M296.2 434.3h0M296.2 402.7h0M296.2 408.2h0M296.2 438.7h0M296.2 411.4h0M296.2 433.4h0M296.2 436.5h0M296.2 420.6h0M296.2 412.4h0M296.2 429.2h0M296.2 431.6h0M296.2 391.2h0M296.2 416.3h0M296.2 407.7h0M296.2 444.6h0M296.2 392.8h0M296.2 438.7h0M296.2 395.4h0M296.2 366.9h0M296.2 440.4h0M296.2 397.1h0M296.2 424.9h0M296.2 417.7h0M296.2 411.2h0M296.2 426.7h0M296.2 440.6h0M296.2 436.9h0M296.2 404.6h0M296.2 443h0M296.2 410.3h0M296.2 420.1h0M296.2 430.2h0M296.2 406.1h0M296.2 421.3h0M296.2 414.3h0M296.2 435.2h0M296.2 436.4h0" stroke="#c9252c" stroke-width="3.3" stroke-linecap="round"/>
<path d="M327.2 332.2h0M327.2 453.7h0M327.2 336.6h0M327.2 361.9h0M327.2 373.3h0M327.2 387.3h0M327.2 399.9h0M327.2 421.8h0M327.2 373.4h0M327.2 345.9h0M327.2 401h0M327.2 397.5h0M327.2 404.3h0M327.2 347.7h0M327.2 369.4h0M327.2 353.6h0M327.2 343.5h0M327.2 380.4h0M327.2 365.2h0M327.2 387.5h0M327.2 385.5h0M327.2 377.3h0M327.2 367.2h0M327.2 357.9h0M327.2 380.5h0M327.2 403.2h0M327.2 373.4h0M327.2 398.1h0M327.2 385.1h0M327.2 433.4h0M327.2 349.1h0M327.2 383.3h0M327.2 382h0M327.2 354.9h0M327.2 380.7h0M327.2 380.9h0M327.2 363.9h0M327.2 354.3h0M327.2 381.6h0M327.2 445.3h0M327.2 369.7h0M327.2 399.3h0M327.2 365.6h0M327.2 412.5h0M327.2 379h0M327.2 366.5h0M327.2 391.2h0M327.2 432.6h0M327.2 334.3h0M327.2 346.9h0M327.2 377.3h0M327.2 404h0M327.2 442.3h0M327.2 356.5h0M327.2 372.9h0M327.2 367.8h0M327.2 370.8h0M327.2 405.2h0M327.2 397.1h0M327.2 431.8h0M327.2 355.2h0M327.2 406.5h0M327.2 365.3h0M327.2 426.3h0M327.2 379.9h0M327.2 419.1h0M327.2 439.4h0M327.2 381.4h0M327.2 366.7h0M327.2 420.1h0M327.2 347.7h0M327.2 428.7h0M327.2 361.5h0M327.2 354h0M327.2 405h0M327.2 436.2h0M327.2 368.5h0M327.2 374.9h0M327.2 393.6h0M327.2 348h0M327.2 416h0M327.2 345.1h0M327.2 410.5h0M327.2 404.2h0M327.2 413.6h0M327.2 420h0M327.2 441.1h0M327.2 437.3h0M327.2 374.6h0M327.2 403.2h0M327.2 348h0M327.2 397.5h0M327.2 399.6h0M327.2 374.4h0M327.2 380.3h0M327.2 380.8h0M327.2 402.6h0M327.2 428.8h0" stroke="#3a5a96" stroke-width="3.3" stroke-linecap="round"/>
<g stroke="#2a2a2a" stroke-width="1.4" fill="none">
<polyline points="198,327 198,460.4 261,460.4"/>
<polyline points="278.4,327 278.4,460.4 345.6,460.4"/>
<line x1="196.4" y1="329.4" x2="198" y2="329.4"/>
<line x1="196.4" y1="351.8" x2="198" y2="351.8"/>
<line x1="196.4" y1="374.3" x2="198" y2="374.3"/>
<line x1="196.4" y1="396.7" x2="198" y2="396.7"/>
<line x1="196.4" y1="419.2" x2="198" y2="419.2"/>
<line x1="196.4" y1="441.6" x2="198" y2="441.6"/>
<line x1="276.8" y1="334.4" x2="278.4" y2="334.4"/>
<line x1="276.8" y1="378.6" x2="278.4" y2="378.6"/>
<line x1="276.8" y1="422.8" x2="278.4" y2="422.8"/>
<line x1="215" y1="460.4" x2="215" y2="462.4"/>
<line x1="244" y1="460.4" x2="244" y2="462.4"/>
<line x1="296.2" y1="460.4" x2="296.2" y2="462.4"/>
<line x1="327.2" y1="460.4" x2="327.2" y2="462.4"/>
</g>
<text x="229" y="337.2" font-size="11" font-family="'Liberation Serif', 'Times New Roman', serif" text-anchor="middle" fill="#555" stroke="#555" stroke-width="0.7">*</text>
<text x="314.3" y="337.2" font-size="12" font-family="'Liberation Serif', 'Times New Roman', serif" text-anchor="middle" fill="#555" stroke="#555" stroke-width="0.55">****</text>
<text x="211.2" y="470" font-size="8.6" font-family="'Liberation Serif', 'Times New Roman', serif" text-anchor="middle" fill="#111"  stroke="#111" stroke-width="0.2">Normal</text>
<text x="244.8" y="470" font-size="8.6" font-family="'Liberation Serif', 'Times New Roman', serif" text-anchor="middle" fill="#111"  stroke="#111" stroke-width="0.2">Tumor</text>
<text x="296.3" y="470" font-size="8.6" font-family="'Liberation Serif', 'Times New Roman', serif" text-anchor="middle" fill="#111"  stroke="#111" stroke-width="0.2">Normal</text>
<text x="326" y="470" font-size="8.6" font-family="'Liberation Serif', 'Times New Roman', serif" text-anchor="middle" fill="#111"  stroke="#111" stroke-width="0.2">Tumor</text>
<g stroke="#111" stroke-width="1.3" fill="none">
<polyline points="391,348 391,459.4 513,459.4"/>
<line x1="389" y1="455" x2="391" y2="455"/>
<line x1="389" y1="429.5" x2="391" y2="429.5"/>
<line x1="389" y1="404" x2="391" y2="404"/>
<line x1="389" y1="378.5" x2="391" y2="378.5"/>
<line x1="389" y1="353" x2="391" y2="353"/>
<line x1="395.6" y1="459.4" x2="395.6" y2="461.6"/>
<line x1="433.1" y1="459.4" x2="433.1" y2="461.6"/>
<line x1="470.6" y1="459.4" x2="470.6" y2="461.6"/>
<line x1="508.1" y1="459.4" x2="508.1" y2="461.6"/>
</g>
<text x="387.2" y="458" font-size="8.6" font-family="'Liberation Serif', 'Times New Roman', serif" text-anchor="end" fill="#1a1a1a"  stroke="#1a1a1a" stroke-width="0.2">0.00</text>
<text x="387.2" y="432.5" font-size="8.6" font-family="'Liberation Serif', 'Times New Roman', serif" text-anchor="end" fill="#1a1a1a"  stroke="#1a1a1a" stroke-width="0.2">0.25</text>
<text x="387.2" y="407" font-size="8.6" font-family="'Liberation Serif', 'Times New Roman', serif" text-anchor="end" fill="#1a1a1a"  stroke="#1a1a1a" stroke-width="0.2">0.50</text>
<text x="387.2" y="381.5" font-size="8.6" font-family="'Liberation Serif', 'Times New Roman', serif" text-anchor="end" fill="#1a1a1a"  stroke="#1a1a1a" stroke-width="0.2">0.75</text>
<text x="387.2" y="356" font-size="8.6" font-family="'Liberation Serif', 'Times New Roman', serif" text-anchor="end" fill="#1a1a1a"  stroke="#1a1a1a" stroke-width="0.2">1.00</text>
<text x="395.6" y="468.6" font-size="8.6" font-family="'Liberation Serif', 'Times New Roman', serif" text-anchor="middle" fill="#1a1a1a"  stroke="#1a1a1a" stroke-width="0.2">0</text>
<text x="433.1" y="468.6" font-size="8.6" font-family="'Liberation Serif', 'Times New Roman', serif" text-anchor="middle" fill="#1a1a1a"  stroke="#1a1a1a" stroke-width="0.2">50</text>
<text x="470.6" y="468.6" font-size="8.6" font-family="'Liberation Serif', 'Times New Roman', serif" text-anchor="middle" fill="#1a1a1a"  stroke="#1a1a1a" stroke-width="0.2">100</text>
<text x="508.1" y="468.6" font-size="8.6" font-family="'Liberation Serif', 'Times New Roman', serif" text-anchor="middle" fill="#1a1a1a"  stroke="#1a1a1a" stroke-width="0.2">150</text>
<text x="442.3" y="327.5" font-size="8.6" font-family="'Liberation Serif', 'Times New Roman', serif" text-anchor="middle" fill="#111"  stroke="#111" stroke-width="0.2">TCGA COAD</text>
<text x="391" y="339.4" font-size="8.6" font-family="'Liberation Serif', 'Times New Roman', serif" text-anchor="start" fill="#111"  stroke="#111" stroke-width="0.2">SCRN1 Level</text>
<text x="453" y="339.4" font-size="8.6" font-family="'Liberation Serif', 'Times New Roman', serif" text-anchor="start" fill="#111"  stroke="#111" stroke-width="0.2">High</text>
<text x="479.4" y="339.4" font-size="8.6" font-family="'Liberation Serif', 'Times New Roman', serif" text-anchor="start" fill="#111"  stroke="#111" stroke-width="0.2">Low</text>
<path d="M444.8 336.6h5.2M447.4 334v5.2" stroke="#e88a8a" stroke-width="0.9"/>
<path d="M473 336.6h5.2M475.6 334v5.2" stroke="#7f9cc8" stroke-width="0.9"/>
<text transform="translate(369.6 405.5) rotate(-90)" font-size="8.6" font-family="'Liberation Serif', 'Times New Roman', serif" text-anchor="middle" fill="#111" stroke="#111" stroke-width="0.2">OS  probability</text>
<text x="395.6" y="428.6" font-size="9.1" font-family="'Liberation Serif', 'Times New Roman', serif" text-anchor="start" fill="#111"  stroke="#111" stroke-width="0.2">Log-rank</text>
<text x="395.6" y="440" font-size="9.1" font-family="'Liberation Serif', 'Times New Roman', serif" text-anchor="start" fill="#111"  stroke="#111" stroke-width="0.2">p = 0.01</text>
<text x="395.6" y="452.9" font-size="8.6" font-family="'Liberation Serif', 'Times New Roman', serif" text-anchor="start" fill="#111"  stroke="#111" stroke-width="0.2">HR=2.523, 95%CI (1.213, 5.247)</text>
<text x="457.8" y="479.4" font-size="8.6" font-family="'Liberation Serif', 'Times New Roman', serif" text-anchor="middle" fill="#111"  stroke="#111" stroke-width="0.2">Time (Month)</text>
<path d="M397.3 353H398.5V354.2H399.8V355.3H401V356.5H402V357.7H403V358.8H404V360H405V361.2H406V362.4H407V363.5H408V364.7H409.3V365.8H410.7V366.9H412V368H413.9V369.2H415.7V370.4H417.6V371.6H420.8V372.7H424V373.8H425.6V375.9H427.2V378H429.3V380.7H431.4V383.4H435.7V386.6H437.9V388.8H440V391H442V394H444V397H446.2V399.2H448.5V401.5H450V404H457.5V404H457.5V407.4H471.7V407.4H471.7V415.1H509V415.1" stroke="#c8202d" stroke-width="1.4" fill="none"/>
<path d="M398.3 356.5h4.2M400.4 354.4v4.2M400.5 358.8h4.2M402.6 356.7v4.2M405 364.7h4.2M407.1 362.6v4.2M396.2 354.2h4.2M398.3 352.1v4.2M399.1 357.7h4.2M401.2 355.6v4.2M420.2 373.8h4.2M422.3 371.7v4.2M412.7 370.4h4.2M414.8 368.3v4.2M406.1 365.8h4.2M408.2 363.7v4.2M405.8 364.7h4.2M407.9 362.6v4.2M403.6 362.4h4.2M405.7 360.2v4.2M406 365.8h4.2M408.1 363.7v4.2M409.4 368h4.2M411.5 365.9v4.2M398.9 357.7h4.2M401 355.6v4.2M412.6 370.4h4.2M414.7 368.3v4.2M408.4 366.9h4.2M410.5 364.8v4.2M408.5 366.9h4.2M410.6 364.8v4.2M401.7 360h4.2M403.8 357.9v4.2M402.8 361.2h4.2M404.9 359.1v4.2M413.8 371.6h4.2M415.9 369.5v4.2M396.7 355.3h4.2M398.8 353.2v4.2M420.1 373.8h4.2M422.2 371.7v4.2M405.2 364.7h4.2M407.3 362.6v4.2M403.3 362.4h4.2M405.4 360.2v4.2M400.5 358.8h4.2M402.6 356.7v4.2M404.8 363.5h4.2M406.9 361.4v4.2M407.1 365.8h4.2M409.2 363.7v4.2M413.6 370.4h4.2M415.7 368.3v4.2M406.1 365.8h4.2M408.2 363.7v4.2M413.6 370.4h4.2M415.7 368.3v4.2M414.7 371.6h4.2M416.8 369.5v4.2M407.5 366.9h4.2M409.6 364.8v4.2M412.8 370.4h4.2M414.9 368.3v4.2M399 357.7h4.2M401.1 355.6v4.2M413.6 370.4h4.2M415.7 368.3v4.2M396.2 354.2h4.2M398.3 352.1v4.2M401.1 360h4.2M403.2 357.9v4.2M399.7 357.7h4.2M401.8 355.6v4.2M413.7 371.6h4.2M415.8 369.5v4.2M404.9 364.7h4.2M407 362.6v4.2M407.7 366.9h4.2M409.8 364.8v4.2M415.5 371.6h4.2M417.6 369.5v4.2M403.9 362.4h4.2M406 360.2v4.2M399 357.7h4.2M401.1 355.6v4.2M404.9 364.7h4.2M407 362.6v4.2M398.2 356.5h4.2M400.3 354.4v4.2M428.6 383.4h4.2M430.7 381.3v4.2M436.4 391h4.2M438.5 388.9v4.2M438.7 394h4.2M440.8 391.9v4.2M439.2 394h4.2M441.3 391.9v4.2M442.1 399.2h4.2M444.2 397.1v4.2M442.5 399.2h4.2M444.6 397.1v4.2M433.3 386.6h4.2M435.4 384.5v4.2M434.7 388.8h4.2M436.8 386.7v4.2M424.8 378h4.2M426.9 375.9v4.2M435.8 391h4.2M437.9 388.9v4.2M427.3 383.4h4.2M429.4 381.3v4.2M440.6 397h4.2M442.7 394.9v4.2M445.7 401.5h4.2M447.8 399.4v4.2M424.4 378h4.2M426.5 375.9v4.2M425 378h4.2M427.1 375.9v4.2M448.4 404h4.2M450.5 401.9v4.2M449.9 404h4.2M452 401.9v4.2M452.4 404h4.2M454.5 401.9v4.2M453.9 404h4.2M456 401.9v4.2M458.9 407.4h4.2M461 405.3v4.2M461.4 407.4h4.2M463.5 405.3v4.2M463.9 407.4h4.2M466 405.3v4.2M466.9 407.4h4.2M469 405.3v4.2M476.9 415.1h4.2M479 413v4.2M482.9 415.1h4.2M485 413v4.2M500.4 415.1h4.2M502.5 413v4.2M506.4 415.1h4.2M508.5 413v4.2" stroke="#c8202d" stroke-width="0.8" fill="none"/>
<path d="M397.3 353H399.5V355.7H416.5V359H418V364.2H426V369H459.2V379.6H466.3V390.3H499.7V390.3" stroke="#34589a" stroke-width="1.4" fill="none"/>
<path d="M395.9 353h4.2M398 350.9v4.2M399.9 355.7h4.2M402 353.6v4.2M404.9 355.7h4.2M407 353.6v4.2M406.9 355.7h4.2M409 353.6v4.2M408.4 355.7h4.2M410.5 353.6v4.2M409.9 355.7h4.2M412 353.6v4.2M411.4 355.7h4.2M413.5 353.6v4.2M412.9 355.7h4.2M415 353.6v4.2M417.9 364.2h4.2M420 362.1v4.2M419.4 364.2h4.2M421.5 362.1v4.2M420.9 364.2h4.2M423 362.1v4.2M425.4 369h4.2M427.5 366.9v4.2M428.9 369h4.2M431 366.9v4.2M433.9 369h4.2M436 366.9v4.2M436.4 369h4.2M438.5 366.9v4.2M438.9 369h4.2M441 366.9v4.2M440.9 369h4.2M443 366.9v4.2M444.9 369h4.2M447 366.9v4.2M446.9 369h4.2M449 366.9v4.2M450.9 369h4.2M453 366.9v4.2M454.9 369h4.2M457 366.9v4.2M469.7 390.3h4.2M471.8 388.2v4.2M485.3 390.3h4.2M487.4 388.2v4.2M493.7 390.3h4.2M495.8 388.2v4.2M495.1 390.3h4.2M497.2 388.2v4.2M497 390.3h4.2M499.1 388.2v4.2" stroke="#34589a" stroke-width="0.8" fill="none"/>
<g stroke="#111" stroke-width="1.3" fill="none">
<polyline points="553.0,348 553.0,459.4 668,459.4"/>
<line x1="551.0" y1="455" x2="553.0" y2="455"/>
<line x1="551.0" y1="429.5" x2="553.0" y2="429.5"/>
<line x1="551.0" y1="404" x2="553.0" y2="404"/>
<line x1="551.0" y1="378.5" x2="553.0" y2="378.5"/>
<line x1="551.0" y1="353" x2="553.0" y2="353"/>
<line x1="558.6" y1="459.4" x2="558.6" y2="461.6"/>
<line x1="584.5" y1="459.4" x2="584.5" y2="461.6"/>
<line x1="610.3" y1="459.4" x2="610.3" y2="461.6"/>
<line x1="636.2" y1="459.4" x2="636.2" y2="461.6"/>
<line x1="662" y1="459.4" x2="662" y2="461.6"/>
</g>
<text x="549.2" y="458" font-size="8.6" font-family="'Liberation Serif', 'Times New Roman', serif" text-anchor="end" fill="#1a1a1a"  stroke="#1a1a1a" stroke-width="0.2">0.00</text>
<text x="549.2" y="432.5" font-size="8.6" font-family="'Liberation Serif', 'Times New Roman', serif" text-anchor="end" fill="#1a1a1a"  stroke="#1a1a1a" stroke-width="0.2">0.25</text>
<text x="549.2" y="407" font-size="8.6" font-family="'Liberation Serif', 'Times New Roman', serif" text-anchor="end" fill="#1a1a1a"  stroke="#1a1a1a" stroke-width="0.2">0.50</text>
<text x="549.2" y="381.5" font-size="8.6" font-family="'Liberation Serif', 'Times New Roman', serif" text-anchor="end" fill="#1a1a1a"  stroke="#1a1a1a" stroke-width="0.2">0.75</text>
<text x="549.2" y="356" font-size="8.6" font-family="'Liberation Serif', 'Times New Roman', serif" text-anchor="end" fill="#1a1a1a"  stroke="#1a1a1a" stroke-width="0.2">1.00</text>
<text x="558.6" y="468.6" font-size="8.6" font-family="'Liberation Serif', 'Times New Roman', serif" text-anchor="middle" fill="#1a1a1a"  stroke="#1a1a1a" stroke-width="0.2">0</text>
<text x="584.5" y="468.6" font-size="8.6" font-family="'Liberation Serif', 'Times New Roman', serif" text-anchor="middle" fill="#1a1a1a"  stroke="#1a1a1a" stroke-width="0.2">30</text>
<text x="610.3" y="468.6" font-size="8.6" font-family="'Liberation Serif', 'Times New Roman', serif" text-anchor="middle" fill="#1a1a1a"  stroke="#1a1a1a" stroke-width="0.2">60</text>
<text x="636.2" y="468.6" font-size="8.6" font-family="'Liberation Serif', 'Times New Roman', serif" text-anchor="middle" fill="#1a1a1a"  stroke="#1a1a1a" stroke-width="0.2">90</text>
<text x="662" y="468.6" font-size="8.6" font-family="'Liberation Serif', 'Times New Roman', serif" text-anchor="middle" fill="#1a1a1a"  stroke="#1a1a1a" stroke-width="0.2">120</text>
<text x="600" y="327.5" font-size="8.6" font-family="'Liberation Serif', 'Times New Roman', serif" text-anchor="middle" fill="#111"  stroke="#111" stroke-width="0.2">GSE17537</text>
<text x="547.6" y="339.4" font-size="8.6" font-family="'Liberation Serif', 'Times New Roman', serif" text-anchor="start" fill="#111"  stroke="#111" stroke-width="0.2">SCRN1 Level</text>
<text x="609.6" y="339.4" font-size="8.6" font-family="'Liberation Serif', 'Times New Roman', serif" text-anchor="start" fill="#111"  stroke="#111" stroke-width="0.2">High</text>
<text x="636" y="339.4" font-size="8.6" font-family="'Liberation Serif', 'Times New Roman', serif" text-anchor="start" fill="#111"  stroke="#111" stroke-width="0.2">Low</text>
<path d="M601.4 336.6h5.2M604 334v5.2" stroke="#e88a8a" stroke-width="0.9"/>
<path d="M629.6 336.6h5.2M632.2 334v5.2" stroke="#7f9cc8" stroke-width="0.9"/>
<text transform="translate(531.6 405.5) rotate(-90)" font-size="8.6" font-family="'Liberation Serif', 'Times New Roman', serif" text-anchor="middle" fill="#111" stroke="#111" stroke-width="0.2">OS  probability</text>
<text x="555.6" y="428.6" font-size="9.1" font-family="'Liberation Serif', 'Times New Roman', serif" text-anchor="start" fill="#111"  stroke="#111" stroke-width="0.2">Log-rank</text>
<text x="555.6" y="440" font-size="9.1" font-family="'Liberation Serif', 'Times New Roman', serif" text-anchor="start" fill="#111"  stroke="#111" stroke-width="0.2">p = 0.047</text>
<text x="555.6" y="452.9" font-size="8.6" font-family="'Liberation Serif', 'Times New Roman', serif" text-anchor="start" fill="#111"  stroke="#111" stroke-width="0.2">HR=3.932, 95%CI (1.002, 16.955)</text>
<text x="613.8" y="479.4" font-size="8.6" font-family="'Liberation Serif', 'Times New Roman', serif" text-anchor="middle" fill="#111"  stroke="#111" stroke-width="0.2">Time (Month)</text>
<path d="M559 352.7H561.2V355.4H562.9V357.6H564V359.8H565V362.5H566.1V365.3H569.4V365.3H570.5V368H572.2V371.3H573.3V374H574.9V376.2H576.5V377.8H578.7V381.1H584.8V381.1H585.8V383.9H586.9V386.1H588.6V387.7H590.8V389.3H593.5V389.3H594.6V391H597.9V392.1H599.5V394.3H600.6V396.5H656V396.5" stroke="#c8202d" stroke-width="1.4" fill="none"/>
<path d="M599.4 396.5h4.2M601.5 394.4v4.2M600.9 396.5h4.2M603 394.4v4.2M602.4 396.5h4.2M604.5 394.4v4.2M603.9 396.5h4.2M606 394.4v4.2M605.4 396.5h4.2M607.5 394.4v4.2M607.4 396.5h4.2M609.5 394.4v4.2M609.9 396.5h4.2M612 394.4v4.2M612.9 396.5h4.2M615 394.4v4.2M615.9 396.5h4.2M618 394.4v4.2M617.9 396.5h4.2M620 394.4v4.2M619.4 396.5h4.2M621.5 394.4v4.2M621.9 396.5h4.2M624 394.4v4.2M653.5 396.5h4.2M655.6 394.4v4.2" stroke="#c8202d" stroke-width="0.8" fill="none"/>
<path d="M558.3 352.6H565V359.2H586.6V365.8H625.3V365.8" stroke="#34589a" stroke-width="1.4" fill="none"/>
<path d="M591.6 365.8h4.2M593.7 363.7v4.2M596.5 365.8h4.2M598.6 363.7v4.2M599.4 365.8h4.2M601.5 363.7v4.2M600.9 365.8h4.2M603 363.7v4.2M602.4 365.8h4.2M604.5 363.7v4.2M607.9 365.8h4.2M610 363.7v4.2M609.4 365.8h4.2M611.5 363.7v4.2M611.4 365.8h4.2M613.5 363.7v4.2M614.9 365.8h4.2M617 363.7v4.2M623.2 365.8h4.2M625.3 363.7v4.2" stroke="#34589a" stroke-width="0.8" fill="none"/>
<text x="44.4" y="535" font-size="9.8" font-family="'Liberation Serif', 'Times New Roman', serif" text-anchor="end" fill="#1a1a1a"  stroke="#1a1a1a" stroke-width="0.2">SCRN1</text>
<rect x="55.4" y="518.4" width="36.3" height="29" fill="#dc3c31" stroke="#111" stroke-width="1"/>
<text x="75.3" y="540.3" font-size="13.5" font-family="'Liberation Serif', 'Times New Roman', serif" text-anchor="middle" fill="#2a2a2a" letter-spacing="1.2" stroke="#2a2a2a" stroke-width="0.2">**</text>
<text transform="translate(70.2 551.4) rotate(90)" font-size="9.7" font-family="'Liberation Serif', 'Times New Roman', serif" fill="#222" stroke="#222" stroke-width="0.2">Angiogenesis</text>
<rect x="91.7" y="518.4" width="36.3" height="29" fill="#f4aea0" stroke="#111" stroke-width="1"/>
<text x="111.6" y="540.3" font-size="13.5" font-family="'Liberation Serif', 'Times New Roman', serif" text-anchor="middle" fill="#2a2a2a" letter-spacing="1.2" stroke="#2a2a2a" stroke-width="0.2">**</text>
<text transform="translate(106.5 551.4) rotate(90)" font-size="9.7" font-family="'Liberation Serif', 'Times New Roman', serif" fill="#222" stroke="#222" stroke-width="0.2">Apoptosis</text>
<rect x="128" y="518.4" width="36.3" height="29" fill="#f5f6fb" stroke="#111" stroke-width="1"/>
<text transform="translate(142.8 551.4) rotate(90)" font-size="9.7" font-family="'Liberation Serif', 'Times New Roman', serif" fill="#222" stroke="#222" stroke-width="0.2">Cell Cycle</text>
<rect x="164.3" y="518.4" width="36.3" height="29" fill="#fde6e1" stroke="#111" stroke-width="1"/>
<text transform="translate(179.1 551.4) rotate(90)" font-size="9.7" font-family="'Liberation Serif', 'Times New Roman', serif" fill="#222" stroke="#222" stroke-width="0.2">Differentiation</text>
<rect x="200.6" y="518.4" width="36.3" height="29" fill="#fbd6cc" stroke="#111" stroke-width="1"/>
<text transform="translate(215.4 551.4) rotate(90)" font-size="9.7" font-family="'Liberation Serif', 'Times New Roman', serif" fill="#222" stroke="#222" stroke-width="0.2">DNA damage</text>
<rect x="236.9" y="518.4" width="36.3" height="29" fill="#fdeeea" stroke="#111" stroke-width="1"/>
<text transform="translate(251.8 551.4) rotate(90)" font-size="9.7" font-family="'Liberation Serif', 'Times New Roman', serif" fill="#222" stroke="#222" stroke-width="0.2">DNA repair</text>
<rect x="273.2" y="518.4" width="36.3" height="29" fill="#dd3e33" stroke="#111" stroke-width="1"/>
<text x="293.1" y="540.3" font-size="13.5" font-family="'Liberation Serif', 'Times New Roman', serif" text-anchor="middle" fill="#2a2a2a" letter-spacing="1.2" stroke="#2a2a2a" stroke-width="0.2">**</text>
<text transform="translate(288 551.4) rotate(90)" font-size="9.7" font-family="'Liberation Serif', 'Times New Roman', serif" fill="#222" stroke="#222" stroke-width="0.2">EMT</text>
<rect x="309.5" y="518.4" width="36.3" height="29" fill="#f5b6a8" stroke="#111" stroke-width="1"/>
<text x="329.4" y="540.3" font-size="13.5" font-family="'Liberation Serif', 'Times New Roman', serif" text-anchor="middle" fill="#2a2a2a" letter-spacing="1.2" stroke="#2a2a2a" stroke-width="0.2">*</text>
<text transform="translate(324.3 551.4) rotate(90)" font-size="9.7" font-family="'Liberation Serif', 'Times New Roman', serif" fill="#222" stroke="#222" stroke-width="0.2">Hypoxia</text>
<rect x="345.8" y="518.4" width="36.3" height="29" fill="#fbd7ce" stroke="#111" stroke-width="1"/>
<text transform="translate(360.6 551.4) rotate(90)" font-size="9.7" font-family="'Liberation Serif', 'Times New Roman', serif" fill="#222" stroke="#222" stroke-width="0.2">Inflammation</text>
<rect x="382.1" y="518.4" width="36.3" height="29" fill="#d11f26" stroke="#111" stroke-width="1"/>
<text x="402" y="540.3" font-size="13.5" font-family="'Liberation Serif', 'Times New Roman', serif" text-anchor="middle" fill="#2a2a2a" letter-spacing="1.2" stroke="#2a2a2a" stroke-width="0.2">**</text>
<text transform="translate(396.9 551.4) rotate(90)" font-size="9.7" font-family="'Liberation Serif', 'Times New Roman', serif" fill="#222" stroke="#222" stroke-width="0.2">Invasion</text>
<rect x="418.4" y="518.4" width="36.3" height="29" fill="#e96a5a" stroke="#111" stroke-width="1"/>
<text x="438.3" y="540.3" font-size="13.5" font-family="'Liberation Serif', 'Times New Roman', serif" text-anchor="middle" fill="#2a2a2a" letter-spacing="1.2" stroke="#2a2a2a" stroke-width="0.2">**</text>
<text transform="translate(433.2 551.4) rotate(90)" font-size="9.7" font-family="'Liberation Serif', 'Times New Roman', serif" fill="#222" stroke="#222" stroke-width="0.2">Metastasis</text>
<rect x="454.7" y="518.4" width="36.3" height="29" fill="#f6baac" stroke="#111" stroke-width="1"/>
<text x="474.6" y="540.3" font-size="13.5" font-family="'Liberation Serif', 'Times New Roman', serif" text-anchor="middle" fill="#2a2a2a" letter-spacing="1.2" stroke="#2a2a2a" stroke-width="0.2">*</text>
<text transform="translate(469.5 551.4) rotate(90)" font-size="9.7" font-family="'Liberation Serif', 'Times New Roman', serif" fill="#222" stroke="#222" stroke-width="0.2">Proliferation</text>
<rect x="491" y="518.4" width="36.3" height="29" fill="#f8cdc3" stroke="#111" stroke-width="1"/>
<text transform="translate(505.8 551.4) rotate(90)" font-size="9.7" font-family="'Liberation Serif', 'Times New Roman', serif" fill="#222" stroke="#222" stroke-width="0.2">Quiescence</text>
<rect x="527.3" y="518.4" width="36.3" height="29" fill="#fbdfd8" stroke="#111" stroke-width="1"/>
<text transform="translate(542.1 551.4) rotate(90)" font-size="9.7" font-family="'Liberation Serif', 'Times New Roman', serif" fill="#222" stroke="#222" stroke-width="0.2">Stemness</text>
<path d="M73.5 515.6v2.4M73.5 548v2.4M109.8 515.6v2.4M109.8 548v2.4M146.2 515.6v2.4M146.2 548v2.4M182.4 515.6v2.4M182.4 548v2.4M218.8 515.6v2.4M218.8 548v2.4M255.1 515.6v2.4M255.1 548v2.4M291.3 515.6v2.4M291.3 548v2.4M327.6 515.6v2.4M327.6 548v2.4M363.9 515.6v2.4M363.9 548v2.4M400.2 515.6v2.4M400.2 548v2.4M436.5 515.6v2.4M436.5 548v2.4M472.8 515.6v2.4M472.8 548v2.4M509.1 515.6v2.4M509.1 548v2.4M545.4 515.6v2.4M545.4 548v2.4M52.4 533h2.6M564 533h2.6" stroke="#d0d0d0" stroke-width="0.6" fill="none"/>
<defs><linearGradient id="cg" x1="0" y1="0" x2="0" y2="1"><stop offset="0" stop-color="#d41e20"/><stop offset="0.5" stop-color="#ef8a78"/><stop offset="0.95" stop-color="#fdf5f3"/><stop offset="1" stop-color="#f4f6fb"/></linearGradient></defs>
<rect x="591.4" y="520.6" width="16" height="80.4" fill="url(#cg)"/>
<line x1="591.4" y1="530" x2="594.4" y2="530" stroke="#fff" stroke-width="0.8"/><line x1="604.4" y1="530" x2="607.4" y2="530" stroke="#fff" stroke-width="0.8"/>
<line x1="591.4" y1="552.6" x2="594.4" y2="552.6" stroke="#fff" stroke-width="0.8"/><line x1="604.4" y1="552.6" x2="607.4" y2="552.6" stroke="#fff" stroke-width="0.8"/>
<line x1="591.4" y1="575.4" x2="594.4" y2="575.4" stroke="#fff" stroke-width="0.8"/><line x1="604.4" y1="575.4" x2="607.4" y2="575.4" stroke="#fff" stroke-width="0.8"/>
<line x1="591.4" y1="598" x2="594.4" y2="598" stroke="#fff" stroke-width="0.8"/><line x1="604.4" y1="598" x2="607.4" y2="598" stroke="#fff" stroke-width="0.8"/>
<text x="591.6" y="514.6" font-size="10" font-family="'Liberation Serif', 'Times New Roman', serif" text-anchor="start" fill="#1a1a1a"  stroke="#1a1a1a" stroke-width="0.2">Correlation</text>
<text x="612.4" y="533" font-size="8" font-family="'Liberation Serif', 'Times New Roman', serif" text-anchor="start" fill="#333"  stroke="#333" stroke-width="0.2">0.3</text>
<text x="612.4" y="555.6" font-size="8" font-family="'Liberation Serif', 'Times New Roman', serif" text-anchor="start" fill="#333"  stroke="#333" stroke-width="0.2">0.2</text>
<text x="612.4" y="578.4" font-size="8" font-family="'Liberation Serif', 'Times New Roman', serif" text-anchor="start" fill="#333"  stroke="#333" stroke-width="0.2">0.1</text>
<text x="612.4" y="601" font-size="8" font-family="'Liberation Serif', 'Times New Roman', serif" text-anchor="start" fill="#333"  stroke="#333" stroke-width="0.2">0.0</text>
</svg></body></html>
